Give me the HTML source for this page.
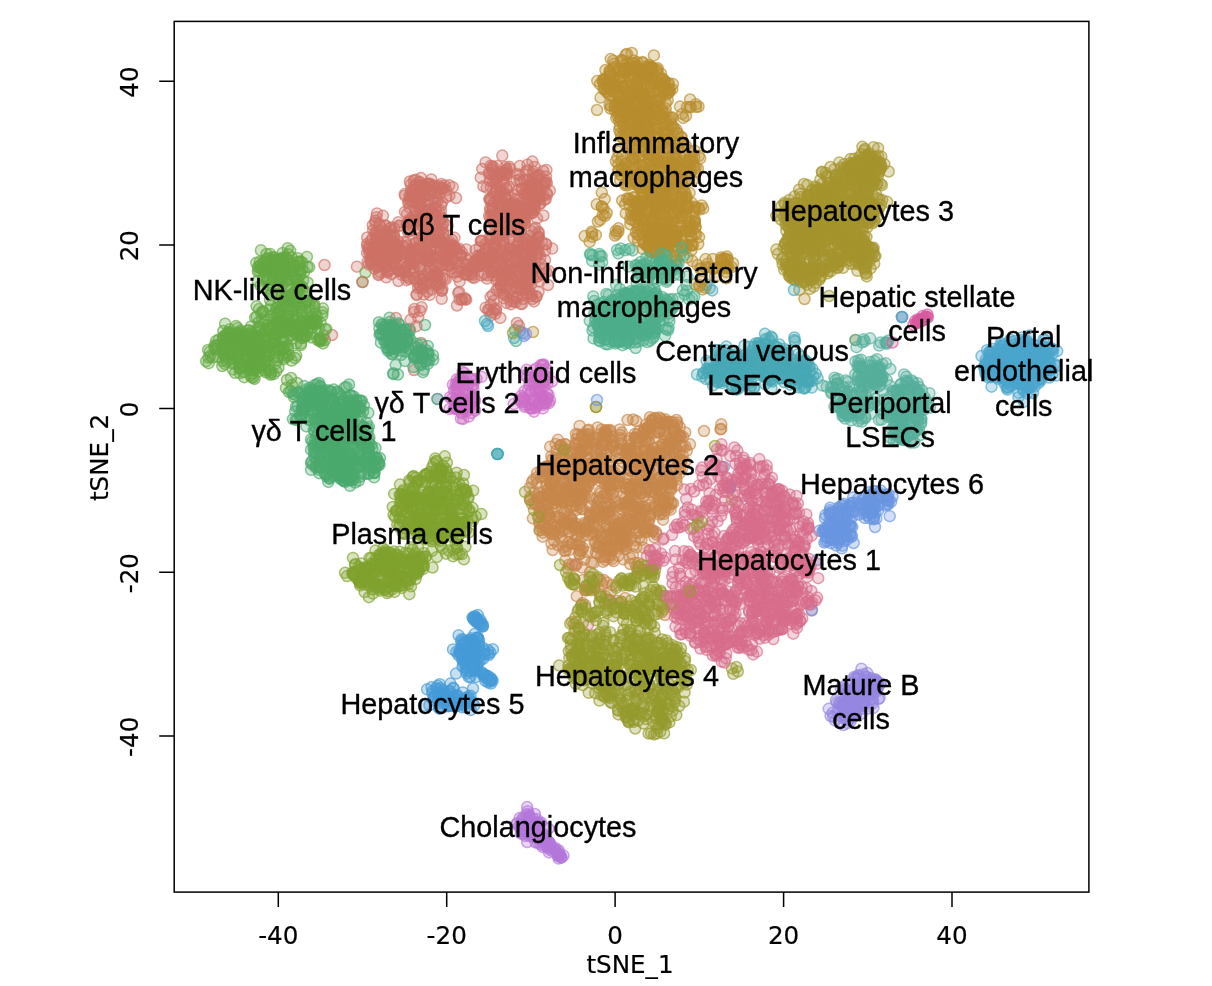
<!DOCTYPE html>
<html lang="en"><head><meta charset="utf-8"><title>tSNE</title>
<style>
html,body{margin:0;padding:0;background:#fff}
svg{display:block}
circle{r:5.5px;stroke-width:1.5px}
.c0{fill:rgba(206,114,102,0.30);stroke:rgba(206,114,102,0.66)}
.c1{fill:rgba(184,141,46,0.30);stroke:rgba(184,141,46,0.66)}
.c2{fill:rgba(166,148,46,0.30);stroke:rgba(166,148,46,0.66)}
.c3{fill:rgba(100,168,65,0.30);stroke:rgba(100,168,65,0.66)}
.c4{fill:rgba(75,170,110,0.30);stroke:rgba(75,170,110,0.66)}
.c5{fill:rgba(75,170,115,0.30);stroke:rgba(75,170,115,0.66)}
.c6{fill:rgba(78,175,140,0.30);stroke:rgba(78,175,140,0.66)}
.c7{fill:rgba(72,168,182,0.30);stroke:rgba(72,168,182,0.66)}
.c8{fill:rgba(85,175,155,0.30);stroke:rgba(85,175,155,0.66)}
.c9{fill:rgba(75,165,205,0.30);stroke:rgba(75,165,205,0.66)}
.c10{fill:rgba(70,155,215,0.30);stroke:rgba(70,155,215,0.66)}
.c11{fill:rgba(105,150,225,0.30);stroke:rgba(105,150,225,0.66)}
.c12{fill:rgba(150,135,225,0.30);stroke:rgba(150,135,225,0.66)}
.c13{fill:rgba(180,120,220,0.30);stroke:rgba(180,120,220,0.66)}
.c14{fill:rgba(205,110,200,0.30);stroke:rgba(205,110,200,0.66)}
.c15{fill:rgba(217,90,160,0.30);stroke:rgba(217,90,160,0.66)}
.c16{fill:rgba(215,110,140,0.30);stroke:rgba(215,110,140,0.66)}
.c17{fill:rgba(200,135,75,0.30);stroke:rgba(200,135,75,0.66)}
.c18{fill:rgba(150,155,45,0.30);stroke:rgba(150,155,45,0.66)}
.c19{fill:rgba(128,163,45,0.30);stroke:rgba(128,163,45,0.66)}
.ax text{font-family:"DejaVu Sans","Liberation Sans",sans-serif;font-size:24.6px;fill:#000;stroke:#000;stroke-width:0.2px}
.lb text{font-family:"Liberation Sans","DejaVu Sans",sans-serif;font-size:28.8px;fill:#000;text-anchor:middle;stroke:#000;stroke-width:0.35px}
</style></head><body>
<svg width="1212" height="986" viewBox="0 0 1212 986">
<rect width="1212" height="986" fill="#fff"/>
<g class="c0">
<circle cx="377.9" cy="265.5" r="5.5"/><circle cx="542.5" cy="274.4" r="5.5"/><circle cx="497.3" cy="174.9" r="5.5"/><circle cx="534.5" cy="202.7" r="5.5"/><circle cx="367.2" cy="237.5" r="5.5"/><circle cx="435.1" cy="214.7" r="5.5"/><circle cx="490.2" cy="238.6" r="5.5"/><circle cx="494.1" cy="308.9" r="5.5"/><circle cx="541.9" cy="241.7" r="5.5"/><circle cx="419.9" cy="240.6" r="5.5"/><circle cx="387.2" cy="242.1" r="5.5"/><circle cx="422.5" cy="186.2" r="5.5"/><circle cx="496.4" cy="246.3" r="5.5"/><circle cx="523.0" cy="299.0" r="5.5"/><circle cx="409.3" cy="222.0" r="5.5"/><circle cx="399.5" cy="225.9" r="5.5"/><circle cx="445.8" cy="259.3" r="5.5"/><circle cx="531.3" cy="283.6" r="5.5"/><circle cx="503.4" cy="246.1" r="5.5"/><circle cx="422.5" cy="288.6" r="5.5"/><circle cx="509.8" cy="168.7" r="5.5"/><circle cx="418.2" cy="317.4" r="5.5"/><circle cx="377.2" cy="250.1" r="5.5"/><circle cx="452.5" cy="259.4" r="5.5"/><circle cx="429.4" cy="227.6" r="5.5"/><circle cx="461.5" cy="299.2" r="5.5"/><circle cx="408.9" cy="271.2" r="5.5"/><circle cx="442.0" cy="187.4" r="5.5"/><circle cx="433.2" cy="198.6" r="5.5"/><circle cx="420.0" cy="209.5" r="5.5"/><circle cx="492.9" cy="275.3" r="5.5"/><circle cx="398.1" cy="270.4" r="5.5"/><circle cx="465.1" cy="299.3" r="5.5"/><circle cx="500.8" cy="285.5" r="5.5"/><circle cx="498.0" cy="228.5" r="5.5"/><circle cx="491.6" cy="272.0" r="5.5"/><circle cx="394.9" cy="244.7" r="5.5"/><circle cx="377.0" cy="261.2" r="5.5"/><circle cx="523.2" cy="258.9" r="5.5"/><circle cx="486.6" cy="266.1" r="5.5"/><circle cx="414.3" cy="186.0" r="5.5"/><circle cx="378.1" cy="256.1" r="5.5"/><circle cx="394.2" cy="228.1" r="5.5"/><circle cx="496.0" cy="310.4" r="5.5"/><circle cx="522.8" cy="240.9" r="5.5"/><circle cx="544.2" cy="199.7" r="5.5"/><circle cx="427.8" cy="261.6" r="5.5"/><circle cx="513.1" cy="217.1" r="5.5"/><circle cx="368.7" cy="248.3" r="5.5"/><circle cx="523.3" cy="264.6" r="5.5"/><circle cx="427.6" cy="280.3" r="5.5"/><circle cx="532.5" cy="247.3" r="5.5"/><circle cx="519.1" cy="284.3" r="5.5"/><circle cx="442.4" cy="288.6" r="5.5"/><circle cx="389.1" cy="259.2" r="5.5"/><circle cx="502.6" cy="240.6" r="5.5"/><circle cx="480.2" cy="257.2" r="5.5"/><circle cx="538.6" cy="232.0" r="5.5"/><circle cx="435.5" cy="267.2" r="5.5"/><circle cx="441.2" cy="241.0" r="5.5"/><circle cx="540.2" cy="257.8" r="5.5"/><circle cx="525.5" cy="288.9" r="5.5"/><circle cx="490.3" cy="217.4" r="5.5"/><circle cx="486.8" cy="263.0" r="5.5"/><circle cx="514.2" cy="204.9" r="5.5"/><circle cx="520.8" cy="182.3" r="5.5"/><circle cx="391.1" cy="235.2" r="5.5"/><circle cx="529.6" cy="213.7" r="5.5"/><circle cx="383.6" cy="252.0" r="5.5"/><circle cx="536.6" cy="176.5" r="5.5"/><circle cx="509.3" cy="265.4" r="5.5"/><circle cx="539.5" cy="281.2" r="5.5"/><circle cx="543.2" cy="195.6" r="5.5"/><circle cx="427.8" cy="184.2" r="5.5"/><circle cx="545.8" cy="244.2" r="5.5"/><circle cx="378.4" cy="240.2" r="5.5"/><circle cx="508.3" cy="208.0" r="5.5"/><circle cx="535.1" cy="268.9" r="5.5"/><circle cx="507.2" cy="254.4" r="5.5"/><circle cx="509.9" cy="249.1" r="5.5"/><circle cx="411.2" cy="249.7" r="5.5"/><circle cx="533.9" cy="244.9" r="5.5"/><circle cx="489.9" cy="236.9" r="5.5"/><circle cx="408.9" cy="221.5" r="5.5"/><circle cx="532.1" cy="213.1" r="5.5"/><circle cx="530.5" cy="184.8" r="5.5"/><circle cx="528.3" cy="192.0" r="5.5"/><circle cx="376.3" cy="255.0" r="5.5"/><circle cx="537.4" cy="193.4" r="5.5"/><circle cx="444.7" cy="185.4" r="5.5"/><circle cx="501.1" cy="285.4" r="5.5"/><circle cx="492.3" cy="219.8" r="5.5"/><circle cx="356.9" cy="266.7" r="5.5"/><circle cx="385.9" cy="241.8" r="5.5"/><circle cx="451.7" cy="251.3" r="5.5"/><circle cx="405.7" cy="275.5" r="5.5"/><circle cx="525.8" cy="203.0" r="5.5"/><circle cx="442.2" cy="228.9" r="5.5"/><circle cx="375.4" cy="241.5" r="5.5"/><circle cx="428.8" cy="239.0" r="5.5"/><circle cx="373.5" cy="248.7" r="5.5"/><circle cx="459.1" cy="291.9" r="5.5"/><circle cx="397.6" cy="241.0" r="5.5"/><circle cx="532.4" cy="299.0" r="5.5"/><circle cx="391.1" cy="244.2" r="5.5"/><circle cx="426.5" cy="223.5" r="5.5"/><circle cx="531.8" cy="188.6" r="5.5"/><circle cx="389.4" cy="241.1" r="5.5"/><circle cx="391.1" cy="227.5" r="5.5"/><circle cx="411.2" cy="190.2" r="5.5"/><circle cx="487.6" cy="257.8" r="5.5"/><circle cx="419.0" cy="249.4" r="5.5"/><circle cx="475.7" cy="249.9" r="5.5"/><circle cx="386.7" cy="253.0" r="5.5"/><circle cx="442.0" cy="290.8" r="5.5"/><circle cx="544.1" cy="182.3" r="5.5"/><circle cx="428.0" cy="195.0" r="5.5"/><circle cx="460.6" cy="255.2" r="5.5"/><circle cx="434.7" cy="276.0" r="5.5"/><circle cx="421.8" cy="224.8" r="5.5"/><circle cx="517.7" cy="230.1" r="5.5"/><circle cx="437.4" cy="255.0" r="5.5"/><circle cx="487.8" cy="275.6" r="5.5"/><circle cx="375.8" cy="266.9" r="5.5"/><circle cx="536.6" cy="188.0" r="5.5"/><circle cx="434.7" cy="273.3" r="5.5"/><circle cx="505.7" cy="295.6" r="5.5"/><circle cx="467.9" cy="260.7" r="5.5"/><circle cx="516.6" cy="180.6" r="5.5"/><circle cx="460.7" cy="254.8" r="5.5"/><circle cx="450.3" cy="242.3" r="5.5"/><circle cx="388.4" cy="269.6" r="5.5"/><circle cx="419.7" cy="182.1" r="5.5"/><circle cx="524.5" cy="221.7" r="5.5"/><circle cx="375.7" cy="259.0" r="5.5"/><circle cx="538.6" cy="276.2" r="5.5"/><circle cx="388.1" cy="257.3" r="5.5"/><circle cx="540.9" cy="264.2" r="5.5"/><circle cx="528.1" cy="179.5" r="5.5"/><circle cx="523.1" cy="215.5" r="5.5"/><circle cx="431.3" cy="179.5" r="5.5"/><circle cx="415.3" cy="243.0" r="5.5"/><circle cx="489.3" cy="199.1" r="5.5"/><circle cx="496.5" cy="280.5" r="5.5"/><circle cx="479.6" cy="247.4" r="5.5"/><circle cx="489.1" cy="172.8" r="5.5"/><circle cx="491.7" cy="257.4" r="5.5"/><circle cx="536.7" cy="195.3" r="5.5"/><circle cx="531.4" cy="181.7" r="5.5"/><circle cx="503.9" cy="272.1" r="5.5"/><circle cx="409.5" cy="207.4" r="5.5"/><circle cx="388.2" cy="250.5" r="5.5"/><circle cx="433.9" cy="185.5" r="5.5"/><circle cx="499.1" cy="271.4" r="5.5"/><circle cx="445.3" cy="256.9" r="5.5"/><circle cx="382.0" cy="257.8" r="5.5"/><circle cx="442.8" cy="232.2" r="5.5"/><circle cx="531.0" cy="251.1" r="5.5"/><circle cx="419.8" cy="208.6" r="5.5"/><circle cx="452.9" cy="259.1" r="5.5"/><circle cx="374.0" cy="247.1" r="5.5"/><circle cx="517.6" cy="287.7" r="5.5"/><circle cx="421.6" cy="219.8" r="5.5"/><circle cx="536.5" cy="257.0" r="5.5"/><circle cx="422.0" cy="185.3" r="5.5"/><circle cx="449.4" cy="195.6" r="5.5"/><circle cx="497.3" cy="165.9" r="5.5"/><circle cx="488.1" cy="261.7" r="5.5"/><circle cx="547.1" cy="194.7" r="5.5"/><circle cx="445.7" cy="279.4" r="5.5"/><circle cx="507.9" cy="279.9" r="5.5"/><circle cx="441.9" cy="243.6" r="5.5"/><circle cx="445.9" cy="244.9" r="5.5"/><circle cx="504.1" cy="276.1" r="5.5"/><circle cx="425.2" cy="233.9" r="5.5"/><circle cx="462.5" cy="262.5" r="5.5"/><circle cx="520.9" cy="250.9" r="5.5"/><circle cx="511.4" cy="219.4" r="5.5"/><circle cx="518.6" cy="243.4" r="5.5"/><circle cx="503.5" cy="251.0" r="5.5"/><circle cx="487.9" cy="310.1" r="5.5"/><circle cx="427.4" cy="291.6" r="5.5"/><circle cx="441.7" cy="242.4" r="5.5"/><circle cx="392.7" cy="251.4" r="5.5"/><circle cx="385.8" cy="240.7" r="5.5"/><circle cx="423.5" cy="186.4" r="5.5"/><circle cx="379.3" cy="224.0" r="5.5"/><circle cx="426.6" cy="251.8" r="5.5"/><circle cx="509.6" cy="276.5" r="5.5"/><circle cx="508.6" cy="226.0" r="5.5"/><circle cx="417.7" cy="219.5" r="5.5"/><circle cx="492.3" cy="205.8" r="5.5"/><circle cx="490.5" cy="227.8" r="5.5"/><circle cx="520.6" cy="222.0" r="5.5"/><circle cx="519.4" cy="271.5" r="5.5"/><circle cx="516.5" cy="268.7" r="5.5"/><circle cx="526.0" cy="289.2" r="5.5"/><circle cx="479.3" cy="266.5" r="5.5"/><circle cx="429.0" cy="255.4" r="5.5"/><circle cx="439.6" cy="240.8" r="5.5"/><circle cx="483.6" cy="263.6" r="5.5"/><circle cx="464.7" cy="298.0" r="5.5"/><circle cx="378.2" cy="240.3" r="5.5"/><circle cx="504.0" cy="243.2" r="5.5"/><circle cx="406.6" cy="224.5" r="5.5"/><circle cx="386.3" cy="261.8" r="5.5"/><circle cx="429.9" cy="234.3" r="5.5"/><circle cx="501.3" cy="201.1" r="5.5"/><circle cx="376.5" cy="254.5" r="5.5"/><circle cx="439.0" cy="234.0" r="5.5"/><circle cx="406.3" cy="254.3" r="5.5"/><circle cx="387.6" cy="253.7" r="5.5"/><circle cx="506.1" cy="276.1" r="5.5"/><circle cx="436.1" cy="274.0" r="5.5"/><circle cx="529.6" cy="235.9" r="5.5"/><circle cx="430.5" cy="238.9" r="5.5"/><circle cx="506.4" cy="175.0" r="5.5"/><circle cx="513.3" cy="280.7" r="5.5"/><circle cx="381.8" cy="257.7" r="5.5"/><circle cx="423.5" cy="234.7" r="5.5"/><circle cx="398.1" cy="246.4" r="5.5"/><circle cx="441.0" cy="205.3" r="5.5"/><circle cx="413.7" cy="278.3" r="5.5"/><circle cx="524.7" cy="214.3" r="5.5"/><circle cx="452.4" cy="272.3" r="5.5"/><circle cx="525.7" cy="210.8" r="5.5"/><circle cx="531.9" cy="294.7" r="5.5"/><circle cx="406.8" cy="266.7" r="5.5"/><circle cx="393.8" cy="235.7" r="5.5"/><circle cx="483.7" cy="257.8" r="5.5"/><circle cx="434.3" cy="270.5" r="5.5"/><circle cx="498.7" cy="288.3" r="5.5"/><circle cx="459.7" cy="281.3" r="5.5"/><circle cx="416.6" cy="185.2" r="5.5"/><circle cx="383.0" cy="257.0" r="5.5"/><circle cx="474.6" cy="260.9" r="5.5"/><circle cx="429.4" cy="243.5" r="5.5"/><circle cx="510.5" cy="300.8" r="5.5"/><circle cx="402.9" cy="246.1" r="5.5"/><circle cx="423.3" cy="216.6" r="5.5"/><circle cx="410.3" cy="196.5" r="5.5"/><circle cx="414.9" cy="259.1" r="5.5"/><circle cx="521.9" cy="215.7" r="5.5"/><circle cx="414.0" cy="370.0" r="5.5"/><circle cx="525.5" cy="239.3" r="5.5"/><circle cx="465.8" cy="258.0" r="5.5"/><circle cx="497.6" cy="203.9" r="5.5"/><circle cx="456.0" cy="198.0" r="5.5"/><circle cx="392.2" cy="242.0" r="5.5"/><circle cx="519.5" cy="175.0" r="5.5"/><circle cx="369.5" cy="253.2" r="5.5"/><circle cx="509.3" cy="204.8" r="5.5"/><circle cx="442.2" cy="202.2" r="5.5"/><circle cx="437.3" cy="217.0" r="5.5"/><circle cx="485.6" cy="307.7" r="5.5"/><circle cx="437.7" cy="233.7" r="5.5"/><circle cx="527.8" cy="192.7" r="5.5"/><circle cx="506.7" cy="215.8" r="5.5"/><circle cx="502.9" cy="179.9" r="5.5"/><circle cx="386.8" cy="259.4" r="5.5"/><circle cx="506.5" cy="187.7" r="5.5"/><circle cx="502.7" cy="260.2" r="5.5"/><circle cx="546.8" cy="183.1" r="5.5"/><circle cx="435.6" cy="283.4" r="5.5"/><circle cx="503.5" cy="223.2" r="5.5"/><circle cx="523.7" cy="243.3" r="5.5"/><circle cx="393.2" cy="242.9" r="5.5"/><circle cx="503.5" cy="202.3" r="5.5"/><circle cx="526.2" cy="261.8" r="5.5"/><circle cx="516.2" cy="288.0" r="5.5"/><circle cx="490.1" cy="208.4" r="5.5"/><circle cx="543.4" cy="186.8" r="5.5"/><circle cx="388.6" cy="240.4" r="5.5"/><circle cx="389.6" cy="253.8" r="5.5"/><circle cx="415.3" cy="248.3" r="5.5"/><circle cx="427.9" cy="228.3" r="5.5"/><circle cx="492.7" cy="209.9" r="5.5"/><circle cx="397.2" cy="256.9" r="5.5"/><circle cx="507.4" cy="272.2" r="5.5"/><circle cx="437.6" cy="233.8" r="5.5"/><circle cx="503.9" cy="294.1" r="5.5"/><circle cx="424.7" cy="211.6" r="5.5"/><circle cx="512.2" cy="280.5" r="5.5"/><circle cx="419.6" cy="284.9" r="5.5"/><circle cx="504.5" cy="256.4" r="5.5"/><circle cx="419.2" cy="251.0" r="5.5"/><circle cx="491.6" cy="235.4" r="5.5"/><circle cx="412.5" cy="195.1" r="5.5"/><circle cx="459.5" cy="299.5" r="5.5"/><circle cx="396.0" cy="259.0" r="5.5"/><circle cx="426.6" cy="240.5" r="5.5"/><circle cx="416.8" cy="295.1" r="5.5"/><circle cx="507.3" cy="209.7" r="5.5"/><circle cx="407.4" cy="265.4" r="5.5"/><circle cx="437.1" cy="285.2" r="5.5"/><circle cx="430.7" cy="251.9" r="5.5"/><circle cx="489.2" cy="309.8" r="5.5"/><circle cx="435.1" cy="203.3" r="5.5"/><circle cx="536.5" cy="296.3" r="5.5"/><circle cx="516.3" cy="297.0" r="5.5"/><circle cx="375.3" cy="252.7" r="5.5"/><circle cx="419.9" cy="268.6" r="5.5"/><circle cx="324.5" cy="265.0" r="5.5"/><circle cx="496.7" cy="290.0" r="5.5"/><circle cx="495.2" cy="243.0" r="5.5"/><circle cx="418.8" cy="238.8" r="5.5"/><circle cx="468.5" cy="270.5" r="5.5"/><circle cx="421.0" cy="279.5" r="5.5"/><circle cx="414.1" cy="267.3" r="5.5"/><circle cx="404.0" cy="269.8" r="5.5"/><circle cx="494.0" cy="300.7" r="5.5"/><circle cx="500.1" cy="187.2" r="5.5"/><circle cx="546.6" cy="193.0" r="5.5"/><circle cx="527.0" cy="207.8" r="5.5"/><circle cx="510.3" cy="247.3" r="5.5"/><circle cx="522.5" cy="253.5" r="5.5"/><circle cx="490.8" cy="210.1" r="5.5"/><circle cx="535.4" cy="227.7" r="5.5"/><circle cx="420.9" cy="197.8" r="5.5"/><circle cx="536.3" cy="296.8" r="5.5"/><circle cx="375.5" cy="220.7" r="5.5"/><circle cx="512.7" cy="269.5" r="5.5"/><circle cx="489.3" cy="248.9" r="5.5"/><circle cx="391.0" cy="262.6" r="5.5"/><circle cx="368.9" cy="246.9" r="5.5"/><circle cx="433.0" cy="254.8" r="5.5"/><circle cx="496.0" cy="187.3" r="5.5"/><circle cx="409.7" cy="199.8" r="5.5"/><circle cx="486.8" cy="263.6" r="5.5"/><circle cx="443.0" cy="265.3" r="5.5"/><circle cx="512.5" cy="214.7" r="5.5"/><circle cx="382.1" cy="241.7" r="5.5"/><circle cx="525.9" cy="245.3" r="5.5"/><circle cx="459.8" cy="268.4" r="5.5"/><circle cx="474.4" cy="266.3" r="5.5"/><circle cx="527.2" cy="186.1" r="5.5"/><circle cx="517.2" cy="219.8" r="5.5"/><circle cx="415.9" cy="211.2" r="5.5"/><circle cx="428.4" cy="183.4" r="5.5"/><circle cx="490.6" cy="165.8" r="5.5"/><circle cx="426.8" cy="237.6" r="5.5"/><circle cx="372.8" cy="225.2" r="5.5"/><circle cx="504.0" cy="182.8" r="5.5"/><circle cx="431.9" cy="212.0" r="5.5"/><circle cx="522.1" cy="188.7" r="5.5"/><circle cx="428.0" cy="257.1" r="5.5"/><circle cx="510.2" cy="270.9" r="5.5"/><circle cx="534.0" cy="194.7" r="5.5"/><circle cx="529.1" cy="247.2" r="5.5"/><circle cx="421.1" cy="221.6" r="5.5"/><circle cx="378.5" cy="275.2" r="5.5"/><circle cx="421.6" cy="307.2" r="5.5"/><circle cx="472.8" cy="270.9" r="5.5"/><circle cx="504.0" cy="212.3" r="5.5"/><circle cx="521.6" cy="203.1" r="5.5"/>
</g>
<g class="c1">
<circle cx="653.9" cy="235.9" r="5.5"/><circle cx="623.7" cy="100.6" r="5.5"/><circle cx="648.4" cy="73.2" r="5.5"/><circle cx="615.9" cy="103.6" r="5.5"/><circle cx="619.4" cy="109.6" r="5.5"/><circle cx="693.4" cy="214.6" r="5.5"/><circle cx="656.8" cy="129.1" r="5.5"/><circle cx="688.4" cy="207.5" r="5.5"/><circle cx="657.0" cy="148.2" r="5.5"/><circle cx="620.6" cy="133.0" r="5.5"/><circle cx="658.7" cy="193.0" r="5.5"/><circle cx="618.3" cy="164.3" r="5.5"/><circle cx="617.4" cy="110.7" r="5.5"/><circle cx="617.4" cy="157.8" r="5.5"/><circle cx="626.3" cy="103.6" r="5.5"/><circle cx="663.3" cy="113.6" r="5.5"/><circle cx="665.8" cy="108.6" r="5.5"/><circle cx="671.2" cy="117.6" r="5.5"/><circle cx="661.9" cy="110.6" r="5.5"/><circle cx="597.3" cy="80.9" r="5.5"/><circle cx="649.3" cy="239.9" r="5.5"/><circle cx="627.4" cy="175.6" r="5.5"/><circle cx="681.6" cy="218.1" r="5.5"/><circle cx="685.3" cy="192.8" r="5.5"/><circle cx="643.5" cy="73.5" r="5.5"/><circle cx="661.5" cy="145.5" r="5.5"/><circle cx="672.5" cy="117.4" r="5.5"/><circle cx="639.0" cy="114.0" r="5.5"/><circle cx="640.9" cy="126.3" r="5.5"/><circle cx="657.4" cy="142.9" r="5.5"/><circle cx="601.7" cy="206.6" r="5.5"/><circle cx="632.4" cy="89.3" r="5.5"/><circle cx="624.1" cy="117.5" r="5.5"/><circle cx="670.3" cy="204.9" r="5.5"/><circle cx="644.0" cy="109.8" r="5.5"/><circle cx="721.2" cy="257.5" r="5.5"/><circle cx="623.7" cy="131.7" r="5.5"/><circle cx="647.2" cy="203.9" r="5.5"/><circle cx="647.8" cy="153.8" r="5.5"/><circle cx="699.1" cy="237.1" r="5.5"/><circle cx="677.2" cy="235.7" r="5.5"/><circle cx="623.3" cy="75.4" r="5.5"/><circle cx="648.3" cy="70.6" r="5.5"/><circle cx="673.4" cy="142.3" r="5.5"/><circle cx="668.0" cy="166.0" r="5.5"/><circle cx="651.8" cy="114.4" r="5.5"/><circle cx="622.4" cy="102.8" r="5.5"/><circle cx="690.8" cy="235.9" r="5.5"/><circle cx="666.4" cy="227.8" r="5.5"/><circle cx="643.7" cy="134.9" r="5.5"/><circle cx="650.9" cy="86.1" r="5.5"/><circle cx="698.5" cy="106.5" r="5.5"/><circle cx="642.6" cy="63.1" r="5.5"/><circle cx="644.0" cy="170.5" r="5.5"/><circle cx="715.6" cy="267.8" r="5.5"/><circle cx="636.1" cy="203.4" r="5.5"/><circle cx="664.8" cy="88.8" r="5.5"/><circle cx="669.8" cy="89.1" r="5.5"/><circle cx="656.2" cy="210.7" r="5.5"/><circle cx="661.9" cy="141.9" r="5.5"/><circle cx="676.4" cy="129.6" r="5.5"/><circle cx="687.3" cy="257.5" r="5.5"/><circle cx="721.3" cy="259.4" r="5.5"/><circle cx="648.6" cy="198.7" r="5.5"/><circle cx="644.6" cy="182.9" r="5.5"/><circle cx="722.0" cy="267.6" r="5.5"/><circle cx="654.1" cy="91.6" r="5.5"/><circle cx="662.1" cy="198.2" r="5.5"/><circle cx="681.0" cy="206.1" r="5.5"/><circle cx="694.8" cy="223.2" r="5.5"/><circle cx="639.7" cy="164.9" r="5.5"/><circle cx="676.5" cy="236.3" r="5.5"/><circle cx="668.8" cy="245.5" r="5.5"/><circle cx="684.0" cy="191.7" r="5.5"/><circle cx="639.0" cy="235.1" r="5.5"/><circle cx="681.3" cy="216.0" r="5.5"/><circle cx="681.5" cy="137.0" r="5.5"/><circle cx="662.8" cy="209.0" r="5.5"/><circle cx="642.3" cy="145.4" r="5.5"/><circle cx="643.5" cy="227.4" r="5.5"/><circle cx="654.3" cy="218.8" r="5.5"/><circle cx="633.7" cy="196.9" r="5.5"/><circle cx="727.6" cy="259.4" r="5.5"/><circle cx="725.6" cy="265.9" r="5.5"/><circle cx="620.9" cy="82.4" r="5.5"/><circle cx="646.3" cy="164.3" r="5.5"/><circle cx="649.0" cy="104.1" r="5.5"/><circle cx="647.0" cy="141.3" r="5.5"/><circle cx="670.9" cy="138.8" r="5.5"/><circle cx="613.0" cy="97.7" r="5.5"/><circle cx="621.4" cy="60.2" r="5.5"/><circle cx="628.0" cy="114.2" r="5.5"/><circle cx="634.1" cy="114.2" r="5.5"/><circle cx="674.9" cy="152.2" r="5.5"/><circle cx="664.6" cy="197.5" r="5.5"/><circle cx="645.7" cy="230.7" r="5.5"/><circle cx="669.8" cy="202.3" r="5.5"/><circle cx="623.5" cy="167.5" r="5.5"/><circle cx="680.4" cy="141.5" r="5.5"/><circle cx="628.5" cy="113.7" r="5.5"/><circle cx="679.1" cy="217.8" r="5.5"/><circle cx="669.8" cy="240.0" r="5.5"/><circle cx="600.0" cy="84.2" r="5.5"/><circle cx="672.2" cy="242.1" r="5.5"/><circle cx="637.3" cy="62.3" r="5.5"/><circle cx="628.8" cy="106.7" r="5.5"/><circle cx="692.8" cy="161.9" r="5.5"/><circle cx="607.5" cy="85.9" r="5.5"/><circle cx="630.4" cy="154.3" r="5.5"/><circle cx="650.6" cy="170.8" r="5.5"/><circle cx="533.0" cy="332.0" r="5.5"/><circle cx="675.7" cy="240.7" r="5.5"/><circle cx="668.0" cy="84.1" r="5.5"/><circle cx="721.5" cy="266.7" r="5.5"/><circle cx="855.5" cy="340.0" r="5.5"/><circle cx="672.2" cy="202.1" r="5.5"/><circle cx="663.5" cy="132.6" r="5.5"/><circle cx="695.9" cy="104.3" r="5.5"/><circle cx="679.4" cy="148.8" r="5.5"/><circle cx="701.6" cy="205.4" r="5.5"/><circle cx="657.8" cy="68.3" r="5.5"/><circle cx="655.1" cy="80.2" r="5.5"/><circle cx="664.1" cy="181.0" r="5.5"/><circle cx="681.5" cy="193.6" r="5.5"/><circle cx="651.2" cy="66.8" r="5.5"/><circle cx="677.8" cy="133.5" r="5.5"/><circle cx="637.5" cy="114.7" r="5.5"/><circle cx="635.9" cy="104.5" r="5.5"/><circle cx="671.9" cy="162.4" r="5.5"/><circle cx="642.6" cy="217.5" r="5.5"/><circle cx="636.3" cy="203.6" r="5.5"/><circle cx="635.2" cy="127.6" r="5.5"/><circle cx="644.1" cy="168.7" r="5.5"/><circle cx="637.8" cy="212.2" r="5.5"/><circle cx="654.8" cy="138.9" r="5.5"/><circle cx="632.3" cy="128.4" r="5.5"/><circle cx="624.3" cy="69.9" r="5.5"/><circle cx="656.5" cy="207.6" r="5.5"/><circle cx="665.4" cy="189.0" r="5.5"/><circle cx="665.2" cy="81.6" r="5.5"/><circle cx="673.2" cy="236.1" r="5.5"/><circle cx="642.3" cy="150.8" r="5.5"/><circle cx="722.4" cy="259.3" r="5.5"/><circle cx="651.4" cy="78.8" r="5.5"/><circle cx="632.5" cy="157.2" r="5.5"/><circle cx="651.2" cy="87.0" r="5.5"/><circle cx="680.9" cy="202.9" r="5.5"/><circle cx="625.1" cy="204.2" r="5.5"/><circle cx="641.0" cy="131.6" r="5.5"/><circle cx="659.1" cy="231.5" r="5.5"/><circle cx="630.3" cy="224.3" r="5.5"/><circle cx="620.5" cy="174.6" r="5.5"/><circle cx="694.3" cy="206.7" r="5.5"/><circle cx="700.3" cy="269.0" r="5.5"/><circle cx="658.5" cy="160.6" r="5.5"/><circle cx="627.3" cy="135.7" r="5.5"/><circle cx="659.3" cy="224.8" r="5.5"/><circle cx="614.3" cy="86.7" r="5.5"/><circle cx="650.2" cy="71.5" r="5.5"/><circle cx="640.5" cy="201.4" r="5.5"/><circle cx="654.2" cy="156.2" r="5.5"/><circle cx="635.3" cy="107.0" r="5.5"/><circle cx="603.8" cy="78.8" r="5.5"/><circle cx="637.6" cy="89.6" r="5.5"/><circle cx="662.4" cy="87.0" r="5.5"/><circle cx="650.0" cy="237.3" r="5.5"/><circle cx="625.6" cy="54.8" r="5.5"/><circle cx="596.0" cy="407.0" r="5.5"/><circle cx="653.6" cy="248.0" r="5.5"/><circle cx="629.5" cy="105.2" r="5.5"/><circle cx="707.7" cy="263.7" r="5.5"/><circle cx="673.5" cy="156.3" r="5.5"/><circle cx="613.9" cy="84.9" r="5.5"/><circle cx="643.1" cy="241.7" r="5.5"/><circle cx="694.3" cy="157.5" r="5.5"/><circle cx="646.5" cy="201.8" r="5.5"/><circle cx="652.0" cy="106.4" r="5.5"/><circle cx="657.5" cy="181.1" r="5.5"/><circle cx="647.8" cy="112.5" r="5.5"/><circle cx="651.0" cy="167.9" r="5.5"/><circle cx="650.9" cy="222.8" r="5.5"/><circle cx="667.1" cy="242.3" r="5.5"/><circle cx="613.2" cy="60.7" r="5.5"/><circle cx="649.6" cy="218.5" r="5.5"/><circle cx="630.1" cy="124.6" r="5.5"/><circle cx="642.1" cy="220.8" r="5.5"/><circle cx="681.6" cy="183.4" r="5.5"/><circle cx="695.0" cy="233.4" r="5.5"/><circle cx="653.8" cy="83.4" r="5.5"/><circle cx="625.3" cy="122.9" r="5.5"/><circle cx="635.4" cy="140.7" r="5.5"/><circle cx="654.2" cy="203.1" r="5.5"/><circle cx="656.9" cy="205.6" r="5.5"/><circle cx="620.2" cy="180.2" r="5.5"/><circle cx="623.3" cy="125.1" r="5.5"/><circle cx="657.7" cy="133.1" r="5.5"/><circle cx="655.0" cy="213.3" r="5.5"/><circle cx="669.4" cy="120.8" r="5.5"/><circle cx="657.5" cy="203.5" r="5.5"/><circle cx="645.9" cy="107.3" r="5.5"/><circle cx="656.0" cy="206.7" r="5.5"/><circle cx="672.0" cy="229.6" r="5.5"/><circle cx="637.8" cy="126.9" r="5.5"/><circle cx="639.2" cy="187.6" r="5.5"/><circle cx="646.5" cy="148.1" r="5.5"/><circle cx="666.3" cy="164.2" r="5.5"/><circle cx="642.0" cy="75.4" r="5.5"/><circle cx="637.3" cy="140.4" r="5.5"/><circle cx="685.9" cy="216.2" r="5.5"/><circle cx="651.7" cy="79.3" r="5.5"/><circle cx="605.0" cy="215.8" r="5.5"/><circle cx="725.9" cy="268.0" r="5.5"/><circle cx="618.2" cy="171.0" r="5.5"/><circle cx="650.2" cy="160.7" r="5.5"/><circle cx="649.8" cy="186.9" r="5.5"/><circle cx="660.8" cy="79.3" r="5.5"/><circle cx="636.7" cy="154.4" r="5.5"/><circle cx="673.8" cy="163.6" r="5.5"/><circle cx="625.6" cy="85.9" r="5.5"/><circle cx="678.6" cy="213.4" r="5.5"/><circle cx="641.9" cy="196.3" r="5.5"/><circle cx="696.1" cy="107.1" r="5.5"/><circle cx="644.4" cy="150.2" r="5.5"/><circle cx="668.1" cy="125.5" r="5.5"/><circle cx="655.9" cy="223.6" r="5.5"/><circle cx="645.1" cy="243.5" r="5.5"/><circle cx="629.1" cy="76.0" r="5.5"/><circle cx="664.0" cy="132.3" r="5.5"/><circle cx="661.6" cy="204.8" r="5.5"/><circle cx="639.4" cy="201.3" r="5.5"/><circle cx="634.5" cy="177.6" r="5.5"/><circle cx="634.3" cy="157.9" r="5.5"/><circle cx="670.5" cy="180.6" r="5.5"/><circle cx="666.0" cy="244.6" r="5.5"/><circle cx="605.5" cy="70.0" r="5.5"/><circle cx="617.3" cy="107.6" r="5.5"/><circle cx="667.8" cy="237.3" r="5.5"/><circle cx="644.1" cy="243.5" r="5.5"/><circle cx="666.3" cy="121.3" r="5.5"/><circle cx="642.0" cy="71.4" r="5.5"/><circle cx="649.5" cy="211.3" r="5.5"/><circle cx="690.9" cy="224.6" r="5.5"/><circle cx="638.9" cy="87.8" r="5.5"/><circle cx="640.5" cy="72.5" r="5.5"/><circle cx="665.4" cy="112.7" r="5.5"/><circle cx="647.4" cy="226.5" r="5.5"/><circle cx="610.8" cy="58.9" r="5.5"/><circle cx="647.5" cy="132.2" r="5.5"/><circle cx="648.5" cy="153.5" r="5.5"/><circle cx="654.4" cy="183.6" r="5.5"/><circle cx="633.1" cy="101.7" r="5.5"/><circle cx="685.9" cy="248.3" r="5.5"/><circle cx="668.4" cy="92.5" r="5.5"/><circle cx="676.3" cy="158.3" r="5.5"/><circle cx="648.4" cy="114.2" r="5.5"/><circle cx="629.2" cy="121.5" r="5.5"/><circle cx="685.8" cy="212.3" r="5.5"/><circle cx="634.2" cy="129.8" r="5.5"/><circle cx="657.5" cy="94.5" r="5.5"/><circle cx="686.2" cy="231.8" r="5.5"/><circle cx="648.6" cy="239.6" r="5.5"/><circle cx="639.5" cy="142.7" r="5.5"/><circle cx="674.1" cy="213.1" r="5.5"/><circle cx="633.3" cy="96.9" r="5.5"/><circle cx="665.5" cy="241.8" r="5.5"/><circle cx="676.8" cy="179.8" r="5.5"/><circle cx="642.7" cy="93.7" r="5.5"/><circle cx="639.8" cy="93.7" r="5.5"/><circle cx="643.9" cy="134.1" r="5.5"/><circle cx="642.1" cy="201.6" r="5.5"/><circle cx="681.9" cy="211.3" r="5.5"/><circle cx="626.0" cy="172.2" r="5.5"/><circle cx="584.7" cy="236.1" r="5.5"/><circle cx="643.5" cy="107.2" r="5.5"/><circle cx="655.8" cy="109.7" r="5.5"/><circle cx="654.6" cy="145.2" r="5.5"/><circle cx="636.3" cy="95.3" r="5.5"/><circle cx="662.6" cy="193.8" r="5.5"/><circle cx="694.8" cy="172.0" r="5.5"/><circle cx="688.1" cy="160.6" r="5.5"/><circle cx="632.9" cy="159.3" r="5.5"/><circle cx="619.8" cy="126.7" r="5.5"/><circle cx="692.4" cy="180.6" r="5.5"/><circle cx="658.2" cy="237.6" r="5.5"/><circle cx="592.2" cy="233.3" r="5.5"/><circle cx="649.8" cy="132.6" r="5.5"/><circle cx="672.2" cy="246.3" r="5.5"/><circle cx="661.3" cy="244.6" r="5.5"/><circle cx="672.2" cy="89.2" r="5.5"/><circle cx="677.5" cy="182.5" r="5.5"/><circle cx="645.4" cy="177.2" r="5.5"/><circle cx="613.3" cy="78.7" r="5.5"/><circle cx="625.5" cy="134.1" r="5.5"/><circle cx="653.6" cy="69.1" r="5.5"/><circle cx="647.4" cy="229.0" r="5.5"/><circle cx="674.2" cy="231.2" r="5.5"/><circle cx="648.7" cy="67.1" r="5.5"/><circle cx="671.5" cy="203.9" r="5.5"/><circle cx="675.3" cy="163.3" r="5.5"/><circle cx="646.6" cy="98.1" r="5.5"/><circle cx="660.5" cy="214.5" r="5.5"/><circle cx="642.9" cy="119.0" r="5.5"/><circle cx="614.1" cy="63.7" r="5.5"/><circle cx="663.7" cy="176.3" r="5.5"/><circle cx="630.7" cy="101.0" r="5.5"/><circle cx="659.2" cy="83.1" r="5.5"/><circle cx="703.2" cy="208.4" r="5.5"/><circle cx="683.7" cy="170.4" r="5.5"/><circle cx="677.4" cy="166.8" r="5.5"/><circle cx="726.8" cy="267.0" r="5.5"/><circle cx="667.1" cy="129.8" r="5.5"/><circle cx="611.0" cy="105.8" r="5.5"/><circle cx="639.0" cy="156.6" r="5.5"/><circle cx="644.9" cy="115.6" r="5.5"/><circle cx="622.4" cy="110.8" r="5.5"/><circle cx="647.8" cy="246.7" r="5.5"/><circle cx="620.6" cy="87.0" r="5.5"/><circle cx="656.6" cy="224.0" r="5.5"/><circle cx="659.8" cy="186.0" r="5.5"/><circle cx="694.1" cy="166.1" r="5.5"/><circle cx="694.9" cy="219.7" r="5.5"/><circle cx="635.5" cy="208.7" r="5.5"/><circle cx="646.3" cy="66.7" r="5.5"/><circle cx="638.0" cy="202.0" r="5.5"/><circle cx="632.0" cy="215.4" r="5.5"/><circle cx="647.2" cy="97.1" r="5.5"/><circle cx="606.5" cy="91.8" r="5.5"/><circle cx="615.9" cy="161.3" r="5.5"/><circle cx="626.2" cy="163.4" r="5.5"/><circle cx="623.6" cy="138.3" r="5.5"/><circle cx="628.1" cy="172.4" r="5.5"/><circle cx="667.8" cy="149.0" r="5.5"/><circle cx="698.8" cy="156.0" r="5.5"/><circle cx="618.9" cy="103.1" r="5.5"/><circle cx="668.2" cy="187.0" r="5.5"/><circle cx="621.1" cy="106.7" r="5.5"/><circle cx="698.4" cy="207.9" r="5.5"/><circle cx="652.4" cy="231.7" r="5.5"/><circle cx="634.8" cy="159.6" r="5.5"/><circle cx="647.5" cy="79.5" r="5.5"/><circle cx="643.3" cy="198.2" r="5.5"/><circle cx="603.2" cy="80.9" r="5.5"/><circle cx="647.9" cy="144.8" r="5.5"/><circle cx="664.0" cy="199.2" r="5.5"/><circle cx="658.2" cy="201.9" r="5.5"/><circle cx="672.9" cy="230.5" r="5.5"/><circle cx="641.9" cy="138.8" r="5.5"/><circle cx="618.5" cy="68.7" r="5.5"/><circle cx="646.5" cy="117.5" r="5.5"/><circle cx="627.8" cy="101.6" r="5.5"/><circle cx="673.0" cy="147.8" r="5.5"/><circle cx="659.4" cy="91.7" r="5.5"/><circle cx="636.2" cy="183.9" r="5.5"/><circle cx="674.5" cy="236.2" r="5.5"/><circle cx="658.4" cy="115.6" r="5.5"/><circle cx="603.8" cy="83.2" r="5.5"/><circle cx="643.9" cy="192.8" r="5.5"/><circle cx="705.5" cy="287.6" r="5.5"/><circle cx="681.3" cy="181.7" r="5.5"/><circle cx="627.1" cy="108.1" r="5.5"/><circle cx="639.0" cy="176.1" r="5.5"/><circle cx="654.6" cy="179.9" r="5.5"/><circle cx="677.2" cy="179.8" r="5.5"/><circle cx="659.3" cy="113.9" r="5.5"/><circle cx="628.8" cy="198.6" r="5.5"/><circle cx="664.5" cy="85.2" r="5.5"/><circle cx="625.1" cy="113.5" r="5.5"/><circle cx="663.3" cy="185.6" r="5.5"/>
</g>
<g class="c2">
<circle cx="827.2" cy="199.6" r="5.5"/><circle cx="834.3" cy="222.8" r="5.5"/><circle cx="861.5" cy="222.8" r="5.5"/><circle cx="788.7" cy="275.1" r="5.5"/><circle cx="825.6" cy="206.0" r="5.5"/><circle cx="837.1" cy="262.3" r="5.5"/><circle cx="825.3" cy="235.1" r="5.5"/><circle cx="840.0" cy="260.5" r="5.5"/><circle cx="816.3" cy="191.0" r="5.5"/><circle cx="792.2" cy="258.3" r="5.5"/><circle cx="785.7" cy="220.4" r="5.5"/><circle cx="879.0" cy="172.2" r="5.5"/><circle cx="836.9" cy="205.5" r="5.5"/><circle cx="813.3" cy="234.8" r="5.5"/><circle cx="866.0" cy="155.8" r="5.5"/><circle cx="810.0" cy="226.0" r="5.5"/><circle cx="852.6" cy="163.4" r="5.5"/><circle cx="842.7" cy="254.5" r="5.5"/><circle cx="816.5" cy="187.4" r="5.5"/><circle cx="816.2" cy="240.7" r="5.5"/><circle cx="823.6" cy="241.4" r="5.5"/><circle cx="816.3" cy="200.4" r="5.5"/><circle cx="863.8" cy="256.1" r="5.5"/><circle cx="857.4" cy="270.8" r="5.5"/><circle cx="868.5" cy="158.9" r="5.5"/><circle cx="850.4" cy="193.5" r="5.5"/><circle cx="812.6" cy="198.2" r="5.5"/><circle cx="841.9" cy="258.0" r="5.5"/><circle cx="861.3" cy="154.2" r="5.5"/><circle cx="867.4" cy="193.0" r="5.5"/><circle cx="871.5" cy="248.6" r="5.5"/><circle cx="804.3" cy="227.9" r="5.5"/><circle cx="817.5" cy="237.8" r="5.5"/><circle cx="807.6" cy="195.1" r="5.5"/><circle cx="858.3" cy="223.5" r="5.5"/><circle cx="828.2" cy="271.1" r="5.5"/><circle cx="835.6" cy="178.5" r="5.5"/><circle cx="858.4" cy="201.4" r="5.5"/><circle cx="848.9" cy="244.2" r="5.5"/><circle cx="812.1" cy="222.2" r="5.5"/><circle cx="820.6" cy="214.9" r="5.5"/><circle cx="806.6" cy="220.6" r="5.5"/><circle cx="825.0" cy="226.5" r="5.5"/><circle cx="833.1" cy="212.7" r="5.5"/><circle cx="833.4" cy="195.2" r="5.5"/><circle cx="864.9" cy="203.6" r="5.5"/><circle cx="851.7" cy="175.7" r="5.5"/><circle cx="797.0" cy="230.3" r="5.5"/><circle cx="820.2" cy="231.6" r="5.5"/><circle cx="816.3" cy="193.3" r="5.5"/><circle cx="826.2" cy="204.6" r="5.5"/><circle cx="850.9" cy="169.8" r="5.5"/><circle cx="846.8" cy="231.4" r="5.5"/><circle cx="812.4" cy="234.7" r="5.5"/><circle cx="872.1" cy="210.8" r="5.5"/><circle cx="815.0" cy="232.8" r="5.5"/><circle cx="862.9" cy="229.3" r="5.5"/><circle cx="789.5" cy="226.7" r="5.5"/><circle cx="776.3" cy="215.8" r="5.5"/><circle cx="850.5" cy="162.9" r="5.5"/><circle cx="847.7" cy="254.6" r="5.5"/><circle cx="821.3" cy="193.9" r="5.5"/><circle cx="869.5" cy="177.0" r="5.5"/><circle cx="841.4" cy="232.9" r="5.5"/><circle cx="801.1" cy="209.8" r="5.5"/><circle cx="807.5" cy="206.8" r="5.5"/><circle cx="860.6" cy="244.2" r="5.5"/><circle cx="840.6" cy="231.6" r="5.5"/><circle cx="849.7" cy="202.3" r="5.5"/><circle cx="805.9" cy="239.9" r="5.5"/><circle cx="864.5" cy="243.1" r="5.5"/><circle cx="873.6" cy="247.8" r="5.5"/><circle cx="862.8" cy="188.0" r="5.5"/><circle cx="875.7" cy="166.8" r="5.5"/><circle cx="819.4" cy="243.3" r="5.5"/><circle cx="848.0" cy="234.1" r="5.5"/><circle cx="834.9" cy="220.7" r="5.5"/><circle cx="845.1" cy="225.3" r="5.5"/><circle cx="832.8" cy="200.7" r="5.5"/><circle cx="828.7" cy="214.3" r="5.5"/><circle cx="853.4" cy="240.9" r="5.5"/><circle cx="810.9" cy="240.9" r="5.5"/><circle cx="821.9" cy="171.8" r="5.5"/><circle cx="848.2" cy="195.1" r="5.5"/><circle cx="867.5" cy="157.2" r="5.5"/><circle cx="832.6" cy="233.3" r="5.5"/><circle cx="876.4" cy="184.4" r="5.5"/><circle cx="852.5" cy="255.8" r="5.5"/><circle cx="856.8" cy="248.1" r="5.5"/><circle cx="870.3" cy="202.0" r="5.5"/><circle cx="866.7" cy="161.7" r="5.5"/><circle cx="864.2" cy="150.6" r="5.5"/><circle cx="836.7" cy="227.1" r="5.5"/><circle cx="876.9" cy="217.1" r="5.5"/><circle cx="868.3" cy="252.5" r="5.5"/><circle cx="840.0" cy="234.4" r="5.5"/><circle cx="811.1" cy="214.0" r="5.5"/><circle cx="863.9" cy="264.7" r="5.5"/><circle cx="850.5" cy="263.8" r="5.5"/><circle cx="801.3" cy="266.5" r="5.5"/><circle cx="829.7" cy="227.3" r="5.5"/><circle cx="803.0" cy="241.7" r="5.5"/><circle cx="808.6" cy="211.2" r="5.5"/><circle cx="799.8" cy="204.4" r="5.5"/><circle cx="870.9" cy="177.6" r="5.5"/><circle cx="788.0" cy="213.4" r="5.5"/><circle cx="813.7" cy="255.5" r="5.5"/><circle cx="839.1" cy="250.6" r="5.5"/><circle cx="815.7" cy="218.5" r="5.5"/><circle cx="825.7" cy="259.5" r="5.5"/><circle cx="831.5" cy="223.0" r="5.5"/><circle cx="867.8" cy="260.1" r="5.5"/><circle cx="832.6" cy="223.2" r="5.5"/><circle cx="864.8" cy="167.4" r="5.5"/><circle cx="830.4" cy="207.4" r="5.5"/><circle cx="877.9" cy="167.0" r="5.5"/><circle cx="866.9" cy="223.1" r="5.5"/><circle cx="839.7" cy="232.8" r="5.5"/><circle cx="850.1" cy="216.6" r="5.5"/><circle cx="853.3" cy="246.5" r="5.5"/><circle cx="797.9" cy="271.3" r="5.5"/><circle cx="834.6" cy="244.9" r="5.5"/><circle cx="865.9" cy="174.1" r="5.5"/><circle cx="820.2" cy="233.3" r="5.5"/><circle cx="857.3" cy="186.5" r="5.5"/><circle cx="820.4" cy="194.3" r="5.5"/><circle cx="835.4" cy="244.8" r="5.5"/><circle cx="831.9" cy="205.0" r="5.5"/><circle cx="859.3" cy="157.5" r="5.5"/><circle cx="808.2" cy="236.2" r="5.5"/><circle cx="805.0" cy="209.6" r="5.5"/><circle cx="808.8" cy="269.8" r="5.5"/><circle cx="836.8" cy="214.6" r="5.5"/><circle cx="866.0" cy="179.3" r="5.5"/><circle cx="835.6" cy="224.1" r="5.5"/><circle cx="859.9" cy="175.1" r="5.5"/><circle cx="857.3" cy="205.4" r="5.5"/><circle cx="870.7" cy="203.6" r="5.5"/><circle cx="834.8" cy="213.2" r="5.5"/><circle cx="810.7" cy="214.1" r="5.5"/><circle cx="825.4" cy="209.9" r="5.5"/><circle cx="858.1" cy="262.7" r="5.5"/><circle cx="822.6" cy="232.8" r="5.5"/><circle cx="812.8" cy="267.5" r="5.5"/><circle cx="864.1" cy="235.9" r="5.5"/><circle cx="846.3" cy="174.4" r="5.5"/><circle cx="828.4" cy="201.5" r="5.5"/><circle cx="830.3" cy="223.4" r="5.5"/><circle cx="804.5" cy="267.4" r="5.5"/><circle cx="869.1" cy="183.2" r="5.5"/><circle cx="829.6" cy="226.6" r="5.5"/><circle cx="831.2" cy="219.8" r="5.5"/><circle cx="801.0" cy="244.7" r="5.5"/><circle cx="833.8" cy="207.0" r="5.5"/><circle cx="804.4" cy="240.0" r="5.5"/><circle cx="847.6" cy="240.4" r="5.5"/><circle cx="804.0" cy="184.0" r="5.5"/><circle cx="788.6" cy="227.3" r="5.5"/><circle cx="829.9" cy="219.4" r="5.5"/><circle cx="787.5" cy="218.8" r="5.5"/><circle cx="850.8" cy="185.1" r="5.5"/><circle cx="849.3" cy="229.0" r="5.5"/><circle cx="878.1" cy="148.2" r="5.5"/><circle cx="791.8" cy="224.1" r="5.5"/><circle cx="826.8" cy="220.7" r="5.5"/><circle cx="817.8" cy="240.9" r="5.5"/><circle cx="804.2" cy="219.9" r="5.5"/><circle cx="833.4" cy="206.2" r="5.5"/><circle cx="808.6" cy="222.2" r="5.5"/><circle cx="800.5" cy="226.9" r="5.5"/><circle cx="832.7" cy="204.3" r="5.5"/><circle cx="824.5" cy="205.7" r="5.5"/><circle cx="794.7" cy="225.0" r="5.5"/><circle cx="839.0" cy="185.3" r="5.5"/><circle cx="831.9" cy="219.3" r="5.5"/><circle cx="846.6" cy="167.2" r="5.5"/><circle cx="874.1" cy="210.9" r="5.5"/><circle cx="871.9" cy="184.6" r="5.5"/><circle cx="865.0" cy="255.3" r="5.5"/><circle cx="785.4" cy="243.2" r="5.5"/><circle cx="875.5" cy="170.6" r="5.5"/><circle cx="867.7" cy="248.8" r="5.5"/><circle cx="813.8" cy="229.8" r="5.5"/><circle cx="862.1" cy="166.3" r="5.5"/><circle cx="818.9" cy="235.8" r="5.5"/><circle cx="845.0" cy="191.9" r="5.5"/><circle cx="815.5" cy="221.6" r="5.5"/><circle cx="857.0" cy="249.1" r="5.5"/><circle cx="857.5" cy="172.8" r="5.5"/><circle cx="823.5" cy="208.8" r="5.5"/><circle cx="790.3" cy="231.7" r="5.5"/><circle cx="848.7" cy="241.1" r="5.5"/><circle cx="791.1" cy="266.8" r="5.5"/><circle cx="828.6" cy="221.1" r="5.5"/><circle cx="809.2" cy="195.7" r="5.5"/><circle cx="799.4" cy="258.0" r="5.5"/><circle cx="843.3" cy="222.9" r="5.5"/><circle cx="819.9" cy="192.8" r="5.5"/><circle cx="822.4" cy="235.1" r="5.5"/><circle cx="864.4" cy="253.2" r="5.5"/><circle cx="868.7" cy="199.9" r="5.5"/><circle cx="856.1" cy="244.7" r="5.5"/><circle cx="802.5" cy="242.1" r="5.5"/><circle cx="860.0" cy="171.2" r="5.5"/><circle cx="852.3" cy="214.5" r="5.5"/><circle cx="870.3" cy="218.2" r="5.5"/><circle cx="874.6" cy="181.0" r="5.5"/><circle cx="877.4" cy="198.3" r="5.5"/><circle cx="816.7" cy="205.5" r="5.5"/><circle cx="807.5" cy="230.9" r="5.5"/><circle cx="785.0" cy="204.2" r="5.5"/><circle cx="800.1" cy="243.0" r="5.5"/><circle cx="803.5" cy="204.4" r="5.5"/><circle cx="816.3" cy="210.1" r="5.5"/><circle cx="843.0" cy="267.8" r="5.5"/><circle cx="858.7" cy="245.9" r="5.5"/><circle cx="833.4" cy="215.0" r="5.5"/><circle cx="851.5" cy="221.7" r="5.5"/><circle cx="806.4" cy="239.6" r="5.5"/><circle cx="814.7" cy="214.6" r="5.5"/><circle cx="856.7" cy="172.6" r="5.5"/><circle cx="776.4" cy="249.6" r="5.5"/><circle cx="867.9" cy="253.7" r="5.5"/><circle cx="828.0" cy="214.1" r="5.5"/><circle cx="810.1" cy="276.4" r="5.5"/><circle cx="854.1" cy="234.9" r="5.5"/><circle cx="857.1" cy="238.3" r="5.5"/><circle cx="863.1" cy="261.4" r="5.5"/><circle cx="829.9" cy="236.1" r="5.5"/><circle cx="866.7" cy="276.4" r="5.5"/><circle cx="807.9" cy="248.0" r="5.5"/><circle cx="864.9" cy="220.6" r="5.5"/><circle cx="829.3" cy="224.0" r="5.5"/><circle cx="863.3" cy="189.4" r="5.5"/><circle cx="852.3" cy="240.7" r="5.5"/><circle cx="803.9" cy="222.4" r="5.5"/><circle cx="872.3" cy="159.4" r="5.5"/><circle cx="865.3" cy="247.8" r="5.5"/><circle cx="835.1" cy="217.8" r="5.5"/><circle cx="862.0" cy="244.0" r="5.5"/><circle cx="812.3" cy="196.6" r="5.5"/><circle cx="820.8" cy="217.4" r="5.5"/><circle cx="839.1" cy="231.9" r="5.5"/><circle cx="859.5" cy="200.8" r="5.5"/><circle cx="815.1" cy="192.4" r="5.5"/><circle cx="846.1" cy="225.8" r="5.5"/><circle cx="852.0" cy="165.2" r="5.5"/><circle cx="807.8" cy="196.0" r="5.5"/><circle cx="828.2" cy="264.2" r="5.5"/><circle cx="874.4" cy="181.2" r="5.5"/><circle cx="802.8" cy="219.2" r="5.5"/><circle cx="869.4" cy="153.5" r="5.5"/><circle cx="862.0" cy="252.6" r="5.5"/><circle cx="848.6" cy="251.3" r="5.5"/><circle cx="811.6" cy="222.3" r="5.5"/><circle cx="791.3" cy="245.1" r="5.5"/><circle cx="787.7" cy="263.7" r="5.5"/><circle cx="850.6" cy="158.9" r="5.5"/><circle cx="785.6" cy="224.4" r="5.5"/><circle cx="808.7" cy="227.0" r="5.5"/><circle cx="825.0" cy="198.7" r="5.5"/><circle cx="874.2" cy="204.5" r="5.5"/><circle cx="854.6" cy="214.7" r="5.5"/><circle cx="795.5" cy="264.2" r="5.5"/><circle cx="794.5" cy="249.9" r="5.5"/><circle cx="782.7" cy="264.3" r="5.5"/><circle cx="800.6" cy="247.4" r="5.5"/><circle cx="862.8" cy="218.9" r="5.5"/><circle cx="888.7" cy="171.5" r="5.5"/><circle cx="810.8" cy="280.4" r="5.5"/><circle cx="858.5" cy="195.6" r="5.5"/><circle cx="848.2" cy="210.4" r="5.5"/><circle cx="828.6" cy="220.5" r="5.5"/><circle cx="790.1" cy="254.3" r="5.5"/><circle cx="864.8" cy="188.6" r="5.5"/><circle cx="828.6" cy="201.7" r="5.5"/><circle cx="832.5" cy="196.6" r="5.5"/><circle cx="872.9" cy="180.7" r="5.5"/><circle cx="878.2" cy="156.1" r="5.5"/><circle cx="841.1" cy="190.8" r="5.5"/><circle cx="807.4" cy="240.3" r="5.5"/><circle cx="860.5" cy="245.1" r="5.5"/><circle cx="858.2" cy="248.7" r="5.5"/><circle cx="842.2" cy="186.7" r="5.5"/><circle cx="792.2" cy="210.8" r="5.5"/><circle cx="799.1" cy="268.1" r="5.5"/><circle cx="796.5" cy="256.6" r="5.5"/><circle cx="789.7" cy="269.5" r="5.5"/><circle cx="872.8" cy="195.1" r="5.5"/><circle cx="813.5" cy="266.0" r="5.5"/><circle cx="866.2" cy="174.1" r="5.5"/><circle cx="864.3" cy="252.6" r="5.5"/><circle cx="790.7" cy="219.3" r="5.5"/><circle cx="862.9" cy="177.0" r="5.5"/><circle cx="814.4" cy="235.4" r="5.5"/><circle cx="867.8" cy="202.5" r="5.5"/><circle cx="858.9" cy="235.6" r="5.5"/><circle cx="841.2" cy="214.0" r="5.5"/><circle cx="873.2" cy="250.3" r="5.5"/><circle cx="803.4" cy="230.2" r="5.5"/><circle cx="838.2" cy="238.8" r="5.5"/><circle cx="807.3" cy="279.4" r="5.5"/><circle cx="858.5" cy="190.0" r="5.5"/><circle cx="789.8" cy="215.5" r="5.5"/><circle cx="789.3" cy="200.1" r="5.5"/><circle cx="818.4" cy="247.4" r="5.5"/><circle cx="798.1" cy="240.5" r="5.5"/><circle cx="853.4" cy="182.7" r="5.5"/><circle cx="785.9" cy="261.0" r="5.5"/><circle cx="858.5" cy="224.0" r="5.5"/><circle cx="840.5" cy="236.0" r="5.5"/><circle cx="797.0" cy="244.2" r="5.5"/><circle cx="817.8" cy="219.9" r="5.5"/><circle cx="817.0" cy="200.1" r="5.5"/><circle cx="850.6" cy="226.3" r="5.5"/><circle cx="828.9" cy="222.3" r="5.5"/><circle cx="845.3" cy="242.0" r="5.5"/><circle cx="858.7" cy="173.2" r="5.5"/><circle cx="815.8" cy="241.0" r="5.5"/><circle cx="837.8" cy="201.7" r="5.5"/><circle cx="858.3" cy="248.4" r="5.5"/><circle cx="812.9" cy="244.1" r="5.5"/><circle cx="819.3" cy="279.8" r="5.5"/><circle cx="816.0" cy="268.9" r="5.5"/><circle cx="821.0" cy="276.0" r="5.5"/><circle cx="859.8" cy="228.7" r="5.5"/><circle cx="824.4" cy="225.6" r="5.5"/><circle cx="821.7" cy="200.2" r="5.5"/><circle cx="828.6" cy="223.3" r="5.5"/><circle cx="786.6" cy="268.3" r="5.5"/><circle cx="824.3" cy="240.8" r="5.5"/><circle cx="793.9" cy="242.4" r="5.5"/><circle cx="788.5" cy="236.8" r="5.5"/><circle cx="810.8" cy="234.0" r="5.5"/><circle cx="825.7" cy="235.8" r="5.5"/><circle cx="809.2" cy="221.4" r="5.5"/><circle cx="821.0" cy="269.7" r="5.5"/>
</g>
<g class="c3">
<circle cx="246.5" cy="334.5" r="5.5"/><circle cx="222.3" cy="366.0" r="5.5"/><circle cx="274.0" cy="271.3" r="5.5"/><circle cx="231.7" cy="358.4" r="5.5"/><circle cx="287.7" cy="248.2" r="5.5"/><circle cx="291.0" cy="378.0" r="5.5"/><circle cx="292.8" cy="325.3" r="5.5"/><circle cx="320.6" cy="323.1" r="5.5"/><circle cx="298.2" cy="304.0" r="5.5"/><circle cx="267.6" cy="258.3" r="5.5"/><circle cx="362.5" cy="282.0" r="5.5"/><circle cx="294.7" cy="331.3" r="5.5"/><circle cx="227.1" cy="342.4" r="5.5"/><circle cx="240.6" cy="330.5" r="5.5"/><circle cx="268.1" cy="265.7" r="5.5"/><circle cx="255.2" cy="355.5" r="5.5"/><circle cx="206.2" cy="361.2" r="5.5"/><circle cx="301.4" cy="314.8" r="5.5"/><circle cx="270.6" cy="373.4" r="5.5"/><circle cx="249.1" cy="340.8" r="5.5"/><circle cx="230.8" cy="349.6" r="5.5"/><circle cx="288.6" cy="285.0" r="5.5"/><circle cx="250.4" cy="366.4" r="5.5"/><circle cx="244.2" cy="377.2" r="5.5"/><circle cx="296.1" cy="343.3" r="5.5"/><circle cx="288.5" cy="315.5" r="5.5"/><circle cx="265.4" cy="356.0" r="5.5"/><circle cx="307.3" cy="330.9" r="5.5"/><circle cx="252.8" cy="351.3" r="5.5"/><circle cx="258.6" cy="371.2" r="5.5"/><circle cx="224.6" cy="356.6" r="5.5"/><circle cx="277.5" cy="287.6" r="5.5"/><circle cx="236.1" cy="326.1" r="5.5"/><circle cx="289.1" cy="264.0" r="5.5"/><circle cx="222.9" cy="339.8" r="5.5"/><circle cx="229.6" cy="329.4" r="5.5"/><circle cx="287.3" cy="356.3" r="5.5"/><circle cx="289.2" cy="354.9" r="5.5"/><circle cx="365.5" cy="272.5" r="5.5"/><circle cx="293.0" cy="328.2" r="5.5"/><circle cx="240.5" cy="369.4" r="5.5"/><circle cx="273.3" cy="338.2" r="5.5"/><circle cx="283.5" cy="347.8" r="5.5"/><circle cx="267.7" cy="361.1" r="5.5"/><circle cx="285.0" cy="352.9" r="5.5"/><circle cx="294.0" cy="397.0" r="5.5"/><circle cx="323.0" cy="308.6" r="5.5"/><circle cx="259.3" cy="353.3" r="5.5"/><circle cx="262.4" cy="269.2" r="5.5"/><circle cx="281.8" cy="320.9" r="5.5"/><circle cx="235.1" cy="372.8" r="5.5"/><circle cx="277.5" cy="324.0" r="5.5"/><circle cx="260.3" cy="264.9" r="5.5"/><circle cx="236.4" cy="357.2" r="5.5"/><circle cx="277.1" cy="283.4" r="5.5"/><circle cx="266.5" cy="254.0" r="5.5"/><circle cx="260.9" cy="250.3" r="5.5"/><circle cx="251.2" cy="353.0" r="5.5"/><circle cx="210.4" cy="356.1" r="5.5"/><circle cx="297.0" cy="383.0" r="5.5"/><circle cx="297.3" cy="296.3" r="5.5"/><circle cx="271.2" cy="372.0" r="5.5"/><circle cx="257.0" cy="353.6" r="5.5"/><circle cx="255.3" cy="345.2" r="5.5"/><circle cx="267.9" cy="345.5" r="5.5"/><circle cx="307.4" cy="332.3" r="5.5"/><circle cx="244.4" cy="348.7" r="5.5"/><circle cx="209.8" cy="351.6" r="5.5"/><circle cx="289.7" cy="330.0" r="5.5"/><circle cx="290.5" cy="335.4" r="5.5"/><circle cx="287.9" cy="348.5" r="5.5"/><circle cx="296.0" cy="329.6" r="5.5"/><circle cx="233.7" cy="344.5" r="5.5"/><circle cx="233.8" cy="351.1" r="5.5"/><circle cx="286.0" cy="388.0" r="5.5"/><circle cx="267.5" cy="278.9" r="5.5"/><circle cx="269.3" cy="328.0" r="5.5"/><circle cx="250.7" cy="375.5" r="5.5"/><circle cx="299.2" cy="261.7" r="5.5"/><circle cx="242.7" cy="338.4" r="5.5"/><circle cx="227.4" cy="333.2" r="5.5"/><circle cx="274.9" cy="271.1" r="5.5"/><circle cx="270.9" cy="266.6" r="5.5"/><circle cx="269.5" cy="279.2" r="5.5"/><circle cx="282.4" cy="284.4" r="5.5"/><circle cx="292.2" cy="309.2" r="5.5"/><circle cx="253.4" cy="364.6" r="5.5"/><circle cx="208.5" cy="357.5" r="5.5"/><circle cx="216.3" cy="349.4" r="5.5"/><circle cx="231.4" cy="336.0" r="5.5"/><circle cx="239.4" cy="367.1" r="5.5"/><circle cx="267.3" cy="325.2" r="5.5"/><circle cx="297.9" cy="317.6" r="5.5"/><circle cx="257.7" cy="329.0" r="5.5"/><circle cx="230.3" cy="334.1" r="5.5"/><circle cx="291.7" cy="294.5" r="5.5"/><circle cx="273.6" cy="342.0" r="5.5"/><circle cx="271.7" cy="294.9" r="5.5"/><circle cx="288.3" cy="310.0" r="5.5"/><circle cx="296.5" cy="304.7" r="5.5"/><circle cx="299.1" cy="307.1" r="5.5"/><circle cx="256.4" cy="347.1" r="5.5"/><circle cx="308.3" cy="322.8" r="5.5"/><circle cx="292.9" cy="270.9" r="5.5"/><circle cx="302.7" cy="288.5" r="5.5"/><circle cx="289.0" cy="392.0" r="5.5"/><circle cx="311.9" cy="320.6" r="5.5"/><circle cx="286.4" cy="280.9" r="5.5"/><circle cx="256.3" cy="262.8" r="5.5"/><circle cx="276.2" cy="308.1" r="5.5"/><circle cx="293.4" cy="302.6" r="5.5"/><circle cx="279.2" cy="258.6" r="5.5"/><circle cx="248.9" cy="337.3" r="5.5"/><circle cx="258.3" cy="349.6" r="5.5"/><circle cx="280.2" cy="275.2" r="5.5"/><circle cx="265.0" cy="269.4" r="5.5"/><circle cx="299.0" cy="392.0" r="5.5"/><circle cx="299.0" cy="271.1" r="5.5"/><circle cx="301.5" cy="337.9" r="5.5"/><circle cx="280.2" cy="271.3" r="5.5"/><circle cx="264.7" cy="370.4" r="5.5"/><circle cx="268.1" cy="288.2" r="5.5"/><circle cx="289.3" cy="301.0" r="5.5"/><circle cx="270.0" cy="309.6" r="5.5"/><circle cx="250.0" cy="338.7" r="5.5"/><circle cx="279.3" cy="279.6" r="5.5"/><circle cx="283.8" cy="359.2" r="5.5"/><circle cx="231.5" cy="337.3" r="5.5"/><circle cx="297.9" cy="290.6" r="5.5"/><circle cx="238.0" cy="335.3" r="5.5"/><circle cx="240.8" cy="334.4" r="5.5"/><circle cx="241.9" cy="338.9" r="5.5"/><circle cx="246.1" cy="341.0" r="5.5"/><circle cx="302.3" cy="311.4" r="5.5"/><circle cx="240.7" cy="342.8" r="5.5"/><circle cx="224.6" cy="343.5" r="5.5"/><circle cx="238.3" cy="355.2" r="5.5"/><circle cx="226.5" cy="361.8" r="5.5"/><circle cx="252.2" cy="373.6" r="5.5"/><circle cx="282.3" cy="298.4" r="5.5"/><circle cx="234.8" cy="336.6" r="5.5"/><circle cx="314.0" cy="319.1" r="5.5"/><circle cx="256.7" cy="316.7" r="5.5"/><circle cx="284.7" cy="272.5" r="5.5"/><circle cx="251.8" cy="377.4" r="5.5"/><circle cx="284.2" cy="269.8" r="5.5"/><circle cx="281.6" cy="329.3" r="5.5"/><circle cx="267.0" cy="259.8" r="5.5"/><circle cx="287.5" cy="324.7" r="5.5"/><circle cx="269.2" cy="330.0" r="5.5"/><circle cx="314.5" cy="306.7" r="5.5"/><circle cx="267.2" cy="280.7" r="5.5"/><circle cx="285.1" cy="275.3" r="5.5"/><circle cx="293.5" cy="298.5" r="5.5"/><circle cx="236.3" cy="333.7" r="5.5"/><circle cx="311.1" cy="333.3" r="5.5"/><circle cx="297.0" cy="287.2" r="5.5"/><circle cx="300.4" cy="273.1" r="5.5"/><circle cx="239.5" cy="368.2" r="5.5"/><circle cx="254.0" cy="351.9" r="5.5"/><circle cx="231.1" cy="354.4" r="5.5"/><circle cx="291.6" cy="257.4" r="5.5"/><circle cx="287.2" cy="326.7" r="5.5"/><circle cx="291.6" cy="360.6" r="5.5"/><circle cx="274.0" cy="317.8" r="5.5"/><circle cx="269.6" cy="285.7" r="5.5"/><circle cx="233.6" cy="345.1" r="5.5"/><circle cx="270.2" cy="254.1" r="5.5"/><circle cx="281.2" cy="315.5" r="5.5"/><circle cx="246.0" cy="348.7" r="5.5"/><circle cx="272.7" cy="265.4" r="5.5"/><circle cx="232.9" cy="369.4" r="5.5"/><circle cx="238.5" cy="350.5" r="5.5"/><circle cx="253.8" cy="336.2" r="5.5"/><circle cx="248.2" cy="354.9" r="5.5"/><circle cx="272.3" cy="328.3" r="5.5"/><circle cx="259.8" cy="261.8" r="5.5"/><circle cx="306.9" cy="315.8" r="5.5"/><circle cx="257.2" cy="367.2" r="5.5"/><circle cx="283.6" cy="261.2" r="5.5"/><circle cx="315.4" cy="313.8" r="5.5"/><circle cx="266.5" cy="278.9" r="5.5"/><circle cx="302.0" cy="286.4" r="5.5"/><circle cx="216.9" cy="345.3" r="5.5"/><circle cx="232.7" cy="363.6" r="5.5"/><circle cx="309.8" cy="321.0" r="5.5"/><circle cx="269.5" cy="354.9" r="5.5"/><circle cx="262.9" cy="336.8" r="5.5"/><circle cx="271.0" cy="262.7" r="5.5"/>
</g>
<g class="c4">
<circle cx="369.4" cy="456.8" r="5.5"/><circle cx="335.3" cy="441.4" r="5.5"/><circle cx="364.6" cy="462.0" r="5.5"/><circle cx="316.0" cy="466.2" r="5.5"/><circle cx="345.8" cy="462.4" r="5.5"/><circle cx="336.2" cy="436.4" r="5.5"/><circle cx="315.9" cy="446.2" r="5.5"/><circle cx="317.8" cy="433.0" r="5.5"/><circle cx="295.4" cy="394.8" r="5.5"/><circle cx="351.2" cy="428.6" r="5.5"/><circle cx="350.4" cy="438.5" r="5.5"/><circle cx="318.9" cy="391.5" r="5.5"/><circle cx="321.8" cy="396.2" r="5.5"/><circle cx="309.8" cy="387.8" r="5.5"/><circle cx="343.1" cy="401.7" r="5.5"/><circle cx="354.3" cy="478.9" r="5.5"/><circle cx="349.6" cy="401.9" r="5.5"/><circle cx="374.1" cy="473.0" r="5.5"/><circle cx="330.4" cy="404.9" r="5.5"/><circle cx="350.9" cy="475.5" r="5.5"/><circle cx="328.1" cy="425.7" r="5.5"/><circle cx="300.4" cy="417.1" r="5.5"/><circle cx="348.5" cy="421.7" r="5.5"/><circle cx="374.5" cy="457.8" r="5.5"/><circle cx="308.5" cy="391.5" r="5.5"/><circle cx="378.7" cy="463.1" r="5.5"/><circle cx="357.8" cy="458.5" r="5.5"/><circle cx="335.7" cy="436.8" r="5.5"/><circle cx="290.8" cy="390.9" r="5.5"/><circle cx="358.5" cy="467.6" r="5.5"/><circle cx="330.1" cy="391.4" r="5.5"/><circle cx="327.0" cy="439.5" r="5.5"/><circle cx="339.0" cy="419.4" r="5.5"/><circle cx="297.7" cy="406.2" r="5.5"/><circle cx="346.4" cy="464.5" r="5.5"/><circle cx="303.1" cy="397.3" r="5.5"/><circle cx="368.9" cy="473.4" r="5.5"/><circle cx="321.5" cy="455.9" r="5.5"/><circle cx="344.2" cy="468.4" r="5.5"/><circle cx="353.6" cy="396.4" r="5.5"/><circle cx="361.0" cy="460.8" r="5.5"/><circle cx="359.7" cy="441.7" r="5.5"/><circle cx="338.2" cy="448.7" r="5.5"/><circle cx="355.8" cy="468.1" r="5.5"/><circle cx="350.0" cy="485.8" r="5.5"/><circle cx="356.5" cy="400.6" r="5.5"/><circle cx="347.0" cy="470.9" r="5.5"/><circle cx="373.2" cy="462.5" r="5.5"/><circle cx="363.4" cy="445.7" r="5.5"/><circle cx="315.1" cy="401.9" r="5.5"/><circle cx="331.6" cy="445.2" r="5.5"/><circle cx="332.6" cy="469.3" r="5.5"/><circle cx="357.5" cy="406.2" r="5.5"/><circle cx="343.8" cy="474.8" r="5.5"/><circle cx="337.9" cy="443.2" r="5.5"/><circle cx="336.2" cy="450.8" r="5.5"/><circle cx="369.3" cy="453.8" r="5.5"/><circle cx="360.7" cy="464.3" r="5.5"/><circle cx="337.3" cy="465.7" r="5.5"/><circle cx="349.3" cy="427.1" r="5.5"/><circle cx="353.6" cy="457.7" r="5.5"/><circle cx="327.9" cy="446.9" r="5.5"/><circle cx="333.9" cy="461.3" r="5.5"/><circle cx="306.6" cy="410.6" r="5.5"/><circle cx="351.2" cy="476.5" r="5.5"/><circle cx="306.4" cy="426.4" r="5.5"/><circle cx="353.1" cy="412.8" r="5.5"/><circle cx="333.4" cy="431.2" r="5.5"/><circle cx="372.7" cy="461.2" r="5.5"/><circle cx="326.1" cy="429.3" r="5.5"/><circle cx="349.4" cy="469.5" r="5.5"/><circle cx="306.8" cy="389.5" r="5.5"/><circle cx="357.4" cy="445.9" r="5.5"/><circle cx="375.6" cy="467.4" r="5.5"/><circle cx="302.8" cy="409.8" r="5.5"/><circle cx="352.6" cy="462.0" r="5.5"/><circle cx="367.4" cy="465.6" r="5.5"/><circle cx="365.3" cy="443.6" r="5.5"/><circle cx="360.6" cy="452.5" r="5.5"/><circle cx="352.2" cy="412.3" r="5.5"/><circle cx="314.5" cy="456.9" r="5.5"/><circle cx="321.4" cy="444.6" r="5.5"/><circle cx="333.8" cy="449.6" r="5.5"/><circle cx="363.4" cy="439.0" r="5.5"/><circle cx="366.5" cy="422.8" r="5.5"/><circle cx="318.9" cy="412.4" r="5.5"/><circle cx="346.5" cy="477.1" r="5.5"/><circle cx="328.3" cy="481.9" r="5.5"/><circle cx="363.9" cy="405.7" r="5.5"/><circle cx="353.8" cy="413.5" r="5.5"/><circle cx="348.2" cy="470.2" r="5.5"/><circle cx="366.4" cy="462.2" r="5.5"/><circle cx="343.8" cy="423.8" r="5.5"/><circle cx="328.0" cy="390.2" r="5.5"/><circle cx="352.5" cy="443.6" r="5.5"/><circle cx="326.6" cy="419.9" r="5.5"/><circle cx="356.2" cy="429.6" r="5.5"/><circle cx="311.1" cy="469.8" r="5.5"/><circle cx="322.0" cy="434.2" r="5.5"/><circle cx="347.3" cy="407.3" r="5.5"/><circle cx="349.4" cy="462.9" r="5.5"/><circle cx="353.0" cy="401.0" r="5.5"/><circle cx="315.3" cy="452.9" r="5.5"/><circle cx="334.6" cy="431.1" r="5.5"/><circle cx="330.3" cy="463.8" r="5.5"/><circle cx="347.2" cy="466.6" r="5.5"/><circle cx="328.1" cy="465.3" r="5.5"/><circle cx="362.5" cy="439.4" r="5.5"/><circle cx="341.9" cy="447.5" r="5.5"/><circle cx="357.1" cy="441.3" r="5.5"/><circle cx="358.8" cy="454.4" r="5.5"/><circle cx="355.8" cy="410.8" r="5.5"/><circle cx="309.5" cy="419.7" r="5.5"/><circle cx="321.2" cy="407.4" r="5.5"/><circle cx="324.9" cy="451.5" r="5.5"/><circle cx="302.5" cy="402.5" r="5.5"/><circle cx="325.5" cy="413.9" r="5.5"/><circle cx="363.6" cy="427.0" r="5.5"/><circle cx="347.8" cy="429.4" r="5.5"/><circle cx="340.2" cy="435.5" r="5.5"/><circle cx="311.6" cy="389.5" r="5.5"/><circle cx="333.3" cy="401.1" r="5.5"/><circle cx="346.9" cy="460.2" r="5.5"/><circle cx="328.5" cy="441.7" r="5.5"/><circle cx="303.7" cy="396.7" r="5.5"/><circle cx="328.4" cy="419.6" r="5.5"/><circle cx="319.9" cy="440.4" r="5.5"/><circle cx="317.7" cy="405.6" r="5.5"/><circle cx="318.1" cy="448.4" r="5.5"/><circle cx="350.6" cy="471.0" r="5.5"/><circle cx="330.2" cy="476.6" r="5.5"/><circle cx="320.4" cy="446.5" r="5.5"/><circle cx="349.5" cy="473.9" r="5.5"/><circle cx="313.0" cy="398.0" r="5.5"/><circle cx="351.1" cy="476.4" r="5.5"/><circle cx="362.8" cy="442.6" r="5.5"/><circle cx="332.8" cy="415.5" r="5.5"/><circle cx="343.9" cy="446.0" r="5.5"/><circle cx="347.6" cy="441.9" r="5.5"/><circle cx="328.1" cy="459.0" r="5.5"/><circle cx="335.0" cy="440.9" r="5.5"/><circle cx="338.7" cy="433.0" r="5.5"/><circle cx="339.6" cy="463.7" r="5.5"/><circle cx="360.6" cy="400.9" r="5.5"/><circle cx="319.5" cy="466.0" r="5.5"/><circle cx="349.1" cy="473.2" r="5.5"/><circle cx="322.5" cy="392.5" r="5.5"/><circle cx="355.1" cy="482.5" r="5.5"/><circle cx="339.6" cy="413.3" r="5.5"/><circle cx="302.5" cy="409.1" r="5.5"/><circle cx="335.1" cy="425.8" r="5.5"/><circle cx="366.9" cy="450.9" r="5.5"/><circle cx="336.8" cy="392.7" r="5.5"/><circle cx="309.6" cy="390.8" r="5.5"/><circle cx="332.8" cy="468.0" r="5.5"/><circle cx="335.6" cy="452.8" r="5.5"/><circle cx="329.4" cy="478.4" r="5.5"/><circle cx="302.9" cy="407.0" r="5.5"/><circle cx="344.0" cy="415.9" r="5.5"/><circle cx="367.5" cy="428.4" r="5.5"/><circle cx="349.4" cy="438.5" r="5.5"/><circle cx="334.9" cy="442.6" r="5.5"/><circle cx="320.8" cy="387.1" r="5.5"/><circle cx="303.8" cy="407.8" r="5.5"/><circle cx="368.4" cy="462.1" r="5.5"/><circle cx="328.8" cy="457.9" r="5.5"/><circle cx="345.9" cy="419.5" r="5.5"/><circle cx="305.9" cy="417.8" r="5.5"/><circle cx="336.6" cy="437.7" r="5.5"/><circle cx="325.7" cy="442.2" r="5.5"/><circle cx="344.3" cy="439.3" r="5.5"/><circle cx="322.2" cy="420.8" r="5.5"/><circle cx="349.9" cy="395.4" r="5.5"/><circle cx="314.8" cy="384.9" r="5.5"/><circle cx="331.4" cy="434.8" r="5.5"/><circle cx="330.9" cy="391.4" r="5.5"/><circle cx="320.1" cy="456.1" r="5.5"/>
</g>
<g class="c5">
<circle cx="383.0" cy="330.1" r="5.5"/><circle cx="405.0" cy="361.1" r="5.5"/><circle cx="417.5" cy="351.8" r="5.5"/><circle cx="429.3" cy="360.4" r="5.5"/><circle cx="389.5" cy="327.0" r="5.5"/><circle cx="414.8" cy="356.0" r="5.5"/><circle cx="428.2" cy="353.9" r="5.5"/><circle cx="397.9" cy="374.5" r="5.5"/><circle cx="379.4" cy="328.6" r="5.5"/><circle cx="392.5" cy="353.8" r="5.5"/><circle cx="428.1" cy="353.0" r="5.5"/><circle cx="404.6" cy="329.6" r="5.5"/><circle cx="404.8" cy="346.9" r="5.5"/><circle cx="422.9" cy="372.2" r="5.5"/><circle cx="386.0" cy="331.9" r="5.5"/><circle cx="399.8" cy="334.7" r="5.5"/><circle cx="422.5" cy="354.9" r="5.5"/><circle cx="414.3" cy="357.3" r="5.5"/><circle cx="409.7" cy="349.3" r="5.5"/><circle cx="393.0" cy="328.4" r="5.5"/><circle cx="406.3" cy="333.3" r="5.5"/><circle cx="393.4" cy="374.2" r="5.5"/><circle cx="408.6" cy="335.6" r="5.5"/><circle cx="391.1" cy="331.2" r="5.5"/><circle cx="393.7" cy="342.1" r="5.5"/><circle cx="422.5" cy="355.5" r="5.5"/><circle cx="388.9" cy="350.0" r="5.5"/><circle cx="380.9" cy="342.7" r="5.5"/><circle cx="394.9" cy="329.0" r="5.5"/><circle cx="385.3" cy="329.9" r="5.5"/><circle cx="389.8" cy="348.4" r="5.5"/><circle cx="399.2" cy="347.2" r="5.5"/><circle cx="395.1" cy="342.5" r="5.5"/><circle cx="384.3" cy="340.8" r="5.5"/><circle cx="402.7" cy="339.7" r="5.5"/><circle cx="423.3" cy="359.1" r="5.5"/><circle cx="382.6" cy="325.0" r="5.5"/><circle cx="400.4" cy="350.5" r="5.5"/><circle cx="398.9" cy="338.8" r="5.5"/><circle cx="380.4" cy="333.5" r="5.5"/><circle cx="403.3" cy="347.6" r="5.5"/><circle cx="384.0" cy="326.8" r="5.5"/><circle cx="405.7" cy="329.4" r="5.5"/><circle cx="389.5" cy="343.0" r="5.5"/><circle cx="398.9" cy="342.3" r="5.5"/><circle cx="428.3" cy="354.3" r="5.5"/><circle cx="427.7" cy="345.9" r="5.5"/><circle cx="425.0" cy="325.0" r="5.5"/><circle cx="391.4" cy="347.5" r="5.5"/><circle cx="399.1" cy="324.6" r="5.5"/>
</g>
<g class="c6">
<circle cx="616.3" cy="325.7" r="5.5"/><circle cx="604.0" cy="308.5" r="5.5"/><circle cx="628.6" cy="293.4" r="5.5"/><circle cx="598.4" cy="315.2" r="5.5"/><circle cx="650.3" cy="252.1" r="5.5"/><circle cx="666.6" cy="300.1" r="5.5"/><circle cx="632.4" cy="297.2" r="5.5"/><circle cx="621.5" cy="317.5" r="5.5"/><circle cx="597.9" cy="311.1" r="5.5"/><circle cx="617.4" cy="330.0" r="5.5"/><circle cx="602.2" cy="330.2" r="5.5"/><circle cx="618.4" cy="253.4" r="5.5"/><circle cx="663.4" cy="253.3" r="5.5"/><circle cx="620.7" cy="300.7" r="5.5"/><circle cx="516.0" cy="341.0" r="5.5"/><circle cx="663.8" cy="268.7" r="5.5"/><circle cx="605.7" cy="325.3" r="5.5"/><circle cx="626.0" cy="307.6" r="5.5"/><circle cx="628.6" cy="316.8" r="5.5"/><circle cx="666.0" cy="329.0" r="5.5"/><circle cx="652.0" cy="318.9" r="5.5"/><circle cx="684.6" cy="294.4" r="5.5"/><circle cx="649.6" cy="272.7" r="5.5"/><circle cx="640.6" cy="262.1" r="5.5"/><circle cx="645.0" cy="330.3" r="5.5"/><circle cx="654.8" cy="319.9" r="5.5"/><circle cx="645.6" cy="271.2" r="5.5"/><circle cx="615.5" cy="341.4" r="5.5"/><circle cx="652.5" cy="333.2" r="5.5"/><circle cx="629.5" cy="335.4" r="5.5"/><circle cx="648.7" cy="295.5" r="5.5"/><circle cx="650.7" cy="274.4" r="5.5"/><circle cx="670.6" cy="310.5" r="5.5"/><circle cx="643.7" cy="294.9" r="5.5"/><circle cx="682.9" cy="290.3" r="5.5"/><circle cx="658.0" cy="300.8" r="5.5"/><circle cx="673.2" cy="306.2" r="5.5"/><circle cx="676.9" cy="261.2" r="5.5"/><circle cx="640.6" cy="291.7" r="5.5"/><circle cx="672.5" cy="267.6" r="5.5"/><circle cx="664.7" cy="263.6" r="5.5"/><circle cx="669.7" cy="299.6" r="5.5"/><circle cx="640.6" cy="300.3" r="5.5"/><circle cx="603.0" cy="315.9" r="5.5"/><circle cx="636.4" cy="338.8" r="5.5"/><circle cx="620.9" cy="329.9" r="5.5"/><circle cx="598.0" cy="314.8" r="5.5"/><circle cx="633.8" cy="320.6" r="5.5"/><circle cx="659.2" cy="253.6" r="5.5"/><circle cx="653.3" cy="303.5" r="5.5"/><circle cx="603.4" cy="325.5" r="5.5"/><circle cx="594.4" cy="313.1" r="5.5"/><circle cx="604.2" cy="311.3" r="5.5"/><circle cx="599.5" cy="254.0" r="5.5"/><circle cx="662.2" cy="297.0" r="5.5"/><circle cx="593.5" cy="338.4" r="5.5"/><circle cx="595.5" cy="318.2" r="5.5"/><circle cx="640.2" cy="330.6" r="5.5"/><circle cx="663.1" cy="319.8" r="5.5"/><circle cx="606.4" cy="294.0" r="5.5"/><circle cx="630.9" cy="300.1" r="5.5"/><circle cx="595.3" cy="321.2" r="5.5"/><circle cx="592.7" cy="255.2" r="5.5"/><circle cx="630.4" cy="326.0" r="5.5"/><circle cx="651.0" cy="326.8" r="5.5"/><circle cx="642.3" cy="297.1" r="5.5"/><circle cx="655.8" cy="319.4" r="5.5"/><circle cx="635.3" cy="338.5" r="5.5"/><circle cx="606.0" cy="329.2" r="5.5"/><circle cx="680.2" cy="255.3" r="5.5"/><circle cx="634.6" cy="319.4" r="5.5"/><circle cx="640.9" cy="300.1" r="5.5"/><circle cx="626.8" cy="336.7" r="5.5"/><circle cx="669.7" cy="305.8" r="5.5"/><circle cx="630.8" cy="323.1" r="5.5"/><circle cx="628.2" cy="298.0" r="5.5"/><circle cx="624.2" cy="328.9" r="5.5"/><circle cx="645.4" cy="307.2" r="5.5"/><circle cx="605.9" cy="326.7" r="5.5"/><circle cx="619.8" cy="327.9" r="5.5"/><circle cx="678.5" cy="263.6" r="5.5"/><circle cx="599.8" cy="329.9" r="5.5"/><circle cx="626.9" cy="304.3" r="5.5"/><circle cx="602.7" cy="321.9" r="5.5"/><circle cx="634.1" cy="301.0" r="5.5"/><circle cx="642.7" cy="335.3" r="5.5"/><circle cx="624.7" cy="331.0" r="5.5"/><circle cx="648.5" cy="272.1" r="5.5"/><circle cx="614.0" cy="325.1" r="5.5"/><circle cx="621.6" cy="321.3" r="5.5"/><circle cx="656.5" cy="278.9" r="5.5"/><circle cx="665.0" cy="299.2" r="5.5"/><circle cx="668.7" cy="313.7" r="5.5"/><circle cx="600.2" cy="317.5" r="5.5"/><circle cx="641.9" cy="330.9" r="5.5"/><circle cx="619.3" cy="319.1" r="5.5"/><circle cx="659.9" cy="270.3" r="5.5"/><circle cx="625.6" cy="336.0" r="5.5"/><circle cx="599.9" cy="326.4" r="5.5"/><circle cx="631.2" cy="322.2" r="5.5"/><circle cx="620.2" cy="301.4" r="5.5"/><circle cx="601.6" cy="317.0" r="5.5"/><circle cx="613.4" cy="340.5" r="5.5"/><circle cx="619.4" cy="328.8" r="5.5"/><circle cx="646.2" cy="270.5" r="5.5"/><circle cx="607.5" cy="317.9" r="5.5"/><circle cx="653.8" cy="336.4" r="5.5"/><circle cx="635.1" cy="309.4" r="5.5"/><circle cx="632.6" cy="250.4" r="5.5"/><circle cx="626.4" cy="326.4" r="5.5"/><circle cx="654.5" cy="289.1" r="5.5"/><circle cx="672.5" cy="305.2" r="5.5"/><circle cx="605.1" cy="317.5" r="5.5"/><circle cx="624.4" cy="311.5" r="5.5"/><circle cx="613.2" cy="332.4" r="5.5"/><circle cx="600.0" cy="303.6" r="5.5"/><circle cx="639.2" cy="290.2" r="5.5"/><circle cx="609.9" cy="329.4" r="5.5"/><circle cx="647.8" cy="332.8" r="5.5"/><circle cx="626.3" cy="305.5" r="5.5"/><circle cx="655.5" cy="305.8" r="5.5"/><circle cx="658.9" cy="315.4" r="5.5"/><circle cx="621.6" cy="340.5" r="5.5"/><circle cx="676.7" cy="265.9" r="5.5"/><circle cx="602.7" cy="336.1" r="5.5"/><circle cx="629.8" cy="305.2" r="5.5"/><circle cx="651.1" cy="323.7" r="5.5"/><circle cx="625.2" cy="250.3" r="5.5"/><circle cx="619.0" cy="342.1" r="5.5"/><circle cx="624.5" cy="325.3" r="5.5"/><circle cx="665.1" cy="303.6" r="5.5"/><circle cx="614.5" cy="330.8" r="5.5"/><circle cx="599.6" cy="316.4" r="5.5"/>
</g>
<g class="c7">
<circle cx="776.9" cy="360.3" r="5.5"/><circle cx="725.8" cy="350.3" r="5.5"/><circle cx="784.2" cy="349.1" r="5.5"/><circle cx="765.2" cy="384.1" r="5.5"/><circle cx="756.5" cy="361.0" r="5.5"/><circle cx="798.8" cy="366.5" r="5.5"/><circle cx="744.3" cy="345.7" r="5.5"/><circle cx="775.4" cy="350.8" r="5.5"/><circle cx="806.5" cy="380.7" r="5.5"/><circle cx="708.8" cy="372.6" r="5.5"/><circle cx="811.8" cy="381.0" r="5.5"/><circle cx="762.6" cy="361.9" r="5.5"/><circle cx="792.3" cy="372.0" r="5.5"/><circle cx="796.6" cy="368.1" r="5.5"/><circle cx="735.2" cy="355.7" r="5.5"/><circle cx="767.6" cy="355.7" r="5.5"/><circle cx="765.0" cy="333.8" r="5.5"/><circle cx="771.5" cy="388.4" r="5.5"/><circle cx="739.0" cy="356.3" r="5.5"/><circle cx="730.7" cy="362.9" r="5.5"/><circle cx="782.7" cy="360.8" r="5.5"/><circle cx="722.4" cy="381.0" r="5.5"/><circle cx="751.3" cy="350.8" r="5.5"/><circle cx="785.1" cy="366.3" r="5.5"/><circle cx="774.3" cy="345.3" r="5.5"/><circle cx="807.7" cy="362.6" r="5.5"/><circle cx="751.9" cy="361.7" r="5.5"/><circle cx="808.0" cy="381.1" r="5.5"/><circle cx="790.9" cy="371.7" r="5.5"/><circle cx="810.0" cy="371.8" r="5.5"/><circle cx="739.9" cy="381.1" r="5.5"/><circle cx="712.6" cy="368.5" r="5.5"/><circle cx="740.0" cy="380.1" r="5.5"/><circle cx="715.8" cy="369.1" r="5.5"/><circle cx="720.1" cy="361.7" r="5.5"/><circle cx="793.2" cy="377.3" r="5.5"/><circle cx="790.2" cy="384.7" r="5.5"/><circle cx="748.9" cy="373.9" r="5.5"/><circle cx="776.7" cy="357.6" r="5.5"/><circle cx="763.2" cy="364.9" r="5.5"/><circle cx="811.7" cy="387.6" r="5.5"/><circle cx="781.4" cy="377.8" r="5.5"/><circle cx="726.4" cy="346.6" r="5.5"/><circle cx="775.7" cy="362.2" r="5.5"/><circle cx="722.5" cy="359.6" r="5.5"/><circle cx="768.8" cy="357.4" r="5.5"/><circle cx="779.2" cy="362.7" r="5.5"/><circle cx="697.0" cy="374.5" r="5.5"/><circle cx="730.2" cy="372.4" r="5.5"/><circle cx="796.6" cy="362.8" r="5.5"/><circle cx="774.1" cy="367.7" r="5.5"/><circle cx="730.2" cy="375.6" r="5.5"/><circle cx="759.6" cy="367.8" r="5.5"/><circle cx="734.8" cy="365.8" r="5.5"/><circle cx="743.8" cy="362.0" r="5.5"/><circle cx="710.4" cy="379.7" r="5.5"/><circle cx="717.1" cy="377.6" r="5.5"/><circle cx="792.1" cy="381.8" r="5.5"/><circle cx="752.8" cy="363.5" r="5.5"/><circle cx="740.8" cy="366.3" r="5.5"/><circle cx="791.8" cy="359.1" r="5.5"/><circle cx="790.1" cy="367.6" r="5.5"/><circle cx="750.6" cy="359.9" r="5.5"/><circle cx="902.0" cy="317.0" r="5.5"/><circle cx="804.7" cy="361.2" r="5.5"/><circle cx="769.0" cy="355.6" r="5.5"/><circle cx="786.1" cy="361.9" r="5.5"/><circle cx="758.7" cy="373.0" r="5.5"/><circle cx="787.6" cy="353.1" r="5.5"/><circle cx="734.6" cy="366.3" r="5.5"/><circle cx="778.8" cy="356.5" r="5.5"/><circle cx="784.0" cy="382.1" r="5.5"/><circle cx="763.8" cy="355.1" r="5.5"/><circle cx="779.5" cy="378.1" r="5.5"/><circle cx="717.0" cy="353.0" r="5.5"/><circle cx="737.9" cy="368.4" r="5.5"/><circle cx="770.3" cy="380.6" r="5.5"/><circle cx="745.8" cy="354.2" r="5.5"/><circle cx="758.5" cy="353.4" r="5.5"/><circle cx="723.9" cy="353.1" r="5.5"/><circle cx="703.6" cy="373.0" r="5.5"/><circle cx="750.7" cy="355.7" r="5.5"/><circle cx="789.5" cy="365.9" r="5.5"/><circle cx="706.4" cy="284.5" r="5.5"/><circle cx="774.0" cy="371.3" r="5.5"/><circle cx="523.0" cy="333.0" r="5.5"/><circle cx="737.9" cy="364.2" r="5.5"/><circle cx="773.8" cy="373.9" r="5.5"/><circle cx="769.6" cy="340.8" r="5.5"/><circle cx="718.1" cy="375.5" r="5.5"/><circle cx="783.9" cy="375.7" r="5.5"/><circle cx="794.1" cy="364.7" r="5.5"/><circle cx="774.2" cy="370.1" r="5.5"/><circle cx="796.1" cy="372.7" r="5.5"/><circle cx="771.7" cy="368.6" r="5.5"/><circle cx="757.3" cy="351.2" r="5.5"/><circle cx="804.3" cy="361.9" r="5.5"/><circle cx="715.6" cy="350.0" r="5.5"/><circle cx="711.8" cy="370.6" r="5.5"/><circle cx="745.2" cy="362.5" r="5.5"/><circle cx="743.7" cy="364.3" r="5.5"/><circle cx="712.2" cy="290.4" r="5.5"/><circle cx="497.5" cy="454.0" r="5.5"/><circle cx="707.0" cy="368.4" r="5.5"/><circle cx="804.7" cy="373.7" r="5.5"/><circle cx="718.0" cy="364.9" r="5.5"/><circle cx="740.3" cy="361.6" r="5.5"/><circle cx="736.0" cy="374.9" r="5.5"/><circle cx="716.6" cy="361.4" r="5.5"/><circle cx="765.3" cy="374.2" r="5.5"/><circle cx="782.8" cy="367.1" r="5.5"/><circle cx="799.0" cy="373.0" r="5.5"/><circle cx="787.3" cy="350.7" r="5.5"/><circle cx="775.4" cy="371.2" r="5.5"/><circle cx="778.1" cy="372.9" r="5.5"/><circle cx="765.5" cy="339.2" r="5.5"/><circle cx="805.8" cy="365.4" r="5.5"/><circle cx="804.3" cy="381.7" r="5.5"/><circle cx="765.6" cy="344.0" r="5.5"/><circle cx="794.4" cy="337.4" r="5.5"/><circle cx="794.4" cy="340.1" r="5.5"/><circle cx="710.2" cy="362.7" r="5.5"/><circle cx="497.5" cy="454.0" r="5.5"/><circle cx="766.7" cy="376.1" r="5.5"/><circle cx="735.7" cy="373.4" r="5.5"/><circle cx="785.4" cy="373.4" r="5.5"/>
</g>
<g class="c8">
<circle cx="863.7" cy="370.6" r="5.5"/><circle cx="886.7" cy="380.1" r="5.5"/><circle cx="881.6" cy="419.7" r="5.5"/><circle cx="868.9" cy="391.7" r="5.5"/><circle cx="898.7" cy="394.1" r="5.5"/><circle cx="871.2" cy="382.9" r="5.5"/><circle cx="921.2" cy="422.0" r="5.5"/><circle cx="909.6" cy="413.5" r="5.5"/><circle cx="882.3" cy="364.2" r="5.5"/><circle cx="919.0" cy="387.1" r="5.5"/><circle cx="868.2" cy="406.7" r="5.5"/><circle cx="864.7" cy="341.2" r="5.5"/><circle cx="845.8" cy="380.6" r="5.5"/><circle cx="835.6" cy="380.1" r="5.5"/><circle cx="874.0" cy="402.6" r="5.5"/><circle cx="897.1" cy="436.1" r="5.5"/><circle cx="893.6" cy="427.4" r="5.5"/><circle cx="899.1" cy="437.1" r="5.5"/><circle cx="878.9" cy="376.1" r="5.5"/><circle cx="896.2" cy="403.0" r="5.5"/><circle cx="875.3" cy="379.1" r="5.5"/><circle cx="910.9" cy="391.0" r="5.5"/><circle cx="844.5" cy="392.3" r="5.5"/><circle cx="897.9" cy="394.8" r="5.5"/><circle cx="862.3" cy="342.3" r="5.5"/><circle cx="838.8" cy="407.1" r="5.5"/><circle cx="923.0" cy="406.2" r="5.5"/><circle cx="858.5" cy="414.9" r="5.5"/><circle cx="861.2" cy="382.3" r="5.5"/><circle cx="864.2" cy="386.2" r="5.5"/><circle cx="826.7" cy="386.8" r="5.5"/><circle cx="855.8" cy="404.7" r="5.5"/><circle cx="520.0" cy="331.0" r="5.5"/><circle cx="893.5" cy="412.8" r="5.5"/><circle cx="853.4" cy="409.9" r="5.5"/><circle cx="870.7" cy="402.8" r="5.5"/><circle cx="838.0" cy="379.0" r="5.5"/><circle cx="878.9" cy="419.8" r="5.5"/><circle cx="843.6" cy="399.2" r="5.5"/><circle cx="882.7" cy="376.2" r="5.5"/><circle cx="904.1" cy="400.8" r="5.5"/><circle cx="908.2" cy="390.0" r="5.5"/><circle cx="850.2" cy="409.4" r="5.5"/><circle cx="914.3" cy="387.5" r="5.5"/><circle cx="880.7" cy="342.5" r="5.5"/><circle cx="914.0" cy="433.4" r="5.5"/><circle cx="862.7" cy="378.6" r="5.5"/><circle cx="896.1" cy="390.9" r="5.5"/><circle cx="870.3" cy="370.7" r="5.5"/><circle cx="913.9" cy="402.6" r="5.5"/><circle cx="882.0" cy="379.5" r="5.5"/><circle cx="918.1" cy="419.3" r="5.5"/><circle cx="888.5" cy="340.4" r="5.5"/><circle cx="925.5" cy="400.3" r="5.5"/><circle cx="915.5" cy="390.4" r="5.5"/><circle cx="874.0" cy="367.5" r="5.5"/><circle cx="869.9" cy="404.9" r="5.5"/><circle cx="918.0" cy="410.3" r="5.5"/><circle cx="886.9" cy="342.5" r="5.5"/><circle cx="862.2" cy="393.0" r="5.5"/><circle cx="901.0" cy="384.0" r="5.5"/><circle cx="900.1" cy="438.2" r="5.5"/><circle cx="890.7" cy="406.9" r="5.5"/><circle cx="838.0" cy="383.3" r="5.5"/><circle cx="896.4" cy="439.6" r="5.5"/><circle cx="892.8" cy="390.7" r="5.5"/><circle cx="896.3" cy="417.1" r="5.5"/><circle cx="891.4" cy="414.0" r="5.5"/><circle cx="882.9" cy="413.5" r="5.5"/><circle cx="907.1" cy="435.3" r="5.5"/><circle cx="857.5" cy="366.2" r="5.5"/><circle cx="903.0" cy="409.0" r="5.5"/><circle cx="863.5" cy="405.3" r="5.5"/><circle cx="896.6" cy="400.6" r="5.5"/><circle cx="855.3" cy="374.3" r="5.5"/><circle cx="913.8" cy="431.9" r="5.5"/><circle cx="836.9" cy="383.9" r="5.5"/><circle cx="915.1" cy="419.2" r="5.5"/><circle cx="894.2" cy="422.2" r="5.5"/><circle cx="865.1" cy="381.5" r="5.5"/><circle cx="843.5" cy="415.8" r="5.5"/><circle cx="858.6" cy="374.4" r="5.5"/><circle cx="847.6" cy="382.0" r="5.5"/><circle cx="887.7" cy="416.8" r="5.5"/><circle cx="906.2" cy="422.2" r="5.5"/><circle cx="885.9" cy="363.3" r="5.5"/><circle cx="912.2" cy="386.2" r="5.5"/><circle cx="854.2" cy="401.5" r="5.5"/><circle cx="870.9" cy="413.6" r="5.5"/><circle cx="847.4" cy="401.3" r="5.5"/><circle cx="862.6" cy="380.1" r="5.5"/><circle cx="901.2" cy="418.2" r="5.5"/><circle cx="835.0" cy="390.8" r="5.5"/><circle cx="875.3" cy="381.0" r="5.5"/><circle cx="891.1" cy="413.1" r="5.5"/><circle cx="910.8" cy="441.9" r="5.5"/><circle cx="847.1" cy="405.0" r="5.5"/><circle cx="858.4" cy="360.5" r="5.5"/><circle cx="854.1" cy="409.2" r="5.5"/><circle cx="843.4" cy="407.0" r="5.5"/><circle cx="881.9" cy="378.5" r="5.5"/><circle cx="880.5" cy="367.5" r="5.5"/><circle cx="855.3" cy="413.9" r="5.5"/><circle cx="912.7" cy="433.9" r="5.5"/><circle cx="867.8" cy="400.5" r="5.5"/><circle cx="911.3" cy="410.6" r="5.5"/><circle cx="876.5" cy="373.0" r="5.5"/><circle cx="853.3" cy="403.3" r="5.5"/><circle cx="858.1" cy="380.7" r="5.5"/><circle cx="890.2" cy="405.1" r="5.5"/><circle cx="834.5" cy="377.7" r="5.5"/><circle cx="876.5" cy="384.7" r="5.5"/><circle cx="897.3" cy="414.9" r="5.5"/><circle cx="890.0" cy="396.4" r="5.5"/><circle cx="893.9" cy="410.0" r="5.5"/><circle cx="868.9" cy="377.6" r="5.5"/><circle cx="862.8" cy="405.5" r="5.5"/><circle cx="861.2" cy="392.6" r="5.5"/><circle cx="904.3" cy="440.1" r="5.5"/>
</g>
<g class="c9">
<circle cx="997.6" cy="354.0" r="5.5"/><circle cx="1031.9" cy="383.4" r="5.5"/><circle cx="1034.1" cy="344.6" r="5.5"/><circle cx="1038.4" cy="380.3" r="5.5"/><circle cx="989.1" cy="359.4" r="5.5"/><circle cx="1036.7" cy="356.3" r="5.5"/><circle cx="1000.8" cy="378.1" r="5.5"/><circle cx="989.3" cy="355.0" r="5.5"/><circle cx="1010.5" cy="385.4" r="5.5"/><circle cx="1009.7" cy="350.5" r="5.5"/><circle cx="1008.1" cy="355.9" r="5.5"/><circle cx="985.2" cy="372.3" r="5.5"/><circle cx="1019.9" cy="356.2" r="5.5"/><circle cx="1019.4" cy="345.1" r="5.5"/><circle cx="1027.2" cy="356.8" r="5.5"/><circle cx="1004.8" cy="381.3" r="5.5"/><circle cx="1027.5" cy="354.1" r="5.5"/><circle cx="1026.9" cy="356.6" r="5.5"/><circle cx="1007.2" cy="357.2" r="5.5"/><circle cx="1043.2" cy="346.9" r="5.5"/><circle cx="1020.3" cy="358.2" r="5.5"/><circle cx="1024.1" cy="361.6" r="5.5"/><circle cx="999.6" cy="370.2" r="5.5"/><circle cx="1019.4" cy="383.8" r="5.5"/><circle cx="1057.2" cy="351.1" r="5.5"/><circle cx="1055.8" cy="365.6" r="5.5"/><circle cx="1016.4" cy="361.3" r="5.5"/><circle cx="1024.0" cy="360.3" r="5.5"/><circle cx="992.4" cy="354.7" r="5.5"/><circle cx="996.4" cy="359.4" r="5.5"/><circle cx="1013.2" cy="370.7" r="5.5"/><circle cx="1038.5" cy="372.6" r="5.5"/><circle cx="999.3" cy="369.1" r="5.5"/><circle cx="1041.6" cy="372.2" r="5.5"/><circle cx="1012.3" cy="378.2" r="5.5"/><circle cx="1044.6" cy="355.7" r="5.5"/><circle cx="1029.6" cy="350.6" r="5.5"/><circle cx="1042.8" cy="367.0" r="5.5"/><circle cx="1031.3" cy="359.4" r="5.5"/><circle cx="1033.4" cy="370.1" r="5.5"/><circle cx="1024.4" cy="368.0" r="5.5"/><circle cx="991.1" cy="366.0" r="5.5"/><circle cx="1036.5" cy="368.5" r="5.5"/><circle cx="1008.1" cy="355.1" r="5.5"/><circle cx="1007.5" cy="389.7" r="5.5"/><circle cx="1023.6" cy="390.8" r="5.5"/><circle cx="1002.1" cy="346.3" r="5.5"/><circle cx="1009.0" cy="382.3" r="5.5"/><circle cx="1003.1" cy="366.8" r="5.5"/><circle cx="981.5" cy="356.1" r="5.5"/><circle cx="1028.3" cy="387.2" r="5.5"/><circle cx="1038.8" cy="382.8" r="5.5"/><circle cx="1020.7" cy="345.5" r="5.5"/><circle cx="1010.6" cy="341.8" r="5.5"/><circle cx="1030.5" cy="353.2" r="5.5"/><circle cx="1037.9" cy="349.1" r="5.5"/><circle cx="1038.9" cy="367.2" r="5.5"/><circle cx="1027.4" cy="364.6" r="5.5"/><circle cx="1021.4" cy="371.6" r="5.5"/><circle cx="1033.5" cy="354.0" r="5.5"/><circle cx="1000.4" cy="371.4" r="5.5"/><circle cx="1011.9" cy="385.6" r="5.5"/><circle cx="1035.1" cy="362.5" r="5.5"/><circle cx="1039.9" cy="351.1" r="5.5"/><circle cx="1031.8" cy="386.4" r="5.5"/><circle cx="1024.3" cy="385.0" r="5.5"/><circle cx="1014.5" cy="378.3" r="5.5"/><circle cx="1036.6" cy="349.1" r="5.5"/><circle cx="1034.7" cy="346.0" r="5.5"/><circle cx="1028.5" cy="388.3" r="5.5"/><circle cx="1053.2" cy="349.7" r="5.5"/><circle cx="1046.4" cy="373.1" r="5.5"/><circle cx="1019.9" cy="375.0" r="5.5"/><circle cx="1025.0" cy="371.5" r="5.5"/><circle cx="1027.8" cy="380.7" r="5.5"/><circle cx="1017.7" cy="356.2" r="5.5"/><circle cx="1015.1" cy="347.5" r="5.5"/><circle cx="1022.7" cy="364.8" r="5.5"/><circle cx="1004.9" cy="351.6" r="5.5"/><circle cx="996.5" cy="366.9" r="5.5"/><circle cx="1014.9" cy="341.1" r="5.5"/><circle cx="1013.5" cy="360.4" r="5.5"/><circle cx="1011.3" cy="375.6" r="5.5"/><circle cx="1016.7" cy="365.7" r="5.5"/><circle cx="1029.0" cy="357.4" r="5.5"/><circle cx="1023.1" cy="350.1" r="5.5"/><circle cx="1019.1" cy="381.7" r="5.5"/><circle cx="1042.0" cy="350.8" r="5.5"/><circle cx="1052.3" cy="374.3" r="5.5"/><circle cx="1027.5" cy="365.6" r="5.5"/><circle cx="1044.8" cy="371.1" r="5.5"/><circle cx="1000.1" cy="345.8" r="5.5"/><circle cx="1001.1" cy="342.9" r="5.5"/><circle cx="1032.7" cy="357.2" r="5.5"/><circle cx="1039.5" cy="353.2" r="5.5"/><circle cx="994.4" cy="357.7" r="5.5"/><circle cx="1030.5" cy="347.9" r="5.5"/><circle cx="1042.0" cy="351.7" r="5.5"/><circle cx="1046.3" cy="347.9" r="5.5"/><circle cx="997.4" cy="377.3" r="5.5"/><circle cx="1003.8" cy="353.0" r="5.5"/><circle cx="1023.6" cy="379.2" r="5.5"/><circle cx="1020.2" cy="384.5" r="5.5"/><circle cx="988.7" cy="359.7" r="5.5"/><circle cx="1024.1" cy="401.7" r="5.5"/><circle cx="989.2" cy="368.2" r="5.5"/><circle cx="1025.2" cy="374.2" r="5.5"/><circle cx="992.2" cy="355.2" r="5.5"/><circle cx="1049.6" cy="349.4" r="5.5"/><circle cx="1029.1" cy="355.1" r="5.5"/><circle cx="1008.0" cy="359.4" r="5.5"/><circle cx="1023.2" cy="341.6" r="5.5"/><circle cx="1013.6" cy="344.7" r="5.5"/><circle cx="1050.6" cy="370.2" r="5.5"/><circle cx="1048.6" cy="353.8" r="5.5"/><circle cx="990.6" cy="351.0" r="5.5"/>
</g>
<g class="c10">
<circle cx="453.7" cy="688.4" r="5.5"/><circle cx="480.5" cy="660.2" r="5.5"/><circle cx="474.3" cy="705.6" r="5.5"/><circle cx="468.5" cy="660.5" r="5.5"/><circle cx="473.7" cy="618.4" r="5.5"/><circle cx="491.0" cy="680.0" r="5.5"/><circle cx="476.6" cy="653.8" r="5.5"/><circle cx="434.0" cy="696.5" r="5.5"/><circle cx="482.6" cy="626.3" r="5.5"/><circle cx="480.3" cy="625.1" r="5.5"/><circle cx="438.1" cy="700.3" r="5.5"/><circle cx="444.1" cy="703.2" r="5.5"/><circle cx="472.5" cy="653.0" r="5.5"/><circle cx="475.2" cy="661.2" r="5.5"/><circle cx="458.1" cy="695.9" r="5.5"/><circle cx="478.1" cy="646.2" r="5.5"/><circle cx="456.0" cy="673.6" r="5.5"/><circle cx="473.9" cy="670.1" r="5.5"/><circle cx="433.2" cy="699.6" r="5.5"/><circle cx="482.6" cy="626.5" r="5.5"/><circle cx="468.2" cy="643.0" r="5.5"/><circle cx="444.2" cy="694.4" r="5.5"/><circle cx="488.3" cy="682.5" r="5.5"/><circle cx="464.9" cy="659.5" r="5.5"/><circle cx="467.0" cy="660.7" r="5.5"/><circle cx="470.8" cy="709.9" r="5.5"/><circle cx="453.0" cy="687.8" r="5.5"/><circle cx="466.6" cy="673.5" r="5.5"/><circle cx="468.9" cy="698.6" r="5.5"/><circle cx="473.0" cy="643.7" r="5.5"/><circle cx="456.2" cy="698.2" r="5.5"/><circle cx="464.8" cy="649.2" r="5.5"/><circle cx="460.3" cy="651.6" r="5.5"/><circle cx="473.0" cy="644.1" r="5.5"/><circle cx="471.7" cy="643.1" r="5.5"/><circle cx="463.4" cy="700.1" r="5.5"/><circle cx="461.3" cy="652.8" r="5.5"/><circle cx="473.3" cy="643.4" r="5.5"/><circle cx="458.3" cy="655.0" r="5.5"/><circle cx="473.1" cy="640.7" r="5.5"/><circle cx="470.8" cy="671.7" r="5.5"/><circle cx="480.0" cy="621.8" r="5.5"/><circle cx="467.8" cy="655.0" r="5.5"/><circle cx="438.2" cy="694.4" r="5.5"/><circle cx="450.5" cy="683.6" r="5.5"/><circle cx="450.7" cy="699.8" r="5.5"/><circle cx="484.1" cy="675.1" r="5.5"/><circle cx="442.6" cy="694.4" r="5.5"/><circle cx="472.8" cy="618.0" r="5.5"/><circle cx="462.1" cy="659.7" r="5.5"/><circle cx="462.3" cy="707.3" r="5.5"/><circle cx="462.5" cy="649.0" r="5.5"/><circle cx="476.9" cy="620.1" r="5.5"/><circle cx="443.1" cy="698.1" r="5.5"/><circle cx="456.4" cy="651.8" r="5.5"/><circle cx="444.1" cy="698.2" r="5.5"/><circle cx="492.7" cy="680.6" r="5.5"/><circle cx="429.5" cy="705.2" r="5.5"/><circle cx="462.6" cy="666.9" r="5.5"/><circle cx="461.3" cy="639.3" r="5.5"/><circle cx="476.6" cy="658.7" r="5.5"/><circle cx="458.6" cy="703.6" r="5.5"/><circle cx="483.1" cy="658.9" r="5.5"/><circle cx="473.1" cy="647.6" r="5.5"/><circle cx="468.7" cy="696.3" r="5.5"/><circle cx="460.1" cy="654.4" r="5.5"/><circle cx="437.6" cy="685.8" r="5.5"/><circle cx="437.6" cy="689.3" r="5.5"/><circle cx="474.1" cy="655.3" r="5.5"/><circle cx="432.5" cy="693.5" r="5.5"/><circle cx="463.4" cy="663.5" r="5.5"/><circle cx="473.0" cy="666.5" r="5.5"/><circle cx="447.7" cy="701.4" r="5.5"/><circle cx="478.6" cy="622.1" r="5.5"/><circle cx="470.1" cy="659.9" r="5.5"/><circle cx="464.8" cy="649.1" r="5.5"/><circle cx="440.8" cy="688.3" r="5.5"/><circle cx="466.0" cy="669.6" r="5.5"/><circle cx="427.1" cy="689.3" r="5.5"/><circle cx="476.9" cy="638.3" r="5.5"/><circle cx="465.0" cy="652.7" r="5.5"/><circle cx="467.9" cy="656.2" r="5.5"/><circle cx="480.7" cy="623.7" r="5.5"/><circle cx="460.1" cy="702.2" r="5.5"/><circle cx="490.7" cy="680.9" r="5.5"/><circle cx="440.1" cy="695.3" r="5.5"/><circle cx="474.7" cy="664.4" r="5.5"/><circle cx="459.3" cy="701.5" r="5.5"/><circle cx="477.3" cy="665.2" r="5.5"/><circle cx="473.9" cy="648.8" r="5.5"/>
</g>
<g class="c11">
<circle cx="887.9" cy="497.2" r="5.5"/><circle cx="872.0" cy="505.1" r="5.5"/><circle cx="825.4" cy="530.2" r="5.5"/><circle cx="842.8" cy="515.6" r="5.5"/><circle cx="839.7" cy="511.6" r="5.5"/><circle cx="846.9" cy="509.0" r="5.5"/><circle cx="871.6" cy="513.2" r="5.5"/><circle cx="886.4" cy="500.7" r="5.5"/><circle cx="876.3" cy="518.5" r="5.5"/><circle cx="839.3" cy="521.4" r="5.5"/><circle cx="873.5" cy="519.3" r="5.5"/><circle cx="824.8" cy="531.7" r="5.5"/><circle cx="830.2" cy="537.2" r="5.5"/><circle cx="846.7" cy="519.1" r="5.5"/><circle cx="872.0" cy="510.3" r="5.5"/><circle cx="847.2" cy="539.6" r="5.5"/><circle cx="838.3" cy="514.2" r="5.5"/><circle cx="832.0" cy="533.1" r="5.5"/><circle cx="825.6" cy="514.9" r="5.5"/><circle cx="845.3" cy="514.9" r="5.5"/><circle cx="873.7" cy="516.2" r="5.5"/><circle cx="874.8" cy="491.4" r="5.5"/><circle cx="857.3" cy="506.7" r="5.5"/><circle cx="860.3" cy="503.6" r="5.5"/><circle cx="843.8" cy="503.8" r="5.5"/><circle cx="868.4" cy="509.4" r="5.5"/><circle cx="843.5" cy="509.2" r="5.5"/><circle cx="869.7" cy="500.5" r="5.5"/><circle cx="724.0" cy="467.0" r="5.5"/><circle cx="852.0" cy="535.6" r="5.5"/><circle cx="853.1" cy="497.4" r="5.5"/><circle cx="831.1" cy="539.5" r="5.5"/><circle cx="836.2" cy="545.5" r="5.5"/><circle cx="839.1" cy="539.2" r="5.5"/><circle cx="870.6" cy="510.3" r="5.5"/><circle cx="886.1" cy="494.8" r="5.5"/><circle cx="838.3" cy="507.6" r="5.5"/><circle cx="851.3" cy="506.6" r="5.5"/><circle cx="839.9" cy="533.5" r="5.5"/><circle cx="848.9" cy="525.2" r="5.5"/><circle cx="850.2" cy="534.0" r="5.5"/><circle cx="849.7" cy="525.4" r="5.5"/><circle cx="838.3" cy="540.1" r="5.5"/><circle cx="879.2" cy="492.9" r="5.5"/><circle cx="869.1" cy="492.2" r="5.5"/><circle cx="853.6" cy="543.0" r="5.5"/><circle cx="846.2" cy="523.2" r="5.5"/><circle cx="850.9" cy="526.5" r="5.5"/><circle cx="887.5" cy="499.8" r="5.5"/><circle cx="833.0" cy="511.7" r="5.5"/><circle cx="833.7" cy="528.8" r="5.5"/><circle cx="844.0" cy="541.0" r="5.5"/><circle cx="865.0" cy="504.0" r="5.5"/><circle cx="836.5" cy="532.3" r="5.5"/><circle cx="841.9" cy="548.3" r="5.5"/><circle cx="864.7" cy="517.9" r="5.5"/><circle cx="866.8" cy="500.9" r="5.5"/><circle cx="846.0" cy="521.5" r="5.5"/><circle cx="874.7" cy="502.9" r="5.5"/><circle cx="829.5" cy="521.1" r="5.5"/><circle cx="867.4" cy="515.5" r="5.5"/><circle cx="873.0" cy="511.2" r="5.5"/><circle cx="819.3" cy="530.8" r="5.5"/><circle cx="844.6" cy="529.5" r="5.5"/><circle cx="844.3" cy="527.2" r="5.5"/><circle cx="874.5" cy="503.8" r="5.5"/><circle cx="888.5" cy="494.2" r="5.5"/><circle cx="838.3" cy="541.4" r="5.5"/><circle cx="872.0" cy="512.5" r="5.5"/><circle cx="850.8" cy="506.1" r="5.5"/><circle cx="883.2" cy="497.1" r="5.5"/><circle cx="817.0" cy="560.0" r="5.5"/><circle cx="838.7" cy="535.2" r="5.5"/><circle cx="847.2" cy="536.7" r="5.5"/><circle cx="852.3" cy="526.8" r="5.5"/><circle cx="842.4" cy="545.7" r="5.5"/><circle cx="829.9" cy="510.3" r="5.5"/>
</g>
<g class="c12">
<circle cx="864.6" cy="685.4" r="5.5"/><circle cx="858.0" cy="675.3" r="5.5"/><circle cx="844.5" cy="715.9" r="5.5"/><circle cx="864.0" cy="684.6" r="5.5"/><circle cx="873.4" cy="707.9" r="5.5"/><circle cx="858.6" cy="675.9" r="5.5"/><circle cx="844.6" cy="710.9" r="5.5"/><circle cx="863.9" cy="689.1" r="5.5"/><circle cx="875.4" cy="686.9" r="5.5"/><circle cx="869.7" cy="682.5" r="5.5"/><circle cx="871.0" cy="678.1" r="5.5"/><circle cx="854.9" cy="711.1" r="5.5"/><circle cx="872.4" cy="683.9" r="5.5"/><circle cx="876.3" cy="681.3" r="5.5"/><circle cx="858.0" cy="687.3" r="5.5"/><circle cx="855.8" cy="699.8" r="5.5"/><circle cx="865.0" cy="676.5" r="5.5"/><circle cx="730.0" cy="487.0" r="5.5"/><circle cx="861.4" cy="668.7" r="5.5"/><circle cx="855.9" cy="678.9" r="5.5"/><circle cx="856.7" cy="712.0" r="5.5"/><circle cx="863.0" cy="693.4" r="5.5"/><circle cx="859.8" cy="699.2" r="5.5"/><circle cx="840.4" cy="712.1" r="5.5"/><circle cx="846.2" cy="694.3" r="5.5"/><circle cx="851.3" cy="708.9" r="5.5"/><circle cx="850.0" cy="701.1" r="5.5"/><circle cx="853.8" cy="699.0" r="5.5"/><circle cx="863.7" cy="697.1" r="5.5"/><circle cx="875.8" cy="682.1" r="5.5"/><circle cx="845.3" cy="703.5" r="5.5"/><circle cx="862.5" cy="704.0" r="5.5"/><circle cx="847.9" cy="714.6" r="5.5"/><circle cx="858.1" cy="688.9" r="5.5"/><circle cx="842.5" cy="707.1" r="5.5"/><circle cx="847.9" cy="693.8" r="5.5"/><circle cx="855.7" cy="696.3" r="5.5"/><circle cx="856.2" cy="708.7" r="5.5"/><circle cx="870.2" cy="688.5" r="5.5"/><circle cx="864.4" cy="703.9" r="5.5"/><circle cx="841.8" cy="702.6" r="5.5"/><circle cx="853.0" cy="682.5" r="5.5"/><circle cx="847.4" cy="694.1" r="5.5"/><circle cx="853.7" cy="711.0" r="5.5"/><circle cx="870.3" cy="689.8" r="5.5"/><circle cx="858.9" cy="695.6" r="5.5"/><circle cx="851.1" cy="710.4" r="5.5"/><circle cx="844.1" cy="689.8" r="5.5"/><circle cx="871.0" cy="699.5" r="5.5"/><circle cx="861.1" cy="708.9" r="5.5"/><circle cx="852.3" cy="712.5" r="5.5"/><circle cx="868.2" cy="708.4" r="5.5"/><circle cx="874.9" cy="691.5" r="5.5"/><circle cx="844.1" cy="718.7" r="5.5"/><circle cx="875.0" cy="681.8" r="5.5"/><circle cx="854.8" cy="714.9" r="5.5"/><circle cx="843.4" cy="686.7" r="5.5"/><circle cx="836.8" cy="702.3" r="5.5"/><circle cx="859.4" cy="705.0" r="5.5"/><circle cx="861.5" cy="706.0" r="5.5"/><circle cx="867.8" cy="683.3" r="5.5"/><circle cx="869.0" cy="696.1" r="5.5"/><circle cx="869.2" cy="686.2" r="5.5"/><circle cx="870.8" cy="692.2" r="5.5"/><circle cx="849.8" cy="706.7" r="5.5"/><circle cx="842.9" cy="706.6" r="5.5"/>
</g>
<g class="c13">
<circle cx="537.7" cy="838.3" r="5.5"/><circle cx="532.4" cy="836.7" r="5.5"/><circle cx="526.1" cy="825.4" r="5.5"/><circle cx="549.3" cy="849.4" r="5.5"/><circle cx="522.6" cy="819.5" r="5.5"/><circle cx="543.5" cy="835.7" r="5.5"/><circle cx="555.2" cy="847.9" r="5.5"/><circle cx="533.9" cy="833.2" r="5.5"/><circle cx="558.1" cy="856.1" r="5.5"/><circle cx="539.4" cy="824.0" r="5.5"/><circle cx="558.1" cy="855.5" r="5.5"/><circle cx="542.7" cy="847.1" r="5.5"/><circle cx="540.6" cy="835.0" r="5.5"/><circle cx="521.5" cy="829.2" r="5.5"/><circle cx="527.7" cy="828.4" r="5.5"/><circle cx="549.0" cy="852.4" r="5.5"/><circle cx="529.1" cy="814.3" r="5.5"/><circle cx="560.1" cy="855.7" r="5.5"/><circle cx="557.2" cy="853.4" r="5.5"/><circle cx="516.7" cy="823.6" r="5.5"/><circle cx="544.3" cy="827.0" r="5.5"/><circle cx="553.7" cy="849.1" r="5.5"/><circle cx="534.6" cy="821.8" r="5.5"/><circle cx="527.9" cy="831.8" r="5.5"/><circle cx="547.1" cy="844.3" r="5.5"/><circle cx="541.6" cy="832.9" r="5.5"/><circle cx="561.3" cy="857.6" r="5.5"/><circle cx="555.5" cy="849.9" r="5.5"/><circle cx="549.5" cy="842.4" r="5.5"/><circle cx="544.3" cy="845.9" r="5.5"/><circle cx="534.8" cy="814.0" r="5.5"/><circle cx="525.5" cy="836.0" r="5.5"/><circle cx="561.4" cy="857.4" r="5.5"/><circle cx="523.1" cy="828.9" r="5.5"/><circle cx="558.3" cy="854.3" r="5.5"/><circle cx="547.1" cy="840.5" r="5.5"/>
</g>
<g class="c14">
<circle cx="536.4" cy="368.3" r="5.5"/><circle cx="519.3" cy="399.9" r="5.5"/><circle cx="530.4" cy="392.4" r="5.5"/><circle cx="463.2" cy="418.9" r="5.5"/><circle cx="461.6" cy="413.4" r="5.5"/><circle cx="464.1" cy="401.7" r="5.5"/><circle cx="542.5" cy="364.9" r="5.5"/><circle cx="543.5" cy="403.3" r="5.5"/><circle cx="456.2" cy="408.9" r="5.5"/><circle cx="452.9" cy="384.7" r="5.5"/><circle cx="461.7" cy="400.1" r="5.5"/><circle cx="456.7" cy="399.2" r="5.5"/><circle cx="539.8" cy="391.4" r="5.5"/><circle cx="464.1" cy="400.2" r="5.5"/><circle cx="459.8" cy="378.9" r="5.5"/><circle cx="468.9" cy="391.9" r="5.5"/><circle cx="547.2" cy="373.3" r="5.5"/><circle cx="469.6" cy="394.1" r="5.5"/><circle cx="464.6" cy="393.6" r="5.5"/><circle cx="534.8" cy="398.1" r="5.5"/><circle cx="468.4" cy="409.5" r="5.5"/><circle cx="449.9" cy="397.3" r="5.5"/><circle cx="475.1" cy="400.3" r="5.5"/><circle cx="541.0" cy="374.8" r="5.5"/><circle cx="533.3" cy="382.2" r="5.5"/><circle cx="535.8" cy="391.1" r="5.5"/><circle cx="470.7" cy="404.3" r="5.5"/><circle cx="457.9" cy="388.1" r="5.5"/><circle cx="530.8" cy="408.0" r="5.5"/><circle cx="456.2" cy="406.3" r="5.5"/><circle cx="472.0" cy="401.0" r="5.5"/><circle cx="454.1" cy="390.2" r="5.5"/><circle cx="551.9" cy="381.5" r="5.5"/><circle cx="463.1" cy="379.9" r="5.5"/><circle cx="540.3" cy="369.7" r="5.5"/><circle cx="463.6" cy="404.3" r="5.5"/><circle cx="459.3" cy="389.3" r="5.5"/><circle cx="537.5" cy="394.0" r="5.5"/><circle cx="465.2" cy="389.9" r="5.5"/><circle cx="541.6" cy="380.5" r="5.5"/><circle cx="459.7" cy="407.6" r="5.5"/><circle cx="550.0" cy="400.3" r="5.5"/><circle cx="543.6" cy="364.5" r="5.5"/><circle cx="471.7" cy="412.9" r="5.5"/><circle cx="460.4" cy="398.5" r="5.5"/><circle cx="548.4" cy="394.9" r="5.5"/><circle cx="542.9" cy="408.4" r="5.5"/><circle cx="457.3" cy="385.8" r="5.5"/><circle cx="536.0" cy="407.9" r="5.5"/><circle cx="472.7" cy="397.7" r="5.5"/>
</g>
<g class="c15">
<circle cx="925.2" cy="318.0" r="5.5"/><circle cx="913.5" cy="325.0" r="5.5"/><circle cx="921.7" cy="320.4" r="5.5"/><circle cx="927.4" cy="314.5" r="5.5"/><circle cx="921.4" cy="319.6" r="5.5"/><circle cx="917.5" cy="321.5" r="5.5"/><circle cx="923.9" cy="318.8" r="5.5"/><circle cx="919.2" cy="321.5" r="5.5"/>
</g>
<g class="c16">
<circle cx="807.5" cy="570.5" r="5.5"/><circle cx="723.0" cy="592.4" r="5.5"/><circle cx="751.8" cy="596.6" r="5.5"/><circle cx="787.6" cy="543.1" r="5.5"/><circle cx="699.6" cy="526.3" r="5.5"/><circle cx="751.2" cy="552.2" r="5.5"/><circle cx="744.9" cy="578.9" r="5.5"/><circle cx="754.6" cy="554.3" r="5.5"/><circle cx="797.3" cy="622.5" r="5.5"/><circle cx="778.0" cy="503.1" r="5.5"/><circle cx="661.0" cy="595.8" r="5.5"/><circle cx="753.0" cy="621.3" r="5.5"/><circle cx="700.7" cy="511.0" r="5.5"/><circle cx="693.4" cy="621.7" r="5.5"/><circle cx="689.0" cy="586.0" r="5.5"/><circle cx="690.9" cy="554.8" r="5.5"/><circle cx="713.9" cy="603.5" r="5.5"/><circle cx="705.2" cy="547.5" r="5.5"/><circle cx="709.4" cy="599.5" r="5.5"/><circle cx="782.9" cy="602.8" r="5.5"/><circle cx="732.6" cy="602.1" r="5.5"/><circle cx="707.6" cy="567.2" r="5.5"/><circle cx="721.5" cy="641.0" r="5.5"/><circle cx="784.3" cy="615.3" r="5.5"/><circle cx="784.0" cy="577.8" r="5.5"/><circle cx="803.2" cy="533.5" r="5.5"/><circle cx="764.2" cy="635.0" r="5.5"/><circle cx="718.1" cy="571.8" r="5.5"/><circle cx="656.3" cy="555.8" r="5.5"/><circle cx="811.6" cy="610.5" r="5.5"/><circle cx="762.5" cy="566.5" r="5.5"/><circle cx="735.6" cy="482.8" r="5.5"/><circle cx="761.7" cy="578.6" r="5.5"/><circle cx="798.2" cy="545.8" r="5.5"/><circle cx="739.0" cy="578.4" r="5.5"/><circle cx="754.4" cy="522.3" r="5.5"/><circle cx="652.7" cy="568.3" r="5.5"/><circle cx="784.6" cy="518.0" r="5.5"/><circle cx="723.7" cy="561.1" r="5.5"/><circle cx="702.0" cy="467.6" r="5.5"/><circle cx="772.6" cy="492.2" r="5.5"/><circle cx="684.9" cy="511.5" r="5.5"/><circle cx="715.1" cy="653.7" r="5.5"/><circle cx="706.3" cy="483.2" r="5.5"/><circle cx="804.0" cy="571.7" r="5.5"/><circle cx="759.8" cy="599.2" r="5.5"/><circle cx="718.0" cy="615.5" r="5.5"/><circle cx="772.0" cy="493.4" r="5.5"/><circle cx="698.7" cy="606.9" r="5.5"/><circle cx="651.2" cy="557.2" r="5.5"/><circle cx="778.5" cy="598.3" r="5.5"/><circle cx="778.0" cy="548.5" r="5.5"/><circle cx="758.8" cy="467.7" r="5.5"/><circle cx="758.7" cy="539.0" r="5.5"/><circle cx="765.2" cy="629.3" r="5.5"/><circle cx="785.7" cy="616.9" r="5.5"/><circle cx="725.2" cy="600.6" r="5.5"/><circle cx="712.1" cy="508.5" r="5.5"/><circle cx="732.9" cy="538.1" r="5.5"/><circle cx="755.7" cy="496.9" r="5.5"/><circle cx="726.1" cy="541.2" r="5.5"/><circle cx="649.9" cy="550.1" r="5.5"/><circle cx="692.5" cy="584.5" r="5.5"/><circle cx="752.5" cy="479.8" r="5.5"/><circle cx="757.0" cy="533.8" r="5.5"/><circle cx="771.7" cy="495.5" r="5.5"/><circle cx="795.8" cy="512.5" r="5.5"/><circle cx="759.6" cy="638.7" r="5.5"/><circle cx="732.0" cy="595.8" r="5.5"/><circle cx="680.7" cy="585.7" r="5.5"/><circle cx="765.3" cy="527.2" r="5.5"/><circle cx="681.7" cy="634.0" r="5.5"/><circle cx="711.1" cy="578.4" r="5.5"/><circle cx="760.0" cy="590.7" r="5.5"/><circle cx="732.5" cy="640.2" r="5.5"/><circle cx="786.1" cy="554.0" r="5.5"/><circle cx="727.1" cy="596.2" r="5.5"/><circle cx="697.6" cy="589.0" r="5.5"/><circle cx="712.8" cy="514.8" r="5.5"/><circle cx="800.2" cy="533.3" r="5.5"/><circle cx="796.0" cy="593.6" r="5.5"/><circle cx="746.0" cy="522.0" r="5.5"/><circle cx="646.9" cy="555.9" r="5.5"/><circle cx="716.9" cy="649.6" r="5.5"/><circle cx="749.1" cy="610.9" r="5.5"/><circle cx="748.1" cy="508.5" r="5.5"/><circle cx="790.7" cy="587.1" r="5.5"/><circle cx="704.1" cy="632.9" r="5.5"/><circle cx="680.4" cy="595.8" r="5.5"/><circle cx="798.3" cy="586.5" r="5.5"/><circle cx="806.3" cy="529.5" r="5.5"/><circle cx="759.0" cy="573.7" r="5.5"/><circle cx="790.6" cy="557.2" r="5.5"/><circle cx="787.4" cy="602.2" r="5.5"/><circle cx="714.3" cy="615.7" r="5.5"/><circle cx="710.1" cy="461.7" r="5.5"/><circle cx="738.7" cy="574.0" r="5.5"/><circle cx="785.7" cy="619.6" r="5.5"/><circle cx="785.3" cy="508.6" r="5.5"/><circle cx="775.2" cy="631.3" r="5.5"/><circle cx="751.5" cy="573.1" r="5.5"/><circle cx="734.9" cy="512.1" r="5.5"/><circle cx="735.9" cy="456.1" r="5.5"/><circle cx="802.7" cy="525.1" r="5.5"/><circle cx="709.4" cy="526.0" r="5.5"/><circle cx="709.5" cy="607.5" r="5.5"/><circle cx="758.0" cy="543.6" r="5.5"/><circle cx="705.5" cy="619.8" r="5.5"/><circle cx="757.9" cy="599.3" r="5.5"/><circle cx="725.7" cy="483.5" r="5.5"/><circle cx="692.5" cy="556.8" r="5.5"/><circle cx="739.3" cy="578.8" r="5.5"/><circle cx="769.4" cy="630.2" r="5.5"/><circle cx="723.2" cy="593.4" r="5.5"/><circle cx="772.4" cy="581.9" r="5.5"/><circle cx="762.9" cy="519.1" r="5.5"/><circle cx="694.1" cy="491.5" r="5.5"/><circle cx="719.5" cy="642.1" r="5.5"/><circle cx="709.1" cy="503.4" r="5.5"/><circle cx="655.2" cy="549.0" r="5.5"/><circle cx="778.5" cy="608.8" r="5.5"/><circle cx="782.1" cy="490.7" r="5.5"/><circle cx="721.7" cy="661.6" r="5.5"/><circle cx="792.9" cy="502.7" r="5.5"/><circle cx="779.4" cy="527.2" r="5.5"/><circle cx="736.5" cy="601.2" r="5.5"/><circle cx="736.8" cy="518.2" r="5.5"/><circle cx="695.5" cy="570.6" r="5.5"/><circle cx="786.8" cy="561.0" r="5.5"/><circle cx="735.9" cy="560.5" r="5.5"/><circle cx="773.0" cy="516.9" r="5.5"/><circle cx="749.9" cy="492.6" r="5.5"/><circle cx="692.6" cy="562.8" r="5.5"/><circle cx="735.5" cy="613.7" r="5.5"/><circle cx="679.9" cy="573.7" r="5.5"/><circle cx="588.0" cy="625.0" r="5.5"/><circle cx="736.9" cy="522.1" r="5.5"/><circle cx="712.7" cy="541.6" r="5.5"/><circle cx="690.8" cy="529.2" r="5.5"/><circle cx="769.0" cy="634.4" r="5.5"/><circle cx="744.7" cy="490.2" r="5.5"/><circle cx="695.0" cy="628.1" r="5.5"/><circle cx="754.0" cy="520.8" r="5.5"/><circle cx="807.2" cy="570.1" r="5.5"/><circle cx="800.1" cy="621.1" r="5.5"/><circle cx="789.5" cy="494.4" r="5.5"/><circle cx="676.8" cy="595.2" r="5.5"/><circle cx="790.4" cy="601.7" r="5.5"/><circle cx="810.9" cy="604.5" r="5.5"/><circle cx="697.3" cy="516.3" r="5.5"/><circle cx="708.6" cy="500.8" r="5.5"/><circle cx="724.8" cy="547.6" r="5.5"/><circle cx="781.6" cy="591.1" r="5.5"/><circle cx="722.1" cy="508.0" r="5.5"/><circle cx="757.1" cy="570.3" r="5.5"/><circle cx="776.2" cy="602.4" r="5.5"/><circle cx="714.7" cy="568.2" r="5.5"/><circle cx="744.7" cy="540.3" r="5.5"/><circle cx="774.4" cy="599.8" r="5.5"/><circle cx="760.2" cy="631.0" r="5.5"/><circle cx="760.6" cy="466.4" r="5.5"/><circle cx="706.7" cy="574.2" r="5.5"/><circle cx="764.3" cy="531.3" r="5.5"/><circle cx="783.3" cy="500.8" r="5.5"/><circle cx="758.1" cy="509.9" r="5.5"/><circle cx="798.5" cy="560.8" r="5.5"/><circle cx="746.8" cy="646.0" r="5.5"/><circle cx="779.3" cy="529.9" r="5.5"/><circle cx="716.1" cy="655.9" r="5.5"/><circle cx="698.0" cy="518.2" r="5.5"/><circle cx="727.9" cy="633.4" r="5.5"/><circle cx="683.8" cy="608.9" r="5.5"/><circle cx="742.5" cy="533.2" r="5.5"/><circle cx="729.3" cy="539.0" r="5.5"/><circle cx="818.2" cy="578.2" r="5.5"/><circle cx="710.1" cy="462.6" r="5.5"/><circle cx="717.6" cy="521.3" r="5.5"/><circle cx="681.4" cy="596.7" r="5.5"/><circle cx="751.4" cy="650.2" r="5.5"/><circle cx="771.6" cy="612.7" r="5.5"/><circle cx="800.1" cy="526.5" r="5.5"/><circle cx="766.3" cy="493.1" r="5.5"/><circle cx="735.5" cy="463.9" r="5.5"/><circle cx="683.8" cy="615.2" r="5.5"/><circle cx="711.6" cy="582.7" r="5.5"/><circle cx="714.6" cy="565.3" r="5.5"/><circle cx="738.5" cy="541.2" r="5.5"/><circle cx="714.8" cy="635.9" r="5.5"/><circle cx="781.8" cy="619.0" r="5.5"/><circle cx="757.4" cy="573.9" r="5.5"/><circle cx="712.1" cy="571.9" r="5.5"/><circle cx="742.3" cy="632.2" r="5.5"/><circle cx="694.3" cy="591.7" r="5.5"/><circle cx="736.5" cy="514.5" r="5.5"/><circle cx="718.8" cy="638.0" r="5.5"/><circle cx="673.1" cy="572.1" r="5.5"/><circle cx="721.9" cy="470.4" r="5.5"/><circle cx="746.7" cy="556.5" r="5.5"/><circle cx="777.7" cy="492.5" r="5.5"/><circle cx="688.0" cy="596.9" r="5.5"/><circle cx="758.6" cy="627.3" r="5.5"/><circle cx="730.5" cy="637.2" r="5.5"/><circle cx="735.8" cy="501.9" r="5.5"/><circle cx="744.9" cy="489.5" r="5.5"/><circle cx="752.8" cy="611.6" r="5.5"/><circle cx="741.5" cy="559.0" r="5.5"/><circle cx="712.8" cy="655.4" r="5.5"/><circle cx="764.2" cy="582.6" r="5.5"/><circle cx="802.6" cy="552.3" r="5.5"/><circle cx="763.1" cy="593.7" r="5.5"/><circle cx="780.9" cy="509.3" r="5.5"/><circle cx="750.1" cy="465.0" r="5.5"/><circle cx="706.9" cy="505.6" r="5.5"/><circle cx="733.9" cy="601.1" r="5.5"/><circle cx="640.0" cy="690.0" r="5.5"/><circle cx="754.7" cy="485.9" r="5.5"/><circle cx="765.5" cy="524.9" r="5.5"/><circle cx="738.0" cy="479.2" r="5.5"/><circle cx="720.6" cy="578.6" r="5.5"/><circle cx="746.8" cy="579.9" r="5.5"/><circle cx="719.0" cy="590.6" r="5.5"/><circle cx="723.1" cy="485.4" r="5.5"/><circle cx="799.1" cy="513.1" r="5.5"/><circle cx="703.2" cy="485.2" r="5.5"/><circle cx="769.0" cy="628.9" r="5.5"/><circle cx="781.4" cy="525.2" r="5.5"/><circle cx="704.5" cy="631.9" r="5.5"/><circle cx="791.2" cy="543.6" r="5.5"/><circle cx="721.5" cy="444.3" r="5.5"/><circle cx="800.9" cy="568.0" r="5.5"/><circle cx="704.3" cy="633.5" r="5.5"/><circle cx="670.4" cy="597.8" r="5.5"/><circle cx="685.2" cy="515.1" r="5.5"/><circle cx="753.6" cy="535.7" r="5.5"/><circle cx="796.5" cy="578.1" r="5.5"/><circle cx="712.3" cy="567.7" r="5.5"/><circle cx="676.9" cy="597.0" r="5.5"/><circle cx="796.1" cy="559.6" r="5.5"/><circle cx="737.9" cy="581.8" r="5.5"/><circle cx="781.9" cy="615.9" r="5.5"/><circle cx="799.0" cy="613.7" r="5.5"/><circle cx="752.3" cy="622.7" r="5.5"/><circle cx="789.5" cy="519.8" r="5.5"/><circle cx="726.3" cy="622.3" r="5.5"/><circle cx="795.4" cy="618.0" r="5.5"/><circle cx="749.6" cy="497.8" r="5.5"/><circle cx="791.1" cy="620.7" r="5.5"/><circle cx="672.3" cy="576.9" r="5.5"/><circle cx="746.4" cy="582.5" r="5.5"/><circle cx="768.0" cy="631.8" r="5.5"/><circle cx="728.4" cy="626.5" r="5.5"/><circle cx="716.6" cy="459.2" r="5.5"/><circle cx="698.4" cy="628.5" r="5.5"/><circle cx="747.3" cy="538.1" r="5.5"/><circle cx="721.7" cy="638.1" r="5.5"/><circle cx="701.1" cy="470.5" r="5.5"/><circle cx="727.6" cy="591.5" r="5.5"/><circle cx="705.2" cy="570.6" r="5.5"/><circle cx="796.1" cy="540.3" r="5.5"/><circle cx="747.8" cy="600.1" r="5.5"/><circle cx="765.5" cy="591.4" r="5.5"/><circle cx="778.3" cy="630.0" r="5.5"/><circle cx="764.5" cy="574.4" r="5.5"/><circle cx="682.3" cy="522.8" r="5.5"/><circle cx="742.4" cy="565.8" r="5.5"/><circle cx="654.0" cy="555.7" r="5.5"/><circle cx="757.1" cy="484.4" r="5.5"/><circle cx="600.0" cy="640.0" r="5.5"/><circle cx="721.8" cy="622.7" r="5.5"/><circle cx="764.0" cy="477.5" r="5.5"/><circle cx="741.8" cy="633.2" r="5.5"/><circle cx="708.1" cy="544.4" r="5.5"/><circle cx="727.3" cy="554.2" r="5.5"/><circle cx="767.3" cy="520.0" r="5.5"/><circle cx="708.4" cy="588.7" r="5.5"/><circle cx="724.0" cy="536.1" r="5.5"/><circle cx="795.1" cy="552.4" r="5.5"/><circle cx="740.2" cy="543.4" r="5.5"/><circle cx="802.2" cy="618.4" r="5.5"/><circle cx="793.6" cy="565.1" r="5.5"/><circle cx="750.3" cy="535.2" r="5.5"/><circle cx="727.5" cy="626.5" r="5.5"/><circle cx="731.3" cy="535.3" r="5.5"/><circle cx="778.1" cy="600.2" r="5.5"/><circle cx="735.5" cy="640.8" r="5.5"/><circle cx="752.5" cy="528.1" r="5.5"/><circle cx="741.3" cy="478.5" r="5.5"/><circle cx="743.0" cy="543.1" r="5.5"/><circle cx="681.3" cy="618.7" r="5.5"/><circle cx="796.9" cy="627.9" r="5.5"/><circle cx="779.3" cy="567.8" r="5.5"/><circle cx="782.1" cy="536.0" r="5.5"/><circle cx="727.9" cy="552.4" r="5.5"/><circle cx="794.8" cy="588.8" r="5.5"/><circle cx="783.7" cy="609.2" r="5.5"/><circle cx="689.5" cy="606.2" r="5.5"/><circle cx="731.1" cy="546.7" r="5.5"/><circle cx="796.6" cy="514.1" r="5.5"/><circle cx="748.8" cy="649.9" r="5.5"/><circle cx="713.4" cy="584.2" r="5.5"/><circle cx="719.5" cy="631.8" r="5.5"/><circle cx="752.4" cy="563.4" r="5.5"/><circle cx="721.1" cy="515.9" r="5.5"/><circle cx="757.2" cy="611.4" r="5.5"/><circle cx="743.2" cy="635.7" r="5.5"/><circle cx="739.0" cy="634.5" r="5.5"/><circle cx="740.3" cy="522.4" r="5.5"/><circle cx="774.9" cy="545.2" r="5.5"/><circle cx="755.8" cy="517.3" r="5.5"/><circle cx="796.2" cy="614.7" r="5.5"/><circle cx="754.8" cy="515.0" r="5.5"/><circle cx="782.5" cy="614.9" r="5.5"/><circle cx="758.8" cy="583.4" r="5.5"/><circle cx="764.7" cy="510.5" r="5.5"/><circle cx="772.1" cy="619.5" r="5.5"/><circle cx="706.6" cy="642.4" r="5.5"/><circle cx="762.9" cy="598.5" r="5.5"/><circle cx="726.4" cy="477.5" r="5.5"/><circle cx="796.9" cy="614.5" r="5.5"/><circle cx="761.1" cy="579.6" r="5.5"/><circle cx="699.5" cy="590.5" r="5.5"/><circle cx="773.7" cy="503.4" r="5.5"/><circle cx="728.5" cy="538.0" r="5.5"/><circle cx="765.7" cy="504.5" r="5.5"/><circle cx="783.3" cy="521.8" r="5.5"/><circle cx="727.0" cy="478.6" r="5.5"/><circle cx="748.6" cy="563.4" r="5.5"/><circle cx="767.1" cy="590.6" r="5.5"/><circle cx="763.0" cy="466.4" r="5.5"/><circle cx="722.5" cy="549.0" r="5.5"/><circle cx="749.8" cy="510.8" r="5.5"/><circle cx="709.8" cy="633.1" r="5.5"/><circle cx="742.0" cy="467.8" r="5.5"/><circle cx="759.5" cy="580.1" r="5.5"/><circle cx="777.4" cy="616.3" r="5.5"/><circle cx="705.8" cy="647.0" r="5.5"/><circle cx="693.2" cy="614.6" r="5.5"/><circle cx="782.8" cy="561.9" r="5.5"/><circle cx="776.1" cy="506.1" r="5.5"/><circle cx="808.6" cy="528.0" r="5.5"/><circle cx="769.0" cy="604.5" r="5.5"/><circle cx="675.9" cy="559.5" r="5.5"/><circle cx="764.6" cy="625.8" r="5.5"/><circle cx="740.0" cy="467.8" r="5.5"/><circle cx="749.7" cy="521.5" r="5.5"/><circle cx="777.2" cy="490.3" r="5.5"/><circle cx="761.9" cy="604.0" r="5.5"/><circle cx="790.3" cy="529.7" r="5.5"/><circle cx="729.6" cy="595.7" r="5.5"/><circle cx="793.0" cy="503.4" r="5.5"/><circle cx="807.0" cy="539.0" r="5.5"/><circle cx="805.6" cy="569.6" r="5.5"/><circle cx="771.7" cy="535.8" r="5.5"/><circle cx="743.7" cy="484.8" r="5.5"/><circle cx="741.3" cy="584.9" r="5.5"/><circle cx="721.3" cy="593.1" r="5.5"/><circle cx="765.7" cy="605.0" r="5.5"/>
</g>
<g class="c17">
<circle cx="563.7" cy="466.5" r="5.5"/><circle cx="619.9" cy="438.0" r="5.5"/><circle cx="636.1" cy="421.0" r="5.5"/><circle cx="626.8" cy="458.7" r="5.5"/><circle cx="571.5" cy="526.1" r="5.5"/><circle cx="657.2" cy="458.7" r="5.5"/><circle cx="596.6" cy="460.1" r="5.5"/><circle cx="553.8" cy="526.7" r="5.5"/><circle cx="556.2" cy="464.0" r="5.5"/><circle cx="628.4" cy="441.2" r="5.5"/><circle cx="552.7" cy="468.2" r="5.5"/><circle cx="633.1" cy="419.5" r="5.5"/><circle cx="598.5" cy="539.1" r="5.5"/><circle cx="608.4" cy="485.2" r="5.5"/><circle cx="551.3" cy="456.3" r="5.5"/><circle cx="663.0" cy="481.4" r="5.5"/><circle cx="654.1" cy="482.2" r="5.5"/><circle cx="552.5" cy="459.0" r="5.5"/><circle cx="585.0" cy="605.0" r="5.5"/><circle cx="594.6" cy="542.2" r="5.5"/><circle cx="623.8" cy="532.8" r="5.5"/><circle cx="579.6" cy="545.5" r="5.5"/><circle cx="595.1" cy="527.0" r="5.5"/><circle cx="653.0" cy="483.7" r="5.5"/><circle cx="603.9" cy="557.2" r="5.5"/><circle cx="578.3" cy="473.7" r="5.5"/><circle cx="601.6" cy="429.6" r="5.5"/><circle cx="667.3" cy="421.7" r="5.5"/><circle cx="560.5" cy="471.8" r="5.5"/><circle cx="633.2" cy="545.9" r="5.5"/><circle cx="530.0" cy="499.3" r="5.5"/><circle cx="644.5" cy="495.8" r="5.5"/><circle cx="676.4" cy="420.0" r="5.5"/><circle cx="602.9" cy="496.6" r="5.5"/><circle cx="582.0" cy="567.6" r="5.5"/><circle cx="668.4" cy="499.6" r="5.5"/><circle cx="557.9" cy="439.8" r="5.5"/><circle cx="659.8" cy="458.4" r="5.5"/><circle cx="560.2" cy="457.9" r="5.5"/><circle cx="619.2" cy="458.3" r="5.5"/><circle cx="536.5" cy="477.6" r="5.5"/><circle cx="548.6" cy="495.0" r="5.5"/><circle cx="668.6" cy="443.2" r="5.5"/><circle cx="682.9" cy="446.5" r="5.5"/><circle cx="603.9" cy="459.2" r="5.5"/><circle cx="630.0" cy="449.7" r="5.5"/><circle cx="633.2" cy="524.3" r="5.5"/><circle cx="629.6" cy="491.0" r="5.5"/><circle cx="657.5" cy="511.0" r="5.5"/><circle cx="634.9" cy="540.2" r="5.5"/><circle cx="600.0" cy="595.0" r="5.5"/><circle cx="598.2" cy="547.7" r="5.5"/><circle cx="604.2" cy="479.7" r="5.5"/><circle cx="628.2" cy="457.8" r="5.5"/><circle cx="645.2" cy="465.1" r="5.5"/><circle cx="607.1" cy="471.5" r="5.5"/><circle cx="578.0" cy="460.0" r="5.5"/><circle cx="587.0" cy="530.9" r="5.5"/><circle cx="604.0" cy="476.2" r="5.5"/><circle cx="637.2" cy="490.7" r="5.5"/><circle cx="561.0" cy="525.3" r="5.5"/><circle cx="545.8" cy="517.9" r="5.5"/><circle cx="575.9" cy="434.0" r="5.5"/><circle cx="669.5" cy="475.4" r="5.5"/><circle cx="622.9" cy="521.6" r="5.5"/><circle cx="629.6" cy="519.3" r="5.5"/><circle cx="549.2" cy="512.9" r="5.5"/><circle cx="597.3" cy="463.5" r="5.5"/><circle cx="627.8" cy="454.4" r="5.5"/><circle cx="639.1" cy="532.7" r="5.5"/><circle cx="660.8" cy="508.8" r="5.5"/><circle cx="535.8" cy="504.0" r="5.5"/><circle cx="582.5" cy="603.1" r="5.5"/><circle cx="594.9" cy="517.9" r="5.5"/><circle cx="673.0" cy="460.5" r="5.5"/><circle cx="600.5" cy="500.2" r="5.5"/><circle cx="618.4" cy="532.3" r="5.5"/><circle cx="625.2" cy="502.8" r="5.5"/><circle cx="543.3" cy="495.5" r="5.5"/><circle cx="606.8" cy="454.1" r="5.5"/><circle cx="668.9" cy="449.8" r="5.5"/><circle cx="646.8" cy="458.0" r="5.5"/><circle cx="588.7" cy="521.9" r="5.5"/><circle cx="660.9" cy="513.4" r="5.5"/><circle cx="610.7" cy="481.0" r="5.5"/><circle cx="587.7" cy="464.1" r="5.5"/><circle cx="599.4" cy="591.2" r="5.5"/><circle cx="626.3" cy="449.6" r="5.5"/><circle cx="567.0" cy="510.6" r="5.5"/><circle cx="603.1" cy="514.6" r="5.5"/><circle cx="674.4" cy="432.0" r="5.5"/><circle cx="670.6" cy="509.7" r="5.5"/><circle cx="560.4" cy="446.1" r="5.5"/><circle cx="654.7" cy="432.6" r="5.5"/><circle cx="649.7" cy="518.8" r="5.5"/><circle cx="607.7" cy="512.1" r="5.5"/><circle cx="656.2" cy="494.1" r="5.5"/><circle cx="580.1" cy="551.4" r="5.5"/><circle cx="657.5" cy="421.2" r="5.5"/><circle cx="602.7" cy="442.8" r="5.5"/><circle cx="671.8" cy="482.3" r="5.5"/><circle cx="598.6" cy="530.8" r="5.5"/><circle cx="531.9" cy="482.4" r="5.5"/><circle cx="583.6" cy="434.5" r="5.5"/><circle cx="664.6" cy="504.3" r="5.5"/><circle cx="581.1" cy="496.3" r="5.5"/><circle cx="551.0" cy="484.2" r="5.5"/><circle cx="636.3" cy="533.0" r="5.5"/><circle cx="580.6" cy="455.1" r="5.5"/><circle cx="593.4" cy="523.9" r="5.5"/><circle cx="669.9" cy="482.3" r="5.5"/><circle cx="577.6" cy="527.4" r="5.5"/><circle cx="667.8" cy="462.9" r="5.5"/><circle cx="658.4" cy="486.0" r="5.5"/><circle cx="612.0" cy="538.6" r="5.5"/><circle cx="655.3" cy="418.4" r="5.5"/><circle cx="721.3" cy="424.3" r="5.5"/><circle cx="603.5" cy="514.7" r="5.5"/><circle cx="580.6" cy="491.4" r="5.5"/><circle cx="668.0" cy="484.2" r="5.5"/><circle cx="635.9" cy="480.9" r="5.5"/><circle cx="655.2" cy="503.5" r="5.5"/><circle cx="609.9" cy="471.9" r="5.5"/><circle cx="614.6" cy="530.1" r="5.5"/><circle cx="550.1" cy="484.4" r="5.5"/><circle cx="574.3" cy="526.2" r="5.5"/><circle cx="569.6" cy="489.7" r="5.5"/><circle cx="570.7" cy="492.0" r="5.5"/><circle cx="654.5" cy="506.6" r="5.5"/><circle cx="583.0" cy="479.2" r="5.5"/><circle cx="600.0" cy="510.9" r="5.5"/><circle cx="644.2" cy="482.7" r="5.5"/><circle cx="572.9" cy="505.6" r="5.5"/><circle cx="627.6" cy="501.8" r="5.5"/><circle cx="663.0" cy="519.7" r="5.5"/><circle cx="659.8" cy="432.2" r="5.5"/><circle cx="569.0" cy="564.7" r="5.5"/><circle cx="643.1" cy="507.2" r="5.5"/><circle cx="541.0" cy="527.2" r="5.5"/><circle cx="593.1" cy="534.9" r="5.5"/><circle cx="626.0" cy="451.6" r="5.5"/><circle cx="580.3" cy="529.6" r="5.5"/><circle cx="604.1" cy="433.1" r="5.5"/><circle cx="582.1" cy="537.1" r="5.5"/><circle cx="547.4" cy="528.6" r="5.5"/><circle cx="597.9" cy="517.6" r="5.5"/><circle cx="642.3" cy="466.2" r="5.5"/><circle cx="553.4" cy="498.6" r="5.5"/><circle cx="664.0" cy="501.0" r="5.5"/><circle cx="539.3" cy="523.3" r="5.5"/><circle cx="577.3" cy="471.9" r="5.5"/><circle cx="644.1" cy="484.0" r="5.5"/><circle cx="549.1" cy="514.8" r="5.5"/><circle cx="569.2" cy="499.9" r="5.5"/><circle cx="590.0" cy="515.8" r="5.5"/><circle cx="575.0" cy="498.6" r="5.5"/><circle cx="564.4" cy="481.8" r="5.5"/><circle cx="611.9" cy="445.0" r="5.5"/><circle cx="613.0" cy="445.0" r="5.5"/><circle cx="594.6" cy="440.9" r="5.5"/><circle cx="599.8" cy="491.8" r="5.5"/><circle cx="685.2" cy="432.4" r="5.5"/><circle cx="657.8" cy="456.7" r="5.5"/><circle cx="566.4" cy="546.3" r="5.5"/><circle cx="618.3" cy="481.1" r="5.5"/><circle cx="681.4" cy="459.7" r="5.5"/><circle cx="603.4" cy="549.6" r="5.5"/><circle cx="629.7" cy="501.5" r="5.5"/><circle cx="552.6" cy="486.6" r="5.5"/><circle cx="559.5" cy="518.0" r="5.5"/><circle cx="597.4" cy="448.5" r="5.5"/><circle cx="590.7" cy="442.6" r="5.5"/><circle cx="617.2" cy="524.9" r="5.5"/><circle cx="605.6" cy="431.8" r="5.5"/><circle cx="607.3" cy="542.4" r="5.5"/><circle cx="665.3" cy="471.7" r="5.5"/><circle cx="607.4" cy="430.4" r="5.5"/><circle cx="616.8" cy="547.1" r="5.5"/><circle cx="561.1" cy="486.1" r="5.5"/><circle cx="610.1" cy="430.9" r="5.5"/><circle cx="584.7" cy="528.3" r="5.5"/><circle cx="673.6" cy="432.2" r="5.5"/><circle cx="632.9" cy="458.1" r="5.5"/><circle cx="585.3" cy="531.6" r="5.5"/><circle cx="668.8" cy="507.9" r="5.5"/><circle cx="586.3" cy="476.6" r="5.5"/><circle cx="603.1" cy="507.5" r="5.5"/><circle cx="665.1" cy="455.4" r="5.5"/><circle cx="657.8" cy="464.4" r="5.5"/><circle cx="577.2" cy="544.5" r="5.5"/><circle cx="646.7" cy="429.4" r="5.5"/><circle cx="679.9" cy="472.9" r="5.5"/><circle cx="556.6" cy="490.1" r="5.5"/><circle cx="643.6" cy="431.3" r="5.5"/><circle cx="547.0" cy="509.5" r="5.5"/><circle cx="615.1" cy="501.7" r="5.5"/><circle cx="587.7" cy="535.0" r="5.5"/><circle cx="562.7" cy="501.3" r="5.5"/><circle cx="548.0" cy="497.3" r="5.5"/><circle cx="666.4" cy="478.3" r="5.5"/><circle cx="644.2" cy="530.6" r="5.5"/><circle cx="601.8" cy="444.4" r="5.5"/><circle cx="605.3" cy="559.8" r="5.5"/><circle cx="598.5" cy="546.6" r="5.5"/><circle cx="566.0" cy="488.3" r="5.5"/><circle cx="597.1" cy="526.1" r="5.5"/><circle cx="679.9" cy="468.6" r="5.5"/><circle cx="550.2" cy="446.7" r="5.5"/><circle cx="581.0" cy="450.1" r="5.5"/><circle cx="677.4" cy="439.2" r="5.5"/><circle cx="609.0" cy="461.8" r="5.5"/><circle cx="539.0" cy="516.4" r="5.5"/><circle cx="644.5" cy="429.0" r="5.5"/><circle cx="622.6" cy="524.0" r="5.5"/><circle cx="651.5" cy="453.0" r="5.5"/><circle cx="644.6" cy="450.3" r="5.5"/><circle cx="655.9" cy="506.7" r="5.5"/><circle cx="586.9" cy="449.3" r="5.5"/><circle cx="552.6" cy="479.3" r="5.5"/><circle cx="625.7" cy="549.0" r="5.5"/><circle cx="582.3" cy="549.9" r="5.5"/><circle cx="644.7" cy="429.9" r="5.5"/><circle cx="674.3" cy="430.8" r="5.5"/><circle cx="664.0" cy="505.2" r="5.5"/><circle cx="634.8" cy="510.2" r="5.5"/><circle cx="598.2" cy="501.4" r="5.5"/><circle cx="637.6" cy="442.9" r="5.5"/><circle cx="656.8" cy="451.0" r="5.5"/><circle cx="635.3" cy="437.4" r="5.5"/><circle cx="651.3" cy="474.0" r="5.5"/><circle cx="597.4" cy="553.7" r="5.5"/><circle cx="571.5" cy="517.7" r="5.5"/><circle cx="607.6" cy="507.1" r="5.5"/><circle cx="586.7" cy="459.5" r="5.5"/><circle cx="677.3" cy="422.4" r="5.5"/><circle cx="610.6" cy="489.6" r="5.5"/><circle cx="564.4" cy="463.4" r="5.5"/><circle cx="584.1" cy="465.8" r="5.5"/><circle cx="649.0" cy="466.6" r="5.5"/><circle cx="629.8" cy="557.7" r="5.5"/><circle cx="560.4" cy="527.9" r="5.5"/><circle cx="603.8" cy="467.4" r="5.5"/><circle cx="646.2" cy="474.0" r="5.5"/><circle cx="580.4" cy="454.4" r="5.5"/><circle cx="571.2" cy="519.9" r="5.5"/><circle cx="628.2" cy="500.7" r="5.5"/><circle cx="639.6" cy="510.6" r="5.5"/><circle cx="569.2" cy="452.7" r="5.5"/><circle cx="532.9" cy="518.3" r="5.5"/><circle cx="686.8" cy="450.8" r="5.5"/><circle cx="648.5" cy="522.6" r="5.5"/><circle cx="626.1" cy="488.5" r="5.5"/><circle cx="607.0" cy="512.6" r="5.5"/><circle cx="645.0" cy="458.9" r="5.5"/><circle cx="552.4" cy="507.7" r="5.5"/><circle cx="653.0" cy="453.2" r="5.5"/><circle cx="661.2" cy="455.6" r="5.5"/><circle cx="548.7" cy="472.9" r="5.5"/><circle cx="627.6" cy="420.0" r="5.5"/><circle cx="540.0" cy="512.4" r="5.5"/><circle cx="629.6" cy="528.9" r="5.5"/><circle cx="622.2" cy="519.5" r="5.5"/><circle cx="571.9" cy="520.4" r="5.5"/><circle cx="624.1" cy="536.1" r="5.5"/><circle cx="577.2" cy="461.4" r="5.5"/><circle cx="568.2" cy="450.4" r="5.5"/><circle cx="612.1" cy="470.5" r="5.5"/><circle cx="573.2" cy="492.2" r="5.5"/><circle cx="585.2" cy="589.4" r="5.5"/><circle cx="625.7" cy="497.6" r="5.5"/><circle cx="670.2" cy="442.0" r="5.5"/><circle cx="620.4" cy="435.1" r="5.5"/><circle cx="621.0" cy="439.9" r="5.5"/><circle cx="558.0" cy="466.2" r="5.5"/><circle cx="682.7" cy="455.3" r="5.5"/><circle cx="633.4" cy="465.9" r="5.5"/><circle cx="592.7" cy="531.9" r="5.5"/><circle cx="660.5" cy="478.0" r="5.5"/><circle cx="572.1" cy="564.3" r="5.5"/><circle cx="636.9" cy="459.7" r="5.5"/><circle cx="631.3" cy="523.1" r="5.5"/><circle cx="594.4" cy="444.3" r="5.5"/><circle cx="662.1" cy="494.0" r="5.5"/><circle cx="653.4" cy="448.7" r="5.5"/><circle cx="623.8" cy="537.3" r="5.5"/><circle cx="643.9" cy="547.8" r="5.5"/><circle cx="670.6" cy="421.9" r="5.5"/><circle cx="655.3" cy="453.1" r="5.5"/><circle cx="604.7" cy="494.1" r="5.5"/><circle cx="634.6" cy="456.7" r="5.5"/><circle cx="663.9" cy="500.3" r="5.5"/><circle cx="633.9" cy="506.7" r="5.5"/><circle cx="643.0" cy="436.1" r="5.5"/><circle cx="659.6" cy="490.7" r="5.5"/><circle cx="644.6" cy="507.3" r="5.5"/><circle cx="547.2" cy="474.9" r="5.5"/><circle cx="665.0" cy="615.0" r="5.5"/><circle cx="539.4" cy="511.1" r="5.5"/><circle cx="602.5" cy="469.2" r="5.5"/><circle cx="605.2" cy="454.9" r="5.5"/><circle cx="651.9" cy="424.2" r="5.5"/><circle cx="555.7" cy="457.7" r="5.5"/><circle cx="612.0" cy="445.4" r="5.5"/><circle cx="610.6" cy="471.4" r="5.5"/><circle cx="537.4" cy="498.3" r="5.5"/><circle cx="587.6" cy="476.0" r="5.5"/><circle cx="668.0" cy="475.5" r="5.5"/><circle cx="564.8" cy="448.7" r="5.5"/><circle cx="663.1" cy="472.8" r="5.5"/><circle cx="680.6" cy="435.6" r="5.5"/><circle cx="626.0" cy="459.2" r="5.5"/><circle cx="576.5" cy="524.0" r="5.5"/><circle cx="628.2" cy="484.4" r="5.5"/><circle cx="636.5" cy="483.9" r="5.5"/><circle cx="674.2" cy="444.5" r="5.5"/><circle cx="575.9" cy="467.2" r="5.5"/><circle cx="659.8" cy="489.8" r="5.5"/><circle cx="650.1" cy="432.1" r="5.5"/><circle cx="619.0" cy="476.8" r="5.5"/><circle cx="675.3" cy="429.3" r="5.5"/><circle cx="631.4" cy="448.9" r="5.5"/><circle cx="627.3" cy="536.0" r="5.5"/><circle cx="554.5" cy="471.3" r="5.5"/><circle cx="588.2" cy="482.7" r="5.5"/><circle cx="550.2" cy="466.0" r="5.5"/><circle cx="571.6" cy="480.8" r="5.5"/><circle cx="683.1" cy="436.8" r="5.5"/><circle cx="605.4" cy="430.3" r="5.5"/><circle cx="672.8" cy="451.8" r="5.5"/><circle cx="562.5" cy="474.0" r="5.5"/><circle cx="599.7" cy="477.5" r="5.5"/><circle cx="646.4" cy="424.2" r="5.5"/><circle cx="664.7" cy="497.2" r="5.5"/><circle cx="644.3" cy="446.8" r="5.5"/><circle cx="583.8" cy="476.0" r="5.5"/><circle cx="580.6" cy="532.4" r="5.5"/><circle cx="557.2" cy="525.6" r="5.5"/><circle cx="581.6" cy="501.2" r="5.5"/><circle cx="554.2" cy="502.8" r="5.5"/><circle cx="588.1" cy="434.9" r="5.5"/><circle cx="613.7" cy="446.3" r="5.5"/><circle cx="587.2" cy="552.0" r="5.5"/><circle cx="630.3" cy="491.3" r="5.5"/><circle cx="574.3" cy="527.5" r="5.5"/><circle cx="680.6" cy="436.8" r="5.5"/><circle cx="648.0" cy="442.3" r="5.5"/><circle cx="646.0" cy="443.0" r="5.5"/><circle cx="581.9" cy="437.3" r="5.5"/><circle cx="589.7" cy="520.7" r="5.5"/><circle cx="636.5" cy="519.6" r="5.5"/><circle cx="681.1" cy="445.7" r="5.5"/><circle cx="544.7" cy="525.1" r="5.5"/><circle cx="642.6" cy="493.1" r="5.5"/><circle cx="552.6" cy="489.4" r="5.5"/><circle cx="639.8" cy="480.3" r="5.5"/><circle cx="634.5" cy="438.5" r="5.5"/>
</g>
<g class="c18">
<circle cx="589.6" cy="577.0" r="5.5"/><circle cx="648.5" cy="603.9" r="5.5"/><circle cx="571.8" cy="656.9" r="5.5"/><circle cx="677.4" cy="669.3" r="5.5"/><circle cx="647.3" cy="714.1" r="5.5"/><circle cx="623.9" cy="612.9" r="5.5"/><circle cx="661.3" cy="721.9" r="5.5"/><circle cx="577.1" cy="644.4" r="5.5"/><circle cx="669.6" cy="704.5" r="5.5"/><circle cx="593.0" cy="644.2" r="5.5"/><circle cx="669.9" cy="666.8" r="5.5"/><circle cx="651.0" cy="577.3" r="5.5"/><circle cx="584.1" cy="680.4" r="5.5"/><circle cx="659.2" cy="670.7" r="5.5"/><circle cx="625.7" cy="712.5" r="5.5"/><circle cx="664.0" cy="718.7" r="5.5"/><circle cx="579.8" cy="660.2" r="5.5"/><circle cx="597.9" cy="669.2" r="5.5"/><circle cx="676.3" cy="715.1" r="5.5"/><circle cx="715.0" cy="446.0" r="5.5"/><circle cx="644.9" cy="658.7" r="5.5"/><circle cx="672.4" cy="696.2" r="5.5"/><circle cx="630.4" cy="642.2" r="5.5"/><circle cx="643.9" cy="665.7" r="5.5"/><circle cx="618.5" cy="714.4" r="5.5"/><circle cx="611.6" cy="677.6" r="5.5"/><circle cx="588.7" cy="692.8" r="5.5"/><circle cx="620.8" cy="637.5" r="5.5"/><circle cx="731.9" cy="668.4" r="5.5"/><circle cx="599.7" cy="602.8" r="5.5"/><circle cx="652.6" cy="669.3" r="5.5"/><circle cx="616.7" cy="656.8" r="5.5"/><circle cx="663.6" cy="678.2" r="5.5"/><circle cx="650.7" cy="590.2" r="5.5"/><circle cx="534.0" cy="510.0" r="5.5"/><circle cx="651.4" cy="664.0" r="5.5"/><circle cx="638.8" cy="666.8" r="5.5"/><circle cx="603.4" cy="622.9" r="5.5"/><circle cx="656.0" cy="718.1" r="5.5"/><circle cx="611.2" cy="694.7" r="5.5"/><circle cx="644.6" cy="677.7" r="5.5"/><circle cx="634.2" cy="638.9" r="5.5"/><circle cx="582.9" cy="622.8" r="5.5"/><circle cx="587.5" cy="679.4" r="5.5"/><circle cx="654.1" cy="734.4" r="5.5"/><circle cx="588.7" cy="616.2" r="5.5"/><circle cx="598.6" cy="657.5" r="5.5"/><circle cx="644.5" cy="593.3" r="5.5"/><circle cx="685.2" cy="681.4" r="5.5"/><circle cx="659.4" cy="605.6" r="5.5"/><circle cx="642.5" cy="646.8" r="5.5"/><circle cx="680.4" cy="663.3" r="5.5"/><circle cx="676.0" cy="660.4" r="5.5"/><circle cx="736.5" cy="667.1" r="5.5"/><circle cx="627.0" cy="646.5" r="5.5"/><circle cx="656.6" cy="733.5" r="5.5"/><circle cx="670.9" cy="694.1" r="5.5"/><circle cx="603.1" cy="625.8" r="5.5"/><circle cx="605.4" cy="672.4" r="5.5"/><circle cx="660.2" cy="699.2" r="5.5"/><circle cx="609.4" cy="687.5" r="5.5"/><circle cx="582.3" cy="636.6" r="5.5"/><circle cx="665.2" cy="674.6" r="5.5"/><circle cx="631.9" cy="711.3" r="5.5"/><circle cx="621.6" cy="601.8" r="5.5"/><circle cx="608.7" cy="696.6" r="5.5"/><circle cx="653.1" cy="654.9" r="5.5"/><circle cx="732.0" cy="500.0" r="5.5"/><circle cx="643.5" cy="682.1" r="5.5"/><circle cx="573.3" cy="673.0" r="5.5"/><circle cx="584.2" cy="634.9" r="5.5"/><circle cx="572.2" cy="670.0" r="5.5"/><circle cx="647.1" cy="651.0" r="5.5"/><circle cx="666.0" cy="656.5" r="5.5"/><circle cx="645.9" cy="642.7" r="5.5"/><circle cx="629.4" cy="582.8" r="5.5"/><circle cx="619.5" cy="602.8" r="5.5"/><circle cx="641.7" cy="598.1" r="5.5"/><circle cx="598.1" cy="665.6" r="5.5"/><circle cx="603.6" cy="644.6" r="5.5"/><circle cx="630.3" cy="650.2" r="5.5"/><circle cx="631.0" cy="610.0" r="5.5"/><circle cx="662.6" cy="709.8" r="5.5"/><circle cx="585.0" cy="646.8" r="5.5"/><circle cx="604.4" cy="602.4" r="5.5"/><circle cx="630.7" cy="691.2" r="5.5"/><circle cx="670.4" cy="669.6" r="5.5"/><circle cx="651.2" cy="733.2" r="5.5"/><circle cx="634.1" cy="672.7" r="5.5"/><circle cx="585.6" cy="608.1" r="5.5"/><circle cx="662.7" cy="664.0" r="5.5"/><circle cx="635.7" cy="690.0" r="5.5"/><circle cx="610.0" cy="680.0" r="5.5"/><circle cx="576.6" cy="653.6" r="5.5"/><circle cx="678.8" cy="655.7" r="5.5"/><circle cx="581.3" cy="655.5" r="5.5"/><circle cx="623.1" cy="585.6" r="5.5"/><circle cx="634.4" cy="708.2" r="5.5"/><circle cx="673.9" cy="665.5" r="5.5"/><circle cx="582.1" cy="658.5" r="5.5"/><circle cx="640.3" cy="631.8" r="5.5"/><circle cx="624.1" cy="613.8" r="5.5"/><circle cx="629.2" cy="578.8" r="5.5"/><circle cx="623.0" cy="635.1" r="5.5"/><circle cx="573.6" cy="578.4" r="5.5"/><circle cx="672.8" cy="710.7" r="5.5"/><circle cx="601.7" cy="596.4" r="5.5"/><circle cx="637.7" cy="648.0" r="5.5"/><circle cx="672.0" cy="645.1" r="5.5"/><circle cx="672.0" cy="658.1" r="5.5"/><circle cx="634.6" cy="714.3" r="5.5"/><circle cx="591.0" cy="587.8" r="5.5"/><circle cx="583.2" cy="657.7" r="5.5"/><circle cx="641.5" cy="674.4" r="5.5"/><circle cx="613.3" cy="674.1" r="5.5"/><circle cx="578.7" cy="669.0" r="5.5"/><circle cx="583.7" cy="648.8" r="5.5"/><circle cx="618.2" cy="665.3" r="5.5"/><circle cx="618.2" cy="710.7" r="5.5"/><circle cx="571.4" cy="639.3" r="5.5"/><circle cx="645.1" cy="623.3" r="5.5"/><circle cx="630.1" cy="636.6" r="5.5"/><circle cx="651.1" cy="572.4" r="5.5"/><circle cx="573.2" cy="674.8" r="5.5"/><circle cx="611.9" cy="680.2" r="5.5"/><circle cx="662.4" cy="697.8" r="5.5"/><circle cx="633.7" cy="650.8" r="5.5"/><circle cx="577.9" cy="665.4" r="5.5"/><circle cx="663.6" cy="673.4" r="5.5"/><circle cx="616.0" cy="651.3" r="5.5"/><circle cx="638.2" cy="566.5" r="5.5"/><circle cx="668.0" cy="709.2" r="5.5"/><circle cx="650.4" cy="569.2" r="5.5"/><circle cx="637.6" cy="695.6" r="5.5"/><circle cx="681.0" cy="648.3" r="5.5"/><circle cx="607.9" cy="685.3" r="5.5"/><circle cx="618.1" cy="709.8" r="5.5"/><circle cx="616.8" cy="647.9" r="5.5"/><circle cx="686.8" cy="684.5" r="5.5"/><circle cx="648.6" cy="638.8" r="5.5"/><circle cx="637.8" cy="613.4" r="5.5"/><circle cx="662.9" cy="669.2" r="5.5"/><circle cx="607.5" cy="599.4" r="5.5"/><circle cx="641.3" cy="575.2" r="5.5"/><circle cx="644.5" cy="676.4" r="5.5"/><circle cx="660.7" cy="643.0" r="5.5"/><circle cx="601.7" cy="663.7" r="5.5"/><circle cx="648.9" cy="644.6" r="5.5"/><circle cx="639.8" cy="617.3" r="5.5"/><circle cx="617.1" cy="600.8" r="5.5"/><circle cx="597.9" cy="577.3" r="5.5"/><circle cx="610.0" cy="632.2" r="5.5"/><circle cx="571.2" cy="639.5" r="5.5"/><circle cx="661.1" cy="592.5" r="5.5"/><circle cx="649.0" cy="601.3" r="5.5"/><circle cx="684.9" cy="682.7" r="5.5"/><circle cx="575.9" cy="683.9" r="5.5"/><circle cx="597.1" cy="668.9" r="5.5"/><circle cx="654.9" cy="701.1" r="5.5"/><circle cx="662.4" cy="684.2" r="5.5"/><circle cx="673.5" cy="654.5" r="5.5"/><circle cx="632.3" cy="715.4" r="5.5"/><circle cx="657.6" cy="643.3" r="5.5"/><circle cx="615.1" cy="666.3" r="5.5"/><circle cx="629.9" cy="665.6" r="5.5"/><circle cx="680.5" cy="653.4" r="5.5"/><circle cx="611.5" cy="683.8" r="5.5"/><circle cx="645.9" cy="664.6" r="5.5"/><circle cx="614.1" cy="651.1" r="5.5"/><circle cx="666.6" cy="702.6" r="5.5"/><circle cx="737.8" cy="671.5" r="5.5"/><circle cx="638.7" cy="615.2" r="5.5"/><circle cx="579.5" cy="643.3" r="5.5"/><circle cx="625.3" cy="653.4" r="5.5"/><circle cx="639.9" cy="713.7" r="5.5"/><circle cx="640.0" cy="680.9" r="5.5"/><circle cx="650.1" cy="685.8" r="5.5"/><circle cx="681.7" cy="677.2" r="5.5"/><circle cx="657.8" cy="685.1" r="5.5"/><circle cx="590.7" cy="656.6" r="5.5"/><circle cx="679.0" cy="684.6" r="5.5"/><circle cx="643.4" cy="723.5" r="5.5"/><circle cx="672.9" cy="657.7" r="5.5"/><circle cx="574.2" cy="584.4" r="5.5"/><circle cx="576.9" cy="654.4" r="5.5"/><circle cx="594.9" cy="671.2" r="5.5"/><circle cx="606.7" cy="686.7" r="5.5"/><circle cx="628.6" cy="720.0" r="5.5"/><circle cx="662.8" cy="722.1" r="5.5"/><circle cx="661.7" cy="678.6" r="5.5"/><circle cx="616.7" cy="672.3" r="5.5"/><circle cx="684.0" cy="673.8" r="5.5"/><circle cx="583.8" cy="632.7" r="5.5"/><circle cx="625.8" cy="612.0" r="5.5"/><circle cx="621.3" cy="578.9" r="5.5"/><circle cx="663.9" cy="609.6" r="5.5"/><circle cx="619.3" cy="676.8" r="5.5"/><circle cx="623.4" cy="703.4" r="5.5"/><circle cx="581.4" cy="605.8" r="5.5"/><circle cx="656.5" cy="646.0" r="5.5"/><circle cx="600.1" cy="684.4" r="5.5"/><circle cx="667.1" cy="704.5" r="5.5"/><circle cx="626.6" cy="684.9" r="5.5"/><circle cx="656.0" cy="589.8" r="5.5"/><circle cx="635.1" cy="691.6" r="5.5"/><circle cx="646.1" cy="714.9" r="5.5"/><circle cx="611.8" cy="703.0" r="5.5"/><circle cx="571.8" cy="667.0" r="5.5"/><circle cx="661.1" cy="716.4" r="5.5"/><circle cx="607.5" cy="695.6" r="5.5"/><circle cx="600.9" cy="648.5" r="5.5"/><circle cx="613.8" cy="609.0" r="5.5"/><circle cx="581.5" cy="644.3" r="5.5"/><circle cx="663.7" cy="596.0" r="5.5"/><circle cx="620.1" cy="642.2" r="5.5"/><circle cx="618.0" cy="684.6" r="5.5"/><circle cx="658.5" cy="709.9" r="5.5"/><circle cx="636.3" cy="667.4" r="5.5"/><circle cx="618.8" cy="693.4" r="5.5"/><circle cx="613.4" cy="667.2" r="5.5"/><circle cx="629.5" cy="709.6" r="5.5"/><circle cx="637.0" cy="672.0" r="5.5"/><circle cx="662.7" cy="653.9" r="5.5"/><circle cx="617.7" cy="676.6" r="5.5"/><circle cx="586.1" cy="663.1" r="5.5"/><circle cx="660.3" cy="731.7" r="5.5"/><circle cx="629.7" cy="661.1" r="5.5"/><circle cx="581.1" cy="667.9" r="5.5"/><circle cx="647.9" cy="653.5" r="5.5"/><circle cx="671.8" cy="689.6" r="5.5"/><circle cx="623.6" cy="629.8" r="5.5"/><circle cx="625.7" cy="717.4" r="5.5"/><circle cx="584.1" cy="656.9" r="5.5"/><circle cx="623.6" cy="582.6" r="5.5"/><circle cx="603.4" cy="695.5" r="5.5"/><circle cx="576.5" cy="622.1" r="5.5"/><circle cx="582.4" cy="608.7" r="5.5"/><circle cx="597.2" cy="643.4" r="5.5"/><circle cx="625.8" cy="609.8" r="5.5"/><circle cx="647.0" cy="651.9" r="5.5"/><circle cx="680.5" cy="663.5" r="5.5"/><circle cx="604.8" cy="657.3" r="5.5"/><circle cx="606.8" cy="679.2" r="5.5"/><circle cx="571.0" cy="645.2" r="5.5"/><circle cx="634.0" cy="710.0" r="5.5"/><circle cx="597.2" cy="667.8" r="5.5"/><circle cx="605.6" cy="644.8" r="5.5"/><circle cx="658.3" cy="643.4" r="5.5"/><circle cx="663.9" cy="657.5" r="5.5"/><circle cx="643.8" cy="695.8" r="5.5"/><circle cx="621.3" cy="601.8" r="5.5"/><circle cx="670.1" cy="649.4" r="5.5"/><circle cx="574.2" cy="578.6" r="5.5"/><circle cx="683.9" cy="701.7" r="5.5"/><circle cx="650.5" cy="597.0" r="5.5"/><circle cx="618.3" cy="673.8" r="5.5"/><circle cx="668.1" cy="673.7" r="5.5"/><circle cx="589.0" cy="666.5" r="5.5"/><circle cx="570.3" cy="582.0" r="5.5"/><circle cx="684.3" cy="666.8" r="5.5"/><circle cx="607.4" cy="606.1" r="5.5"/><circle cx="604.0" cy="664.1" r="5.5"/><circle cx="662.0" cy="604.8" r="5.5"/><circle cx="540.0" cy="530.0" r="5.5"/>
</g>
<g class="c19">
<circle cx="449.8" cy="511.8" r="5.5"/><circle cx="450.5" cy="477.7" r="5.5"/><circle cx="432.1" cy="484.0" r="5.5"/><circle cx="358.6" cy="580.0" r="5.5"/><circle cx="400.9" cy="498.6" r="5.5"/><circle cx="409.3" cy="594.2" r="5.5"/><circle cx="411.5" cy="497.5" r="5.5"/><circle cx="405.6" cy="528.5" r="5.5"/><circle cx="447.3" cy="528.5" r="5.5"/><circle cx="407.0" cy="560.6" r="5.5"/><circle cx="468.4" cy="497.1" r="5.5"/><circle cx="418.0" cy="564.2" r="5.5"/><circle cx="457.2" cy="547.7" r="5.5"/><circle cx="416.5" cy="574.5" r="5.5"/><circle cx="462.7" cy="522.5" r="5.5"/><circle cx="434.5" cy="530.9" r="5.5"/><circle cx="453.0" cy="556.3" r="5.5"/><circle cx="389.0" cy="581.8" r="5.5"/><circle cx="446.2" cy="519.6" r="5.5"/><circle cx="396.6" cy="560.7" r="5.5"/><circle cx="440.4" cy="502.8" r="5.5"/><circle cx="386.5" cy="559.8" r="5.5"/><circle cx="407.4" cy="522.6" r="5.5"/><circle cx="437.1" cy="502.6" r="5.5"/><circle cx="448.5" cy="475.2" r="5.5"/><circle cx="404.7" cy="496.3" r="5.5"/><circle cx="354.1" cy="574.8" r="5.5"/><circle cx="355.1" cy="565.0" r="5.5"/><circle cx="364.6" cy="571.1" r="5.5"/><circle cx="377.1" cy="587.7" r="5.5"/><circle cx="352.5" cy="572.3" r="5.5"/><circle cx="383.5" cy="562.5" r="5.5"/><circle cx="417.3" cy="530.4" r="5.5"/><circle cx="357.0" cy="571.2" r="5.5"/><circle cx="430.7" cy="520.8" r="5.5"/><circle cx="386.0" cy="564.5" r="5.5"/><circle cx="385.9" cy="564.5" r="5.5"/><circle cx="443.0" cy="465.7" r="5.5"/><circle cx="395.8" cy="562.8" r="5.5"/><circle cx="361.5" cy="582.2" r="5.5"/><circle cx="381.0" cy="554.5" r="5.5"/><circle cx="446.2" cy="485.2" r="5.5"/><circle cx="441.4" cy="468.6" r="5.5"/><circle cx="368.9" cy="597.2" r="5.5"/><circle cx="434.4" cy="533.3" r="5.5"/><circle cx="426.1" cy="494.6" r="5.5"/><circle cx="402.8" cy="491.7" r="5.5"/><circle cx="448.5" cy="517.3" r="5.5"/><circle cx="453.7" cy="549.9" r="5.5"/><circle cx="352.5" cy="574.2" r="5.5"/><circle cx="409.0" cy="480.7" r="5.5"/><circle cx="446.2" cy="486.6" r="5.5"/><circle cx="424.1" cy="520.3" r="5.5"/><circle cx="360.4" cy="583.3" r="5.5"/><circle cx="410.2" cy="481.9" r="5.5"/><circle cx="401.6" cy="587.9" r="5.5"/><circle cx="380.2" cy="564.5" r="5.5"/><circle cx="457.9" cy="500.6" r="5.5"/><circle cx="450.5" cy="508.4" r="5.5"/><circle cx="459.1" cy="554.1" r="5.5"/><circle cx="424.7" cy="524.8" r="5.5"/><circle cx="413.2" cy="487.9" r="5.5"/><circle cx="432.0" cy="541.3" r="5.5"/><circle cx="472.9" cy="520.9" r="5.5"/><circle cx="463.9" cy="559.3" r="5.5"/><circle cx="410.2" cy="580.2" r="5.5"/><circle cx="440.3" cy="470.1" r="5.5"/><circle cx="393.9" cy="557.6" r="5.5"/><circle cx="377.3" cy="584.1" r="5.5"/><circle cx="411.8" cy="496.1" r="5.5"/><circle cx="458.8" cy="534.8" r="5.5"/><circle cx="363.0" cy="580.5" r="5.5"/><circle cx="408.5" cy="553.3" r="5.5"/><circle cx="446.9" cy="481.8" r="5.5"/><circle cx="412.3" cy="500.4" r="5.5"/><circle cx="361.4" cy="576.4" r="5.5"/><circle cx="441.7" cy="470.5" r="5.5"/><circle cx="402.6" cy="504.1" r="5.5"/><circle cx="459.7" cy="534.4" r="5.5"/><circle cx="404.4" cy="496.7" r="5.5"/><circle cx="399.4" cy="527.1" r="5.5"/><circle cx="411.0" cy="586.3" r="5.5"/><circle cx="388.5" cy="591.3" r="5.5"/><circle cx="432.1" cy="539.1" r="5.5"/><circle cx="386.6" cy="568.3" r="5.5"/><circle cx="442.5" cy="548.3" r="5.5"/><circle cx="395.4" cy="572.6" r="5.5"/><circle cx="435.6" cy="511.6" r="5.5"/><circle cx="391.5" cy="580.3" r="5.5"/><circle cx="384.7" cy="569.3" r="5.5"/><circle cx="439.8" cy="540.9" r="5.5"/><circle cx="465.2" cy="492.3" r="5.5"/><circle cx="392.0" cy="589.3" r="5.5"/><circle cx="387.4" cy="587.2" r="5.5"/><circle cx="354.3" cy="574.0" r="5.5"/><circle cx="390.6" cy="568.9" r="5.5"/><circle cx="372.7" cy="581.2" r="5.5"/><circle cx="411.0" cy="527.6" r="5.5"/><circle cx="372.9" cy="571.5" r="5.5"/><circle cx="450.9" cy="494.1" r="5.5"/><circle cx="455.7" cy="500.0" r="5.5"/><circle cx="456.4" cy="539.8" r="5.5"/><circle cx="415.0" cy="499.1" r="5.5"/><circle cx="454.9" cy="499.8" r="5.5"/><circle cx="436.4" cy="460.8" r="5.5"/><circle cx="400.1" cy="517.9" r="5.5"/><circle cx="427.8" cy="509.0" r="5.5"/><circle cx="375.6" cy="565.9" r="5.5"/><circle cx="440.7" cy="534.3" r="5.5"/><circle cx="412.1" cy="557.9" r="5.5"/><circle cx="403.9" cy="533.8" r="5.5"/><circle cx="422.3" cy="559.6" r="5.5"/><circle cx="416.3" cy="530.4" r="5.5"/><circle cx="368.9" cy="582.3" r="5.5"/><circle cx="461.0" cy="503.4" r="5.5"/><circle cx="446.5" cy="493.7" r="5.5"/><circle cx="442.7" cy="470.1" r="5.5"/><circle cx="442.5" cy="496.0" r="5.5"/><circle cx="417.5" cy="515.1" r="5.5"/><circle cx="373.0" cy="564.3" r="5.5"/><circle cx="410.7" cy="547.2" r="5.5"/><circle cx="422.8" cy="505.0" r="5.5"/><circle cx="408.6" cy="584.0" r="5.5"/><circle cx="393.8" cy="561.6" r="5.5"/><circle cx="439.4" cy="492.3" r="5.5"/><circle cx="446.0" cy="553.7" r="5.5"/><circle cx="388.5" cy="587.2" r="5.5"/><circle cx="413.1" cy="509.0" r="5.5"/><circle cx="444.3" cy="535.1" r="5.5"/><circle cx="438.3" cy="533.6" r="5.5"/><circle cx="438.9" cy="509.0" r="5.5"/><circle cx="428.5" cy="503.6" r="5.5"/><circle cx="456.0" cy="477.4" r="5.5"/><circle cx="402.7" cy="521.3" r="5.5"/><circle cx="405.3" cy="579.1" r="5.5"/><circle cx="463.2" cy="509.1" r="5.5"/><circle cx="434.3" cy="490.9" r="5.5"/><circle cx="402.1" cy="493.9" r="5.5"/><circle cx="386.5" cy="571.1" r="5.5"/><circle cx="420.1" cy="532.2" r="5.5"/><circle cx="359.4" cy="569.6" r="5.5"/><circle cx="416.2" cy="518.9" r="5.5"/><circle cx="400.6" cy="494.6" r="5.5"/><circle cx="373.4" cy="572.2" r="5.5"/><circle cx="415.3" cy="571.5" r="5.5"/><circle cx="399.8" cy="551.7" r="5.5"/><circle cx="437.4" cy="478.0" r="5.5"/><circle cx="425.9" cy="474.0" r="5.5"/><circle cx="432.1" cy="467.5" r="5.5"/><circle cx="379.8" cy="558.9" r="5.5"/><circle cx="397.3" cy="524.4" r="5.5"/><circle cx="403.9" cy="563.1" r="5.5"/><circle cx="355.5" cy="563.9" r="5.5"/><circle cx="406.6" cy="511.8" r="5.5"/><circle cx="445.6" cy="468.7" r="5.5"/><circle cx="390.6" cy="568.6" r="5.5"/><circle cx="466.0" cy="493.7" r="5.5"/><circle cx="437.6" cy="538.9" r="5.5"/><circle cx="369.4" cy="585.9" r="5.5"/><circle cx="417.1" cy="519.0" r="5.5"/><circle cx="359.6" cy="582.6" r="5.5"/><circle cx="423.2" cy="568.9" r="5.5"/><circle cx="443.4" cy="524.5" r="5.5"/><circle cx="460.5" cy="529.5" r="5.5"/><circle cx="400.1" cy="506.3" r="5.5"/><circle cx="465.4" cy="546.8" r="5.5"/><circle cx="422.4" cy="562.7" r="5.5"/><circle cx="421.5" cy="504.5" r="5.5"/><circle cx="413.1" cy="502.4" r="5.5"/><circle cx="459.1" cy="483.7" r="5.5"/><circle cx="383.1" cy="548.6" r="5.5"/><circle cx="456.6" cy="472.7" r="5.5"/><circle cx="400.4" cy="558.7" r="5.5"/><circle cx="411.6" cy="507.0" r="5.5"/><circle cx="413.1" cy="492.2" r="5.5"/><circle cx="363.8" cy="571.2" r="5.5"/><circle cx="415.5" cy="493.0" r="5.5"/><circle cx="423.5" cy="525.4" r="5.5"/><circle cx="422.3" cy="521.0" r="5.5"/><circle cx="420.9" cy="523.6" r="5.5"/><circle cx="414.1" cy="574.2" r="5.5"/><circle cx="463.9" cy="522.7" r="5.5"/><circle cx="417.6" cy="498.2" r="5.5"/><circle cx="407.3" cy="563.6" r="5.5"/><circle cx="419.6" cy="480.5" r="5.5"/><circle cx="466.4" cy="492.3" r="5.5"/><circle cx="415.5" cy="560.1" r="5.5"/><circle cx="404.5" cy="567.7" r="5.5"/><circle cx="449.0" cy="510.0" r="5.5"/><circle cx="444.2" cy="477.1" r="5.5"/><circle cx="452.2" cy="536.8" r="5.5"/><circle cx="440.4" cy="475.4" r="5.5"/><circle cx="429.3" cy="530.5" r="5.5"/><circle cx="457.8" cy="524.1" r="5.5"/><circle cx="435.3" cy="484.7" r="5.5"/>
</g>
<g class="c0">
<circle cx="531.0" cy="257.7" r="5.5"/><circle cx="529.5" cy="195.1" r="5.5"/><circle cx="374.8" cy="260.0" r="5.5"/><circle cx="527.5" cy="279.1" r="5.5"/><circle cx="425.9" cy="255.9" r="5.5"/><circle cx="430.3" cy="261.2" r="5.5"/><circle cx="498.2" cy="232.7" r="5.5"/><circle cx="524.7" cy="272.4" r="5.5"/><circle cx="382.9" cy="243.3" r="5.5"/><circle cx="430.5" cy="250.3" r="5.5"/><circle cx="429.4" cy="199.8" r="5.5"/><circle cx="414.4" cy="221.5" r="5.5"/><circle cx="452.7" cy="187.2" r="5.5"/><circle cx="442.5" cy="277.6" r="5.5"/><circle cx="373.2" cy="230.2" r="5.5"/><circle cx="489.0" cy="173.9" r="5.5"/><circle cx="525.6" cy="217.9" r="5.5"/><circle cx="412.9" cy="226.7" r="5.5"/><circle cx="509.2" cy="204.8" r="5.5"/><circle cx="527.8" cy="204.4" r="5.5"/><circle cx="485.6" cy="162.4" r="5.5"/><circle cx="510.5" cy="270.8" r="5.5"/><circle cx="371.1" cy="264.0" r="5.5"/><circle cx="466.2" cy="299.7" r="5.5"/><circle cx="440.5" cy="249.2" r="5.5"/><circle cx="465.9" cy="274.6" r="5.5"/><circle cx="430.9" cy="242.1" r="5.5"/><circle cx="520.7" cy="217.7" r="5.5"/><circle cx="494.3" cy="266.7" r="5.5"/><circle cx="423.8" cy="294.5" r="5.5"/><circle cx="423.8" cy="278.5" r="5.5"/><circle cx="443.7" cy="222.7" r="5.5"/><circle cx="505.0" cy="173.5" r="5.5"/><circle cx="493.9" cy="175.8" r="5.5"/><circle cx="493.9" cy="216.7" r="5.5"/><circle cx="501.3" cy="260.7" r="5.5"/><circle cx="420.9" cy="178.0" r="5.5"/><circle cx="486.1" cy="248.8" r="5.5"/><circle cx="500.4" cy="220.4" r="5.5"/><circle cx="519.3" cy="283.9" r="5.5"/><circle cx="424.2" cy="258.8" r="5.5"/><circle cx="524.1" cy="214.5" r="5.5"/><circle cx="499.9" cy="174.7" r="5.5"/><circle cx="393.9" cy="256.3" r="5.5"/><circle cx="429.6" cy="261.6" r="5.5"/><circle cx="513.9" cy="250.0" r="5.5"/><circle cx="520.7" cy="303.9" r="5.5"/><circle cx="533.1" cy="204.6" r="5.5"/><circle cx="518.4" cy="220.1" r="5.5"/><circle cx="509.3" cy="209.1" r="5.5"/><circle cx="506.8" cy="173.0" r="5.5"/><circle cx="425.1" cy="284.8" r="5.5"/><circle cx="521.6" cy="260.4" r="5.5"/><circle cx="379.2" cy="254.5" r="5.5"/><circle cx="525.8" cy="275.5" r="5.5"/><circle cx="501.2" cy="280.8" r="5.5"/><circle cx="439.8" cy="278.7" r="5.5"/><circle cx="503.3" cy="192.4" r="5.5"/><circle cx="422.1" cy="209.5" r="5.5"/><circle cx="382.1" cy="255.4" r="5.5"/><circle cx="487.9" cy="261.0" r="5.5"/><circle cx="507.9" cy="259.5" r="5.5"/><circle cx="526.9" cy="199.6" r="5.5"/><circle cx="479.0" cy="265.8" r="5.5"/><circle cx="508.6" cy="210.0" r="5.5"/><circle cx="482.3" cy="260.4" r="5.5"/><circle cx="381.9" cy="265.1" r="5.5"/><circle cx="441.8" cy="217.6" r="5.5"/><circle cx="377.7" cy="267.1" r="5.5"/><circle cx="493.0" cy="181.5" r="5.5"/><circle cx="521.1" cy="290.3" r="5.5"/><circle cx="490.8" cy="199.6" r="5.5"/><circle cx="494.9" cy="271.5" r="5.5"/><circle cx="415.5" cy="193.8" r="5.5"/><circle cx="419.3" cy="266.2" r="5.5"/><circle cx="408.3" cy="203.0" r="5.5"/><circle cx="417.0" cy="282.2" r="5.5"/><circle cx="492.3" cy="312.1" r="5.5"/><circle cx="488.6" cy="262.7" r="5.5"/><circle cx="430.9" cy="191.2" r="5.5"/><circle cx="401.4" cy="266.4" r="5.5"/><circle cx="517.1" cy="205.7" r="5.5"/><circle cx="544.8" cy="182.7" r="5.5"/><circle cx="538.9" cy="193.8" r="5.5"/><circle cx="519.0" cy="245.2" r="5.5"/><circle cx="546.1" cy="272.1" r="5.5"/><circle cx="511.9" cy="216.0" r="5.5"/><circle cx="417.2" cy="197.8" r="5.5"/><circle cx="424.1" cy="214.7" r="5.5"/><circle cx="497.6" cy="235.9" r="5.5"/><circle cx="506.6" cy="302.9" r="5.5"/><circle cx="441.3" cy="184.1" r="5.5"/><circle cx="383.2" cy="239.4" r="5.5"/><circle cx="520.6" cy="231.9" r="5.5"/><circle cx="531.4" cy="255.0" r="5.5"/><circle cx="377.0" cy="213.4" r="5.5"/><circle cx="420.1" cy="249.4" r="5.5"/><circle cx="492.7" cy="253.6" r="5.5"/><circle cx="419.4" cy="266.3" r="5.5"/><circle cx="438.9" cy="287.3" r="5.5"/><circle cx="433.1" cy="227.4" r="5.5"/><circle cx="386.1" cy="267.2" r="5.5"/><circle cx="521.2" cy="217.3" r="5.5"/><circle cx="519.4" cy="179.6" r="5.5"/><circle cx="529.6" cy="258.4" r="5.5"/><circle cx="393.9" cy="259.9" r="5.5"/><circle cx="442.3" cy="265.2" r="5.5"/><circle cx="385.4" cy="235.3" r="5.5"/><circle cx="445.6" cy="249.1" r="5.5"/><circle cx="525.6" cy="239.7" r="5.5"/><circle cx="539.6" cy="203.5" r="5.5"/><circle cx="376.2" cy="250.3" r="5.5"/><circle cx="372.5" cy="238.4" r="5.5"/><circle cx="465.1" cy="270.7" r="5.5"/><circle cx="386.9" cy="233.3" r="5.5"/><circle cx="410.8" cy="184.4" r="5.5"/><circle cx="385.9" cy="233.4" r="5.5"/><circle cx="493.0" cy="167.0" r="5.5"/><circle cx="401.2" cy="258.2" r="5.5"/><circle cx="415.3" cy="189.9" r="5.5"/><circle cx="497.0" cy="216.1" r="5.5"/><circle cx="398.2" cy="222.3" r="5.5"/><circle cx="531.5" cy="261.2" r="5.5"/><circle cx="527.0" cy="284.6" r="5.5"/><circle cx="530.5" cy="280.8" r="5.5"/><circle cx="385.1" cy="266.4" r="5.5"/><circle cx="437.6" cy="271.3" r="5.5"/><circle cx="492.1" cy="174.6" r="5.5"/><circle cx="461.8" cy="252.6" r="5.5"/><circle cx="468.5" cy="274.7" r="5.5"/><circle cx="493.7" cy="247.5" r="5.5"/><circle cx="448.0" cy="253.8" r="5.5"/><circle cx="534.2" cy="206.5" r="5.5"/><circle cx="382.7" cy="247.1" r="5.5"/><circle cx="515.8" cy="207.1" r="5.5"/><circle cx="513.3" cy="301.5" r="5.5"/><circle cx="388.1" cy="254.8" r="5.5"/><circle cx="424.8" cy="196.2" r="5.5"/><circle cx="506.1" cy="288.9" r="5.5"/><circle cx="380.2" cy="243.7" r="5.5"/><circle cx="501.2" cy="276.1" r="5.5"/><circle cx="490.7" cy="304.7" r="5.5"/><circle cx="389.9" cy="228.4" r="5.5"/><circle cx="448.1" cy="253.7" r="5.5"/><circle cx="534.7" cy="166.9" r="5.5"/><circle cx="483.4" cy="186.2" r="5.5"/><circle cx="390.5" cy="263.5" r="5.5"/><circle cx="418.8" cy="215.6" r="5.5"/><circle cx="494.3" cy="220.6" r="5.5"/><circle cx="425.7" cy="283.1" r="5.5"/><circle cx="501.1" cy="277.3" r="5.5"/><circle cx="373.8" cy="255.5" r="5.5"/><circle cx="477.4" cy="255.8" r="5.5"/><circle cx="535.6" cy="178.1" r="5.5"/><circle cx="537.1" cy="253.6" r="5.5"/><circle cx="490.1" cy="199.0" r="5.5"/><circle cx="500.9" cy="192.7" r="5.5"/><circle cx="451.1" cy="249.7" r="5.5"/><circle cx="531.0" cy="194.1" r="5.5"/><circle cx="371.7" cy="262.5" r="5.5"/><circle cx="386.2" cy="247.2" r="5.5"/><circle cx="498.3" cy="253.8" r="5.5"/><circle cx="371.5" cy="256.4" r="5.5"/><circle cx="435.8" cy="241.9" r="5.5"/><circle cx="498.1" cy="177.9" r="5.5"/><circle cx="412.7" cy="190.6" r="5.5"/><circle cx="497.4" cy="196.0" r="5.5"/><circle cx="532.0" cy="192.9" r="5.5"/><circle cx="500.0" cy="235.1" r="5.5"/><circle cx="428.7" cy="209.5" r="5.5"/><circle cx="413.8" cy="180.5" r="5.5"/><circle cx="517.2" cy="250.0" r="5.5"/><circle cx="472.0" cy="267.7" r="5.5"/><circle cx="399.1" cy="271.0" r="5.5"/><circle cx="480.4" cy="260.6" r="5.5"/><circle cx="505.3" cy="280.7" r="5.5"/><circle cx="527.7" cy="170.2" r="5.5"/><circle cx="393.8" cy="234.2" r="5.5"/><circle cx="534.8" cy="206.5" r="5.5"/><circle cx="506.3" cy="203.9" r="5.5"/><circle cx="493.2" cy="271.0" r="5.5"/><circle cx="534.0" cy="301.4" r="5.5"/><circle cx="539.4" cy="175.1" r="5.5"/><circle cx="418.6" cy="248.2" r="5.5"/><circle cx="411.3" cy="250.8" r="5.5"/><circle cx="457.9" cy="271.4" r="5.5"/><circle cx="399.9" cy="270.6" r="5.5"/><circle cx="503.4" cy="212.0" r="5.5"/><circle cx="514.3" cy="202.8" r="5.5"/><circle cx="441.3" cy="290.4" r="5.5"/><circle cx="533.6" cy="192.6" r="5.5"/><circle cx="502.8" cy="252.6" r="5.5"/><circle cx="459.2" cy="248.8" r="5.5"/><circle cx="413.2" cy="263.7" r="5.5"/><circle cx="437.8" cy="275.5" r="5.5"/><circle cx="522.5" cy="295.5" r="5.5"/><circle cx="404.1" cy="242.0" r="5.5"/><circle cx="524.0" cy="194.0" r="5.5"/><circle cx="410.5" cy="319.8" r="5.5"/><circle cx="445.5" cy="260.7" r="5.5"/><circle cx="404.0" cy="246.8" r="5.5"/><circle cx="398.4" cy="281.0" r="5.5"/><circle cx="452.0" cy="248.3" r="5.5"/><circle cx="545.1" cy="260.1" r="5.5"/><circle cx="431.7" cy="289.6" r="5.5"/><circle cx="526.8" cy="193.7" r="5.5"/><circle cx="407.2" cy="245.4" r="5.5"/><circle cx="532.7" cy="179.2" r="5.5"/><circle cx="515.4" cy="252.9" r="5.5"/><circle cx="462.0" cy="299.6" r="5.5"/><circle cx="438.7" cy="243.6" r="5.5"/><circle cx="487.3" cy="260.8" r="5.5"/><circle cx="436.0" cy="207.5" r="5.5"/><circle cx="493.9" cy="248.0" r="5.5"/><circle cx="410.4" cy="254.2" r="5.5"/><circle cx="519.4" cy="237.8" r="5.5"/><circle cx="484.5" cy="274.2" r="5.5"/><circle cx="537.8" cy="237.8" r="5.5"/><circle cx="401.8" cy="254.7" r="5.5"/><circle cx="537.6" cy="187.0" r="5.5"/><circle cx="374.7" cy="255.2" r="5.5"/><circle cx="546.4" cy="170.1" r="5.5"/><circle cx="390.4" cy="265.5" r="5.5"/><circle cx="506.7" cy="174.2" r="5.5"/><circle cx="528.5" cy="264.9" r="5.5"/><circle cx="552.2" cy="248.6" r="5.5"/><circle cx="432.3" cy="211.3" r="5.5"/><circle cx="422.2" cy="236.9" r="5.5"/><circle cx="426.0" cy="249.6" r="5.5"/><circle cx="440.1" cy="283.9" r="5.5"/><circle cx="545.0" cy="250.8" r="5.5"/><circle cx="388.5" cy="261.1" r="5.5"/><circle cx="480.7" cy="177.7" r="5.5"/><circle cx="483.3" cy="264.0" r="5.5"/><circle cx="424.0" cy="276.6" r="5.5"/><circle cx="486.2" cy="252.7" r="5.5"/><circle cx="397.0" cy="245.3" r="5.5"/><circle cx="499.6" cy="241.3" r="5.5"/><circle cx="437.7" cy="187.3" r="5.5"/><circle cx="480.3" cy="265.8" r="5.5"/><circle cx="383.0" cy="215.8" r="5.5"/><circle cx="537.6" cy="175.4" r="5.5"/><circle cx="419.7" cy="191.1" r="5.5"/><circle cx="376.2" cy="235.0" r="5.5"/><circle cx="490.7" cy="296.9" r="5.5"/><circle cx="528.9" cy="248.9" r="5.5"/><circle cx="400.2" cy="254.6" r="5.5"/><circle cx="428.8" cy="211.3" r="5.5"/><circle cx="425.0" cy="196.5" r="5.5"/><circle cx="515.8" cy="286.5" r="5.5"/><circle cx="439.7" cy="193.1" r="5.5"/><circle cx="521.7" cy="223.6" r="5.5"/><circle cx="513.0" cy="280.9" r="5.5"/><circle cx="493.8" cy="193.5" r="5.5"/><circle cx="408.4" cy="277.6" r="5.5"/><circle cx="546.2" cy="244.3" r="5.5"/><circle cx="381.9" cy="243.4" r="5.5"/><circle cx="442.7" cy="259.9" r="5.5"/><circle cx="419.7" cy="277.6" r="5.5"/><circle cx="420.9" cy="231.4" r="5.5"/><circle cx="440.9" cy="210.8" r="5.5"/><circle cx="387.3" cy="243.4" r="5.5"/><circle cx="430.7" cy="268.2" r="5.5"/><circle cx="442.8" cy="255.2" r="5.5"/><circle cx="543.4" cy="215.5" r="5.5"/><circle cx="375.2" cy="233.4" r="5.5"/><circle cx="388.9" cy="270.5" r="5.5"/><circle cx="438.0" cy="200.3" r="5.5"/><circle cx="389.8" cy="245.9" r="5.5"/><circle cx="438.1" cy="229.5" r="5.5"/><circle cx="545.7" cy="199.4" r="5.5"/><circle cx="481.2" cy="258.4" r="5.5"/><circle cx="414.0" cy="221.0" r="5.5"/><circle cx="380.6" cy="236.6" r="5.5"/><circle cx="486.7" cy="187.7" r="5.5"/><circle cx="522.2" cy="255.9" r="5.5"/><circle cx="385.9" cy="250.6" r="5.5"/><circle cx="411.7" cy="218.9" r="5.5"/><circle cx="499.4" cy="255.3" r="5.5"/><circle cx="491.2" cy="214.3" r="5.5"/><circle cx="412.2" cy="220.5" r="5.5"/><circle cx="475.4" cy="261.6" r="5.5"/><circle cx="368.5" cy="264.4" r="5.5"/><circle cx="511.6" cy="209.6" r="5.5"/><circle cx="409.2" cy="278.9" r="5.5"/><circle cx="516.7" cy="245.5" r="5.5"/><circle cx="516.9" cy="282.1" r="5.5"/><circle cx="477.9" cy="263.7" r="5.5"/><circle cx="525.6" cy="238.6" r="5.5"/><circle cx="394.7" cy="243.5" r="5.5"/><circle cx="500.0" cy="225.1" r="5.5"/><circle cx="442.2" cy="218.7" r="5.5"/><circle cx="538.4" cy="236.8" r="5.5"/><circle cx="530.8" cy="296.3" r="5.5"/><circle cx="509.0" cy="186.7" r="5.5"/><circle cx="508.8" cy="249.5" r="5.5"/><circle cx="453.6" cy="250.1" r="5.5"/><circle cx="490.8" cy="315.4" r="5.5"/><circle cx="457.0" cy="305.5" r="5.5"/><circle cx="396.3" cy="244.2" r="5.5"/><circle cx="516.8" cy="297.6" r="5.5"/><circle cx="435.0" cy="192.6" r="5.5"/><circle cx="489.1" cy="215.6" r="5.5"/><circle cx="409.9" cy="230.2" r="5.5"/><circle cx="535.1" cy="185.4" r="5.5"/><circle cx="525.8" cy="244.0" r="5.5"/><circle cx="409.4" cy="195.8" r="5.5"/><circle cx="424.9" cy="259.5" r="5.5"/><circle cx="466.0" cy="273.7" r="5.5"/><circle cx="449.3" cy="259.1" r="5.5"/><circle cx="529.7" cy="190.3" r="5.5"/><circle cx="382.7" cy="262.0" r="5.5"/><circle cx="408.9" cy="201.2" r="5.5"/><circle cx="519.8" cy="166.1" r="5.5"/><circle cx="528.3" cy="281.2" r="5.5"/><circle cx="406.4" cy="242.5" r="5.5"/><circle cx="538.5" cy="292.0" r="5.5"/><circle cx="492.8" cy="294.8" r="5.5"/><circle cx="525.8" cy="189.4" r="5.5"/><circle cx="494.3" cy="202.0" r="5.5"/><circle cx="510.6" cy="263.3" r="5.5"/><circle cx="456.8" cy="249.1" r="5.5"/><circle cx="420.5" cy="269.3" r="5.5"/><circle cx="386.9" cy="254.0" r="5.5"/><circle cx="499.9" cy="172.2" r="5.5"/><circle cx="410.6" cy="260.0" r="5.5"/><circle cx="386.2" cy="277.3" r="5.5"/><circle cx="498.6" cy="271.9" r="5.5"/><circle cx="539.4" cy="197.2" r="5.5"/><circle cx="530.5" cy="264.8" r="5.5"/><circle cx="421.0" cy="343.0" r="5.5"/><circle cx="448.5" cy="250.3" r="5.5"/><circle cx="377.5" cy="260.7" r="5.5"/><circle cx="544.2" cy="183.2" r="5.5"/><circle cx="506.3" cy="271.0" r="5.5"/><circle cx="504.9" cy="175.0" r="5.5"/><circle cx="422.6" cy="185.5" r="5.5"/><circle cx="428.2" cy="274.1" r="5.5"/><circle cx="446.2" cy="197.3" r="5.5"/><circle cx="425.9" cy="189.0" r="5.5"/><circle cx="507.6" cy="266.1" r="5.5"/><circle cx="414.3" cy="250.3" r="5.5"/><circle cx="508.0" cy="210.0" r="5.5"/><circle cx="527.4" cy="274.7" r="5.5"/><circle cx="440.0" cy="221.1" r="5.5"/><circle cx="536.3" cy="185.3" r="5.5"/><circle cx="475.9" cy="262.1" r="5.5"/><circle cx="533.1" cy="183.1" r="5.5"/><circle cx="454.4" cy="248.3" r="5.5"/><circle cx="409.4" cy="254.8" r="5.5"/><circle cx="410.3" cy="263.4" r="5.5"/><circle cx="437.2" cy="280.9" r="5.5"/><circle cx="516.2" cy="198.7" r="5.5"/><circle cx="445.9" cy="256.1" r="5.5"/><circle cx="384.1" cy="252.4" r="5.5"/><circle cx="494.7" cy="179.4" r="5.5"/><circle cx="433.2" cy="187.1" r="5.5"/><circle cx="501.2" cy="263.4" r="5.5"/><circle cx="439.2" cy="240.9" r="5.5"/><circle cx="499.0" cy="208.4" r="5.5"/><circle cx="464.1" cy="274.4" r="5.5"/><circle cx="426.1" cy="187.1" r="5.5"/><circle cx="452.2" cy="268.5" r="5.5"/><circle cx="407.9" cy="231.6" r="5.5"/><circle cx="529.0" cy="210.2" r="5.5"/><circle cx="496.0" cy="308.3" r="5.5"/><circle cx="413.4" cy="271.4" r="5.5"/><circle cx="489.6" cy="259.9" r="5.5"/><circle cx="424.3" cy="228.3" r="5.5"/><circle cx="533.8" cy="201.2" r="5.5"/><circle cx="513.4" cy="211.4" r="5.5"/><circle cx="510.8" cy="223.3" r="5.5"/><circle cx="371.1" cy="262.4" r="5.5"/><circle cx="496.0" cy="190.7" r="5.5"/>
</g>
<g class="c1">
<circle cx="632.5" cy="82.5" r="5.5"/><circle cx="657.2" cy="202.3" r="5.5"/><circle cx="638.9" cy="69.1" r="5.5"/><circle cx="655.7" cy="143.8" r="5.5"/><circle cx="643.3" cy="95.4" r="5.5"/><circle cx="694.7" cy="221.2" r="5.5"/><circle cx="614.9" cy="110.7" r="5.5"/><circle cx="616.3" cy="118.1" r="5.5"/><circle cx="690.1" cy="99.5" r="5.5"/><circle cx="615.2" cy="105.0" r="5.5"/><circle cx="644.3" cy="97.4" r="5.5"/><circle cx="642.5" cy="135.6" r="5.5"/><circle cx="636.6" cy="212.1" r="5.5"/><circle cx="662.3" cy="182.7" r="5.5"/><circle cx="623.6" cy="91.7" r="5.5"/><circle cx="644.9" cy="121.6" r="5.5"/><circle cx="649.9" cy="118.5" r="5.5"/><circle cx="638.6" cy="225.3" r="5.5"/><circle cx="693.1" cy="245.1" r="5.5"/><circle cx="662.6" cy="223.1" r="5.5"/><circle cx="615.1" cy="83.7" r="5.5"/><circle cx="657.8" cy="101.9" r="5.5"/><circle cx="653.3" cy="202.7" r="5.5"/><circle cx="652.5" cy="235.2" r="5.5"/><circle cx="662.7" cy="182.4" r="5.5"/><circle cx="654.8" cy="184.1" r="5.5"/><circle cx="606.8" cy="80.9" r="5.5"/><circle cx="656.7" cy="186.8" r="5.5"/><circle cx="651.2" cy="86.6" r="5.5"/><circle cx="619.2" cy="130.1" r="5.5"/><circle cx="628.0" cy="185.4" r="5.5"/><circle cx="649.5" cy="195.0" r="5.5"/><circle cx="643.9" cy="113.1" r="5.5"/><circle cx="659.4" cy="100.6" r="5.5"/><circle cx="661.8" cy="209.8" r="5.5"/><circle cx="733.0" cy="263.3" r="5.5"/><circle cx="636.7" cy="181.8" r="5.5"/><circle cx="657.5" cy="185.9" r="5.5"/><circle cx="656.3" cy="205.9" r="5.5"/><circle cx="644.6" cy="123.3" r="5.5"/><circle cx="668.9" cy="156.4" r="5.5"/><circle cx="666.2" cy="151.8" r="5.5"/><circle cx="635.1" cy="115.6" r="5.5"/><circle cx="677.8" cy="174.9" r="5.5"/><circle cx="676.9" cy="177.1" r="5.5"/><circle cx="621.7" cy="108.8" r="5.5"/><circle cx="627.2" cy="97.3" r="5.5"/><circle cx="631.5" cy="78.0" r="5.5"/><circle cx="661.4" cy="228.7" r="5.5"/><circle cx="724.7" cy="259.5" r="5.5"/><circle cx="636.9" cy="175.0" r="5.5"/><circle cx="649.8" cy="216.4" r="5.5"/><circle cx="646.2" cy="231.0" r="5.5"/><circle cx="631.2" cy="112.3" r="5.5"/><circle cx="641.6" cy="103.0" r="5.5"/><circle cx="663.9" cy="139.7" r="5.5"/><circle cx="641.9" cy="98.8" r="5.5"/><circle cx="634.5" cy="78.5" r="5.5"/><circle cx="654.9" cy="184.7" r="5.5"/><circle cx="627.8" cy="67.2" r="5.5"/><circle cx="677.1" cy="133.0" r="5.5"/><circle cx="605.1" cy="79.5" r="5.5"/><circle cx="684.8" cy="162.9" r="5.5"/><circle cx="691.0" cy="172.5" r="5.5"/><circle cx="664.2" cy="128.0" r="5.5"/><circle cx="619.3" cy="95.2" r="5.5"/><circle cx="643.3" cy="79.6" r="5.5"/><circle cx="656.3" cy="246.4" r="5.5"/><circle cx="687.4" cy="244.3" r="5.5"/><circle cx="600.3" cy="219.8" r="5.5"/><circle cx="678.3" cy="209.4" r="5.5"/><circle cx="648.9" cy="157.9" r="5.5"/><circle cx="662.8" cy="241.0" r="5.5"/><circle cx="622.8" cy="105.2" r="5.5"/><circle cx="651.2" cy="147.8" r="5.5"/><circle cx="690.7" cy="107.1" r="5.5"/><circle cx="630.5" cy="98.8" r="5.5"/><circle cx="656.5" cy="185.7" r="5.5"/><circle cx="661.7" cy="156.3" r="5.5"/><circle cx="677.2" cy="183.8" r="5.5"/><circle cx="664.8" cy="81.3" r="5.5"/><circle cx="644.2" cy="140.8" r="5.5"/><circle cx="668.3" cy="161.9" r="5.5"/><circle cx="688.0" cy="150.2" r="5.5"/><circle cx="634.1" cy="176.5" r="5.5"/><circle cx="628.1" cy="147.6" r="5.5"/><circle cx="645.7" cy="72.7" r="5.5"/><circle cx="662.3" cy="222.8" r="5.5"/><circle cx="670.5" cy="224.5" r="5.5"/><circle cx="654.1" cy="130.2" r="5.5"/><circle cx="661.4" cy="85.5" r="5.5"/><circle cx="645.0" cy="96.5" r="5.5"/><circle cx="603.4" cy="89.1" r="5.5"/><circle cx="726.3" cy="278.3" r="5.5"/><circle cx="664.3" cy="193.3" r="5.5"/><circle cx="669.0" cy="202.0" r="5.5"/><circle cx="633.5" cy="60.5" r="5.5"/><circle cx="667.2" cy="90.1" r="5.5"/><circle cx="632.6" cy="219.9" r="5.5"/><circle cx="623.1" cy="102.7" r="5.5"/><circle cx="690.7" cy="172.5" r="5.5"/><circle cx="692.4" cy="261.1" r="5.5"/><circle cx="667.4" cy="165.1" r="5.5"/><circle cx="667.8" cy="100.4" r="5.5"/><circle cx="639.9" cy="116.8" r="5.5"/><circle cx="597.0" cy="110.0" r="5.5"/><circle cx="676.4" cy="236.5" r="5.5"/><circle cx="635.6" cy="119.2" r="5.5"/><circle cx="646.6" cy="107.7" r="5.5"/><circle cx="655.0" cy="226.8" r="5.5"/><circle cx="686.9" cy="107.2" r="5.5"/><circle cx="637.3" cy="95.1" r="5.5"/><circle cx="617.8" cy="102.9" r="5.5"/><circle cx="660.7" cy="242.0" r="5.5"/><circle cx="682.1" cy="241.8" r="5.5"/><circle cx="675.3" cy="142.8" r="5.5"/><circle cx="656.4" cy="106.3" r="5.5"/><circle cx="683.8" cy="162.3" r="5.5"/><circle cx="635.5" cy="67.1" r="5.5"/><circle cx="681.5" cy="197.0" r="5.5"/><circle cx="633.3" cy="68.9" r="5.5"/><circle cx="625.8" cy="213.4" r="5.5"/><circle cx="652.1" cy="157.1" r="5.5"/><circle cx="651.3" cy="197.6" r="5.5"/><circle cx="632.3" cy="148.0" r="5.5"/><circle cx="634.0" cy="127.7" r="5.5"/><circle cx="660.8" cy="116.4" r="5.5"/><circle cx="656.0" cy="253.7" r="5.5"/><circle cx="631.8" cy="53.0" r="5.5"/><circle cx="656.1" cy="236.6" r="5.5"/><circle cx="644.5" cy="150.1" r="5.5"/><circle cx="721.6" cy="260.2" r="5.5"/><circle cx="679.5" cy="222.3" r="5.5"/><circle cx="619.4" cy="104.3" r="5.5"/><circle cx="643.9" cy="172.0" r="5.5"/><circle cx="689.4" cy="221.8" r="5.5"/><circle cx="635.3" cy="201.2" r="5.5"/><circle cx="663.0" cy="162.6" r="5.5"/><circle cx="674.1" cy="183.9" r="5.5"/><circle cx="649.1" cy="181.3" r="5.5"/><circle cx="644.6" cy="104.5" r="5.5"/><circle cx="632.3" cy="85.2" r="5.5"/><circle cx="636.5" cy="85.1" r="5.5"/><circle cx="655.0" cy="185.3" r="5.5"/><circle cx="686.1" cy="204.3" r="5.5"/><circle cx="627.0" cy="54.0" r="5.5"/><circle cx="635.7" cy="104.0" r="5.5"/><circle cx="686.9" cy="231.0" r="5.5"/><circle cx="653.0" cy="239.6" r="5.5"/><circle cx="672.5" cy="200.2" r="5.5"/><circle cx="656.6" cy="242.5" r="5.5"/><circle cx="623.2" cy="60.8" r="5.5"/><circle cx="662.7" cy="234.2" r="5.5"/><circle cx="671.0" cy="179.5" r="5.5"/><circle cx="662.0" cy="181.5" r="5.5"/><circle cx="655.5" cy="234.6" r="5.5"/><circle cx="615.8" cy="230.9" r="5.5"/><circle cx="632.6" cy="160.1" r="5.5"/><circle cx="623.9" cy="126.8" r="5.5"/><circle cx="679.1" cy="201.1" r="5.5"/><circle cx="658.5" cy="113.1" r="5.5"/><circle cx="624.0" cy="88.2" r="5.5"/><circle cx="627.7" cy="99.9" r="5.5"/><circle cx="656.5" cy="185.2" r="5.5"/><circle cx="635.0" cy="134.4" r="5.5"/><circle cx="648.7" cy="66.6" r="5.5"/><circle cx="668.2" cy="249.6" r="5.5"/><circle cx="683.0" cy="150.3" r="5.5"/><circle cx="671.1" cy="199.1" r="5.5"/><circle cx="658.2" cy="107.4" r="5.5"/><circle cx="645.3" cy="83.0" r="5.5"/><circle cx="654.9" cy="225.7" r="5.5"/><circle cx="663.3" cy="189.7" r="5.5"/><circle cx="669.7" cy="218.1" r="5.5"/><circle cx="647.7" cy="135.1" r="5.5"/><circle cx="640.5" cy="94.0" r="5.5"/><circle cx="638.0" cy="173.8" r="5.5"/><circle cx="676.3" cy="259.4" r="5.5"/><circle cx="633.7" cy="76.2" r="5.5"/><circle cx="643.3" cy="104.0" r="5.5"/><circle cx="669.4" cy="209.1" r="5.5"/><circle cx="660.6" cy="206.3" r="5.5"/><circle cx="649.3" cy="230.7" r="5.5"/><circle cx="682.3" cy="113.9" r="5.5"/><circle cx="633.9" cy="67.8" r="5.5"/><circle cx="680.6" cy="177.0" r="5.5"/><circle cx="646.0" cy="75.7" r="5.5"/><circle cx="695.2" cy="284.3" r="5.5"/><circle cx="667.7" cy="220.4" r="5.5"/><circle cx="636.3" cy="101.3" r="5.5"/><circle cx="623.9" cy="103.8" r="5.5"/><circle cx="666.6" cy="243.9" r="5.5"/><circle cx="644.2" cy="136.6" r="5.5"/><circle cx="617.1" cy="86.6" r="5.5"/><circle cx="625.4" cy="185.3" r="5.5"/><circle cx="669.6" cy="92.1" r="5.5"/><circle cx="631.1" cy="123.2" r="5.5"/><circle cx="637.7" cy="184.4" r="5.5"/><circle cx="618.4" cy="231.5" r="5.5"/><circle cx="690.2" cy="167.8" r="5.5"/><circle cx="623.1" cy="71.6" r="5.5"/><circle cx="639.9" cy="215.5" r="5.5"/><circle cx="666.5" cy="206.9" r="5.5"/><circle cx="688.8" cy="160.9" r="5.5"/><circle cx="693.6" cy="166.9" r="5.5"/><circle cx="630.7" cy="172.0" r="5.5"/><circle cx="655.9" cy="238.0" r="5.5"/><circle cx="668.8" cy="83.2" r="5.5"/><circle cx="661.0" cy="73.7" r="5.5"/><circle cx="675.1" cy="251.7" r="5.5"/><circle cx="663.2" cy="216.3" r="5.5"/><circle cx="609.6" cy="70.4" r="5.5"/><circle cx="669.0" cy="205.8" r="5.5"/><circle cx="664.5" cy="189.4" r="5.5"/><circle cx="633.5" cy="113.2" r="5.5"/><circle cx="635.6" cy="221.9" r="5.5"/><circle cx="610.4" cy="108.5" r="5.5"/><circle cx="647.7" cy="116.9" r="5.5"/><circle cx="666.2" cy="132.3" r="5.5"/><circle cx="731.5" cy="267.1" r="5.5"/><circle cx="676.9" cy="178.2" r="5.5"/><circle cx="642.6" cy="94.1" r="5.5"/><circle cx="671.6" cy="237.6" r="5.5"/><circle cx="636.7" cy="91.4" r="5.5"/><circle cx="662.4" cy="233.3" r="5.5"/><circle cx="609.5" cy="105.2" r="5.5"/><circle cx="618.8" cy="95.1" r="5.5"/><circle cx="641.7" cy="133.7" r="5.5"/><circle cx="642.5" cy="233.4" r="5.5"/><circle cx="689.4" cy="164.8" r="5.5"/><circle cx="628.3" cy="165.6" r="5.5"/><circle cx="625.5" cy="183.6" r="5.5"/><circle cx="643.2" cy="182.9" r="5.5"/><circle cx="694.6" cy="150.7" r="5.5"/><circle cx="640.6" cy="118.9" r="5.5"/><circle cx="638.1" cy="87.9" r="5.5"/><circle cx="651.2" cy="68.0" r="5.5"/><circle cx="649.4" cy="139.2" r="5.5"/><circle cx="663.3" cy="176.8" r="5.5"/><circle cx="641.3" cy="212.8" r="5.5"/><circle cx="627.2" cy="143.1" r="5.5"/><circle cx="632.7" cy="180.4" r="5.5"/><circle cx="647.4" cy="70.8" r="5.5"/><circle cx="652.6" cy="196.3" r="5.5"/><circle cx="621.2" cy="83.5" r="5.5"/><circle cx="685.5" cy="196.9" r="5.5"/><circle cx="623.8" cy="117.1" r="5.5"/><circle cx="650.0" cy="146.3" r="5.5"/><circle cx="633.7" cy="210.8" r="5.5"/><circle cx="651.8" cy="142.2" r="5.5"/><circle cx="630.5" cy="175.2" r="5.5"/><circle cx="652.1" cy="71.6" r="5.5"/><circle cx="691.7" cy="237.3" r="5.5"/><circle cx="656.1" cy="185.8" r="5.5"/><circle cx="621.1" cy="137.0" r="5.5"/><circle cx="637.8" cy="218.7" r="5.5"/><circle cx="621.3" cy="175.1" r="5.5"/><circle cx="637.3" cy="132.5" r="5.5"/><circle cx="635.9" cy="232.3" r="5.5"/><circle cx="627.1" cy="111.9" r="5.5"/><circle cx="662.7" cy="229.8" r="5.5"/><circle cx="674.6" cy="240.5" r="5.5"/><circle cx="636.9" cy="204.3" r="5.5"/><circle cx="609.8" cy="75.4" r="5.5"/><circle cx="589.6" cy="241.9" r="5.5"/><circle cx="680.0" cy="106.6" r="5.5"/><circle cx="619.2" cy="96.8" r="5.5"/><circle cx="608.4" cy="87.8" r="5.5"/><circle cx="654.6" cy="219.2" r="5.5"/><circle cx="647.1" cy="176.2" r="5.5"/><circle cx="687.5" cy="206.8" r="5.5"/><circle cx="658.2" cy="181.6" r="5.5"/><circle cx="603.6" cy="208.6" r="5.5"/><circle cx="690.0" cy="156.6" r="5.5"/><circle cx="629.1" cy="181.5" r="5.5"/><circle cx="637.0" cy="67.8" r="5.5"/><circle cx="662.1" cy="110.3" r="5.5"/><circle cx="652.7" cy="239.6" r="5.5"/><circle cx="624.0" cy="104.5" r="5.5"/><circle cx="678.6" cy="231.8" r="5.5"/><circle cx="631.4" cy="68.9" r="5.5"/><circle cx="668.1" cy="226.3" r="5.5"/><circle cx="609.2" cy="94.8" r="5.5"/><circle cx="675.4" cy="153.6" r="5.5"/><circle cx="653.9" cy="148.3" r="5.5"/><circle cx="631.2" cy="212.3" r="5.5"/><circle cx="627.0" cy="129.1" r="5.5"/><circle cx="664.4" cy="135.1" r="5.5"/><circle cx="672.5" cy="241.4" r="5.5"/><circle cx="712.8" cy="259.0" r="5.5"/><circle cx="652.1" cy="151.1" r="5.5"/><circle cx="647.3" cy="246.5" r="5.5"/><circle cx="663.5" cy="90.5" r="5.5"/><circle cx="627.0" cy="63.4" r="5.5"/><circle cx="613.8" cy="67.2" r="5.5"/><circle cx="685.8" cy="145.3" r="5.5"/><circle cx="624.1" cy="108.4" r="5.5"/><circle cx="681.3" cy="226.0" r="5.5"/><circle cx="657.2" cy="133.2" r="5.5"/><circle cx="618.4" cy="228.3" r="5.5"/><circle cx="635.2" cy="89.8" r="5.5"/><circle cx="644.6" cy="124.4" r="5.5"/><circle cx="686.9" cy="209.0" r="5.5"/><circle cx="637.9" cy="90.9" r="5.5"/><circle cx="606.6" cy="86.3" r="5.5"/><circle cx="680.4" cy="167.6" r="5.5"/><circle cx="661.7" cy="207.1" r="5.5"/><circle cx="649.7" cy="159.6" r="5.5"/><circle cx="630.5" cy="108.0" r="5.5"/><circle cx="673.0" cy="222.1" r="5.5"/><circle cx="622.0" cy="111.9" r="5.5"/><circle cx="687.6" cy="172.4" r="5.5"/><circle cx="691.7" cy="245.5" r="5.5"/><circle cx="656.0" cy="214.8" r="5.5"/><circle cx="655.3" cy="211.3" r="5.5"/><circle cx="669.2" cy="191.5" r="5.5"/><circle cx="619.7" cy="118.2" r="5.5"/><circle cx="643.8" cy="98.7" r="5.5"/><circle cx="658.3" cy="163.6" r="5.5"/><circle cx="669.3" cy="139.5" r="5.5"/><circle cx="651.3" cy="218.3" r="5.5"/><circle cx="689.7" cy="107.2" r="5.5"/><circle cx="671.6" cy="124.3" r="5.5"/><circle cx="699.3" cy="286.7" r="5.5"/><circle cx="657.6" cy="168.8" r="5.5"/><circle cx="634.5" cy="117.8" r="5.5"/><circle cx="668.5" cy="231.0" r="5.5"/><circle cx="601.8" cy="192.6" r="5.5"/><circle cx="638.6" cy="137.1" r="5.5"/><circle cx="727.9" cy="268.3" r="5.5"/><circle cx="638.0" cy="157.9" r="5.5"/><circle cx="691.7" cy="202.8" r="5.5"/><circle cx="626.2" cy="164.6" r="5.5"/><circle cx="621.4" cy="161.3" r="5.5"/><circle cx="694.5" cy="210.9" r="5.5"/><circle cx="609.8" cy="72.6" r="5.5"/><circle cx="657.3" cy="161.6" r="5.5"/><circle cx="645.3" cy="189.1" r="5.5"/><circle cx="647.3" cy="226.6" r="5.5"/><circle cx="686.5" cy="245.9" r="5.5"/><circle cx="641.3" cy="69.7" r="5.5"/><circle cx="657.1" cy="161.1" r="5.5"/><circle cx="651.0" cy="249.8" r="5.5"/><circle cx="637.0" cy="184.9" r="5.5"/><circle cx="673.5" cy="127.1" r="5.5"/><circle cx="626.0" cy="113.2" r="5.5"/><circle cx="682.2" cy="196.6" r="5.5"/><circle cx="655.7" cy="125.4" r="5.5"/><circle cx="670.0" cy="224.1" r="5.5"/><circle cx="686.0" cy="115.9" r="5.5"/><circle cx="649.3" cy="107.7" r="5.5"/><circle cx="622.1" cy="106.3" r="5.5"/><circle cx="658.7" cy="187.9" r="5.5"/><circle cx="640.3" cy="206.3" r="5.5"/><circle cx="673.3" cy="188.3" r="5.5"/><circle cx="636.5" cy="65.6" r="5.5"/><circle cx="659.5" cy="119.3" r="5.5"/><circle cx="673.0" cy="166.7" r="5.5"/><circle cx="652.6" cy="191.1" r="5.5"/><circle cx="646.4" cy="136.4" r="5.5"/><circle cx="642.3" cy="165.3" r="5.5"/><circle cx="613.0" cy="69.0" r="5.5"/><circle cx="618.6" cy="105.8" r="5.5"/><circle cx="662.9" cy="151.8" r="5.5"/><circle cx="650.7" cy="243.2" r="5.5"/>
</g>
<g class="c2">
<circle cx="875.4" cy="256.1" r="5.5"/><circle cx="807.2" cy="230.3" r="5.5"/><circle cx="863.2" cy="198.8" r="5.5"/><circle cx="836.2" cy="209.9" r="5.5"/><circle cx="787.2" cy="225.7" r="5.5"/><circle cx="870.0" cy="201.8" r="5.5"/><circle cx="859.6" cy="202.2" r="5.5"/><circle cx="793.7" cy="229.1" r="5.5"/><circle cx="823.6" cy="261.0" r="5.5"/><circle cx="834.8" cy="208.6" r="5.5"/><circle cx="825.0" cy="249.1" r="5.5"/><circle cx="854.5" cy="263.9" r="5.5"/><circle cx="791.2" cy="214.3" r="5.5"/><circle cx="825.1" cy="249.8" r="5.5"/><circle cx="872.2" cy="247.9" r="5.5"/><circle cx="834.5" cy="202.3" r="5.5"/><circle cx="874.8" cy="221.6" r="5.5"/><circle cx="803.4" cy="242.8" r="5.5"/><circle cx="871.0" cy="213.5" r="5.5"/><circle cx="810.9" cy="226.2" r="5.5"/><circle cx="790.6" cy="270.0" r="5.5"/><circle cx="867.7" cy="156.0" r="5.5"/><circle cx="843.3" cy="234.0" r="5.5"/><circle cx="799.4" cy="289.8" r="5.5"/><circle cx="790.4" cy="266.3" r="5.5"/><circle cx="818.6" cy="234.8" r="5.5"/><circle cx="874.1" cy="219.9" r="5.5"/><circle cx="863.1" cy="198.5" r="5.5"/><circle cx="863.6" cy="206.2" r="5.5"/><circle cx="790.8" cy="212.0" r="5.5"/><circle cx="835.6" cy="174.6" r="5.5"/><circle cx="813.4" cy="264.3" r="5.5"/><circle cx="847.4" cy="202.6" r="5.5"/><circle cx="852.5" cy="202.9" r="5.5"/><circle cx="825.3" cy="268.8" r="5.5"/><circle cx="828.9" cy="225.5" r="5.5"/><circle cx="822.9" cy="195.4" r="5.5"/><circle cx="800.5" cy="261.7" r="5.5"/><circle cx="804.6" cy="282.4" r="5.5"/><circle cx="841.8" cy="238.4" r="5.5"/><circle cx="803.3" cy="216.7" r="5.5"/><circle cx="821.8" cy="247.8" r="5.5"/><circle cx="872.3" cy="223.3" r="5.5"/><circle cx="863.0" cy="175.9" r="5.5"/><circle cx="821.3" cy="205.8" r="5.5"/><circle cx="795.3" cy="276.7" r="5.5"/><circle cx="851.1" cy="179.4" r="5.5"/><circle cx="818.6" cy="204.1" r="5.5"/><circle cx="842.4" cy="235.6" r="5.5"/><circle cx="857.6" cy="196.5" r="5.5"/><circle cx="842.5" cy="191.2" r="5.5"/><circle cx="849.2" cy="229.6" r="5.5"/><circle cx="871.2" cy="173.9" r="5.5"/><circle cx="869.4" cy="261.6" r="5.5"/><circle cx="852.5" cy="177.9" r="5.5"/><circle cx="879.0" cy="161.8" r="5.5"/><circle cx="796.1" cy="235.4" r="5.5"/><circle cx="838.1" cy="226.2" r="5.5"/><circle cx="801.2" cy="196.9" r="5.5"/><circle cx="871.0" cy="174.1" r="5.5"/><circle cx="848.8" cy="237.6" r="5.5"/><circle cx="784.1" cy="269.6" r="5.5"/><circle cx="856.7" cy="191.8" r="5.5"/><circle cx="847.0" cy="202.8" r="5.5"/><circle cx="826.9" cy="192.3" r="5.5"/><circle cx="827.5" cy="202.5" r="5.5"/><circle cx="864.1" cy="209.5" r="5.5"/><circle cx="861.1" cy="159.6" r="5.5"/><circle cx="836.4" cy="182.8" r="5.5"/><circle cx="832.7" cy="199.3" r="5.5"/><circle cx="802.1" cy="253.8" r="5.5"/><circle cx="811.7" cy="230.5" r="5.5"/><circle cx="857.8" cy="249.4" r="5.5"/><circle cx="850.4" cy="257.3" r="5.5"/><circle cx="839.5" cy="179.0" r="5.5"/><circle cx="790.0" cy="248.1" r="5.5"/><circle cx="792.5" cy="268.7" r="5.5"/><circle cx="866.3" cy="167.2" r="5.5"/><circle cx="785.6" cy="244.2" r="5.5"/><circle cx="783.3" cy="257.6" r="5.5"/><circle cx="788.4" cy="221.5" r="5.5"/><circle cx="859.9" cy="167.9" r="5.5"/><circle cx="845.9" cy="241.5" r="5.5"/><circle cx="855.8" cy="204.6" r="5.5"/><circle cx="857.0" cy="210.3" r="5.5"/><circle cx="846.4" cy="197.6" r="5.5"/><circle cx="792.4" cy="274.9" r="5.5"/><circle cx="854.4" cy="212.2" r="5.5"/><circle cx="853.1" cy="239.4" r="5.5"/><circle cx="878.1" cy="175.6" r="5.5"/><circle cx="865.4" cy="180.6" r="5.5"/><circle cx="842.0" cy="239.3" r="5.5"/><circle cx="825.3" cy="230.6" r="5.5"/><circle cx="867.7" cy="219.4" r="5.5"/><circle cx="836.2" cy="176.7" r="5.5"/><circle cx="815.6" cy="276.4" r="5.5"/><circle cx="882.2" cy="200.1" r="5.5"/><circle cx="795.1" cy="203.6" r="5.5"/><circle cx="813.7" cy="259.4" r="5.5"/><circle cx="864.6" cy="166.0" r="5.5"/><circle cx="817.8" cy="219.2" r="5.5"/><circle cx="812.2" cy="230.1" r="5.5"/><circle cx="866.4" cy="237.0" r="5.5"/><circle cx="836.3" cy="215.4" r="5.5"/><circle cx="819.9" cy="198.5" r="5.5"/><circle cx="833.8" cy="233.9" r="5.5"/><circle cx="799.1" cy="189.7" r="5.5"/><circle cx="812.6" cy="257.6" r="5.5"/><circle cx="826.9" cy="177.3" r="5.5"/><circle cx="831.2" cy="222.0" r="5.5"/><circle cx="810.6" cy="237.8" r="5.5"/><circle cx="849.5" cy="214.6" r="5.5"/><circle cx="802.8" cy="205.5" r="5.5"/><circle cx="863.8" cy="251.0" r="5.5"/><circle cx="800.5" cy="243.8" r="5.5"/><circle cx="791.2" cy="222.0" r="5.5"/><circle cx="810.8" cy="195.3" r="5.5"/><circle cx="841.5" cy="240.3" r="5.5"/><circle cx="848.0" cy="185.4" r="5.5"/><circle cx="865.9" cy="244.7" r="5.5"/><circle cx="812.7" cy="268.2" r="5.5"/><circle cx="824.3" cy="256.3" r="5.5"/><circle cx="816.0" cy="239.7" r="5.5"/><circle cx="837.7" cy="251.5" r="5.5"/><circle cx="815.0" cy="186.5" r="5.5"/><circle cx="851.6" cy="169.5" r="5.5"/><circle cx="816.2" cy="208.4" r="5.5"/><circle cx="859.4" cy="179.7" r="5.5"/><circle cx="801.0" cy="268.7" r="5.5"/><circle cx="853.9" cy="171.0" r="5.5"/><circle cx="843.7" cy="213.2" r="5.5"/><circle cx="828.7" cy="214.6" r="5.5"/><circle cx="826.1" cy="222.7" r="5.5"/><circle cx="865.0" cy="149.0" r="5.5"/><circle cx="787.6" cy="238.8" r="5.5"/><circle cx="860.4" cy="262.5" r="5.5"/><circle cx="795.1" cy="274.2" r="5.5"/><circle cx="812.9" cy="272.1" r="5.5"/><circle cx="869.2" cy="178.6" r="5.5"/><circle cx="846.5" cy="237.3" r="5.5"/><circle cx="796.1" cy="233.4" r="5.5"/><circle cx="797.2" cy="236.5" r="5.5"/><circle cx="835.9" cy="175.4" r="5.5"/><circle cx="839.6" cy="209.4" r="5.5"/><circle cx="854.6" cy="179.8" r="5.5"/><circle cx="858.8" cy="179.4" r="5.5"/><circle cx="836.9" cy="241.9" r="5.5"/><circle cx="837.5" cy="261.2" r="5.5"/><circle cx="792.2" cy="261.3" r="5.5"/><circle cx="870.5" cy="268.4" r="5.5"/><circle cx="842.1" cy="261.6" r="5.5"/><circle cx="870.9" cy="178.1" r="5.5"/><circle cx="783.6" cy="247.3" r="5.5"/><circle cx="847.7" cy="166.7" r="5.5"/><circle cx="864.4" cy="176.8" r="5.5"/><circle cx="862.1" cy="261.3" r="5.5"/><circle cx="862.4" cy="146.8" r="5.5"/><circle cx="807.8" cy="232.2" r="5.5"/><circle cx="867.5" cy="223.1" r="5.5"/><circle cx="815.9" cy="222.7" r="5.5"/><circle cx="828.0" cy="264.3" r="5.5"/><circle cx="817.4" cy="245.9" r="5.5"/><circle cx="795.8" cy="213.9" r="5.5"/><circle cx="809.2" cy="223.1" r="5.5"/><circle cx="821.9" cy="192.0" r="5.5"/><circle cx="850.1" cy="245.5" r="5.5"/><circle cx="809.5" cy="225.6" r="5.5"/><circle cx="791.8" cy="225.6" r="5.5"/><circle cx="788.5" cy="204.2" r="5.5"/><circle cx="814.4" cy="215.2" r="5.5"/><circle cx="805.5" cy="243.9" r="5.5"/><circle cx="842.1" cy="181.7" r="5.5"/><circle cx="865.6" cy="182.2" r="5.5"/><circle cx="820.6" cy="237.2" r="5.5"/><circle cx="877.3" cy="183.9" r="5.5"/><circle cx="839.0" cy="234.4" r="5.5"/><circle cx="781.9" cy="213.7" r="5.5"/><circle cx="830.0" cy="248.4" r="5.5"/><circle cx="837.4" cy="257.7" r="5.5"/><circle cx="813.0" cy="279.2" r="5.5"/><circle cx="857.0" cy="212.6" r="5.5"/><circle cx="847.8" cy="218.9" r="5.5"/><circle cx="864.4" cy="186.1" r="5.5"/><circle cx="834.6" cy="191.1" r="5.5"/><circle cx="857.0" cy="241.4" r="5.5"/><circle cx="825.4" cy="237.1" r="5.5"/><circle cx="866.7" cy="215.2" r="5.5"/><circle cx="871.9" cy="177.0" r="5.5"/><circle cx="861.7" cy="238.4" r="5.5"/><circle cx="791.6" cy="236.8" r="5.5"/><circle cx="854.7" cy="163.3" r="5.5"/><circle cx="829.1" cy="214.9" r="5.5"/><circle cx="844.7" cy="218.6" r="5.5"/><circle cx="821.9" cy="266.7" r="5.5"/><circle cx="879.1" cy="208.0" r="5.5"/><circle cx="831.7" cy="188.0" r="5.5"/><circle cx="874.1" cy="169.4" r="5.5"/><circle cx="873.6" cy="158.6" r="5.5"/><circle cx="847.8" cy="237.1" r="5.5"/><circle cx="837.1" cy="200.0" r="5.5"/><circle cx="838.0" cy="220.7" r="5.5"/><circle cx="873.9" cy="211.2" r="5.5"/><circle cx="825.5" cy="205.3" r="5.5"/><circle cx="827.7" cy="215.7" r="5.5"/><circle cx="794.0" cy="236.6" r="5.5"/><circle cx="781.0" cy="219.5" r="5.5"/><circle cx="833.9" cy="229.9" r="5.5"/><circle cx="827.7" cy="254.9" r="5.5"/><circle cx="828.0" cy="183.3" r="5.5"/><circle cx="869.7" cy="167.0" r="5.5"/><circle cx="787.9" cy="216.0" r="5.5"/><circle cx="876.0" cy="162.6" r="5.5"/><circle cx="840.2" cy="212.9" r="5.5"/><circle cx="846.7" cy="170.5" r="5.5"/><circle cx="796.5" cy="245.8" r="5.5"/><circle cx="856.2" cy="248.8" r="5.5"/><circle cx="806.7" cy="208.7" r="5.5"/><circle cx="874.2" cy="263.7" r="5.5"/><circle cx="826.6" cy="228.7" r="5.5"/><circle cx="819.8" cy="189.0" r="5.5"/><circle cx="852.0" cy="195.1" r="5.5"/><circle cx="834.9" cy="264.4" r="5.5"/><circle cx="785.0" cy="212.0" r="5.5"/><circle cx="863.0" cy="245.6" r="5.5"/><circle cx="846.0" cy="236.0" r="5.5"/><circle cx="822.3" cy="197.3" r="5.5"/><circle cx="874.3" cy="256.0" r="5.5"/><circle cx="781.8" cy="259.5" r="5.5"/><circle cx="777.8" cy="254.1" r="5.5"/><circle cx="805.2" cy="244.1" r="5.5"/><circle cx="848.4" cy="206.7" r="5.5"/><circle cx="817.5" cy="207.0" r="5.5"/><circle cx="845.0" cy="199.2" r="5.5"/><circle cx="831.4" cy="198.9" r="5.5"/><circle cx="784.8" cy="243.7" r="5.5"/><circle cx="809.5" cy="260.3" r="5.5"/><circle cx="862.1" cy="245.4" r="5.5"/><circle cx="814.1" cy="250.7" r="5.5"/><circle cx="794.6" cy="271.9" r="5.5"/><circle cx="787.3" cy="248.7" r="5.5"/><circle cx="875.7" cy="163.5" r="5.5"/><circle cx="833.4" cy="199.2" r="5.5"/><circle cx="868.7" cy="221.8" r="5.5"/><circle cx="833.0" cy="230.2" r="5.5"/><circle cx="837.6" cy="244.0" r="5.5"/><circle cx="887.1" cy="201.8" r="5.5"/><circle cx="797.3" cy="202.7" r="5.5"/><circle cx="860.2" cy="218.4" r="5.5"/><circle cx="841.4" cy="245.2" r="5.5"/><circle cx="850.2" cy="244.4" r="5.5"/><circle cx="825.0" cy="216.2" r="5.5"/><circle cx="846.8" cy="171.7" r="5.5"/><circle cx="815.7" cy="190.8" r="5.5"/><circle cx="813.9" cy="227.4" r="5.5"/><circle cx="808.3" cy="250.5" r="5.5"/><circle cx="838.2" cy="222.1" r="5.5"/><circle cx="799.3" cy="207.6" r="5.5"/><circle cx="795.1" cy="210.9" r="5.5"/><circle cx="792.6" cy="254.9" r="5.5"/><circle cx="795.5" cy="236.4" r="5.5"/><circle cx="868.9" cy="191.3" r="5.5"/><circle cx="864.9" cy="269.6" r="5.5"/><circle cx="859.0" cy="163.6" r="5.5"/><circle cx="866.4" cy="258.0" r="5.5"/><circle cx="816.2" cy="222.9" r="5.5"/><circle cx="832.3" cy="214.5" r="5.5"/><circle cx="853.7" cy="256.4" r="5.5"/><circle cx="871.5" cy="258.2" r="5.5"/><circle cx="869.4" cy="183.9" r="5.5"/><circle cx="825.9" cy="190.3" r="5.5"/><circle cx="790.2" cy="270.8" r="5.5"/><circle cx="854.6" cy="256.4" r="5.5"/><circle cx="869.9" cy="156.1" r="5.5"/><circle cx="870.4" cy="182.1" r="5.5"/><circle cx="855.2" cy="261.1" r="5.5"/><circle cx="846.7" cy="174.4" r="5.5"/><circle cx="818.1" cy="199.3" r="5.5"/><circle cx="853.8" cy="200.3" r="5.5"/><circle cx="831.1" cy="223.1" r="5.5"/><circle cx="817.5" cy="230.7" r="5.5"/><circle cx="869.0" cy="183.2" r="5.5"/><circle cx="868.3" cy="154.8" r="5.5"/><circle cx="820.2" cy="237.9" r="5.5"/><circle cx="854.3" cy="158.7" r="5.5"/><circle cx="845.6" cy="234.0" r="5.5"/><circle cx="843.2" cy="243.4" r="5.5"/><circle cx="867.1" cy="158.3" r="5.5"/><circle cx="857.5" cy="173.6" r="5.5"/><circle cx="837.5" cy="202.8" r="5.5"/><circle cx="848.8" cy="209.7" r="5.5"/><circle cx="845.9" cy="249.2" r="5.5"/><circle cx="829.5" cy="238.2" r="5.5"/><circle cx="880.9" cy="164.5" r="5.5"/><circle cx="868.6" cy="246.4" r="5.5"/><circle cx="822.4" cy="229.8" r="5.5"/><circle cx="791.7" cy="254.1" r="5.5"/><circle cx="794.4" cy="196.6" r="5.5"/><circle cx="844.7" cy="227.4" r="5.5"/><circle cx="861.5" cy="178.7" r="5.5"/><circle cx="822.4" cy="183.7" r="5.5"/><circle cx="854.5" cy="166.1" r="5.5"/><circle cx="857.1" cy="244.1" r="5.5"/><circle cx="859.4" cy="257.6" r="5.5"/><circle cx="851.0" cy="255.6" r="5.5"/><circle cx="806.6" cy="243.6" r="5.5"/><circle cx="796.4" cy="258.0" r="5.5"/><circle cx="814.8" cy="225.1" r="5.5"/><circle cx="830.8" cy="266.5" r="5.5"/><circle cx="869.2" cy="162.2" r="5.5"/><circle cx="847.2" cy="214.7" r="5.5"/><circle cx="810.1" cy="240.8" r="5.5"/><circle cx="868.3" cy="253.9" r="5.5"/><circle cx="855.1" cy="220.7" r="5.5"/><circle cx="849.4" cy="253.6" r="5.5"/><circle cx="798.9" cy="219.4" r="5.5"/><circle cx="807.8" cy="217.2" r="5.5"/><circle cx="812.4" cy="279.2" r="5.5"/><circle cx="861.1" cy="163.4" r="5.5"/><circle cx="873.6" cy="147.2" r="5.5"/><circle cx="822.4" cy="196.0" r="5.5"/><circle cx="863.9" cy="246.0" r="5.5"/><circle cx="834.0" cy="229.7" r="5.5"/><circle cx="853.8" cy="254.3" r="5.5"/><circle cx="828.9" cy="187.0" r="5.5"/><circle cx="813.7" cy="237.1" r="5.5"/><circle cx="850.8" cy="232.2" r="5.5"/><circle cx="820.3" cy="202.4" r="5.5"/><circle cx="820.3" cy="277.9" r="5.5"/><circle cx="827.5" cy="219.9" r="5.5"/><circle cx="817.5" cy="205.6" r="5.5"/><circle cx="814.1" cy="231.8" r="5.5"/><circle cx="842.3" cy="222.9" r="5.5"/><circle cx="836.0" cy="262.6" r="5.5"/><circle cx="837.1" cy="209.0" r="5.5"/><circle cx="790.2" cy="268.6" r="5.5"/><circle cx="835.6" cy="225.7" r="5.5"/><circle cx="829.4" cy="196.7" r="5.5"/><circle cx="856.5" cy="237.6" r="5.5"/><circle cx="822.3" cy="172.4" r="5.5"/><circle cx="809.9" cy="288.9" r="5.5"/><circle cx="830.2" cy="200.3" r="5.5"/><circle cx="840.6" cy="196.1" r="5.5"/><circle cx="835.8" cy="230.8" r="5.5"/><circle cx="817.3" cy="272.5" r="5.5"/><circle cx="797.5" cy="233.7" r="5.5"/><circle cx="854.9" cy="171.5" r="5.5"/><circle cx="838.9" cy="239.9" r="5.5"/><circle cx="857.8" cy="168.3" r="5.5"/><circle cx="855.6" cy="254.9" r="5.5"/><circle cx="878.5" cy="172.2" r="5.5"/><circle cx="857.7" cy="197.5" r="5.5"/><circle cx="805.2" cy="211.1" r="5.5"/><circle cx="859.4" cy="182.1" r="5.5"/><circle cx="833.7" cy="226.8" r="5.5"/><circle cx="864.6" cy="177.9" r="5.5"/><circle cx="811.2" cy="227.0" r="5.5"/><circle cx="856.6" cy="207.2" r="5.5"/><circle cx="799.7" cy="243.6" r="5.5"/><circle cx="834.1" cy="186.5" r="5.5"/><circle cx="841.0" cy="185.6" r="5.5"/><circle cx="840.9" cy="187.7" r="5.5"/><circle cx="846.1" cy="248.3" r="5.5"/><circle cx="865.5" cy="174.9" r="5.5"/><circle cx="839.2" cy="205.6" r="5.5"/><circle cx="789.9" cy="248.7" r="5.5"/><circle cx="860.5" cy="259.6" r="5.5"/><circle cx="848.3" cy="169.6" r="5.5"/><circle cx="823.7" cy="210.6" r="5.5"/><circle cx="823.4" cy="241.4" r="5.5"/>
</g>
<g class="c3">
<circle cx="285.3" cy="341.6" r="5.5"/><circle cx="258.9" cy="356.2" r="5.5"/><circle cx="247.8" cy="342.9" r="5.5"/><circle cx="300.9" cy="332.0" r="5.5"/><circle cx="245.6" cy="360.9" r="5.5"/><circle cx="237.5" cy="328.1" r="5.5"/><circle cx="259.3" cy="330.9" r="5.5"/><circle cx="218.9" cy="339.5" r="5.5"/><circle cx="264.2" cy="340.3" r="5.5"/><circle cx="280.2" cy="313.0" r="5.5"/><circle cx="262.9" cy="287.4" r="5.5"/><circle cx="303.9" cy="335.7" r="5.5"/><circle cx="321.6" cy="340.9" r="5.5"/><circle cx="237.1" cy="357.5" r="5.5"/><circle cx="214.5" cy="348.0" r="5.5"/><circle cx="307.3" cy="267.0" r="5.5"/><circle cx="299.1" cy="283.7" r="5.5"/><circle cx="260.6" cy="285.6" r="5.5"/><circle cx="225.1" cy="323.7" r="5.5"/><circle cx="227.8" cy="344.1" r="5.5"/><circle cx="267.7" cy="345.0" r="5.5"/><circle cx="230.1" cy="338.4" r="5.5"/><circle cx="305.2" cy="336.0" r="5.5"/><circle cx="304.3" cy="271.8" r="5.5"/><circle cx="258.1" cy="337.3" r="5.5"/><circle cx="264.4" cy="339.0" r="5.5"/><circle cx="279.1" cy="278.8" r="5.5"/><circle cx="301.2" cy="335.6" r="5.5"/><circle cx="301.0" cy="343.4" r="5.5"/><circle cx="277.2" cy="360.1" r="5.5"/><circle cx="265.2" cy="361.2" r="5.5"/><circle cx="311.8" cy="322.9" r="5.5"/><circle cx="298.3" cy="291.7" r="5.5"/><circle cx="296.2" cy="335.0" r="5.5"/><circle cx="298.2" cy="319.3" r="5.5"/><circle cx="294.5" cy="278.0" r="5.5"/><circle cx="295.1" cy="358.0" r="5.5"/><circle cx="268.7" cy="269.8" r="5.5"/><circle cx="261.3" cy="313.1" r="5.5"/><circle cx="289.6" cy="268.0" r="5.5"/><circle cx="258.0" cy="267.2" r="5.5"/><circle cx="280.9" cy="327.0" r="5.5"/><circle cx="294.2" cy="265.5" r="5.5"/><circle cx="281.3" cy="332.3" r="5.5"/><circle cx="265.5" cy="354.9" r="5.5"/><circle cx="311.2" cy="337.4" r="5.5"/><circle cx="222.4" cy="350.0" r="5.5"/><circle cx="306.9" cy="256.9" r="5.5"/><circle cx="270.5" cy="315.9" r="5.5"/><circle cx="288.4" cy="254.2" r="5.5"/><circle cx="282.6" cy="252.9" r="5.5"/><circle cx="281.1" cy="332.3" r="5.5"/><circle cx="306.1" cy="324.9" r="5.5"/><circle cx="299.7" cy="287.1" r="5.5"/><circle cx="274.5" cy="340.8" r="5.5"/><circle cx="294.5" cy="319.3" r="5.5"/><circle cx="324.9" cy="340.2" r="5.5"/><circle cx="252.1" cy="341.7" r="5.5"/><circle cx="309.7" cy="305.2" r="5.5"/><circle cx="248.7" cy="360.4" r="5.5"/><circle cx="291.2" cy="274.9" r="5.5"/><circle cx="270.9" cy="305.8" r="5.5"/><circle cx="265.4" cy="331.5" r="5.5"/><circle cx="268.6" cy="347.3" r="5.5"/><circle cx="276.9" cy="267.8" r="5.5"/><circle cx="298.8" cy="265.9" r="5.5"/><circle cx="242.7" cy="341.5" r="5.5"/><circle cx="274.4" cy="281.1" r="5.5"/><circle cx="260.0" cy="354.2" r="5.5"/><circle cx="290.2" cy="250.8" r="5.5"/><circle cx="276.8" cy="329.2" r="5.5"/><circle cx="222.6" cy="361.0" r="5.5"/><circle cx="236.6" cy="358.0" r="5.5"/><circle cx="298.3" cy="332.6" r="5.5"/><circle cx="283.7" cy="300.1" r="5.5"/><circle cx="242.8" cy="365.9" r="5.5"/><circle cx="249.6" cy="338.6" r="5.5"/><circle cx="245.9" cy="342.5" r="5.5"/><circle cx="241.1" cy="353.3" r="5.5"/><circle cx="316.8" cy="316.3" r="5.5"/><circle cx="287.2" cy="316.8" r="5.5"/><circle cx="292.0" cy="385.0" r="5.5"/><circle cx="223.4" cy="331.0" r="5.5"/><circle cx="226.2" cy="359.0" r="5.5"/><circle cx="283.6" cy="299.3" r="5.5"/><circle cx="276.9" cy="335.8" r="5.5"/><circle cx="270.3" cy="261.1" r="5.5"/><circle cx="280.9" cy="278.9" r="5.5"/><circle cx="270.6" cy="374.8" r="5.5"/><circle cx="259.5" cy="340.8" r="5.5"/><circle cx="300.8" cy="305.6" r="5.5"/><circle cx="278.3" cy="345.8" r="5.5"/><circle cx="251.0" cy="350.7" r="5.5"/><circle cx="269.0" cy="370.2" r="5.5"/><circle cx="284.6" cy="257.0" r="5.5"/><circle cx="270.2" cy="266.9" r="5.5"/><circle cx="287.8" cy="312.9" r="5.5"/><circle cx="246.6" cy="345.2" r="5.5"/><circle cx="266.0" cy="338.0" r="5.5"/><circle cx="299.4" cy="329.5" r="5.5"/><circle cx="236.0" cy="340.6" r="5.5"/><circle cx="252.5" cy="355.6" r="5.5"/><circle cx="304.4" cy="296.3" r="5.5"/><circle cx="242.0" cy="338.7" r="5.5"/><circle cx="281.0" cy="260.8" r="5.5"/><circle cx="302.3" cy="326.2" r="5.5"/><circle cx="288.4" cy="260.1" r="5.5"/><circle cx="279.9" cy="276.7" r="5.5"/><circle cx="268.9" cy="327.8" r="5.5"/><circle cx="252.3" cy="363.8" r="5.5"/><circle cx="243.6" cy="372.0" r="5.5"/><circle cx="230.1" cy="351.0" r="5.5"/><circle cx="261.1" cy="268.6" r="5.5"/><circle cx="250.6" cy="336.4" r="5.5"/><circle cx="269.5" cy="328.6" r="5.5"/><circle cx="263.4" cy="361.1" r="5.5"/><circle cx="275.7" cy="363.7" r="5.5"/><circle cx="276.7" cy="333.7" r="5.5"/><circle cx="309.2" cy="321.2" r="5.5"/><circle cx="225.0" cy="354.8" r="5.5"/><circle cx="256.6" cy="306.3" r="5.5"/><circle cx="289.2" cy="269.1" r="5.5"/><circle cx="269.8" cy="369.2" r="5.5"/><circle cx="287.4" cy="296.9" r="5.5"/><circle cx="249.4" cy="341.3" r="5.5"/><circle cx="283.9" cy="357.6" r="5.5"/><circle cx="246.0" cy="339.3" r="5.5"/><circle cx="284.7" cy="347.3" r="5.5"/><circle cx="238.8" cy="364.0" r="5.5"/><circle cx="281.2" cy="325.4" r="5.5"/><circle cx="323.0" cy="343.4" r="5.5"/><circle cx="281.6" cy="278.2" r="5.5"/><circle cx="234.1" cy="338.4" r="5.5"/><circle cx="287.9" cy="279.9" r="5.5"/><circle cx="287.2" cy="332.6" r="5.5"/><circle cx="266.5" cy="347.4" r="5.5"/><circle cx="307.4" cy="300.7" r="5.5"/><circle cx="283.0" cy="340.3" r="5.5"/><circle cx="265.9" cy="372.3" r="5.5"/><circle cx="302.7" cy="326.8" r="5.5"/><circle cx="289.7" cy="296.2" r="5.5"/><circle cx="305.3" cy="326.3" r="5.5"/><circle cx="317.6" cy="340.0" r="5.5"/><circle cx="306.3" cy="336.0" r="5.5"/><circle cx="275.6" cy="332.9" r="5.5"/><circle cx="305.7" cy="303.2" r="5.5"/><circle cx="298.1" cy="327.6" r="5.5"/><circle cx="323.5" cy="335.2" r="5.5"/><circle cx="208.1" cy="350.0" r="5.5"/><circle cx="280.3" cy="311.3" r="5.5"/><circle cx="312.3" cy="303.6" r="5.5"/><circle cx="273.7" cy="374.1" r="5.5"/><circle cx="261.6" cy="345.1" r="5.5"/><circle cx="275.4" cy="261.2" r="5.5"/><circle cx="248.9" cy="330.2" r="5.5"/><circle cx="251.1" cy="333.9" r="5.5"/><circle cx="223.1" cy="337.0" r="5.5"/><circle cx="309.7" cy="317.5" r="5.5"/><circle cx="296.0" cy="331.9" r="5.5"/><circle cx="292.8" cy="325.6" r="5.5"/><circle cx="288.3" cy="287.2" r="5.5"/><circle cx="297.3" cy="261.9" r="5.5"/><circle cx="232.0" cy="354.3" r="5.5"/><circle cx="285.5" cy="328.2" r="5.5"/><circle cx="319.3" cy="338.2" r="5.5"/><circle cx="214.5" cy="345.6" r="5.5"/><circle cx="279.5" cy="310.3" r="5.5"/><circle cx="273.2" cy="277.2" r="5.5"/><circle cx="283.0" cy="259.4" r="5.5"/><circle cx="262.8" cy="262.6" r="5.5"/><circle cx="252.5" cy="358.9" r="5.5"/><circle cx="268.5" cy="268.7" r="5.5"/><circle cx="264.4" cy="363.3" r="5.5"/><circle cx="302.3" cy="330.2" r="5.5"/><circle cx="278.4" cy="367.5" r="5.5"/><circle cx="273.4" cy="257.2" r="5.5"/><circle cx="275.1" cy="272.0" r="5.5"/><circle cx="273.2" cy="260.4" r="5.5"/><circle cx="296.2" cy="355.4" r="5.5"/><circle cx="229.9" cy="332.6" r="5.5"/><circle cx="263.2" cy="324.5" r="5.5"/><circle cx="277.4" cy="321.6" r="5.5"/><circle cx="297.3" cy="279.2" r="5.5"/><circle cx="275.3" cy="349.4" r="5.5"/><circle cx="277.9" cy="325.3" r="5.5"/><circle cx="246.5" cy="350.3" r="5.5"/><circle cx="296.8" cy="279.8" r="5.5"/><circle cx="293.3" cy="293.1" r="5.5"/><circle cx="263.9" cy="339.8" r="5.5"/><circle cx="286.6" cy="272.0" r="5.5"/><circle cx="278.6" cy="304.1" r="5.5"/><circle cx="282.4" cy="304.3" r="5.5"/><circle cx="292.4" cy="306.0" r="5.5"/><circle cx="263.2" cy="312.1" r="5.5"/><circle cx="255.5" cy="343.3" r="5.5"/><circle cx="257.8" cy="281.0" r="5.5"/><circle cx="293.2" cy="316.2" r="5.5"/><circle cx="309.5" cy="310.4" r="5.5"/><circle cx="256.3" cy="368.9" r="5.5"/><circle cx="319.6" cy="339.7" r="5.5"/><circle cx="268.8" cy="350.3" r="5.5"/><circle cx="265.1" cy="321.0" r="5.5"/><circle cx="237.5" cy="333.0" r="5.5"/><circle cx="286.6" cy="324.0" r="5.5"/>
</g>
<g class="c4">
<circle cx="341.4" cy="412.2" r="5.5"/><circle cx="322.3" cy="430.1" r="5.5"/><circle cx="324.3" cy="462.8" r="5.5"/><circle cx="321.5" cy="446.1" r="5.5"/><circle cx="332.3" cy="426.0" r="5.5"/><circle cx="336.4" cy="422.6" r="5.5"/><circle cx="365.7" cy="437.8" r="5.5"/><circle cx="346.4" cy="449.7" r="5.5"/><circle cx="316.4" cy="422.6" r="5.5"/><circle cx="292.9" cy="419.1" r="5.5"/><circle cx="322.3" cy="408.1" r="5.5"/><circle cx="310.1" cy="397.8" r="5.5"/><circle cx="331.5" cy="449.9" r="5.5"/><circle cx="304.3" cy="386.1" r="5.5"/><circle cx="355.3" cy="409.2" r="5.5"/><circle cx="322.6" cy="445.2" r="5.5"/><circle cx="328.0" cy="410.4" r="5.5"/><circle cx="326.3" cy="476.1" r="5.5"/><circle cx="308.8" cy="406.6" r="5.5"/><circle cx="314.7" cy="419.6" r="5.5"/><circle cx="343.4" cy="400.4" r="5.5"/><circle cx="331.1" cy="413.2" r="5.5"/><circle cx="345.8" cy="453.8" r="5.5"/><circle cx="348.4" cy="422.0" r="5.5"/><circle cx="360.3" cy="439.7" r="5.5"/><circle cx="338.2" cy="424.5" r="5.5"/><circle cx="312.8" cy="464.7" r="5.5"/><circle cx="308.9" cy="399.6" r="5.5"/><circle cx="320.3" cy="402.1" r="5.5"/><circle cx="312.7" cy="394.6" r="5.5"/><circle cx="312.4" cy="441.2" r="5.5"/><circle cx="321.5" cy="411.3" r="5.5"/><circle cx="326.3" cy="416.7" r="5.5"/><circle cx="376.8" cy="457.8" r="5.5"/><circle cx="374.5" cy="467.9" r="5.5"/><circle cx="319.2" cy="425.1" r="5.5"/><circle cx="352.5" cy="480.2" r="5.5"/><circle cx="297.2" cy="419.3" r="5.5"/><circle cx="317.0" cy="384.2" r="5.5"/><circle cx="349.0" cy="384.5" r="5.5"/><circle cx="320.1" cy="443.3" r="5.5"/><circle cx="334.8" cy="406.0" r="5.5"/><circle cx="336.8" cy="455.4" r="5.5"/><circle cx="368.4" cy="474.0" r="5.5"/><circle cx="360.3" cy="437.6" r="5.5"/><circle cx="339.0" cy="476.5" r="5.5"/><circle cx="311.0" cy="439.4" r="5.5"/><circle cx="345.2" cy="444.5" r="5.5"/><circle cx="345.3" cy="481.9" r="5.5"/><circle cx="316.3" cy="399.8" r="5.5"/><circle cx="367.2" cy="458.8" r="5.5"/><circle cx="353.2" cy="406.7" r="5.5"/><circle cx="351.8" cy="428.6" r="5.5"/><circle cx="340.0" cy="408.5" r="5.5"/><circle cx="351.5" cy="456.7" r="5.5"/><circle cx="349.4" cy="430.0" r="5.5"/><circle cx="355.1" cy="464.2" r="5.5"/><circle cx="332.5" cy="418.2" r="5.5"/><circle cx="328.3" cy="428.6" r="5.5"/><circle cx="295.3" cy="411.4" r="5.5"/><circle cx="311.0" cy="449.7" r="5.5"/><circle cx="318.7" cy="410.0" r="5.5"/><circle cx="340.3" cy="427.4" r="5.5"/><circle cx="322.6" cy="448.5" r="5.5"/><circle cx="302.5" cy="401.6" r="5.5"/><circle cx="339.4" cy="420.3" r="5.5"/><circle cx="358.2" cy="445.7" r="5.5"/><circle cx="360.7" cy="440.1" r="5.5"/><circle cx="352.2" cy="477.4" r="5.5"/><circle cx="342.6" cy="477.2" r="5.5"/><circle cx="379.5" cy="464.8" r="5.5"/><circle cx="348.3" cy="400.2" r="5.5"/><circle cx="323.2" cy="421.3" r="5.5"/><circle cx="375.7" cy="466.3" r="5.5"/><circle cx="347.9" cy="466.0" r="5.5"/><circle cx="348.6" cy="454.2" r="5.5"/><circle cx="347.2" cy="473.6" r="5.5"/><circle cx="347.4" cy="436.7" r="5.5"/><circle cx="344.6" cy="387.7" r="5.5"/><circle cx="349.8" cy="458.9" r="5.5"/><circle cx="354.1" cy="436.2" r="5.5"/><circle cx="330.3" cy="444.6" r="5.5"/><circle cx="359.3" cy="400.4" r="5.5"/><circle cx="327.1" cy="438.5" r="5.5"/><circle cx="319.6" cy="418.6" r="5.5"/><circle cx="303.8" cy="410.8" r="5.5"/><circle cx="352.1" cy="417.6" r="5.5"/><circle cx="345.7" cy="412.9" r="5.5"/><circle cx="352.0" cy="407.6" r="5.5"/><circle cx="325.7" cy="447.1" r="5.5"/><circle cx="368.3" cy="412.8" r="5.5"/><circle cx="340.1" cy="477.4" r="5.5"/><circle cx="335.7" cy="407.6" r="5.5"/><circle cx="337.0" cy="420.2" r="5.5"/><circle cx="355.7" cy="437.9" r="5.5"/><circle cx="317.3" cy="445.0" r="5.5"/><circle cx="356.0" cy="460.7" r="5.5"/><circle cx="321.7" cy="463.1" r="5.5"/><circle cx="348.0" cy="409.6" r="5.5"/><circle cx="330.8" cy="400.1" r="5.5"/><circle cx="333.7" cy="467.9" r="5.5"/><circle cx="326.5" cy="447.5" r="5.5"/><circle cx="331.3" cy="469.4" r="5.5"/><circle cx="317.7" cy="414.0" r="5.5"/><circle cx="349.4" cy="415.3" r="5.5"/><circle cx="329.2" cy="435.0" r="5.5"/><circle cx="335.0" cy="413.7" r="5.5"/><circle cx="345.6" cy="437.5" r="5.5"/><circle cx="321.9" cy="405.6" r="5.5"/><circle cx="348.8" cy="479.8" r="5.5"/><circle cx="350.6" cy="480.3" r="5.5"/><circle cx="347.1" cy="418.8" r="5.5"/><circle cx="325.2" cy="391.3" r="5.5"/><circle cx="312.9" cy="392.8" r="5.5"/><circle cx="331.9" cy="441.1" r="5.5"/><circle cx="374.1" cy="477.3" r="5.5"/><circle cx="343.2" cy="480.5" r="5.5"/><circle cx="327.0" cy="474.6" r="5.5"/><circle cx="341.4" cy="432.4" r="5.5"/><circle cx="331.5" cy="465.4" r="5.5"/><circle cx="335.7" cy="462.5" r="5.5"/><circle cx="301.6" cy="393.9" r="5.5"/><circle cx="329.3" cy="478.5" r="5.5"/><circle cx="337.3" cy="436.1" r="5.5"/><circle cx="297.6" cy="392.7" r="5.5"/><circle cx="330.1" cy="460.5" r="5.5"/><circle cx="346.4" cy="387.0" r="5.5"/><circle cx="304.6" cy="408.4" r="5.5"/><circle cx="326.8" cy="454.6" r="5.5"/><circle cx="377.9" cy="465.5" r="5.5"/><circle cx="360.2" cy="411.1" r="5.5"/><circle cx="301.6" cy="408.6" r="5.5"/><circle cx="347.1" cy="464.3" r="5.5"/><circle cx="321.9" cy="410.6" r="5.5"/><circle cx="306.6" cy="401.6" r="5.5"/><circle cx="347.7" cy="411.6" r="5.5"/><circle cx="372.2" cy="460.4" r="5.5"/><circle cx="351.0" cy="423.2" r="5.5"/><circle cx="354.7" cy="434.7" r="5.5"/><circle cx="367.9" cy="431.7" r="5.5"/><circle cx="332.3" cy="399.5" r="5.5"/><circle cx="348.9" cy="422.5" r="5.5"/><circle cx="301.4" cy="415.5" r="5.5"/><circle cx="371.2" cy="445.2" r="5.5"/><circle cx="300.2" cy="414.2" r="5.5"/><circle cx="295.8" cy="419.9" r="5.5"/><circle cx="332.5" cy="412.9" r="5.5"/><circle cx="374.0" cy="472.6" r="5.5"/><circle cx="346.4" cy="451.7" r="5.5"/><circle cx="348.1" cy="452.1" r="5.5"/><circle cx="326.8" cy="397.2" r="5.5"/><circle cx="321.9" cy="390.5" r="5.5"/><circle cx="333.8" cy="389.6" r="5.5"/><circle cx="345.4" cy="432.0" r="5.5"/><circle cx="327.2" cy="473.7" r="5.5"/><circle cx="376.6" cy="458.6" r="5.5"/><circle cx="341.7" cy="468.3" r="5.5"/><circle cx="361.4" cy="433.6" r="5.5"/><circle cx="308.8" cy="393.1" r="5.5"/><circle cx="360.1" cy="476.6" r="5.5"/><circle cx="372.4" cy="448.6" r="5.5"/><circle cx="349.2" cy="417.2" r="5.5"/><circle cx="333.9" cy="426.3" r="5.5"/><circle cx="368.4" cy="446.9" r="5.5"/><circle cx="361.6" cy="442.4" r="5.5"/><circle cx="320.7" cy="446.4" r="5.5"/><circle cx="316.5" cy="460.6" r="5.5"/><circle cx="340.2" cy="478.9" r="5.5"/><circle cx="317.3" cy="403.4" r="5.5"/><circle cx="318.3" cy="447.8" r="5.5"/><circle cx="313.9" cy="452.6" r="5.5"/><circle cx="322.1" cy="413.5" r="5.5"/><circle cx="368.8" cy="426.8" r="5.5"/><circle cx="364.1" cy="474.0" r="5.5"/><circle cx="354.0" cy="408.4" r="5.5"/><circle cx="309.0" cy="420.1" r="5.5"/><circle cx="368.6" cy="449.5" r="5.5"/><circle cx="347.2" cy="416.6" r="5.5"/><circle cx="336.8" cy="473.5" r="5.5"/><circle cx="325.0" cy="474.0" r="5.5"/><circle cx="368.6" cy="449.3" r="5.5"/><circle cx="363.1" cy="427.2" r="5.5"/><circle cx="367.9" cy="466.8" r="5.5"/>
</g>
<g class="c5">
<circle cx="393.8" cy="352.1" r="5.5"/><circle cx="433.2" cy="359.8" r="5.5"/><circle cx="403.5" cy="343.8" r="5.5"/><circle cx="410.3" cy="339.5" r="5.5"/><circle cx="427.5" cy="364.2" r="5.5"/><circle cx="386.6" cy="347.9" r="5.5"/><circle cx="387.1" cy="339.6" r="5.5"/><circle cx="421.0" cy="365.0" r="5.5"/><circle cx="384.6" cy="326.3" r="5.5"/><circle cx="386.8" cy="334.7" r="5.5"/><circle cx="414.2" cy="358.1" r="5.5"/><circle cx="379.7" cy="334.8" r="5.5"/><circle cx="409.9" cy="331.0" r="5.5"/><circle cx="409.4" cy="328.9" r="5.5"/><circle cx="389.4" cy="327.6" r="5.5"/><circle cx="417.2" cy="357.7" r="5.5"/><circle cx="387.5" cy="334.0" r="5.5"/><circle cx="381.6" cy="324.1" r="5.5"/><circle cx="389.9" cy="331.2" r="5.5"/><circle cx="379.0" cy="322.2" r="5.5"/><circle cx="433.0" cy="355.3" r="5.5"/><circle cx="393.3" cy="373.2" r="5.5"/><circle cx="389.3" cy="344.4" r="5.5"/><circle cx="390.8" cy="337.3" r="5.5"/><circle cx="389.2" cy="336.1" r="5.5"/><circle cx="422.0" cy="352.7" r="5.5"/><circle cx="393.9" cy="348.3" r="5.5"/><circle cx="427.8" cy="359.7" r="5.5"/><circle cx="387.9" cy="350.9" r="5.5"/><circle cx="426.8" cy="350.6" r="5.5"/><circle cx="392.7" cy="324.3" r="5.5"/><circle cx="390.8" cy="344.4" r="5.5"/><circle cx="402.3" cy="329.9" r="5.5"/><circle cx="422.4" cy="350.8" r="5.5"/><circle cx="395.0" cy="332.5" r="5.5"/><circle cx="384.9" cy="340.6" r="5.5"/><circle cx="401.3" cy="354.9" r="5.5"/><circle cx="406.0" cy="341.2" r="5.5"/><circle cx="423.8" cy="369.8" r="5.5"/><circle cx="408.4" cy="348.2" r="5.5"/><circle cx="416.0" cy="348.0" r="5.5"/><circle cx="393.8" cy="337.7" r="5.5"/><circle cx="405.1" cy="334.5" r="5.5"/><circle cx="389.5" cy="317.7" r="5.5"/>
</g>
<g class="c6">
<circle cx="656.7" cy="281.3" r="5.5"/><circle cx="662.1" cy="313.3" r="5.5"/><circle cx="600.0" cy="256.3" r="5.5"/><circle cx="646.8" cy="294.7" r="5.5"/><circle cx="667.3" cy="265.0" r="5.5"/><circle cx="641.2" cy="295.5" r="5.5"/><circle cx="605.6" cy="339.6" r="5.5"/><circle cx="647.4" cy="291.7" r="5.5"/><circle cx="615.1" cy="310.5" r="5.5"/><circle cx="650.2" cy="340.5" r="5.5"/><circle cx="616.6" cy="312.9" r="5.5"/><circle cx="615.3" cy="343.6" r="5.5"/><circle cx="619.6" cy="341.1" r="5.5"/><circle cx="614.8" cy="324.3" r="5.5"/><circle cx="653.8" cy="298.1" r="5.5"/><circle cx="640.6" cy="274.8" r="5.5"/><circle cx="622.2" cy="305.8" r="5.5"/><circle cx="616.0" cy="327.6" r="5.5"/><circle cx="643.2" cy="310.1" r="5.5"/><circle cx="600.3" cy="331.7" r="5.5"/><circle cx="598.4" cy="326.4" r="5.5"/><circle cx="666.7" cy="281.8" r="5.5"/><circle cx="601.7" cy="311.7" r="5.5"/><circle cx="634.9" cy="290.8" r="5.5"/><circle cx="599.1" cy="318.6" r="5.5"/><circle cx="626.0" cy="315.6" r="5.5"/><circle cx="687.0" cy="290.9" r="5.5"/><circle cx="620.9" cy="298.7" r="5.5"/><circle cx="649.1" cy="322.3" r="5.5"/><circle cx="666.5" cy="259.7" r="5.5"/><circle cx="615.0" cy="311.5" r="5.5"/><circle cx="656.0" cy="251.0" r="5.5"/><circle cx="660.0" cy="261.9" r="5.5"/><circle cx="662.0" cy="265.3" r="5.5"/><circle cx="659.6" cy="263.5" r="5.5"/><circle cx="589.8" cy="320.9" r="5.5"/><circle cx="611.4" cy="301.6" r="5.5"/><circle cx="641.5" cy="265.4" r="5.5"/><circle cx="597.7" cy="314.2" r="5.5"/><circle cx="649.0" cy="259.9" r="5.5"/><circle cx="657.5" cy="296.3" r="5.5"/><circle cx="629.7" cy="322.1" r="5.5"/><circle cx="605.6" cy="344.2" r="5.5"/><circle cx="628.4" cy="339.6" r="5.5"/><circle cx="600.7" cy="316.9" r="5.5"/><circle cx="646.6" cy="269.6" r="5.5"/><circle cx="622.5" cy="329.7" r="5.5"/><circle cx="655.6" cy="293.4" r="5.5"/><circle cx="655.3" cy="328.4" r="5.5"/><circle cx="641.0" cy="321.8" r="5.5"/><circle cx="613.8" cy="305.0" r="5.5"/><circle cx="635.3" cy="292.3" r="5.5"/><circle cx="627.7" cy="340.1" r="5.5"/><circle cx="624.7" cy="331.2" r="5.5"/><circle cx="637.1" cy="265.3" r="5.5"/><circle cx="609.6" cy="341.2" r="5.5"/><circle cx="664.7" cy="302.9" r="5.5"/><circle cx="659.7" cy="320.9" r="5.5"/><circle cx="598.9" cy="321.5" r="5.5"/><circle cx="620.7" cy="248.6" r="5.5"/><circle cx="655.0" cy="325.5" r="5.5"/><circle cx="641.3" cy="304.5" r="5.5"/><circle cx="614.0" cy="300.6" r="5.5"/><circle cx="640.9" cy="333.8" r="5.5"/><circle cx="659.8" cy="309.8" r="5.5"/><circle cx="656.6" cy="258.1" r="5.5"/><circle cx="603.1" cy="312.5" r="5.5"/><circle cx="651.2" cy="324.9" r="5.5"/><circle cx="656.8" cy="266.0" r="5.5"/><circle cx="628.2" cy="340.5" r="5.5"/><circle cx="651.0" cy="261.5" r="5.5"/><circle cx="609.0" cy="334.1" r="5.5"/><circle cx="647.1" cy="326.8" r="5.5"/><circle cx="674.9" cy="269.4" r="5.5"/><circle cx="590.4" cy="254.9" r="5.5"/><circle cx="618.9" cy="304.4" r="5.5"/><circle cx="672.8" cy="308.0" r="5.5"/><circle cx="648.8" cy="277.5" r="5.5"/><circle cx="619.8" cy="288.9" r="5.5"/><circle cx="635.5" cy="342.6" r="5.5"/><circle cx="615.1" cy="331.4" r="5.5"/><circle cx="668.5" cy="327.9" r="5.5"/><circle cx="638.7" cy="341.6" r="5.5"/><circle cx="662.9" cy="310.5" r="5.5"/><circle cx="622.7" cy="316.4" r="5.5"/><circle cx="594.4" cy="300.9" r="5.5"/><circle cx="643.2" cy="291.8" r="5.5"/><circle cx="515.0" cy="330.0" r="5.5"/><circle cx="605.2" cy="339.5" r="5.5"/><circle cx="624.6" cy="326.3" r="5.5"/><circle cx="605.1" cy="324.8" r="5.5"/><circle cx="603.6" cy="330.6" r="5.5"/><circle cx="592.5" cy="330.5" r="5.5"/><circle cx="666.7" cy="254.4" r="5.5"/><circle cx="643.0" cy="303.3" r="5.5"/><circle cx="621.0" cy="296.1" r="5.5"/><circle cx="637.4" cy="299.8" r="5.5"/><circle cx="647.3" cy="322.2" r="5.5"/><circle cx="609.4" cy="324.7" r="5.5"/><circle cx="645.0" cy="263.8" r="5.5"/><circle cx="650.8" cy="322.2" r="5.5"/><circle cx="626.9" cy="342.2" r="5.5"/><circle cx="604.3" cy="305.8" r="5.5"/><circle cx="651.2" cy="329.3" r="5.5"/><circle cx="602.1" cy="262.2" r="5.5"/><circle cx="614.5" cy="328.9" r="5.5"/><circle cx="635.5" cy="265.2" r="5.5"/><circle cx="622.9" cy="320.4" r="5.5"/><circle cx="652.0" cy="272.2" r="5.5"/><circle cx="654.4" cy="333.6" r="5.5"/><circle cx="621.7" cy="309.3" r="5.5"/><circle cx="616.6" cy="295.8" r="5.5"/><circle cx="611.2" cy="305.9" r="5.5"/><circle cx="615.4" cy="321.8" r="5.5"/><circle cx="648.0" cy="268.8" r="5.5"/><circle cx="636.2" cy="308.7" r="5.5"/><circle cx="648.6" cy="287.8" r="5.5"/><circle cx="627.5" cy="294.1" r="5.5"/><circle cx="608.3" cy="315.7" r="5.5"/><circle cx="672.3" cy="298.9" r="5.5"/><circle cx="636.4" cy="319.8" r="5.5"/><circle cx="635.0" cy="322.9" r="5.5"/><circle cx="606.1" cy="309.0" r="5.5"/><circle cx="658.5" cy="317.7" r="5.5"/><circle cx="605.8" cy="323.3" r="5.5"/><circle cx="620.1" cy="325.2" r="5.5"/><circle cx="598.0" cy="326.5" r="5.5"/><circle cx="600.7" cy="337.4" r="5.5"/><circle cx="631.8" cy="331.1" r="5.5"/><circle cx="617.8" cy="299.1" r="5.5"/><circle cx="641.2" cy="330.1" r="5.5"/><circle cx="661.6" cy="303.3" r="5.5"/><circle cx="612.6" cy="309.9" r="5.5"/><circle cx="636.1" cy="291.0" r="5.5"/><circle cx="679.2" cy="274.7" r="5.5"/><circle cx="658.6" cy="255.7" r="5.5"/><circle cx="607.8" cy="322.5" r="5.5"/><circle cx="593.4" cy="327.4" r="5.5"/><circle cx="639.2" cy="325.8" r="5.5"/><circle cx="642.2" cy="327.1" r="5.5"/><circle cx="627.5" cy="294.9" r="5.5"/><circle cx="633.0" cy="307.2" r="5.5"/><circle cx="664.0" cy="278.2" r="5.5"/><circle cx="671.7" cy="269.4" r="5.5"/><circle cx="692.0" cy="297.8" r="5.5"/><circle cx="615.4" cy="341.6" r="5.5"/><circle cx="628.2" cy="325.4" r="5.5"/><circle cx="599.1" cy="340.3" r="5.5"/><circle cx="621.5" cy="321.3" r="5.5"/><circle cx="656.5" cy="296.0" r="5.5"/><circle cx="601.7" cy="256.2" r="5.5"/><circle cx="627.2" cy="333.4" r="5.5"/><circle cx="662.2" cy="260.5" r="5.5"/><circle cx="614.9" cy="341.4" r="5.5"/><circle cx="638.4" cy="268.2" r="5.5"/><circle cx="652.9" cy="306.1" r="5.5"/><circle cx="636.3" cy="327.1" r="5.5"/><circle cx="624.9" cy="314.1" r="5.5"/><circle cx="653.3" cy="273.5" r="5.5"/><circle cx="618.1" cy="331.2" r="5.5"/><circle cx="606.9" cy="329.8" r="5.5"/>
</g>
<g class="c7">
<circle cx="739.3" cy="367.2" r="5.5"/><circle cx="791.7" cy="364.0" r="5.5"/><circle cx="751.5" cy="357.0" r="5.5"/><circle cx="740.8" cy="385.2" r="5.5"/><circle cx="793.9" cy="383.4" r="5.5"/><circle cx="796.0" cy="383.5" r="5.5"/><circle cx="803.6" cy="368.8" r="5.5"/><circle cx="760.7" cy="359.1" r="5.5"/><circle cx="748.4" cy="361.1" r="5.5"/><circle cx="721.2" cy="369.8" r="5.5"/><circle cx="798.6" cy="353.9" r="5.5"/><circle cx="795.3" cy="370.2" r="5.5"/><circle cx="767.1" cy="351.3" r="5.5"/><circle cx="786.1" cy="355.4" r="5.5"/><circle cx="744.8" cy="372.2" r="5.5"/><circle cx="721.0" cy="362.5" r="5.5"/><circle cx="741.8" cy="358.9" r="5.5"/><circle cx="768.4" cy="345.8" r="5.5"/><circle cx="730.0" cy="487.0" r="5.5"/><circle cx="783.4" cy="357.2" r="5.5"/><circle cx="740.5" cy="382.6" r="5.5"/><circle cx="727.6" cy="355.8" r="5.5"/><circle cx="754.3" cy="346.8" r="5.5"/><circle cx="807.8" cy="379.5" r="5.5"/><circle cx="710.8" cy="370.0" r="5.5"/><circle cx="750.9" cy="382.2" r="5.5"/><circle cx="813.3" cy="376.6" r="5.5"/><circle cx="732.5" cy="385.6" r="5.5"/><circle cx="805.1" cy="360.0" r="5.5"/><circle cx="759.7" cy="365.2" r="5.5"/><circle cx="743.8" cy="375.5" r="5.5"/><circle cx="715.9" cy="378.1" r="5.5"/><circle cx="802.2" cy="373.4" r="5.5"/><circle cx="713.0" cy="385.3" r="5.5"/><circle cx="763.5" cy="376.0" r="5.5"/><circle cx="731.0" cy="368.3" r="5.5"/><circle cx="715.2" cy="380.5" r="5.5"/><circle cx="718.0" cy="381.7" r="5.5"/><circle cx="758.3" cy="362.6" r="5.5"/><circle cx="808.5" cy="382.6" r="5.5"/><circle cx="728.8" cy="353.4" r="5.5"/><circle cx="703.3" cy="373.2" r="5.5"/><circle cx="802.0" cy="379.5" r="5.5"/><circle cx="708.8" cy="369.2" r="5.5"/><circle cx="780.6" cy="351.9" r="5.5"/><circle cx="719.8" cy="354.4" r="5.5"/><circle cx="786.1" cy="365.6" r="5.5"/><circle cx="785.2" cy="366.2" r="5.5"/><circle cx="765.5" cy="371.6" r="5.5"/><circle cx="720.8" cy="379.1" r="5.5"/><circle cx="773.2" cy="373.3" r="5.5"/><circle cx="798.7" cy="387.3" r="5.5"/><circle cx="771.4" cy="379.6" r="5.5"/><circle cx="749.3" cy="366.1" r="5.5"/><circle cx="742.0" cy="369.7" r="5.5"/><circle cx="784.3" cy="364.9" r="5.5"/><circle cx="770.8" cy="368.7" r="5.5"/><circle cx="485.0" cy="321.0" r="5.5"/><circle cx="812.3" cy="368.9" r="5.5"/><circle cx="806.0" cy="366.2" r="5.5"/><circle cx="738.8" cy="369.9" r="5.5"/><circle cx="766.5" cy="378.2" r="5.5"/><circle cx="790.6" cy="373.5" r="5.5"/><circle cx="772.1" cy="337.9" r="5.5"/><circle cx="709.6" cy="288.1" r="5.5"/><circle cx="736.7" cy="366.9" r="5.5"/><circle cx="756.9" cy="368.2" r="5.5"/><circle cx="736.0" cy="375.3" r="5.5"/><circle cx="759.6" cy="347.1" r="5.5"/><circle cx="778.6" cy="358.3" r="5.5"/><circle cx="743.9" cy="365.0" r="5.5"/><circle cx="721.6" cy="367.6" r="5.5"/><circle cx="769.0" cy="367.2" r="5.5"/><circle cx="713.3" cy="368.7" r="5.5"/><circle cx="785.5" cy="354.8" r="5.5"/><circle cx="748.7" cy="376.3" r="5.5"/><circle cx="777.3" cy="357.5" r="5.5"/><circle cx="793.5" cy="377.7" r="5.5"/><circle cx="756.1" cy="368.8" r="5.5"/><circle cx="734.9" cy="375.7" r="5.5"/><circle cx="777.5" cy="347.2" r="5.5"/><circle cx="782.7" cy="374.6" r="5.5"/><circle cx="771.0" cy="369.9" r="5.5"/><circle cx="785.9" cy="369.6" r="5.5"/><circle cx="759.5" cy="350.8" r="5.5"/><circle cx="774.3" cy="361.9" r="5.5"/><circle cx="760.2" cy="368.0" r="5.5"/><circle cx="727.8" cy="371.4" r="5.5"/><circle cx="785.4" cy="354.9" r="5.5"/><circle cx="767.4" cy="379.1" r="5.5"/><circle cx="747.6" cy="375.6" r="5.5"/><circle cx="795.9" cy="360.5" r="5.5"/><circle cx="732.7" cy="369.5" r="5.5"/><circle cx="745.9" cy="363.9" r="5.5"/><circle cx="792.0" cy="367.5" r="5.5"/><circle cx="720.4" cy="381.1" r="5.5"/><circle cx="718.9" cy="367.0" r="5.5"/><circle cx="804.5" cy="369.7" r="5.5"/><circle cx="770.7" cy="368.6" r="5.5"/><circle cx="762.4" cy="369.3" r="5.5"/><circle cx="737.9" cy="357.5" r="5.5"/><circle cx="708.5" cy="369.0" r="5.5"/><circle cx="754.1" cy="362.4" r="5.5"/><circle cx="753.7" cy="356.3" r="5.5"/><circle cx="763.9" cy="351.0" r="5.5"/><circle cx="702.2" cy="376.6" r="5.5"/><circle cx="706.6" cy="361.0" r="5.5"/><circle cx="766.7" cy="351.8" r="5.5"/><circle cx="758.9" cy="343.6" r="5.5"/><circle cx="720.5" cy="360.8" r="5.5"/><circle cx="787.5" cy="379.7" r="5.5"/><circle cx="727.6" cy="361.7" r="5.5"/><circle cx="771.1" cy="336.6" r="5.5"/><circle cx="778.0" cy="356.1" r="5.5"/><circle cx="755.4" cy="343.6" r="5.5"/><circle cx="768.0" cy="360.8" r="5.5"/><circle cx="725.4" cy="380.6" r="5.5"/><circle cx="786.0" cy="353.0" r="5.5"/><circle cx="758.8" cy="375.1" r="5.5"/><circle cx="810.0" cy="380.3" r="5.5"/><circle cx="761.0" cy="345.3" r="5.5"/><circle cx="723.3" cy="376.4" r="5.5"/><circle cx="740.7" cy="371.0" r="5.5"/>
</g>
<g class="c8">
<circle cx="893.8" cy="440.2" r="5.5"/><circle cx="913.1" cy="402.1" r="5.5"/><circle cx="907.4" cy="436.9" r="5.5"/><circle cx="869.4" cy="365.6" r="5.5"/><circle cx="856.5" cy="347.2" r="5.5"/><circle cx="919.0" cy="429.4" r="5.5"/><circle cx="898.6" cy="408.9" r="5.5"/><circle cx="910.6" cy="442.6" r="5.5"/><circle cx="880.7" cy="374.9" r="5.5"/><circle cx="822.5" cy="385.6" r="5.5"/><circle cx="901.8" cy="426.5" r="5.5"/><circle cx="921.7" cy="401.0" r="5.5"/><circle cx="885.5" cy="342.5" r="5.5"/><circle cx="879.2" cy="381.6" r="5.5"/><circle cx="875.3" cy="380.4" r="5.5"/><circle cx="920.3" cy="435.0" r="5.5"/><circle cx="897.2" cy="417.4" r="5.5"/><circle cx="862.1" cy="372.9" r="5.5"/><circle cx="873.9" cy="375.9" r="5.5"/><circle cx="919.8" cy="409.3" r="5.5"/><circle cx="883.9" cy="399.7" r="5.5"/><circle cx="904.8" cy="393.1" r="5.5"/><circle cx="831.2" cy="387.2" r="5.5"/><circle cx="906.8" cy="404.2" r="5.5"/><circle cx="848.0" cy="391.3" r="5.5"/><circle cx="929.4" cy="393.2" r="5.5"/><circle cx="917.4" cy="389.6" r="5.5"/><circle cx="870.0" cy="370.7" r="5.5"/><circle cx="860.7" cy="390.3" r="5.5"/><circle cx="918.8" cy="409.6" r="5.5"/><circle cx="903.8" cy="424.8" r="5.5"/><circle cx="864.0" cy="404.6" r="5.5"/><circle cx="844.7" cy="413.0" r="5.5"/><circle cx="917.5" cy="383.2" r="5.5"/><circle cx="907.9" cy="410.7" r="5.5"/><circle cx="859.1" cy="367.9" r="5.5"/><circle cx="905.8" cy="380.8" r="5.5"/><circle cx="879.5" cy="368.3" r="5.5"/><circle cx="877.4" cy="366.1" r="5.5"/><circle cx="846.0" cy="399.6" r="5.5"/><circle cx="917.7" cy="420.9" r="5.5"/><circle cx="916.9" cy="417.2" r="5.5"/><circle cx="895.8" cy="433.5" r="5.5"/><circle cx="904.3" cy="414.3" r="5.5"/><circle cx="920.5" cy="410.8" r="5.5"/><circle cx="865.3" cy="416.7" r="5.5"/><circle cx="861.6" cy="368.1" r="5.5"/><circle cx="864.1" cy="372.0" r="5.5"/><circle cx="914.4" cy="442.5" r="5.5"/><circle cx="897.0" cy="409.2" r="5.5"/><circle cx="921.3" cy="418.8" r="5.5"/><circle cx="917.5" cy="406.6" r="5.5"/><circle cx="842.3" cy="412.3" r="5.5"/><circle cx="870.1" cy="384.5" r="5.5"/><circle cx="844.4" cy="412.8" r="5.5"/><circle cx="836.5" cy="383.9" r="5.5"/><circle cx="889.8" cy="409.3" r="5.5"/><circle cx="910.9" cy="396.6" r="5.5"/><circle cx="890.3" cy="369.0" r="5.5"/><circle cx="862.8" cy="408.7" r="5.5"/><circle cx="903.7" cy="417.5" r="5.5"/><circle cx="921.0" cy="418.9" r="5.5"/><circle cx="859.7" cy="366.3" r="5.5"/><circle cx="877.1" cy="359.2" r="5.5"/><circle cx="904.5" cy="402.6" r="5.5"/><circle cx="874.6" cy="380.7" r="5.5"/><circle cx="856.8" cy="415.8" r="5.5"/><circle cx="878.6" cy="375.0" r="5.5"/><circle cx="844.5" cy="398.5" r="5.5"/><circle cx="877.5" cy="369.4" r="5.5"/><circle cx="913.2" cy="382.3" r="5.5"/><circle cx="849.6" cy="407.8" r="5.5"/><circle cx="904.8" cy="439.2" r="5.5"/><circle cx="886.9" cy="407.2" r="5.5"/><circle cx="883.3" cy="390.8" r="5.5"/><circle cx="916.5" cy="403.9" r="5.5"/><circle cx="847.5" cy="415.5" r="5.5"/><circle cx="911.4" cy="407.6" r="5.5"/><circle cx="878.9" cy="386.4" r="5.5"/><circle cx="861.3" cy="380.6" r="5.5"/><circle cx="921.0" cy="423.9" r="5.5"/><circle cx="889.8" cy="414.4" r="5.5"/><circle cx="845.2" cy="418.6" r="5.5"/><circle cx="928.3" cy="403.2" r="5.5"/><circle cx="902.6" cy="440.0" r="5.5"/><circle cx="904.4" cy="389.9" r="5.5"/><circle cx="889.8" cy="385.6" r="5.5"/><circle cx="845.4" cy="414.0" r="5.5"/><circle cx="906.3" cy="376.7" r="5.5"/><circle cx="896.6" cy="390.6" r="5.5"/><circle cx="862.6" cy="366.6" r="5.5"/><circle cx="899.4" cy="389.4" r="5.5"/><circle cx="895.9" cy="419.1" r="5.5"/><circle cx="916.1" cy="416.6" r="5.5"/><circle cx="901.0" cy="414.5" r="5.5"/><circle cx="838.0" cy="389.6" r="5.5"/><circle cx="876.4" cy="376.8" r="5.5"/><circle cx="839.7" cy="408.6" r="5.5"/><circle cx="915.7" cy="429.9" r="5.5"/><circle cx="903.9" cy="413.4" r="5.5"/><circle cx="901.0" cy="390.4" r="5.5"/><circle cx="894.1" cy="433.9" r="5.5"/><circle cx="872.2" cy="365.7" r="5.5"/><circle cx="856.4" cy="393.0" r="5.5"/><circle cx="879.6" cy="369.6" r="5.5"/><circle cx="857.6" cy="377.2" r="5.5"/><circle cx="877.5" cy="377.1" r="5.5"/><circle cx="841.6" cy="407.0" r="5.5"/><circle cx="858.7" cy="406.6" r="5.5"/><circle cx="914.5" cy="406.2" r="5.5"/><circle cx="927.4" cy="405.9" r="5.5"/>
</g>
<g class="c9">
<circle cx="984.2" cy="366.4" r="5.5"/><circle cx="1023.7" cy="376.6" r="5.5"/><circle cx="1014.9" cy="364.1" r="5.5"/><circle cx="998.6" cy="358.8" r="5.5"/><circle cx="1028.8" cy="346.9" r="5.5"/><circle cx="989.1" cy="352.2" r="5.5"/><circle cx="997.3" cy="356.4" r="5.5"/><circle cx="1033.9" cy="370.8" r="5.5"/><circle cx="1021.9" cy="354.8" r="5.5"/><circle cx="984.9" cy="366.6" r="5.5"/><circle cx="1043.7" cy="346.4" r="5.5"/><circle cx="1043.9" cy="360.3" r="5.5"/><circle cx="1016.5" cy="371.5" r="5.5"/><circle cx="992.6" cy="349.1" r="5.5"/><circle cx="991.1" cy="367.7" r="5.5"/><circle cx="999.6" cy="375.7" r="5.5"/><circle cx="1045.2" cy="340.0" r="5.5"/><circle cx="1011.1" cy="369.7" r="5.5"/><circle cx="1023.5" cy="355.7" r="5.5"/><circle cx="1042.9" cy="354.5" r="5.5"/><circle cx="1003.0" cy="359.6" r="5.5"/><circle cx="1043.6" cy="372.7" r="5.5"/><circle cx="1007.9" cy="347.3" r="5.5"/><circle cx="1027.7" cy="361.2" r="5.5"/><circle cx="1003.1" cy="344.2" r="5.5"/><circle cx="1001.1" cy="361.3" r="5.5"/><circle cx="1006.0" cy="364.3" r="5.5"/><circle cx="1035.7" cy="357.0" r="5.5"/><circle cx="1006.2" cy="378.4" r="5.5"/><circle cx="1021.3" cy="365.5" r="5.5"/><circle cx="1008.0" cy="387.4" r="5.5"/><circle cx="1009.5" cy="361.3" r="5.5"/><circle cx="1033.0" cy="393.0" r="5.5"/><circle cx="1007.5" cy="354.4" r="5.5"/><circle cx="1011.8" cy="357.0" r="5.5"/><circle cx="1021.6" cy="347.4" r="5.5"/><circle cx="1014.5" cy="345.1" r="5.5"/><circle cx="1032.8" cy="356.2" r="5.5"/><circle cx="1025.5" cy="376.0" r="5.5"/><circle cx="1026.7" cy="340.4" r="5.5"/><circle cx="1021.4" cy="384.5" r="5.5"/><circle cx="1027.8" cy="353.3" r="5.5"/><circle cx="1009.6" cy="355.1" r="5.5"/><circle cx="1003.5" cy="346.3" r="5.5"/><circle cx="1039.3" cy="366.5" r="5.5"/><circle cx="1006.7" cy="366.5" r="5.5"/><circle cx="1023.8" cy="358.9" r="5.5"/><circle cx="988.4" cy="370.0" r="5.5"/><circle cx="1033.3" cy="363.3" r="5.5"/><circle cx="1036.8" cy="362.7" r="5.5"/><circle cx="1024.4" cy="341.4" r="5.5"/><circle cx="1008.1" cy="364.8" r="5.5"/><circle cx="1035.5" cy="366.5" r="5.5"/><circle cx="1015.4" cy="361.1" r="5.5"/><circle cx="1048.2" cy="367.6" r="5.5"/><circle cx="1010.4" cy="350.7" r="5.5"/><circle cx="1021.5" cy="373.8" r="5.5"/><circle cx="985.9" cy="374.4" r="5.5"/><circle cx="1027.7" cy="379.7" r="5.5"/><circle cx="1047.6" cy="360.2" r="5.5"/><circle cx="1010.3" cy="339.4" r="5.5"/><circle cx="1001.7" cy="349.5" r="5.5"/><circle cx="1040.6" cy="378.0" r="5.5"/><circle cx="1030.3" cy="355.8" r="5.5"/><circle cx="1046.4" cy="352.8" r="5.5"/><circle cx="1046.6" cy="367.4" r="5.5"/><circle cx="1041.6" cy="356.3" r="5.5"/><circle cx="1033.8" cy="351.3" r="5.5"/><circle cx="1022.6" cy="376.4" r="5.5"/><circle cx="1009.4" cy="372.5" r="5.5"/><circle cx="996.2" cy="356.6" r="5.5"/><circle cx="1006.3" cy="362.6" r="5.5"/><circle cx="1012.4" cy="376.9" r="5.5"/><circle cx="1005.6" cy="379.0" r="5.5"/><circle cx="1018.2" cy="346.2" r="5.5"/><circle cx="1030.9" cy="372.6" r="5.5"/><circle cx="1032.7" cy="350.0" r="5.5"/><circle cx="1022.0" cy="366.9" r="5.5"/><circle cx="1049.4" cy="377.6" r="5.5"/><circle cx="1029.7" cy="365.2" r="5.5"/><circle cx="994.4" cy="366.8" r="5.5"/><circle cx="1008.5" cy="351.6" r="5.5"/><circle cx="1015.4" cy="362.8" r="5.5"/><circle cx="1011.9" cy="357.8" r="5.5"/><circle cx="1052.6" cy="353.7" r="5.5"/><circle cx="1044.5" cy="371.6" r="5.5"/><circle cx="1028.1" cy="385.6" r="5.5"/><circle cx="1004.6" cy="366.0" r="5.5"/><circle cx="1023.5" cy="366.5" r="5.5"/><circle cx="1021.2" cy="363.9" r="5.5"/><circle cx="1001.9" cy="361.8" r="5.5"/><circle cx="996.7" cy="364.6" r="5.5"/><circle cx="989.0" cy="359.9" r="5.5"/><circle cx="1034.3" cy="358.3" r="5.5"/><circle cx="1006.6" cy="347.9" r="5.5"/><circle cx="1018.4" cy="397.2" r="5.5"/><circle cx="1014.5" cy="370.0" r="5.5"/><circle cx="994.7" cy="366.1" r="5.5"/><circle cx="1017.0" cy="383.3" r="5.5"/><circle cx="1030.2" cy="387.7" r="5.5"/><circle cx="1023.2" cy="389.1" r="5.5"/><circle cx="1043.5" cy="339.5" r="5.5"/><circle cx="1029.6" cy="344.1" r="5.5"/><circle cx="990.8" cy="370.2" r="5.5"/><circle cx="998.3" cy="378.9" r="5.5"/><circle cx="1006.2" cy="360.0" r="5.5"/><circle cx="1005.6" cy="351.2" r="5.5"/><circle cx="1052.2" cy="349.6" r="5.5"/><circle cx="1051.7" cy="348.3" r="5.5"/><circle cx="1039.4" cy="371.6" r="5.5"/><circle cx="999.0" cy="370.7" r="5.5"/><circle cx="1006.6" cy="368.7" r="5.5"/><circle cx="1003.6" cy="377.7" r="5.5"/><circle cx="985.8" cy="359.5" r="5.5"/><circle cx="1019.3" cy="373.0" r="5.5"/><circle cx="1023.1" cy="382.4" r="5.5"/><circle cx="1024.2" cy="353.6" r="5.5"/><circle cx="1021.3" cy="373.2" r="5.5"/><circle cx="1027.5" cy="380.0" r="5.5"/><circle cx="987.1" cy="350.2" r="5.5"/>
</g>
<g class="c10">
<circle cx="474.8" cy="668.1" r="5.5"/><circle cx="470.4" cy="676.9" r="5.5"/><circle cx="472.4" cy="702.0" r="5.5"/><circle cx="456.8" cy="694.9" r="5.5"/><circle cx="448.4" cy="706.3" r="5.5"/><circle cx="486.9" cy="678.6" r="5.5"/><circle cx="450.1" cy="691.4" r="5.5"/><circle cx="471.3" cy="638.3" r="5.5"/><circle cx="468.3" cy="655.4" r="5.5"/><circle cx="476.7" cy="666.8" r="5.5"/><circle cx="477.9" cy="615.1" r="5.5"/><circle cx="446.5" cy="701.0" r="5.5"/><circle cx="476.0" cy="618.4" r="5.5"/><circle cx="469.9" cy="651.5" r="5.5"/><circle cx="488.8" cy="655.0" r="5.5"/><circle cx="478.8" cy="622.2" r="5.5"/><circle cx="474.6" cy="616.6" r="5.5"/><circle cx="456.0" cy="695.6" r="5.5"/><circle cx="483.4" cy="652.9" r="5.5"/><circle cx="486.8" cy="676.1" r="5.5"/><circle cx="439.1" cy="707.2" r="5.5"/><circle cx="489.6" cy="680.8" r="5.5"/><circle cx="476.9" cy="621.9" r="5.5"/><circle cx="458.7" cy="705.6" r="5.5"/><circle cx="445.1" cy="694.6" r="5.5"/><circle cx="488.1" cy="650.1" r="5.5"/><circle cx="482.7" cy="625.7" r="5.5"/><circle cx="474.4" cy="620.6" r="5.5"/><circle cx="474.2" cy="668.7" r="5.5"/><circle cx="487.7" cy="653.7" r="5.5"/><circle cx="492.9" cy="649.3" r="5.5"/><circle cx="443.8" cy="691.1" r="5.5"/><circle cx="466.8" cy="651.0" r="5.5"/><circle cx="466.1" cy="655.7" r="5.5"/><circle cx="478.3" cy="663.0" r="5.5"/><circle cx="474.5" cy="634.1" r="5.5"/><circle cx="439.1" cy="695.0" r="5.5"/><circle cx="475.2" cy="652.6" r="5.5"/><circle cx="474.8" cy="645.3" r="5.5"/><circle cx="491.6" cy="679.6" r="5.5"/><circle cx="471.0" cy="646.8" r="5.5"/><circle cx="472.5" cy="646.8" r="5.5"/><circle cx="439.6" cy="708.7" r="5.5"/><circle cx="463.5" cy="639.8" r="5.5"/><circle cx="484.1" cy="677.0" r="5.5"/><circle cx="458.6" cy="635.3" r="5.5"/><circle cx="467.5" cy="698.5" r="5.5"/><circle cx="455.4" cy="706.7" r="5.5"/><circle cx="476.2" cy="671.0" r="5.5"/><circle cx="472.7" cy="644.4" r="5.5"/><circle cx="472.2" cy="652.8" r="5.5"/><circle cx="453.0" cy="649.4" r="5.5"/><circle cx="434.9" cy="696.5" r="5.5"/><circle cx="473.4" cy="646.8" r="5.5"/><circle cx="475.5" cy="646.0" r="5.5"/><circle cx="423.9" cy="705.7" r="5.5"/><circle cx="466.7" cy="671.3" r="5.5"/><circle cx="475.7" cy="677.1" r="5.5"/><circle cx="439.7" cy="684.2" r="5.5"/><circle cx="449.3" cy="705.4" r="5.5"/><circle cx="455.6" cy="698.2" r="5.5"/><circle cx="482.4" cy="673.2" r="5.5"/><circle cx="472.8" cy="617.3" r="5.5"/><circle cx="487.9" cy="676.0" r="5.5"/><circle cx="452.4" cy="696.7" r="5.5"/><circle cx="461.4" cy="646.3" r="5.5"/><circle cx="443.4" cy="698.3" r="5.5"/><circle cx="490.3" cy="652.5" r="5.5"/><circle cx="452.2" cy="706.1" r="5.5"/><circle cx="443.6" cy="695.3" r="5.5"/><circle cx="462.8" cy="692.4" r="5.5"/><circle cx="444.3" cy="694.1" r="5.5"/><circle cx="432.3" cy="691.4" r="5.5"/><circle cx="470.6" cy="695.7" r="5.5"/><circle cx="474.0" cy="641.3" r="5.5"/><circle cx="485.1" cy="674.7" r="5.5"/><circle cx="466.3" cy="667.9" r="5.5"/><circle cx="451.7" cy="701.4" r="5.5"/><circle cx="438.3" cy="692.3" r="5.5"/><circle cx="459.9" cy="653.0" r="5.5"/>
</g>
<g class="c11">
<circle cx="825.6" cy="541.6" r="5.5"/><circle cx="891.1" cy="501.8" r="5.5"/><circle cx="873.3" cy="501.7" r="5.5"/><circle cx="844.0" cy="533.5" r="5.5"/><circle cx="861.4" cy="506.9" r="5.5"/><circle cx="868.2" cy="509.0" r="5.5"/><circle cx="838.4" cy="526.2" r="5.5"/><circle cx="812.0" cy="610.0" r="5.5"/><circle cx="872.5" cy="498.3" r="5.5"/><circle cx="830.5" cy="522.9" r="5.5"/><circle cx="838.2" cy="538.3" r="5.5"/><circle cx="825.0" cy="518.2" r="5.5"/><circle cx="867.9" cy="505.1" r="5.5"/><circle cx="863.7" cy="513.4" r="5.5"/><circle cx="869.6" cy="518.4" r="5.5"/><circle cx="830.3" cy="513.5" r="5.5"/><circle cx="829.1" cy="512.7" r="5.5"/><circle cx="830.2" cy="507.7" r="5.5"/><circle cx="828.9" cy="532.0" r="5.5"/><circle cx="875.0" cy="512.9" r="5.5"/><circle cx="853.2" cy="502.7" r="5.5"/><circle cx="825.8" cy="530.4" r="5.5"/><circle cx="830.9" cy="543.2" r="5.5"/><circle cx="838.5" cy="515.3" r="5.5"/><circle cx="833.4" cy="526.1" r="5.5"/><circle cx="885.5" cy="505.6" r="5.5"/><circle cx="838.7" cy="526.0" r="5.5"/><circle cx="858.1" cy="498.8" r="5.5"/><circle cx="887.6" cy="504.0" r="5.5"/><circle cx="886.9" cy="497.2" r="5.5"/><circle cx="875.2" cy="507.6" r="5.5"/><circle cx="874.3" cy="507.5" r="5.5"/><circle cx="824.4" cy="528.5" r="5.5"/><circle cx="824.3" cy="542.6" r="5.5"/><circle cx="880.6" cy="490.5" r="5.5"/><circle cx="851.8" cy="517.6" r="5.5"/><circle cx="850.9" cy="503.3" r="5.5"/><circle cx="827.8" cy="537.9" r="5.5"/><circle cx="835.6" cy="532.1" r="5.5"/><circle cx="850.4" cy="525.7" r="5.5"/><circle cx="832.0" cy="525.1" r="5.5"/><circle cx="853.7" cy="512.1" r="5.5"/><circle cx="862.7" cy="505.1" r="5.5"/><circle cx="842.2" cy="504.9" r="5.5"/><circle cx="841.6" cy="531.4" r="5.5"/><circle cx="889.7" cy="516.2" r="5.5"/><circle cx="822.8" cy="532.0" r="5.5"/><circle cx="838.9" cy="508.6" r="5.5"/><circle cx="848.7" cy="505.3" r="5.5"/><circle cx="853.6" cy="511.2" r="5.5"/><circle cx="524.0" cy="336.0" r="5.5"/><circle cx="888.0" cy="504.7" r="5.5"/>
</g>
<g class="c12">
<circle cx="854.9" cy="714.1" r="5.5"/><circle cx="845.5" cy="690.3" r="5.5"/><circle cx="842.4" cy="704.3" r="5.5"/><circle cx="875.9" cy="680.1" r="5.5"/><circle cx="872.6" cy="688.9" r="5.5"/><circle cx="848.9" cy="719.1" r="5.5"/><circle cx="853.3" cy="716.8" r="5.5"/><circle cx="845.6" cy="710.4" r="5.5"/><circle cx="843.8" cy="706.6" r="5.5"/><circle cx="870.6" cy="687.8" r="5.5"/><circle cx="846.9" cy="702.5" r="5.5"/><circle cx="857.6" cy="678.6" r="5.5"/><circle cx="842.5" cy="707.9" r="5.5"/><circle cx="848.9" cy="719.9" r="5.5"/><circle cx="902.0" cy="317.0" r="5.5"/><circle cx="845.4" cy="717.0" r="5.5"/><circle cx="828.7" cy="708.8" r="5.5"/><circle cx="864.6" cy="690.6" r="5.5"/><circle cx="847.0" cy="710.7" r="5.5"/><circle cx="852.5" cy="710.3" r="5.5"/><circle cx="855.1" cy="686.7" r="5.5"/><circle cx="876.5" cy="691.6" r="5.5"/><circle cx="845.3" cy="705.3" r="5.5"/><circle cx="864.8" cy="690.8" r="5.5"/><circle cx="852.4" cy="701.4" r="5.5"/><circle cx="860.6" cy="688.4" r="5.5"/><circle cx="867.4" cy="680.5" r="5.5"/><circle cx="877.6" cy="689.1" r="5.5"/><circle cx="526.0" cy="334.0" r="5.5"/><circle cx="835.9" cy="700.3" r="5.5"/><circle cx="841.5" cy="705.5" r="5.5"/><circle cx="878.2" cy="685.4" r="5.5"/><circle cx="852.4" cy="696.4" r="5.5"/><circle cx="850.6" cy="721.2" r="5.5"/><circle cx="867.3" cy="673.1" r="5.5"/><circle cx="860.6" cy="685.4" r="5.5"/><circle cx="867.3" cy="682.4" r="5.5"/><circle cx="872.4" cy="698.8" r="5.5"/><circle cx="878.4" cy="699.0" r="5.5"/><circle cx="871.0" cy="687.5" r="5.5"/><circle cx="867.2" cy="680.0" r="5.5"/><circle cx="878.3" cy="687.1" r="5.5"/><circle cx="873.1" cy="700.7" r="5.5"/><circle cx="856.6" cy="685.8" r="5.5"/><circle cx="869.8" cy="684.8" r="5.5"/><circle cx="850.9" cy="703.5" r="5.5"/><circle cx="869.0" cy="694.5" r="5.5"/><circle cx="860.5" cy="698.7" r="5.5"/><circle cx="846.8" cy="701.7" r="5.5"/><circle cx="437.5" cy="399.0" r="5.5"/><circle cx="839.4" cy="702.4" r="5.5"/><circle cx="865.5" cy="696.0" r="5.5"/><circle cx="879.6" cy="698.1" r="5.5"/><circle cx="870.4" cy="694.1" r="5.5"/><circle cx="880.0" cy="683.8" r="5.5"/><circle cx="847.7" cy="696.9" r="5.5"/><circle cx="871.3" cy="683.2" r="5.5"/>
</g>
<g class="c13">
<circle cx="528.8" cy="824.8" r="5.5"/><circle cx="528.7" cy="823.4" r="5.5"/><circle cx="535.9" cy="828.9" r="5.5"/><circle cx="530.3" cy="829.4" r="5.5"/><circle cx="540.4" cy="844.3" r="5.5"/><circle cx="524.6" cy="825.7" r="5.5"/><circle cx="533.9" cy="819.6" r="5.5"/><circle cx="520.5" cy="824.7" r="5.5"/><circle cx="537.8" cy="842.5" r="5.5"/><circle cx="544.2" cy="838.7" r="5.5"/><circle cx="527.2" cy="842.0" r="5.5"/><circle cx="529.3" cy="816.5" r="5.5"/><circle cx="553.8" cy="848.6" r="5.5"/><circle cx="558.4" cy="852.2" r="5.5"/><circle cx="558.6" cy="850.2" r="5.5"/><circle cx="546.6" cy="844.0" r="5.5"/><circle cx="523.1" cy="823.1" r="5.5"/><circle cx="550.6" cy="844.7" r="5.5"/><circle cx="550.9" cy="847.6" r="5.5"/><circle cx="519.7" cy="818.1" r="5.5"/><circle cx="522.5" cy="833.4" r="5.5"/><circle cx="531.7" cy="836.2" r="5.5"/><circle cx="548.9" cy="843.6" r="5.5"/><circle cx="547.8" cy="841.1" r="5.5"/><circle cx="525.5" cy="831.4" r="5.5"/><circle cx="541.6" cy="839.0" r="5.5"/><circle cx="547.3" cy="846.5" r="5.5"/><circle cx="529.9" cy="831.9" r="5.5"/><circle cx="526.1" cy="814.6" r="5.5"/><circle cx="527.6" cy="811.2" r="5.5"/><circle cx="527.5" cy="829.2" r="5.5"/><circle cx="536.7" cy="819.1" r="5.5"/><circle cx="539.0" cy="835.6" r="5.5"/><circle cx="535.7" cy="842.5" r="5.5"/><circle cx="547.7" cy="846.8" r="5.5"/><circle cx="541.0" cy="822.4" r="5.5"/><circle cx="560.2" cy="855.2" r="5.5"/><circle cx="533.0" cy="832.8" r="5.5"/><circle cx="529.6" cy="836.2" r="5.5"/><circle cx="544.1" cy="834.9" r="5.5"/><circle cx="525.0" cy="823.4" r="5.5"/><circle cx="546.6" cy="844.2" r="5.5"/><circle cx="529.6" cy="830.5" r="5.5"/><circle cx="548.9" cy="842.2" r="5.5"/><circle cx="542.2" cy="839.0" r="5.5"/><circle cx="563.5" cy="855.6" r="5.5"/>
</g>
<g class="c14">
<circle cx="460.5" cy="379.3" r="5.5"/><circle cx="469.5" cy="404.9" r="5.5"/><circle cx="532.0" cy="408.5" r="5.5"/><circle cx="545.7" cy="403.3" r="5.5"/><circle cx="473.4" cy="398.9" r="5.5"/><circle cx="473.9" cy="380.8" r="5.5"/><circle cx="460.9" cy="406.4" r="5.5"/><circle cx="462.7" cy="371.9" r="5.5"/><circle cx="473.2" cy="385.0" r="5.5"/><circle cx="544.9" cy="375.4" r="5.5"/><circle cx="541.3" cy="396.4" r="5.5"/><circle cx="464.5" cy="373.0" r="5.5"/><circle cx="457.5" cy="401.6" r="5.5"/><circle cx="463.7" cy="408.2" r="5.5"/><circle cx="543.5" cy="395.7" r="5.5"/><circle cx="529.4" cy="385.1" r="5.5"/><circle cx="531.7" cy="390.9" r="5.5"/><circle cx="543.7" cy="385.9" r="5.5"/><circle cx="513.8" cy="404.1" r="5.5"/><circle cx="470.1" cy="378.3" r="5.5"/><circle cx="459.0" cy="382.8" r="5.5"/><circle cx="476.5" cy="378.8" r="5.5"/><circle cx="541.3" cy="381.7" r="5.5"/><circle cx="472.7" cy="379.3" r="5.5"/><circle cx="533.7" cy="370.2" r="5.5"/><circle cx="524.7" cy="375.6" r="5.5"/><circle cx="522.7" cy="397.6" r="5.5"/><circle cx="521.6" cy="401.6" r="5.5"/><circle cx="547.0" cy="392.9" r="5.5"/><circle cx="543.2" cy="382.3" r="5.5"/><circle cx="455.8" cy="388.7" r="5.5"/><circle cx="531.5" cy="404.9" r="5.5"/><circle cx="467.7" cy="384.8" r="5.5"/><circle cx="466.0" cy="411.5" r="5.5"/><circle cx="468.8" cy="416.6" r="5.5"/><circle cx="456.5" cy="409.1" r="5.5"/><circle cx="535.2" cy="376.6" r="5.5"/><circle cx="537.2" cy="381.6" r="5.5"/><circle cx="463.7" cy="381.3" r="5.5"/><circle cx="481.6" cy="376.8" r="5.5"/><circle cx="529.9" cy="408.2" r="5.5"/><circle cx="524.5" cy="406.8" r="5.5"/><circle cx="461.6" cy="411.8" r="5.5"/><circle cx="521.8" cy="402.4" r="5.5"/><circle cx="455.7" cy="384.4" r="5.5"/><circle cx="531.1" cy="404.4" r="5.5"/><circle cx="542.7" cy="395.8" r="5.5"/><circle cx="524.8" cy="390.9" r="5.5"/><circle cx="457.5" cy="382.9" r="5.5"/><circle cx="547.1" cy="397.7" r="5.5"/><circle cx="536.7" cy="376.9" r="5.5"/><circle cx="529.3" cy="380.7" r="5.5"/><circle cx="539.8" cy="376.9" r="5.5"/><circle cx="545.2" cy="380.2" r="5.5"/>
</g>
<g class="c15">
<circle cx="927.8" cy="317.5" r="5.5"/><circle cx="927.2" cy="316.9" r="5.5"/><circle cx="916.5" cy="322.2" r="5.5"/><circle cx="918.5" cy="322.3" r="5.5"/><circle cx="918.7" cy="322.6" r="5.5"/><circle cx="922.5" cy="318.9" r="5.5"/><circle cx="919.2" cy="321.0" r="5.5"/><circle cx="920.1" cy="321.2" r="5.5"/>
</g>
<g class="c16">
<circle cx="715.2" cy="464.1" r="5.5"/><circle cx="729.8" cy="488.5" r="5.5"/><circle cx="774.4" cy="596.4" r="5.5"/><circle cx="774.0" cy="542.2" r="5.5"/><circle cx="690.0" cy="554.7" r="5.5"/><circle cx="730.2" cy="619.0" r="5.5"/><circle cx="793.0" cy="601.0" r="5.5"/><circle cx="676.3" cy="613.5" r="5.5"/><circle cx="769.5" cy="619.3" r="5.5"/><circle cx="782.3" cy="562.0" r="5.5"/><circle cx="708.3" cy="591.0" r="5.5"/><circle cx="748.9" cy="572.1" r="5.5"/><circle cx="765.6" cy="612.0" r="5.5"/><circle cx="753.7" cy="565.4" r="5.5"/><circle cx="662.8" cy="539.6" r="5.5"/><circle cx="757.1" cy="632.8" r="5.5"/><circle cx="761.3" cy="538.6" r="5.5"/><circle cx="763.0" cy="565.2" r="5.5"/><circle cx="691.4" cy="594.5" r="5.5"/><circle cx="712.2" cy="631.0" r="5.5"/><circle cx="803.6" cy="561.9" r="5.5"/><circle cx="778.5" cy="525.7" r="5.5"/><circle cx="756.0" cy="563.8" r="5.5"/><circle cx="730.8" cy="548.5" r="5.5"/><circle cx="729.2" cy="577.7" r="5.5"/><circle cx="722.7" cy="609.6" r="5.5"/><circle cx="758.1" cy="530.3" r="5.5"/><circle cx="806.3" cy="514.4" r="5.5"/><circle cx="739.8" cy="578.0" r="5.5"/><circle cx="731.5" cy="565.5" r="5.5"/><circle cx="716.0" cy="621.4" r="5.5"/><circle cx="743.5" cy="574.1" r="5.5"/><circle cx="753.2" cy="523.9" r="5.5"/><circle cx="744.6" cy="623.3" r="5.5"/><circle cx="778.6" cy="592.4" r="5.5"/><circle cx="746.7" cy="583.6" r="5.5"/><circle cx="686.2" cy="499.0" r="5.5"/><circle cx="654.3" cy="565.9" r="5.5"/><circle cx="686.5" cy="619.7" r="5.5"/><circle cx="801.8" cy="599.2" r="5.5"/><circle cx="805.0" cy="546.0" r="5.5"/><circle cx="725.7" cy="560.7" r="5.5"/><circle cx="782.3" cy="628.4" r="5.5"/><circle cx="734.3" cy="447.5" r="5.5"/><circle cx="702.7" cy="477.0" r="5.5"/><circle cx="763.8" cy="532.2" r="5.5"/><circle cx="707.3" cy="595.1" r="5.5"/><circle cx="817.3" cy="563.7" r="5.5"/><circle cx="676.9" cy="613.1" r="5.5"/><circle cx="788.1" cy="558.7" r="5.5"/><circle cx="751.4" cy="473.4" r="5.5"/><circle cx="663.6" cy="538.4" r="5.5"/><circle cx="785.1" cy="536.0" r="5.5"/><circle cx="691.5" cy="596.2" r="5.5"/><circle cx="759.6" cy="555.8" r="5.5"/><circle cx="723.4" cy="645.5" r="5.5"/><circle cx="700.1" cy="613.5" r="5.5"/><circle cx="683.0" cy="606.5" r="5.5"/><circle cx="653.0" cy="530.2" r="5.5"/><circle cx="733.7" cy="574.4" r="5.5"/><circle cx="694.0" cy="582.2" r="5.5"/><circle cx="739.2" cy="647.7" r="5.5"/><circle cx="680.9" cy="604.9" r="5.5"/><circle cx="775.1" cy="557.0" r="5.5"/><circle cx="787.6" cy="593.7" r="5.5"/><circle cx="771.9" cy="518.2" r="5.5"/><circle cx="761.3" cy="567.9" r="5.5"/><circle cx="738.0" cy="550.7" r="5.5"/><circle cx="782.1" cy="629.5" r="5.5"/><circle cx="752.7" cy="536.7" r="5.5"/><circle cx="720.9" cy="449.8" r="5.5"/><circle cx="677.8" cy="527.7" r="5.5"/><circle cx="688.2" cy="589.0" r="5.5"/><circle cx="750.4" cy="471.2" r="5.5"/><circle cx="733.4" cy="529.4" r="5.5"/><circle cx="724.1" cy="555.0" r="5.5"/><circle cx="758.2" cy="485.1" r="5.5"/><circle cx="705.5" cy="639.0" r="5.5"/><circle cx="768.5" cy="579.0" r="5.5"/><circle cx="673.6" cy="608.2" r="5.5"/><circle cx="707.7" cy="529.5" r="5.5"/><circle cx="776.2" cy="503.8" r="5.5"/><circle cx="783.3" cy="512.5" r="5.5"/><circle cx="745.4" cy="478.1" r="5.5"/><circle cx="736.1" cy="602.0" r="5.5"/><circle cx="720.7" cy="603.7" r="5.5"/><circle cx="760.8" cy="577.5" r="5.5"/><circle cx="684.4" cy="489.4" r="5.5"/><circle cx="690.8" cy="488.9" r="5.5"/><circle cx="785.0" cy="538.8" r="5.5"/><circle cx="798.7" cy="542.9" r="5.5"/><circle cx="805.8" cy="603.0" r="5.5"/><circle cx="714.5" cy="532.8" r="5.5"/><circle cx="765.2" cy="637.7" r="5.5"/><circle cx="760.4" cy="555.6" r="5.5"/><circle cx="723.3" cy="491.7" r="5.5"/><circle cx="755.3" cy="529.4" r="5.5"/><circle cx="732.1" cy="600.3" r="5.5"/><circle cx="727.9" cy="642.6" r="5.5"/><circle cx="781.8" cy="578.9" r="5.5"/><circle cx="770.6" cy="502.7" r="5.5"/><circle cx="752.0" cy="644.2" r="5.5"/><circle cx="731.7" cy="618.8" r="5.5"/><circle cx="757.9" cy="600.4" r="5.5"/><circle cx="783.4" cy="598.3" r="5.5"/><circle cx="754.2" cy="626.8" r="5.5"/><circle cx="735.6" cy="528.5" r="5.5"/><circle cx="691.9" cy="509.7" r="5.5"/><circle cx="730.4" cy="610.3" r="5.5"/><circle cx="684.7" cy="595.4" r="5.5"/><circle cx="737.4" cy="450.6" r="5.5"/><circle cx="758.5" cy="565.7" r="5.5"/><circle cx="752.4" cy="573.1" r="5.5"/><circle cx="796.2" cy="570.8" r="5.5"/><circle cx="809.2" cy="558.9" r="5.5"/><circle cx="753.5" cy="537.6" r="5.5"/><circle cx="730.4" cy="620.7" r="5.5"/><circle cx="724.7" cy="567.3" r="5.5"/><circle cx="715.1" cy="601.1" r="5.5"/><circle cx="710.5" cy="637.5" r="5.5"/><circle cx="772.3" cy="582.3" r="5.5"/><circle cx="728.6" cy="642.6" r="5.5"/><circle cx="742.2" cy="530.6" r="5.5"/><circle cx="726.2" cy="653.3" r="5.5"/><circle cx="751.2" cy="592.7" r="5.5"/><circle cx="692.8" cy="599.7" r="5.5"/><circle cx="694.4" cy="592.3" r="5.5"/><circle cx="808.6" cy="604.3" r="5.5"/><circle cx="741.5" cy="482.4" r="5.5"/><circle cx="770.5" cy="537.2" r="5.5"/><circle cx="734.2" cy="539.6" r="5.5"/><circle cx="688.4" cy="551.7" r="5.5"/><circle cx="785.3" cy="510.5" r="5.5"/><circle cx="661.1" cy="553.6" r="5.5"/><circle cx="782.9" cy="581.8" r="5.5"/><circle cx="718.5" cy="547.4" r="5.5"/><circle cx="792.8" cy="583.2" r="5.5"/><circle cx="705.5" cy="569.1" r="5.5"/><circle cx="790.6" cy="592.7" r="5.5"/><circle cx="752.9" cy="591.0" r="5.5"/><circle cx="757.8" cy="528.4" r="5.5"/><circle cx="700.8" cy="641.9" r="5.5"/><circle cx="771.8" cy="511.7" r="5.5"/><circle cx="741.1" cy="557.5" r="5.5"/><circle cx="753.4" cy="512.9" r="5.5"/><circle cx="725.3" cy="568.5" r="5.5"/><circle cx="677.2" cy="618.6" r="5.5"/><circle cx="807.2" cy="576.9" r="5.5"/><circle cx="730.0" cy="486.0" r="5.5"/><circle cx="749.9" cy="518.1" r="5.5"/><circle cx="727.0" cy="559.1" r="5.5"/><circle cx="738.6" cy="585.5" r="5.5"/><circle cx="803.7" cy="545.0" r="5.5"/><circle cx="708.7" cy="569.6" r="5.5"/><circle cx="741.3" cy="469.7" r="5.5"/><circle cx="740.8" cy="644.3" r="5.5"/><circle cx="688.4" cy="560.1" r="5.5"/><circle cx="742.9" cy="647.6" r="5.5"/><circle cx="739.8" cy="633.4" r="5.5"/><circle cx="778.1" cy="590.1" r="5.5"/><circle cx="759.3" cy="528.4" r="5.5"/><circle cx="695.5" cy="642.9" r="5.5"/><circle cx="743.8" cy="478.1" r="5.5"/><circle cx="766.6" cy="556.8" r="5.5"/><circle cx="764.7" cy="473.9" r="5.5"/><circle cx="767.4" cy="501.6" r="5.5"/><circle cx="777.7" cy="524.7" r="5.5"/><circle cx="755.6" cy="493.8" r="5.5"/><circle cx="794.2" cy="608.0" r="5.5"/><circle cx="733.2" cy="610.0" r="5.5"/><circle cx="679.8" cy="629.4" r="5.5"/><circle cx="656.6" cy="534.5" r="5.5"/><circle cx="678.8" cy="609.5" r="5.5"/><circle cx="700.7" cy="613.1" r="5.5"/><circle cx="779.7" cy="515.3" r="5.5"/><circle cx="610.0" cy="600.0" r="5.5"/><circle cx="731.7" cy="542.5" r="5.5"/><circle cx="697.0" cy="597.6" r="5.5"/><circle cx="750.9" cy="594.8" r="5.5"/><circle cx="735.5" cy="591.8" r="5.5"/><circle cx="679.7" cy="608.3" r="5.5"/><circle cx="808.0" cy="523.2" r="5.5"/><circle cx="752.0" cy="616.3" r="5.5"/><circle cx="685.7" cy="596.9" r="5.5"/><circle cx="779.1" cy="558.5" r="5.5"/><circle cx="815.6" cy="600.5" r="5.5"/><circle cx="708.3" cy="622.2" r="5.5"/><circle cx="704.1" cy="606.5" r="5.5"/><circle cx="787.3" cy="619.9" r="5.5"/><circle cx="725.9" cy="636.2" r="5.5"/><circle cx="763.4" cy="567.8" r="5.5"/><circle cx="758.3" cy="633.5" r="5.5"/><circle cx="778.2" cy="592.3" r="5.5"/><circle cx="770.0" cy="528.0" r="5.5"/><circle cx="697.8" cy="638.9" r="5.5"/><circle cx="784.4" cy="496.9" r="5.5"/><circle cx="755.3" cy="635.0" r="5.5"/><circle cx="719.9" cy="652.8" r="5.5"/><circle cx="730.3" cy="569.9" r="5.5"/><circle cx="808.7" cy="600.8" r="5.5"/><circle cx="769.6" cy="571.0" r="5.5"/><circle cx="707.8" cy="638.5" r="5.5"/><circle cx="749.5" cy="525.0" r="5.5"/><circle cx="721.0" cy="592.9" r="5.5"/><circle cx="689.5" cy="623.6" r="5.5"/><circle cx="790.8" cy="591.5" r="5.5"/><circle cx="775.7" cy="491.8" r="5.5"/><circle cx="778.7" cy="530.1" r="5.5"/><circle cx="732.6" cy="636.8" r="5.5"/><circle cx="756.9" cy="488.0" r="5.5"/><circle cx="704.0" cy="616.8" r="5.5"/><circle cx="729.6" cy="565.3" r="5.5"/><circle cx="680.7" cy="615.2" r="5.5"/><circle cx="711.9" cy="646.7" r="5.5"/><circle cx="703.3" cy="591.4" r="5.5"/><circle cx="715.7" cy="573.1" r="5.5"/><circle cx="768.1" cy="554.2" r="5.5"/><circle cx="759.4" cy="573.4" r="5.5"/><circle cx="765.5" cy="582.1" r="5.5"/><circle cx="691.4" cy="619.7" r="5.5"/><circle cx="704.0" cy="636.5" r="5.5"/><circle cx="784.8" cy="612.0" r="5.5"/><circle cx="757.4" cy="611.4" r="5.5"/><circle cx="686.1" cy="632.5" r="5.5"/><circle cx="743.1" cy="524.7" r="5.5"/><circle cx="653.7" cy="560.8" r="5.5"/><circle cx="722.8" cy="510.6" r="5.5"/><circle cx="694.7" cy="603.9" r="5.5"/><circle cx="737.5" cy="647.6" r="5.5"/><circle cx="725.6" cy="554.0" r="5.5"/><circle cx="797.9" cy="503.4" r="5.5"/><circle cx="720.0" cy="573.0" r="5.5"/><circle cx="674.8" cy="616.9" r="5.5"/><circle cx="809.5" cy="570.1" r="5.5"/><circle cx="714.5" cy="469.8" r="5.5"/><circle cx="708.2" cy="533.8" r="5.5"/><circle cx="663.5" cy="560.6" r="5.5"/><circle cx="794.6" cy="571.4" r="5.5"/><circle cx="724.8" cy="571.7" r="5.5"/><circle cx="714.9" cy="556.6" r="5.5"/><circle cx="673.4" cy="595.9" r="5.5"/><circle cx="713.9" cy="505.7" r="5.5"/><circle cx="728.5" cy="559.1" r="5.5"/><circle cx="764.5" cy="603.0" r="5.5"/><circle cx="769.3" cy="484.5" r="5.5"/><circle cx="757.9" cy="538.7" r="5.5"/><circle cx="717.1" cy="593.9" r="5.5"/><circle cx="758.1" cy="589.8" r="5.5"/><circle cx="807.9" cy="525.9" r="5.5"/><circle cx="796.8" cy="592.1" r="5.5"/><circle cx="762.4" cy="576.9" r="5.5"/><circle cx="778.4" cy="488.9" r="5.5"/><circle cx="750.0" cy="463.0" r="5.5"/><circle cx="695.4" cy="516.0" r="5.5"/><circle cx="752.3" cy="595.1" r="5.5"/><circle cx="690.5" cy="573.8" r="5.5"/><circle cx="736.2" cy="544.7" r="5.5"/><circle cx="798.9" cy="566.1" r="5.5"/><circle cx="777.5" cy="510.6" r="5.5"/><circle cx="748.5" cy="496.3" r="5.5"/><circle cx="682.6" cy="560.2" r="5.5"/><circle cx="672.6" cy="583.4" r="5.5"/><circle cx="729.4" cy="560.5" r="5.5"/><circle cx="772.8" cy="614.3" r="5.5"/><circle cx="730.7" cy="641.3" r="5.5"/><circle cx="753.6" cy="606.2" r="5.5"/><circle cx="728.7" cy="621.5" r="5.5"/><circle cx="706.2" cy="501.4" r="5.5"/><circle cx="781.3" cy="567.0" r="5.5"/><circle cx="801.2" cy="565.0" r="5.5"/><circle cx="698.2" cy="537.8" r="5.5"/><circle cx="718.2" cy="620.2" r="5.5"/><circle cx="795.1" cy="547.7" r="5.5"/><circle cx="687.9" cy="563.3" r="5.5"/><circle cx="701.1" cy="582.6" r="5.5"/><circle cx="779.3" cy="512.0" r="5.5"/><circle cx="740.2" cy="589.0" r="5.5"/><circle cx="703.5" cy="571.4" r="5.5"/><circle cx="684.1" cy="551.3" r="5.5"/><circle cx="763.7" cy="536.8" r="5.5"/><circle cx="702.8" cy="597.6" r="5.5"/><circle cx="755.5" cy="633.0" r="5.5"/><circle cx="697.6" cy="613.0" r="5.5"/><circle cx="752.3" cy="589.7" r="5.5"/><circle cx="771.5" cy="579.5" r="5.5"/><circle cx="684.7" cy="595.4" r="5.5"/><circle cx="687.4" cy="607.4" r="5.5"/><circle cx="765.5" cy="486.8" r="5.5"/><circle cx="773.3" cy="639.1" r="5.5"/><circle cx="788.4" cy="566.1" r="5.5"/><circle cx="707.0" cy="645.9" r="5.5"/><circle cx="712.1" cy="521.5" r="5.5"/><circle cx="699.7" cy="565.1" r="5.5"/><circle cx="721.0" cy="466.8" r="5.5"/><circle cx="709.5" cy="493.3" r="5.5"/><circle cx="759.3" cy="459.1" r="5.5"/><circle cx="695.8" cy="611.0" r="5.5"/><circle cx="740.0" cy="604.1" r="5.5"/><circle cx="801.7" cy="586.9" r="5.5"/><circle cx="682.5" cy="595.6" r="5.5"/><circle cx="783.8" cy="530.5" r="5.5"/><circle cx="656.3" cy="564.8" r="5.5"/><circle cx="792.9" cy="560.4" r="5.5"/><circle cx="684.6" cy="606.6" r="5.5"/><circle cx="748.2" cy="560.4" r="5.5"/><circle cx="738.4" cy="473.7" r="5.5"/><circle cx="771.9" cy="477.7" r="5.5"/><circle cx="731.4" cy="561.0" r="5.5"/><circle cx="745.6" cy="464.5" r="5.5"/><circle cx="735.5" cy="510.0" r="5.5"/><circle cx="690.6" cy="592.6" r="5.5"/><circle cx="695.4" cy="603.4" r="5.5"/><circle cx="719.1" cy="641.2" r="5.5"/><circle cx="808.3" cy="572.8" r="5.5"/><circle cx="766.4" cy="538.8" r="5.5"/><circle cx="790.6" cy="596.8" r="5.5"/><circle cx="704.8" cy="624.0" r="5.5"/><circle cx="768.3" cy="483.8" r="5.5"/><circle cx="788.3" cy="563.6" r="5.5"/><circle cx="795.8" cy="615.9" r="5.5"/><circle cx="703.0" cy="557.7" r="5.5"/><circle cx="760.3" cy="524.5" r="5.5"/><circle cx="709.1" cy="607.5" r="5.5"/><circle cx="762.6" cy="606.7" r="5.5"/><circle cx="785.8" cy="585.1" r="5.5"/><circle cx="713.0" cy="596.4" r="5.5"/><circle cx="800.9" cy="604.8" r="5.5"/><circle cx="757.8" cy="614.6" r="5.5"/><circle cx="743.5" cy="457.7" r="5.5"/><circle cx="796.5" cy="496.0" r="5.5"/><circle cx="734.6" cy="549.4" r="5.5"/><circle cx="703.5" cy="617.4" r="5.5"/><circle cx="787.9" cy="581.8" r="5.5"/><circle cx="806.9" cy="571.7" r="5.5"/><circle cx="706.3" cy="611.1" r="5.5"/><circle cx="720.4" cy="593.8" r="5.5"/><circle cx="792.4" cy="580.0" r="5.5"/><circle cx="745.7" cy="475.1" r="5.5"/><circle cx="750.4" cy="538.2" r="5.5"/><circle cx="779.1" cy="610.3" r="5.5"/><circle cx="724.4" cy="580.4" r="5.5"/><circle cx="685.1" cy="630.0" r="5.5"/><circle cx="751.5" cy="500.4" r="5.5"/><circle cx="781.3" cy="515.0" r="5.5"/><circle cx="765.7" cy="594.9" r="5.5"/><circle cx="699.1" cy="635.7" r="5.5"/><circle cx="806.8" cy="561.4" r="5.5"/><circle cx="737.7" cy="495.3" r="5.5"/><circle cx="779.3" cy="501.3" r="5.5"/><circle cx="779.8" cy="628.5" r="5.5"/><circle cx="723.3" cy="633.1" r="5.5"/><circle cx="718.6" cy="628.6" r="5.5"/><circle cx="673.0" cy="604.6" r="5.5"/>
</g>
<g class="c17">
<circle cx="553.8" cy="533.8" r="5.5"/><circle cx="611.3" cy="489.0" r="5.5"/><circle cx="626.3" cy="504.3" r="5.5"/><circle cx="664.6" cy="437.6" r="5.5"/><circle cx="685.0" cy="461.9" r="5.5"/><circle cx="628.8" cy="518.6" r="5.5"/><circle cx="550.5" cy="468.8" r="5.5"/><circle cx="576.4" cy="438.9" r="5.5"/><circle cx="676.1" cy="467.7" r="5.5"/><circle cx="550.7" cy="482.9" r="5.5"/><circle cx="636.4" cy="459.6" r="5.5"/><circle cx="645.9" cy="448.4" r="5.5"/><circle cx="578.9" cy="464.8" r="5.5"/><circle cx="649.8" cy="517.1" r="5.5"/><circle cx="673.1" cy="426.0" r="5.5"/><circle cx="566.2" cy="473.3" r="5.5"/><circle cx="671.3" cy="502.3" r="5.5"/><circle cx="607.1" cy="454.1" r="5.5"/><circle cx="550.6" cy="490.6" r="5.5"/><circle cx="586.7" cy="472.4" r="5.5"/><circle cx="619.8" cy="429.5" r="5.5"/><circle cx="584.6" cy="497.2" r="5.5"/><circle cx="610.8" cy="550.0" r="5.5"/><circle cx="531.9" cy="503.8" r="5.5"/><circle cx="650.8" cy="461.6" r="5.5"/><circle cx="601.3" cy="537.4" r="5.5"/><circle cx="663.9" cy="514.0" r="5.5"/><circle cx="625.0" cy="598.0" r="5.5"/><circle cx="541.3" cy="506.1" r="5.5"/><circle cx="606.9" cy="492.7" r="5.5"/><circle cx="643.0" cy="435.9" r="5.5"/><circle cx="647.9" cy="429.7" r="5.5"/><circle cx="570.2" cy="531.6" r="5.5"/><circle cx="671.2" cy="488.1" r="5.5"/><circle cx="651.4" cy="491.4" r="5.5"/><circle cx="639.7" cy="537.5" r="5.5"/><circle cx="639.8" cy="517.8" r="5.5"/><circle cx="657.7" cy="452.4" r="5.5"/><circle cx="554.6" cy="503.5" r="5.5"/><circle cx="595.1" cy="477.4" r="5.5"/><circle cx="666.3" cy="506.4" r="5.5"/><circle cx="584.7" cy="489.1" r="5.5"/><circle cx="592.9" cy="438.2" r="5.5"/><circle cx="636.1" cy="507.1" r="5.5"/><circle cx="664.6" cy="421.5" r="5.5"/><circle cx="590.3" cy="514.2" r="5.5"/><circle cx="588.8" cy="485.5" r="5.5"/><circle cx="615.0" cy="527.0" r="5.5"/><circle cx="624.7" cy="546.6" r="5.5"/><circle cx="631.2" cy="488.4" r="5.5"/><circle cx="597.0" cy="456.1" r="5.5"/><circle cx="660.8" cy="489.0" r="5.5"/><circle cx="651.7" cy="420.6" r="5.5"/><circle cx="579.9" cy="492.2" r="5.5"/><circle cx="544.5" cy="476.1" r="5.5"/><circle cx="602.9" cy="436.7" r="5.5"/><circle cx="591.9" cy="516.5" r="5.5"/><circle cx="637.0" cy="488.1" r="5.5"/><circle cx="669.9" cy="442.9" r="5.5"/><circle cx="536.8" cy="484.0" r="5.5"/><circle cx="612.2" cy="550.5" r="5.5"/><circle cx="660.2" cy="455.3" r="5.5"/><circle cx="654.4" cy="537.4" r="5.5"/><circle cx="603.4" cy="511.9" r="5.5"/><circle cx="621.1" cy="538.4" r="5.5"/><circle cx="577.6" cy="458.0" r="5.5"/><circle cx="642.8" cy="459.3" r="5.5"/><circle cx="629.1" cy="454.8" r="5.5"/><circle cx="540.5" cy="509.0" r="5.5"/><circle cx="625.7" cy="539.4" r="5.5"/><circle cx="543.2" cy="476.9" r="5.5"/><circle cx="556.1" cy="468.6" r="5.5"/><circle cx="636.4" cy="492.6" r="5.5"/><circle cx="634.8" cy="471.1" r="5.5"/><circle cx="567.9" cy="568.6" r="5.5"/><circle cx="569.1" cy="532.0" r="5.5"/><circle cx="588.4" cy="434.1" r="5.5"/><circle cx="652.2" cy="419.3" r="5.5"/><circle cx="584.4" cy="451.2" r="5.5"/><circle cx="643.4" cy="470.3" r="5.5"/><circle cx="558.7" cy="501.0" r="5.5"/><circle cx="588.1" cy="468.7" r="5.5"/><circle cx="658.7" cy="432.7" r="5.5"/><circle cx="581.0" cy="509.2" r="5.5"/><circle cx="591.1" cy="505.9" r="5.5"/><circle cx="672.8" cy="422.2" r="5.5"/><circle cx="595.9" cy="534.2" r="5.5"/><circle cx="622.0" cy="450.0" r="5.5"/><circle cx="606.2" cy="496.9" r="5.5"/><circle cx="616.0" cy="527.3" r="5.5"/><circle cx="608.7" cy="529.7" r="5.5"/><circle cx="625.2" cy="507.8" r="5.5"/><circle cx="611.1" cy="548.7" r="5.5"/><circle cx="552.7" cy="531.1" r="5.5"/><circle cx="543.2" cy="524.5" r="5.5"/><circle cx="543.0" cy="532.7" r="5.5"/><circle cx="636.4" cy="508.0" r="5.5"/><circle cx="575.3" cy="505.6" r="5.5"/><circle cx="634.9" cy="482.0" r="5.5"/><circle cx="575.7" cy="492.2" r="5.5"/><circle cx="621.9" cy="508.8" r="5.5"/><circle cx="539.4" cy="492.5" r="5.5"/><circle cx="599.1" cy="477.5" r="5.5"/><circle cx="599.9" cy="476.9" r="5.5"/><circle cx="663.6" cy="484.2" r="5.5"/><circle cx="620.2" cy="543.8" r="5.5"/><circle cx="579.2" cy="542.4" r="5.5"/><circle cx="591.7" cy="475.0" r="5.5"/><circle cx="626.9" cy="541.8" r="5.5"/><circle cx="618.0" cy="519.2" r="5.5"/><circle cx="679.7" cy="427.2" r="5.5"/><circle cx="591.0" cy="467.8" r="5.5"/><circle cx="609.5" cy="474.2" r="5.5"/><circle cx="671.1" cy="489.9" r="5.5"/><circle cx="659.6" cy="514.6" r="5.5"/><circle cx="634.6" cy="527.6" r="5.5"/><circle cx="567.1" cy="523.1" r="5.5"/><circle cx="546.4" cy="485.0" r="5.5"/><circle cx="681.3" cy="462.7" r="5.5"/><circle cx="550.5" cy="532.7" r="5.5"/><circle cx="580.6" cy="493.8" r="5.5"/><circle cx="622.9" cy="544.5" r="5.5"/><circle cx="626.8" cy="521.2" r="5.5"/><circle cx="639.7" cy="481.5" r="5.5"/><circle cx="610.8" cy="544.9" r="5.5"/><circle cx="658.7" cy="504.3" r="5.5"/><circle cx="597.5" cy="427.6" r="5.5"/><circle cx="642.6" cy="459.8" r="5.5"/><circle cx="645.6" cy="529.3" r="5.5"/><circle cx="662.0" cy="612.0" r="5.5"/><circle cx="578.0" cy="463.3" r="5.5"/><circle cx="650.8" cy="451.5" r="5.5"/><circle cx="631.1" cy="537.7" r="5.5"/><circle cx="603.5" cy="472.6" r="5.5"/><circle cx="603.4" cy="517.7" r="5.5"/><circle cx="561.7" cy="508.5" r="5.5"/><circle cx="575.0" cy="628.0" r="5.5"/><circle cx="645.2" cy="440.8" r="5.5"/><circle cx="608.8" cy="482.6" r="5.5"/><circle cx="589.5" cy="496.6" r="5.5"/><circle cx="675.8" cy="473.0" r="5.5"/><circle cx="720.4" cy="429.3" r="5.5"/><circle cx="632.8" cy="496.5" r="5.5"/><circle cx="608.9" cy="557.9" r="5.5"/><circle cx="663.3" cy="431.2" r="5.5"/><circle cx="555.4" cy="531.3" r="5.5"/><circle cx="645.2" cy="516.4" r="5.5"/><circle cx="546.8" cy="517.7" r="5.5"/><circle cx="580.8" cy="453.8" r="5.5"/><circle cx="550.7" cy="518.4" r="5.5"/><circle cx="659.3" cy="499.8" r="5.5"/><circle cx="565.6" cy="550.6" r="5.5"/><circle cx="584.7" cy="524.5" r="5.5"/><circle cx="573.5" cy="483.7" r="5.5"/><circle cx="610.5" cy="528.1" r="5.5"/><circle cx="541.7" cy="501.1" r="5.5"/><circle cx="659.4" cy="477.7" r="5.5"/><circle cx="675.6" cy="438.4" r="5.5"/><circle cx="628.9" cy="510.5" r="5.5"/><circle cx="629.7" cy="449.6" r="5.5"/><circle cx="679.8" cy="451.5" r="5.5"/><circle cx="561.2" cy="445.1" r="5.5"/><circle cx="659.7" cy="509.9" r="5.5"/><circle cx="637.3" cy="491.9" r="5.5"/><circle cx="562.5" cy="467.5" r="5.5"/><circle cx="633.8" cy="521.7" r="5.5"/><circle cx="635.4" cy="437.8" r="5.5"/><circle cx="576.3" cy="495.7" r="5.5"/><circle cx="547.1" cy="512.7" r="5.5"/><circle cx="567.6" cy="523.8" r="5.5"/><circle cx="607.8" cy="548.7" r="5.5"/><circle cx="552.5" cy="477.8" r="5.5"/><circle cx="606.7" cy="524.9" r="5.5"/><circle cx="577.6" cy="496.7" r="5.5"/><circle cx="553.1" cy="496.2" r="5.5"/><circle cx="589.3" cy="526.4" r="5.5"/><circle cx="595.8" cy="542.8" r="5.5"/><circle cx="637.5" cy="522.3" r="5.5"/><circle cx="572.7" cy="543.6" r="5.5"/><circle cx="610.1" cy="475.1" r="5.5"/><circle cx="588.2" cy="458.0" r="5.5"/><circle cx="644.4" cy="521.8" r="5.5"/><circle cx="648.1" cy="427.7" r="5.5"/><circle cx="568.6" cy="501.1" r="5.5"/><circle cx="573.6" cy="486.9" r="5.5"/><circle cx="657.8" cy="447.0" r="5.5"/><circle cx="609.5" cy="485.4" r="5.5"/><circle cx="651.5" cy="482.1" r="5.5"/><circle cx="631.5" cy="503.8" r="5.5"/><circle cx="554.1" cy="540.5" r="5.5"/><circle cx="641.6" cy="540.0" r="5.5"/><circle cx="587.1" cy="457.7" r="5.5"/><circle cx="600.0" cy="579.9" r="5.5"/><circle cx="533.8" cy="502.9" r="5.5"/><circle cx="562.8" cy="541.6" r="5.5"/><circle cx="537.1" cy="496.2" r="5.5"/><circle cx="615.1" cy="527.9" r="5.5"/><circle cx="599.8" cy="545.5" r="5.5"/><circle cx="572.0" cy="622.0" r="5.5"/><circle cx="624.0" cy="483.0" r="5.5"/><circle cx="675.5" cy="440.3" r="5.5"/><circle cx="614.1" cy="500.3" r="5.5"/><circle cx="569.8" cy="522.1" r="5.5"/><circle cx="560.9" cy="487.4" r="5.5"/><circle cx="604.1" cy="445.1" r="5.5"/><circle cx="626.9" cy="519.2" r="5.5"/><circle cx="677.0" cy="485.2" r="5.5"/><circle cx="564.8" cy="523.4" r="5.5"/><circle cx="546.2" cy="503.0" r="5.5"/><circle cx="582.1" cy="493.8" r="5.5"/><circle cx="668.9" cy="446.8" r="5.5"/><circle cx="554.3" cy="520.5" r="5.5"/><circle cx="631.7" cy="455.1" r="5.5"/><circle cx="568.9" cy="550.1" r="5.5"/><circle cx="637.2" cy="451.3" r="5.5"/><circle cx="594.1" cy="589.4" r="5.5"/><circle cx="571.8" cy="523.6" r="5.5"/><circle cx="608.8" cy="546.9" r="5.5"/><circle cx="562.0" cy="501.7" r="5.5"/><circle cx="556.3" cy="463.5" r="5.5"/><circle cx="586.4" cy="480.7" r="5.5"/><circle cx="595.5" cy="475.5" r="5.5"/><circle cx="608.7" cy="512.4" r="5.5"/><circle cx="610.7" cy="554.9" r="5.5"/><circle cx="644.1" cy="450.2" r="5.5"/><circle cx="556.1" cy="518.3" r="5.5"/><circle cx="678.3" cy="459.7" r="5.5"/><circle cx="594.8" cy="444.1" r="5.5"/><circle cx="675.0" cy="453.9" r="5.5"/><circle cx="628.3" cy="505.1" r="5.5"/><circle cx="556.4" cy="500.0" r="5.5"/><circle cx="573.0" cy="483.8" r="5.5"/><circle cx="547.8" cy="503.4" r="5.5"/><circle cx="641.0" cy="510.0" r="5.5"/><circle cx="555.3" cy="477.7" r="5.5"/><circle cx="564.3" cy="550.8" r="5.5"/><circle cx="614.8" cy="472.4" r="5.5"/><circle cx="539.5" cy="530.3" r="5.5"/><circle cx="667.8" cy="502.2" r="5.5"/><circle cx="655.8" cy="532.0" r="5.5"/><circle cx="658.1" cy="511.1" r="5.5"/><circle cx="659.4" cy="439.3" r="5.5"/><circle cx="606.9" cy="582.4" r="5.5"/><circle cx="611.1" cy="538.2" r="5.5"/><circle cx="601.0" cy="556.8" r="5.5"/><circle cx="609.3" cy="464.9" r="5.5"/><circle cx="547.5" cy="467.2" r="5.5"/><circle cx="618.9" cy="512.8" r="5.5"/><circle cx="643.3" cy="496.2" r="5.5"/><circle cx="610.1" cy="430.1" r="5.5"/><circle cx="606.2" cy="434.1" r="5.5"/><circle cx="596.7" cy="505.1" r="5.5"/><circle cx="671.3" cy="504.2" r="5.5"/><circle cx="645.4" cy="471.6" r="5.5"/><circle cx="600.3" cy="533.0" r="5.5"/><circle cx="593.6" cy="562.8" r="5.5"/><circle cx="560.2" cy="445.6" r="5.5"/><circle cx="568.2" cy="470.4" r="5.5"/><circle cx="645.8" cy="507.5" r="5.5"/><circle cx="644.8" cy="532.6" r="5.5"/><circle cx="551.1" cy="484.1" r="5.5"/><circle cx="569.8" cy="517.0" r="5.5"/><circle cx="610.5" cy="457.1" r="5.5"/><circle cx="605.0" cy="480.7" r="5.5"/><circle cx="637.0" cy="434.6" r="5.5"/><circle cx="632.3" cy="519.5" r="5.5"/><circle cx="612.2" cy="476.0" r="5.5"/><circle cx="597.3" cy="507.6" r="5.5"/><circle cx="622.9" cy="462.4" r="5.5"/><circle cx="623.6" cy="541.0" r="5.5"/><circle cx="626.7" cy="448.9" r="5.5"/><circle cx="660.4" cy="499.9" r="5.5"/><circle cx="651.2" cy="427.6" r="5.5"/><circle cx="633.0" cy="467.5" r="5.5"/><circle cx="677.0" cy="424.8" r="5.5"/><circle cx="638.9" cy="507.2" r="5.5"/><circle cx="583.0" cy="547.8" r="5.5"/><circle cx="649.6" cy="487.0" r="5.5"/><circle cx="616.6" cy="483.7" r="5.5"/><circle cx="621.2" cy="545.7" r="5.5"/><circle cx="576.3" cy="501.5" r="5.5"/><circle cx="630.1" cy="470.4" r="5.5"/><circle cx="647.4" cy="436.4" r="5.5"/><circle cx="552.9" cy="482.8" r="5.5"/><circle cx="578.0" cy="434.5" r="5.5"/><circle cx="625.7" cy="533.3" r="5.5"/><circle cx="557.2" cy="494.4" r="5.5"/><circle cx="577.6" cy="476.5" r="5.5"/><circle cx="648.0" cy="432.9" r="5.5"/><circle cx="614.6" cy="524.3" r="5.5"/><circle cx="562.0" cy="483.1" r="5.5"/><circle cx="564.4" cy="494.5" r="5.5"/><circle cx="632.9" cy="554.3" r="5.5"/><circle cx="606.3" cy="556.1" r="5.5"/><circle cx="606.4" cy="547.5" r="5.5"/><circle cx="601.2" cy="449.4" r="5.5"/><circle cx="623.8" cy="530.7" r="5.5"/><circle cx="587.9" cy="440.7" r="5.5"/><circle cx="646.2" cy="490.3" r="5.5"/><circle cx="614.5" cy="484.8" r="5.5"/><circle cx="638.1" cy="516.6" r="5.5"/><circle cx="562.3" cy="530.4" r="5.5"/><circle cx="620.5" cy="504.2" r="5.5"/><circle cx="673.2" cy="453.6" r="5.5"/><circle cx="675.6" cy="447.6" r="5.5"/><circle cx="591.8" cy="480.3" r="5.5"/><circle cx="575.9" cy="444.7" r="5.5"/><circle cx="617.4" cy="524.4" r="5.5"/><circle cx="655.8" cy="480.2" r="5.5"/><circle cx="644.0" cy="510.6" r="5.5"/><circle cx="677.8" cy="434.3" r="5.5"/><circle cx="610.9" cy="505.5" r="5.5"/><circle cx="613.1" cy="481.3" r="5.5"/><circle cx="628.3" cy="467.9" r="5.5"/><circle cx="552.7" cy="550.0" r="5.5"/><circle cx="673.1" cy="503.2" r="5.5"/><circle cx="634.8" cy="468.0" r="5.5"/><circle cx="581.2" cy="483.7" r="5.5"/><circle cx="563.5" cy="454.9" r="5.5"/><circle cx="564.3" cy="512.3" r="5.5"/><circle cx="583.8" cy="478.8" r="5.5"/><circle cx="652.3" cy="531.5" r="5.5"/><circle cx="568.2" cy="489.7" r="5.5"/><circle cx="576.3" cy="480.0" r="5.5"/><circle cx="588.3" cy="437.0" r="5.5"/><circle cx="583.0" cy="580.0" r="5.5"/><circle cx="559.2" cy="491.0" r="5.5"/><circle cx="551.5" cy="543.7" r="5.5"/><circle cx="633.6" cy="484.2" r="5.5"/><circle cx="661.8" cy="464.2" r="5.5"/><circle cx="541.2" cy="470.7" r="5.5"/><circle cx="633.4" cy="523.6" r="5.5"/><circle cx="575.3" cy="443.6" r="5.5"/><circle cx="665.1" cy="469.8" r="5.5"/><circle cx="610.1" cy="547.0" r="5.5"/><circle cx="613.1" cy="530.3" r="5.5"/><circle cx="545.7" cy="466.7" r="5.5"/>
</g>
<g class="c18">
<circle cx="685.6" cy="676.6" r="5.5"/><circle cx="653.2" cy="664.6" r="5.5"/><circle cx="595.9" cy="664.5" r="5.5"/><circle cx="579.5" cy="647.8" r="5.5"/><circle cx="616.9" cy="659.4" r="5.5"/><circle cx="613.7" cy="665.0" r="5.5"/><circle cx="591.9" cy="637.0" r="5.5"/><circle cx="673.2" cy="691.5" r="5.5"/><circle cx="661.4" cy="705.4" r="5.5"/><circle cx="634.0" cy="650.7" r="5.5"/><circle cx="602.5" cy="683.7" r="5.5"/><circle cx="605.4" cy="604.0" r="5.5"/><circle cx="639.2" cy="630.7" r="5.5"/><circle cx="635.2" cy="728.5" r="5.5"/><circle cx="646.5" cy="662.8" r="5.5"/><circle cx="630.9" cy="664.3" r="5.5"/><circle cx="632.7" cy="663.3" r="5.5"/><circle cx="585.0" cy="669.7" r="5.5"/><circle cx="626.9" cy="711.4" r="5.5"/><circle cx="668.5" cy="684.2" r="5.5"/><circle cx="571.0" cy="649.5" r="5.5"/><circle cx="624.5" cy="606.9" r="5.5"/><circle cx="641.3" cy="650.1" r="5.5"/><circle cx="658.2" cy="710.4" r="5.5"/><circle cx="632.7" cy="639.5" r="5.5"/><circle cx="630.5" cy="641.5" r="5.5"/><circle cx="587.8" cy="589.7" r="5.5"/><circle cx="599.4" cy="602.0" r="5.5"/><circle cx="603.4" cy="687.4" r="5.5"/><circle cx="574.3" cy="678.0" r="5.5"/><circle cx="656.1" cy="724.6" r="5.5"/><circle cx="594.2" cy="662.0" r="5.5"/><circle cx="575.2" cy="617.7" r="5.5"/><circle cx="586.4" cy="662.2" r="5.5"/><circle cx="654.2" cy="626.6" r="5.5"/><circle cx="578.4" cy="627.8" r="5.5"/><circle cx="657.0" cy="611.2" r="5.5"/><circle cx="654.9" cy="697.5" r="5.5"/><circle cx="618.5" cy="703.1" r="5.5"/><circle cx="644.4" cy="704.6" r="5.5"/><circle cx="595.1" cy="670.4" r="5.5"/><circle cx="675.5" cy="649.5" r="5.5"/><circle cx="656.9" cy="661.9" r="5.5"/><circle cx="648.3" cy="637.8" r="5.5"/><circle cx="665.8" cy="723.5" r="5.5"/><circle cx="630.1" cy="698.3" r="5.5"/><circle cx="673.2" cy="655.1" r="5.5"/><circle cx="617.0" cy="663.7" r="5.5"/><circle cx="644.5" cy="682.0" r="5.5"/><circle cx="591.9" cy="678.1" r="5.5"/><circle cx="613.5" cy="616.2" r="5.5"/><circle cx="609.0" cy="600.9" r="5.5"/><circle cx="646.1" cy="618.6" r="5.5"/><circle cx="613.3" cy="641.1" r="5.5"/><circle cx="693.0" cy="528.0" r="5.5"/><circle cx="615.6" cy="666.6" r="5.5"/><circle cx="622.1" cy="659.2" r="5.5"/><circle cx="657.7" cy="704.7" r="5.5"/><circle cx="602.5" cy="676.9" r="5.5"/><circle cx="597.4" cy="634.4" r="5.5"/><circle cx="579.4" cy="636.3" r="5.5"/><circle cx="660.9" cy="717.7" r="5.5"/><circle cx="661.6" cy="695.8" r="5.5"/><circle cx="645.9" cy="719.1" r="5.5"/><circle cx="633.5" cy="710.4" r="5.5"/><circle cx="599.5" cy="688.4" r="5.5"/><circle cx="663.3" cy="662.1" r="5.5"/><circle cx="610.3" cy="701.9" r="5.5"/><circle cx="623.3" cy="580.9" r="5.5"/><circle cx="627.6" cy="613.4" r="5.5"/><circle cx="568.4" cy="669.5" r="5.5"/><circle cx="597.4" cy="611.1" r="5.5"/><circle cx="638.2" cy="692.9" r="5.5"/><circle cx="636.6" cy="641.5" r="5.5"/><circle cx="657.9" cy="703.5" r="5.5"/><circle cx="623.2" cy="620.0" r="5.5"/><circle cx="642.4" cy="703.0" r="5.5"/><circle cx="595.2" cy="693.2" r="5.5"/><circle cx="637.7" cy="655.3" r="5.5"/><circle cx="650.6" cy="706.3" r="5.5"/><circle cx="592.1" cy="613.6" r="5.5"/><circle cx="644.6" cy="610.5" r="5.5"/><circle cx="615.7" cy="585.9" r="5.5"/><circle cx="628.2" cy="585.1" r="5.5"/><circle cx="579.6" cy="636.5" r="5.5"/><circle cx="603.9" cy="684.9" r="5.5"/><circle cx="664.5" cy="722.1" r="5.5"/><circle cx="574.1" cy="584.5" r="5.5"/><circle cx="636.6" cy="578.6" r="5.5"/><circle cx="653.4" cy="586.8" r="5.5"/><circle cx="612.1" cy="681.9" r="5.5"/><circle cx="673.6" cy="658.0" r="5.5"/><circle cx="599.6" cy="662.0" r="5.5"/><circle cx="636.3" cy="566.7" r="5.5"/><circle cx="590.9" cy="616.5" r="5.5"/><circle cx="634.4" cy="710.7" r="5.5"/><circle cx="606.3" cy="637.4" r="5.5"/><circle cx="645.1" cy="566.1" r="5.5"/><circle cx="613.8" cy="691.0" r="5.5"/><circle cx="602.3" cy="658.0" r="5.5"/><circle cx="630.2" cy="673.0" r="5.5"/><circle cx="638.1" cy="639.1" r="5.5"/><circle cx="574.1" cy="623.9" r="5.5"/><circle cx="658.7" cy="724.1" r="5.5"/><circle cx="530.0" cy="500.0" r="5.5"/><circle cx="649.1" cy="665.8" r="5.5"/><circle cx="559.2" cy="665.5" r="5.5"/><circle cx="644.9" cy="667.1" r="5.5"/><circle cx="581.4" cy="604.6" r="5.5"/><circle cx="582.1" cy="611.6" r="5.5"/><circle cx="633.8" cy="711.4" r="5.5"/><circle cx="608.7" cy="688.8" r="5.5"/><circle cx="634.6" cy="577.3" r="5.5"/><circle cx="672.0" cy="706.4" r="5.5"/><circle cx="628.8" cy="722.3" r="5.5"/><circle cx="649.9" cy="604.6" r="5.5"/><circle cx="637.0" cy="620.5" r="5.5"/><circle cx="638.2" cy="641.0" r="5.5"/><circle cx="661.1" cy="706.5" r="5.5"/><circle cx="573.5" cy="668.2" r="5.5"/><circle cx="653.0" cy="658.8" r="5.5"/><circle cx="656.3" cy="591.9" r="5.5"/><circle cx="626.4" cy="717.0" r="5.5"/><circle cx="638.0" cy="655.6" r="5.5"/><circle cx="594.3" cy="583.1" r="5.5"/><circle cx="595.5" cy="612.5" r="5.5"/><circle cx="596.0" cy="656.7" r="5.5"/><circle cx="702.0" cy="522.0" r="5.5"/><circle cx="586.5" cy="590.4" r="5.5"/><circle cx="675.1" cy="663.4" r="5.5"/><circle cx="671.2" cy="604.5" r="5.5"/><circle cx="602.2" cy="672.6" r="5.5"/><circle cx="669.3" cy="666.9" r="5.5"/><circle cx="653.6" cy="577.0" r="5.5"/><circle cx="589.0" cy="584.9" r="5.5"/><circle cx="570.2" cy="623.6" r="5.5"/><circle cx="648.6" cy="733.5" r="5.5"/><circle cx="628.5" cy="645.4" r="5.5"/><circle cx="613.2" cy="677.5" r="5.5"/><circle cx="664.0" cy="658.6" r="5.5"/><circle cx="598.2" cy="669.4" r="5.5"/><circle cx="633.5" cy="720.0" r="5.5"/><circle cx="662.5" cy="720.1" r="5.5"/><circle cx="675.6" cy="688.0" r="5.5"/><circle cx="602.3" cy="666.8" r="5.5"/><circle cx="614.2" cy="678.0" r="5.5"/><circle cx="662.1" cy="639.5" r="5.5"/><circle cx="594.2" cy="613.2" r="5.5"/><circle cx="641.9" cy="713.2" r="5.5"/><circle cx="582.0" cy="666.3" r="5.5"/><circle cx="650.2" cy="624.4" r="5.5"/><circle cx="629.0" cy="606.8" r="5.5"/><circle cx="627.1" cy="700.3" r="5.5"/><circle cx="579.7" cy="672.6" r="5.5"/><circle cx="632.4" cy="672.9" r="5.5"/><circle cx="677.6" cy="667.4" r="5.5"/><circle cx="644.5" cy="597.2" r="5.5"/><circle cx="682.8" cy="671.2" r="5.5"/><circle cx="621.8" cy="655.3" r="5.5"/><circle cx="654.7" cy="632.7" r="5.5"/><circle cx="574.7" cy="658.6" r="5.5"/><circle cx="642.8" cy="646.7" r="5.5"/><circle cx="643.2" cy="682.4" r="5.5"/><circle cx="654.3" cy="574.1" r="5.5"/><circle cx="599.1" cy="644.7" r="5.5"/><circle cx="569.3" cy="658.1" r="5.5"/><circle cx="574.8" cy="652.7" r="5.5"/><circle cx="675.2" cy="698.9" r="5.5"/><circle cx="634.8" cy="606.3" r="5.5"/><circle cx="656.9" cy="668.2" r="5.5"/><circle cx="639.3" cy="619.2" r="5.5"/><circle cx="660.5" cy="590.7" r="5.5"/><circle cx="643.8" cy="716.2" r="5.5"/><circle cx="733.3" cy="673.8" r="5.5"/><circle cx="630.6" cy="629.7" r="5.5"/><circle cx="616.1" cy="658.1" r="5.5"/><circle cx="577.2" cy="652.3" r="5.5"/><circle cx="581.2" cy="611.0" r="5.5"/><circle cx="662.3" cy="687.1" r="5.5"/><circle cx="598.0" cy="673.0" r="5.5"/><circle cx="669.7" cy="671.5" r="5.5"/><circle cx="633.6" cy="721.9" r="5.5"/><circle cx="829.0" cy="296.0" r="5.5"/><circle cx="625.1" cy="684.6" r="5.5"/><circle cx="615.3" cy="690.7" r="5.5"/><circle cx="643.0" cy="569.8" r="5.5"/><circle cx="649.7" cy="570.9" r="5.5"/><circle cx="665.3" cy="689.3" r="5.5"/><circle cx="582.6" cy="658.2" r="5.5"/><circle cx="604.7" cy="658.2" r="5.5"/><circle cx="594.3" cy="661.0" r="5.5"/><circle cx="642.1" cy="610.9" r="5.5"/><circle cx="652.5" cy="657.4" r="5.5"/><circle cx="663.4" cy="664.9" r="5.5"/><circle cx="618.3" cy="648.7" r="5.5"/><circle cx="657.6" cy="604.3" r="5.5"/><circle cx="580.7" cy="663.7" r="5.5"/><circle cx="607.1" cy="612.9" r="5.5"/><circle cx="596.0" cy="407.0" r="5.5"/><circle cx="662.3" cy="715.1" r="5.5"/><circle cx="651.1" cy="574.7" r="5.5"/><circle cx="613.5" cy="604.2" r="5.5"/><circle cx="582.6" cy="685.0" r="5.5"/><circle cx="644.4" cy="619.5" r="5.5"/><circle cx="577.6" cy="611.7" r="5.5"/><circle cx="608.0" cy="680.3" r="5.5"/><circle cx="589.2" cy="588.5" r="5.5"/><circle cx="578.5" cy="650.4" r="5.5"/><circle cx="636.1" cy="602.2" r="5.5"/><circle cx="655.2" cy="569.5" r="5.5"/><circle cx="585.6" cy="586.8" r="5.5"/><circle cx="658.3" cy="691.9" r="5.5"/><circle cx="641.2" cy="564.4" r="5.5"/><circle cx="605.2" cy="631.6" r="5.5"/><circle cx="637.2" cy="670.1" r="5.5"/><circle cx="599.3" cy="632.6" r="5.5"/><circle cx="634.9" cy="698.1" r="5.5"/><circle cx="568.4" cy="665.8" r="5.5"/><circle cx="631.3" cy="659.7" r="5.5"/><circle cx="638.8" cy="670.0" r="5.5"/><circle cx="665.2" cy="724.8" r="5.5"/><circle cx="595.6" cy="648.9" r="5.5"/><circle cx="656.3" cy="706.5" r="5.5"/><circle cx="640.6" cy="607.2" r="5.5"/><circle cx="644.9" cy="613.1" r="5.5"/><circle cx="658.8" cy="668.7" r="5.5"/><circle cx="574.3" cy="580.0" r="5.5"/><circle cx="627.0" cy="642.9" r="5.5"/><circle cx="648.3" cy="605.0" r="5.5"/><circle cx="619.1" cy="696.0" r="5.5"/><circle cx="678.6" cy="670.4" r="5.5"/><circle cx="606.7" cy="676.5" r="5.5"/><circle cx="578.4" cy="644.4" r="5.5"/><circle cx="657.2" cy="594.1" r="5.5"/><circle cx="623.3" cy="583.6" r="5.5"/><circle cx="672.2" cy="654.2" r="5.5"/><circle cx="643.0" cy="575.3" r="5.5"/><circle cx="605.6" cy="596.3" r="5.5"/><circle cx="644.5" cy="569.9" r="5.5"/><circle cx="641.8" cy="658.8" r="5.5"/><circle cx="667.0" cy="671.3" r="5.5"/><circle cx="577.5" cy="649.8" r="5.5"/>
</g>
<g class="c19">
<circle cx="369.3" cy="579.4" r="5.5"/><circle cx="442.2" cy="535.7" r="5.5"/><circle cx="404.4" cy="495.4" r="5.5"/><circle cx="468.2" cy="498.7" r="5.5"/><circle cx="397.4" cy="555.0" r="5.5"/><circle cx="430.8" cy="517.7" r="5.5"/><circle cx="387.4" cy="555.8" r="5.5"/><circle cx="430.5" cy="492.6" r="5.5"/><circle cx="455.3" cy="521.1" r="5.5"/><circle cx="444.0" cy="531.0" r="5.5"/><circle cx="405.4" cy="499.6" r="5.5"/><circle cx="423.8" cy="565.9" r="5.5"/><circle cx="403.5" cy="489.9" r="5.5"/><circle cx="440.7" cy="545.5" r="5.5"/><circle cx="440.4" cy="485.9" r="5.5"/><circle cx="422.5" cy="482.0" r="5.5"/><circle cx="456.1" cy="494.6" r="5.5"/><circle cx="399.8" cy="494.8" r="5.5"/><circle cx="457.8" cy="499.7" r="5.5"/><circle cx="411.0" cy="491.8" r="5.5"/><circle cx="365.2" cy="571.5" r="5.5"/><circle cx="383.5" cy="580.4" r="5.5"/><circle cx="414.0" cy="527.5" r="5.5"/><circle cx="455.9" cy="484.7" r="5.5"/><circle cx="453.6" cy="525.6" r="5.5"/><circle cx="456.6" cy="554.4" r="5.5"/><circle cx="440.7" cy="518.1" r="5.5"/><circle cx="390.8" cy="570.2" r="5.5"/><circle cx="424.7" cy="529.3" r="5.5"/><circle cx="445.9" cy="522.7" r="5.5"/><circle cx="401.2" cy="499.2" r="5.5"/><circle cx="438.9" cy="472.2" r="5.5"/><circle cx="422.8" cy="565.4" r="5.5"/><circle cx="391.3" cy="582.3" r="5.5"/><circle cx="398.5" cy="586.1" r="5.5"/><circle cx="376.2" cy="558.9" r="5.5"/><circle cx="433.1" cy="538.8" r="5.5"/><circle cx="422.6" cy="499.3" r="5.5"/><circle cx="379.5" cy="558.5" r="5.5"/><circle cx="429.5" cy="497.2" r="5.5"/><circle cx="443.1" cy="536.5" r="5.5"/><circle cx="446.2" cy="510.2" r="5.5"/><circle cx="361.3" cy="563.5" r="5.5"/><circle cx="375.5" cy="571.9" r="5.5"/><circle cx="406.9" cy="580.9" r="5.5"/><circle cx="374.0" cy="564.9" r="5.5"/><circle cx="436.7" cy="469.6" r="5.5"/><circle cx="426.8" cy="501.8" r="5.5"/><circle cx="418.5" cy="567.4" r="5.5"/><circle cx="412.0" cy="510.7" r="5.5"/><circle cx="378.9" cy="554.7" r="5.5"/><circle cx="403.6" cy="562.3" r="5.5"/><circle cx="388.5" cy="559.3" r="5.5"/><circle cx="400.9" cy="573.1" r="5.5"/><circle cx="382.9" cy="584.6" r="5.5"/><circle cx="405.9" cy="578.3" r="5.5"/><circle cx="369.1" cy="568.8" r="5.5"/><circle cx="454.4" cy="508.9" r="5.5"/><circle cx="419.2" cy="522.4" r="5.5"/><circle cx="400.0" cy="484.6" r="5.5"/><circle cx="419.7" cy="535.2" r="5.5"/><circle cx="423.9" cy="553.1" r="5.5"/><circle cx="466.2" cy="505.9" r="5.5"/><circle cx="427.5" cy="521.6" r="5.5"/><circle cx="435.9" cy="523.3" r="5.5"/><circle cx="468.6" cy="532.7" r="5.5"/><circle cx="439.0" cy="529.1" r="5.5"/><circle cx="434.2" cy="515.5" r="5.5"/><circle cx="396.2" cy="563.3" r="5.5"/><circle cx="410.8" cy="533.0" r="5.5"/><circle cx="378.1" cy="577.2" r="5.5"/><circle cx="374.1" cy="586.3" r="5.5"/><circle cx="451.8" cy="496.1" r="5.5"/><circle cx="423.7" cy="502.8" r="5.5"/><circle cx="449.4" cy="529.5" r="5.5"/><circle cx="419.3" cy="556.9" r="5.5"/><circle cx="399.4" cy="517.9" r="5.5"/><circle cx="379.6" cy="590.7" r="5.5"/><circle cx="413.6" cy="523.3" r="5.5"/><circle cx="364.9" cy="567.8" r="5.5"/><circle cx="416.4" cy="481.6" r="5.5"/><circle cx="400.0" cy="585.8" r="5.5"/><circle cx="452.9" cy="519.7" r="5.5"/><circle cx="428.3" cy="491.9" r="5.5"/><circle cx="400.6" cy="576.9" r="5.5"/><circle cx="417.9" cy="569.6" r="5.5"/><circle cx="393.6" cy="514.9" r="5.5"/><circle cx="473.2" cy="490.7" r="5.5"/><circle cx="383.4" cy="553.7" r="5.5"/><circle cx="354.8" cy="575.7" r="5.5"/><circle cx="417.7" cy="566.3" r="5.5"/><circle cx="365.4" cy="584.6" r="5.5"/><circle cx="438.0" cy="504.3" r="5.5"/><circle cx="385.2" cy="558.7" r="5.5"/><circle cx="385.9" cy="581.6" r="5.5"/><circle cx="371.9" cy="563.4" r="5.5"/><circle cx="415.7" cy="573.1" r="5.5"/><circle cx="345.1" cy="572.8" r="5.5"/><circle cx="398.8" cy="574.4" r="5.5"/><circle cx="402.7" cy="532.5" r="5.5"/><circle cx="428.1" cy="508.2" r="5.5"/><circle cx="378.4" cy="585.6" r="5.5"/><circle cx="421.0" cy="512.5" r="5.5"/><circle cx="462.7" cy="522.6" r="5.5"/><circle cx="448.5" cy="550.6" r="5.5"/><circle cx="415.4" cy="520.5" r="5.5"/><circle cx="419.6" cy="519.0" r="5.5"/><circle cx="434.9" cy="528.3" r="5.5"/><circle cx="475.7" cy="516.4" r="5.5"/><circle cx="456.7" cy="548.1" r="5.5"/><circle cx="410.0" cy="567.6" r="5.5"/><circle cx="442.2" cy="508.5" r="5.5"/><circle cx="367.4" cy="575.2" r="5.5"/><circle cx="465.9" cy="508.5" r="5.5"/><circle cx="432.7" cy="529.4" r="5.5"/><circle cx="425.4" cy="481.4" r="5.5"/><circle cx="370.7" cy="579.7" r="5.5"/><circle cx="396.8" cy="575.1" r="5.5"/><circle cx="425.4" cy="522.2" r="5.5"/><circle cx="431.5" cy="516.9" r="5.5"/><circle cx="431.7" cy="498.2" r="5.5"/><circle cx="466.0" cy="530.2" r="5.5"/><circle cx="472.4" cy="507.8" r="5.5"/><circle cx="461.4" cy="517.8" r="5.5"/><circle cx="464.1" cy="531.2" r="5.5"/><circle cx="393.0" cy="582.4" r="5.5"/><circle cx="454.7" cy="527.3" r="5.5"/><circle cx="359.8" cy="569.3" r="5.5"/><circle cx="374.1" cy="571.6" r="5.5"/><circle cx="415.6" cy="477.4" r="5.5"/><circle cx="437.7" cy="502.6" r="5.5"/><circle cx="463.9" cy="475.0" r="5.5"/><circle cx="385.1" cy="590.1" r="5.5"/><circle cx="429.4" cy="527.1" r="5.5"/><circle cx="431.0" cy="475.9" r="5.5"/><circle cx="424.0" cy="523.0" r="5.5"/><circle cx="427.2" cy="473.8" r="5.5"/><circle cx="417.2" cy="533.6" r="5.5"/><circle cx="369.9" cy="579.5" r="5.5"/><circle cx="422.2" cy="557.3" r="5.5"/><circle cx="441.5" cy="500.9" r="5.5"/><circle cx="413.6" cy="509.8" r="5.5"/><circle cx="416.3" cy="506.8" r="5.5"/><circle cx="369.5" cy="581.5" r="5.5"/><circle cx="425.6" cy="524.4" r="5.5"/><circle cx="441.1" cy="488.3" r="5.5"/><circle cx="429.8" cy="477.7" r="5.5"/><circle cx="394.2" cy="493.9" r="5.5"/><circle cx="412.8" cy="549.5" r="5.5"/><circle cx="415.6" cy="553.3" r="5.5"/><circle cx="369.7" cy="557.9" r="5.5"/><circle cx="439.6" cy="469.0" r="5.5"/><circle cx="435.9" cy="474.9" r="5.5"/><circle cx="413.5" cy="563.8" r="5.5"/><circle cx="388.4" cy="552.5" r="5.5"/><circle cx="434.2" cy="504.3" r="5.5"/><circle cx="451.9" cy="513.8" r="5.5"/><circle cx="436.8" cy="461.7" r="5.5"/><circle cx="420.6" cy="498.2" r="5.5"/><circle cx="410.2" cy="579.1" r="5.5"/><circle cx="395.7" cy="586.2" r="5.5"/><circle cx="396.7" cy="510.9" r="5.5"/><circle cx="481.4" cy="514.1" r="5.5"/><circle cx="425.5" cy="556.8" r="5.5"/><circle cx="458.8" cy="496.2" r="5.5"/><circle cx="420.0" cy="513.9" r="5.5"/><circle cx="389.8" cy="571.6" r="5.5"/><circle cx="467.6" cy="520.7" r="5.5"/><circle cx="388.8" cy="581.9" r="5.5"/><circle cx="451.8" cy="515.8" r="5.5"/><circle cx="405.8" cy="552.7" r="5.5"/><circle cx="453.1" cy="487.9" r="5.5"/><circle cx="371.4" cy="557.9" r="5.5"/><circle cx="435.3" cy="458.4" r="5.5"/><circle cx="409.0" cy="522.7" r="5.5"/><circle cx="438.0" cy="509.4" r="5.5"/><circle cx="377.7" cy="567.8" r="5.5"/><circle cx="408.0" cy="559.7" r="5.5"/><circle cx="360.4" cy="580.7" r="5.5"/><circle cx="427.7" cy="527.4" r="5.5"/><circle cx="435.9" cy="518.0" r="5.5"/><circle cx="383.8" cy="563.1" r="5.5"/><circle cx="387.3" cy="554.4" r="5.5"/><circle cx="407.3" cy="568.0" r="5.5"/><circle cx="407.4" cy="504.0" r="5.5"/><circle cx="416.5" cy="558.3" r="5.5"/>
</g>
<g class="c0">
<circle cx="430.2" cy="282.9" r="5.5"/><circle cx="382.1" cy="261.5" r="5.5"/><circle cx="455.9" cy="261.1" r="5.5"/><circle cx="423.0" cy="279.4" r="5.5"/><circle cx="409.3" cy="219.3" r="5.5"/><circle cx="516.7" cy="270.2" r="5.5"/><circle cx="466.3" cy="249.5" r="5.5"/><circle cx="517.0" cy="323.0" r="5.5"/><circle cx="532.4" cy="161.6" r="5.5"/><circle cx="492.6" cy="244.0" r="5.5"/><circle cx="505.3" cy="198.8" r="5.5"/><circle cx="380.9" cy="246.9" r="5.5"/><circle cx="385.9" cy="226.1" r="5.5"/><circle cx="388.4" cy="271.9" r="5.5"/><circle cx="485.9" cy="249.6" r="5.5"/><circle cx="522.8" cy="282.0" r="5.5"/><circle cx="400.9" cy="251.0" r="5.5"/><circle cx="522.2" cy="303.9" r="5.5"/><circle cx="436.9" cy="242.3" r="5.5"/><circle cx="386.8" cy="272.2" r="5.5"/><circle cx="478.4" cy="259.4" r="5.5"/><circle cx="518.1" cy="251.0" r="5.5"/><circle cx="396.7" cy="251.9" r="5.5"/><circle cx="415.6" cy="203.1" r="5.5"/><circle cx="422.6" cy="190.1" r="5.5"/><circle cx="502.3" cy="155.6" r="5.5"/><circle cx="525.7" cy="171.8" r="5.5"/><circle cx="501.1" cy="286.1" r="5.5"/><circle cx="538.6" cy="233.7" r="5.5"/><circle cx="400.3" cy="271.3" r="5.5"/><circle cx="422.5" cy="283.6" r="5.5"/><circle cx="496.6" cy="191.2" r="5.5"/><circle cx="442.2" cy="224.5" r="5.5"/><circle cx="504.1" cy="286.8" r="5.5"/><circle cx="533.3" cy="171.8" r="5.5"/><circle cx="396.0" cy="318.0" r="5.5"/><circle cx="416.6" cy="294.3" r="5.5"/><circle cx="532.0" cy="240.9" r="5.5"/><circle cx="471.2" cy="274.0" r="5.5"/><circle cx="502.7" cy="268.6" r="5.5"/><circle cx="374.4" cy="268.6" r="5.5"/><circle cx="525.6" cy="272.0" r="5.5"/><circle cx="524.5" cy="268.0" r="5.5"/><circle cx="415.0" cy="194.7" r="5.5"/><circle cx="428.9" cy="253.9" r="5.5"/><circle cx="510.1" cy="209.5" r="5.5"/><circle cx="532.4" cy="212.9" r="5.5"/><circle cx="490.1" cy="262.0" r="5.5"/><circle cx="506.3" cy="257.5" r="5.5"/><circle cx="510.4" cy="232.1" r="5.5"/><circle cx="375.8" cy="242.7" r="5.5"/><circle cx="493.5" cy="209.4" r="5.5"/><circle cx="410.7" cy="250.4" r="5.5"/><circle cx="450.9" cy="259.6" r="5.5"/><circle cx="379.0" cy="273.9" r="5.5"/><circle cx="467.2" cy="270.4" r="5.5"/><circle cx="377.2" cy="236.5" r="5.5"/><circle cx="492.0" cy="169.6" r="5.5"/><circle cx="517.8" cy="276.4" r="5.5"/><circle cx="449.4" cy="244.0" r="5.5"/><circle cx="526.0" cy="287.6" r="5.5"/><circle cx="371.3" cy="250.7" r="5.5"/><circle cx="426.3" cy="211.3" r="5.5"/><circle cx="380.3" cy="230.3" r="5.5"/><circle cx="546.0" cy="176.6" r="5.5"/><circle cx="420.1" cy="310.9" r="5.5"/><circle cx="436.8" cy="198.3" r="5.5"/><circle cx="499.1" cy="257.1" r="5.5"/><circle cx="528.2" cy="288.0" r="5.5"/><circle cx="509.3" cy="238.6" r="5.5"/><circle cx="428.5" cy="184.0" r="5.5"/><circle cx="481.8" cy="241.2" r="5.5"/><circle cx="421.4" cy="189.4" r="5.5"/><circle cx="517.9" cy="232.5" r="5.5"/><circle cx="543.2" cy="171.0" r="5.5"/><circle cx="385.4" cy="267.4" r="5.5"/><circle cx="412.6" cy="253.3" r="5.5"/><circle cx="480.3" cy="257.0" r="5.5"/><circle cx="481.2" cy="275.3" r="5.5"/><circle cx="472.2" cy="266.9" r="5.5"/><circle cx="393.5" cy="255.8" r="5.5"/><circle cx="372.7" cy="252.0" r="5.5"/><circle cx="539.0" cy="199.9" r="5.5"/><circle cx="493.9" cy="172.0" r="5.5"/><circle cx="500.0" cy="259.5" r="5.5"/><circle cx="510.2" cy="291.1" r="5.5"/><circle cx="439.9" cy="266.9" r="5.5"/><circle cx="534.5" cy="210.1" r="5.5"/><circle cx="528.6" cy="206.5" r="5.5"/><circle cx="494.0" cy="258.0" r="5.5"/><circle cx="461.1" cy="256.2" r="5.5"/><circle cx="457.4" cy="276.7" r="5.5"/><circle cx="478.9" cy="255.7" r="5.5"/><circle cx="396.4" cy="258.4" r="5.5"/><circle cx="540.6" cy="183.0" r="5.5"/><circle cx="530.7" cy="210.6" r="5.5"/><circle cx="367.2" cy="243.9" r="5.5"/><circle cx="437.3" cy="190.9" r="5.5"/><circle cx="454.9" cy="272.5" r="5.5"/><circle cx="524.3" cy="179.9" r="5.5"/><circle cx="446.4" cy="261.5" r="5.5"/><circle cx="393.6" cy="257.0" r="5.5"/><circle cx="481.3" cy="240.7" r="5.5"/><circle cx="513.1" cy="298.5" r="5.5"/><circle cx="492.3" cy="256.2" r="5.5"/><circle cx="362.5" cy="282.0" r="5.5"/><circle cx="399.0" cy="225.6" r="5.5"/><circle cx="537.1" cy="218.3" r="5.5"/><circle cx="501.0" cy="275.1" r="5.5"/><circle cx="521.9" cy="285.2" r="5.5"/><circle cx="449.3" cy="185.3" r="5.5"/><circle cx="516.2" cy="251.8" r="5.5"/><circle cx="490.3" cy="200.8" r="5.5"/><circle cx="420.3" cy="287.5" r="5.5"/><circle cx="472.4" cy="277.4" r="5.5"/><circle cx="519.4" cy="220.7" r="5.5"/><circle cx="332.0" cy="335.0" r="5.5"/><circle cx="532.2" cy="209.6" r="5.5"/><circle cx="410.6" cy="263.4" r="5.5"/><circle cx="386.6" cy="261.9" r="5.5"/><circle cx="509.3" cy="166.8" r="5.5"/><circle cx="505.6" cy="254.8" r="5.5"/><circle cx="441.7" cy="298.8" r="5.5"/><circle cx="507.6" cy="194.8" r="5.5"/><circle cx="390.0" cy="251.1" r="5.5"/><circle cx="427.4" cy="205.1" r="5.5"/><circle cx="467.4" cy="264.9" r="5.5"/><circle cx="502.3" cy="235.6" r="5.5"/><circle cx="421.8" cy="251.3" r="5.5"/><circle cx="429.1" cy="236.5" r="5.5"/><circle cx="439.2" cy="257.0" r="5.5"/><circle cx="383.0" cy="260.2" r="5.5"/><circle cx="444.4" cy="278.3" r="5.5"/><circle cx="415.6" cy="179.8" r="5.5"/><circle cx="417.5" cy="213.8" r="5.5"/><circle cx="386.0" cy="231.3" r="5.5"/><circle cx="522.7" cy="276.7" r="5.5"/><circle cx="420.2" cy="206.8" r="5.5"/><circle cx="375.7" cy="257.0" r="5.5"/><circle cx="538.8" cy="245.3" r="5.5"/><circle cx="536.7" cy="252.7" r="5.5"/><circle cx="447.8" cy="257.6" r="5.5"/><circle cx="439.3" cy="212.5" r="5.5"/><circle cx="449.4" cy="248.8" r="5.5"/><circle cx="448.3" cy="266.0" r="5.5"/><circle cx="429.8" cy="209.1" r="5.5"/><circle cx="527.0" cy="272.9" r="5.5"/><circle cx="388.2" cy="251.9" r="5.5"/><circle cx="391.6" cy="274.0" r="5.5"/><circle cx="514.4" cy="206.6" r="5.5"/><circle cx="405.0" cy="195.7" r="5.5"/><circle cx="419.5" cy="246.1" r="5.5"/><circle cx="367.2" cy="246.2" r="5.5"/><circle cx="489.8" cy="180.5" r="5.5"/><circle cx="476.7" cy="265.3" r="5.5"/><circle cx="527.6" cy="194.2" r="5.5"/><circle cx="387.0" cy="242.7" r="5.5"/><circle cx="380.9" cy="248.1" r="5.5"/><circle cx="491.5" cy="254.9" r="5.5"/><circle cx="383.1" cy="263.2" r="5.5"/><circle cx="503.3" cy="240.5" r="5.5"/><circle cx="450.0" cy="264.8" r="5.5"/><circle cx="450.9" cy="245.2" r="5.5"/><circle cx="499.5" cy="226.0" r="5.5"/><circle cx="451.8" cy="239.8" r="5.5"/><circle cx="500.3" cy="317.9" r="5.5"/><circle cx="522.1" cy="277.8" r="5.5"/><circle cx="431.7" cy="282.4" r="5.5"/><circle cx="501.4" cy="204.9" r="5.5"/><circle cx="485.5" cy="244.2" r="5.5"/><circle cx="495.4" cy="313.8" r="5.5"/><circle cx="391.5" cy="250.6" r="5.5"/><circle cx="495.3" cy="270.4" r="5.5"/><circle cx="443.4" cy="188.8" r="5.5"/><circle cx="375.9" cy="231.4" r="5.5"/><circle cx="438.8" cy="186.1" r="5.5"/><circle cx="504.6" cy="195.6" r="5.5"/><circle cx="376.0" cy="238.7" r="5.5"/><circle cx="446.2" cy="190.3" r="5.5"/><circle cx="496.3" cy="264.0" r="5.5"/><circle cx="498.8" cy="204.6" r="5.5"/><circle cx="420.5" cy="199.5" r="5.5"/><circle cx="385.2" cy="225.4" r="5.5"/><circle cx="505.3" cy="291.0" r="5.5"/><circle cx="378.8" cy="237.3" r="5.5"/><circle cx="419.7" cy="182.5" r="5.5"/><circle cx="409.9" cy="181.5" r="5.5"/><circle cx="533.5" cy="174.2" r="5.5"/><circle cx="514.3" cy="204.5" r="5.5"/><circle cx="516.6" cy="277.3" r="5.5"/><circle cx="540.5" cy="195.3" r="5.5"/><circle cx="525.8" cy="210.9" r="5.5"/><circle cx="548.9" cy="271.1" r="5.5"/><circle cx="435.3" cy="229.7" r="5.5"/><circle cx="533.7" cy="270.0" r="5.5"/><circle cx="524.9" cy="223.3" r="5.5"/><circle cx="379.2" cy="247.9" r="5.5"/><circle cx="538.7" cy="236.8" r="5.5"/><circle cx="496.5" cy="239.2" r="5.5"/><circle cx="531.8" cy="249.2" r="5.5"/><circle cx="413.5" cy="202.2" r="5.5"/><circle cx="393.2" cy="252.5" r="5.5"/><circle cx="376.3" cy="217.3" r="5.5"/><circle cx="453.8" cy="247.1" r="5.5"/><circle cx="376.9" cy="241.6" r="5.5"/><circle cx="382.9" cy="254.2" r="5.5"/><circle cx="482.4" cy="260.8" r="5.5"/><circle cx="492.4" cy="166.6" r="5.5"/><circle cx="531.5" cy="231.3" r="5.5"/><circle cx="430.7" cy="184.3" r="5.5"/><circle cx="518.4" cy="245.6" r="5.5"/><circle cx="517.3" cy="211.5" r="5.5"/><circle cx="439.8" cy="219.6" r="5.5"/><circle cx="396.6" cy="254.3" r="5.5"/><circle cx="431.2" cy="276.1" r="5.5"/><circle cx="482.6" cy="253.9" r="5.5"/><circle cx="548.0" cy="285.0" r="5.5"/><circle cx="532.3" cy="184.1" r="5.5"/><circle cx="431.9" cy="225.0" r="5.5"/><circle cx="390.4" cy="253.6" r="5.5"/><circle cx="398.0" cy="248.1" r="5.5"/><circle cx="505.7" cy="170.8" r="5.5"/><circle cx="500.9" cy="206.6" r="5.5"/><circle cx="529.0" cy="261.7" r="5.5"/><circle cx="458.3" cy="293.1" r="5.5"/><circle cx="518.6" cy="199.7" r="5.5"/><circle cx="416.4" cy="326.2" r="5.5"/><circle cx="427.9" cy="260.4" r="5.5"/><circle cx="367.2" cy="252.9" r="5.5"/><circle cx="500.2" cy="190.6" r="5.5"/><circle cx="515.8" cy="214.2" r="5.5"/><circle cx="534.1" cy="229.2" r="5.5"/><circle cx="489.5" cy="241.1" r="5.5"/><circle cx="455.8" cy="264.1" r="5.5"/><circle cx="516.8" cy="173.9" r="5.5"/><circle cx="447.6" cy="225.7" r="5.5"/><circle cx="373.2" cy="246.8" r="5.5"/><circle cx="486.9" cy="278.6" r="5.5"/><circle cx="384.4" cy="249.5" r="5.5"/><circle cx="415.3" cy="278.4" r="5.5"/><circle cx="494.4" cy="224.5" r="5.5"/><circle cx="531.5" cy="249.1" r="5.5"/><circle cx="436.8" cy="284.9" r="5.5"/><circle cx="524.1" cy="261.0" r="5.5"/><circle cx="433.1" cy="236.8" r="5.5"/><circle cx="418.1" cy="288.1" r="5.5"/><circle cx="549.8" cy="190.6" r="5.5"/><circle cx="433.7" cy="215.2" r="5.5"/><circle cx="514.1" cy="249.8" r="5.5"/><circle cx="525.8" cy="256.2" r="5.5"/><circle cx="396.0" cy="246.5" r="5.5"/><circle cx="518.1" cy="263.4" r="5.5"/><circle cx="521.2" cy="207.6" r="5.5"/><circle cx="425.5" cy="187.4" r="5.5"/><circle cx="525.3" cy="253.0" r="5.5"/><circle cx="411.2" cy="192.7" r="5.5"/><circle cx="398.6" cy="269.9" r="5.5"/><circle cx="519.0" cy="326.0" r="5.5"/><circle cx="418.6" cy="201.9" r="5.5"/><circle cx="443.4" cy="247.9" r="5.5"/><circle cx="525.8" cy="205.7" r="5.5"/><circle cx="447.1" cy="265.9" r="5.5"/><circle cx="402.6" cy="271.3" r="5.5"/><circle cx="410.1" cy="221.9" r="5.5"/><circle cx="437.9" cy="258.0" r="5.5"/><circle cx="382.7" cy="261.1" r="5.5"/><circle cx="401.8" cy="274.8" r="5.5"/><circle cx="405.0" cy="211.9" r="5.5"/><circle cx="506.7" cy="169.3" r="5.5"/><circle cx="510.7" cy="289.5" r="5.5"/><circle cx="423.8" cy="258.7" r="5.5"/><circle cx="405.0" cy="272.0" r="5.5"/><circle cx="393.8" cy="237.5" r="5.5"/><circle cx="506.8" cy="189.4" r="5.5"/><circle cx="492.0" cy="252.7" r="5.5"/><circle cx="465.6" cy="264.3" r="5.5"/><circle cx="530.3" cy="293.0" r="5.5"/><circle cx="536.6" cy="277.0" r="5.5"/><circle cx="415.6" cy="243.0" r="5.5"/><circle cx="493.2" cy="272.4" r="5.5"/><circle cx="503.8" cy="215.3" r="5.5"/><circle cx="505.4" cy="167.0" r="5.5"/><circle cx="413.2" cy="221.6" r="5.5"/><circle cx="381.7" cy="241.2" r="5.5"/><circle cx="472.4" cy="275.0" r="5.5"/><circle cx="454.4" cy="237.8" r="5.5"/><circle cx="416.2" cy="192.4" r="5.5"/><circle cx="546.0" cy="181.1" r="5.5"/><circle cx="516.9" cy="257.6" r="5.5"/><circle cx="502.4" cy="173.2" r="5.5"/><circle cx="431.4" cy="257.9" r="5.5"/><circle cx="496.1" cy="182.9" r="5.5"/><circle cx="490.9" cy="187.2" r="5.5"/><circle cx="435.5" cy="241.5" r="5.5"/><circle cx="455.6" cy="248.9" r="5.5"/><circle cx="375.4" cy="223.0" r="5.5"/><circle cx="515.2" cy="195.2" r="5.5"/><circle cx="508.4" cy="273.7" r="5.5"/><circle cx="530.3" cy="185.6" r="5.5"/><circle cx="502.8" cy="292.2" r="5.5"/><circle cx="510.5" cy="263.2" r="5.5"/><circle cx="407.1" cy="213.9" r="5.5"/><circle cx="536.1" cy="244.3" r="5.5"/><circle cx="444.0" cy="238.8" r="5.5"/><circle cx="432.6" cy="257.0" r="5.5"/><circle cx="503.8" cy="298.3" r="5.5"/><circle cx="404.8" cy="194.1" r="5.5"/><circle cx="522.7" cy="222.2" r="5.5"/><circle cx="503.2" cy="266.7" r="5.5"/><circle cx="372.0" cy="260.4" r="5.5"/><circle cx="538.0" cy="250.2" r="5.5"/><circle cx="423.8" cy="194.7" r="5.5"/><circle cx="480.8" cy="240.9" r="5.5"/><circle cx="379.6" cy="226.1" r="5.5"/><circle cx="511.3" cy="228.9" r="5.5"/><circle cx="440.2" cy="231.5" r="5.5"/><circle cx="426.9" cy="225.7" r="5.5"/><circle cx="409.6" cy="231.3" r="5.5"/><circle cx="505.7" cy="197.2" r="5.5"/><circle cx="429.7" cy="294.9" r="5.5"/><circle cx="517.9" cy="224.0" r="5.5"/><circle cx="540.3" cy="203.8" r="5.5"/><circle cx="535.6" cy="268.2" r="5.5"/><circle cx="420.3" cy="194.6" r="5.5"/><circle cx="474.4" cy="277.8" r="5.5"/><circle cx="539.4" cy="253.8" r="5.5"/><circle cx="370.1" cy="259.4" r="5.5"/><circle cx="385.7" cy="249.4" r="5.5"/><circle cx="498.4" cy="280.5" r="5.5"/><circle cx="517.9" cy="190.0" r="5.5"/><circle cx="509.9" cy="252.6" r="5.5"/><circle cx="431.9" cy="270.6" r="5.5"/><circle cx="527.5" cy="164.7" r="5.5"/><circle cx="482.3" cy="169.0" r="5.5"/><circle cx="526.8" cy="293.3" r="5.5"/><circle cx="527.5" cy="293.2" r="5.5"/><circle cx="532.0" cy="242.5" r="5.5"/><circle cx="414.2" cy="312.0" r="5.5"/><circle cx="531.7" cy="196.1" r="5.5"/><circle cx="406.5" cy="280.2" r="5.5"/><circle cx="511.1" cy="304.2" r="5.5"/><circle cx="377.9" cy="245.5" r="5.5"/><circle cx="498.3" cy="198.3" r="5.5"/><circle cx="370.9" cy="240.9" r="5.5"/><circle cx="507.8" cy="217.2" r="5.5"/><circle cx="391.4" cy="230.6" r="5.5"/><circle cx="533.9" cy="244.0" r="5.5"/><circle cx="536.1" cy="274.7" r="5.5"/><circle cx="367.6" cy="261.6" r="5.5"/><circle cx="523.5" cy="221.2" r="5.5"/><circle cx="410.5" cy="223.1" r="5.5"/><circle cx="413.8" cy="254.9" r="5.5"/><circle cx="428.4" cy="227.7" r="5.5"/><circle cx="414.4" cy="309.0" r="5.5"/><circle cx="411.9" cy="260.1" r="5.5"/><circle cx="368.8" cy="249.8" r="5.5"/><circle cx="415.5" cy="196.1" r="5.5"/><circle cx="520.6" cy="226.0" r="5.5"/><circle cx="515.5" cy="261.5" r="5.5"/><circle cx="511.6" cy="234.8" r="5.5"/><circle cx="411.7" cy="259.7" r="5.5"/><circle cx="536.8" cy="189.3" r="5.5"/><circle cx="543.7" cy="268.8" r="5.5"/><circle cx="537.0" cy="239.3" r="5.5"/><circle cx="515.7" cy="302.2" r="5.5"/><circle cx="508.3" cy="230.8" r="5.5"/><circle cx="493.1" cy="216.4" r="5.5"/><circle cx="520.4" cy="264.6" r="5.5"/><circle cx="530.1" cy="276.0" r="5.5"/><circle cx="430.1" cy="220.1" r="5.5"/><circle cx="453.9" cy="245.7" r="5.5"/><circle cx="446.2" cy="250.5" r="5.5"/><circle cx="421.3" cy="200.7" r="5.5"/><circle cx="517.1" cy="261.4" r="5.5"/><circle cx="521.4" cy="188.7" r="5.5"/><circle cx="395.2" cy="252.9" r="5.5"/><circle cx="493.8" cy="220.3" r="5.5"/><circle cx="417.0" cy="255.5" r="5.5"/><circle cx="422.6" cy="214.7" r="5.5"/><circle cx="427.6" cy="260.5" r="5.5"/><circle cx="380.2" cy="272.1" r="5.5"/><circle cx="500.0" cy="176.1" r="5.5"/><circle cx="412.0" cy="202.0" r="5.5"/><circle cx="438.5" cy="256.7" r="5.5"/><circle cx="441.0" cy="188.9" r="5.5"/><circle cx="443.5" cy="233.5" r="5.5"/><circle cx="436.0" cy="210.5" r="5.5"/><circle cx="386.6" cy="256.2" r="5.5"/><circle cx="390.4" cy="237.7" r="5.5"/><circle cx="521.6" cy="267.8" r="5.5"/><circle cx="415.4" cy="212.8" r="5.5"/>
</g>
<g class="c1">
<circle cx="658.4" cy="214.1" r="5.5"/><circle cx="634.4" cy="70.6" r="5.5"/><circle cx="612.7" cy="89.3" r="5.5"/><circle cx="650.5" cy="83.8" r="5.5"/><circle cx="726.2" cy="271.9" r="5.5"/><circle cx="679.7" cy="230.4" r="5.5"/><circle cx="654.2" cy="195.2" r="5.5"/><circle cx="609.5" cy="80.4" r="5.5"/><circle cx="632.4" cy="110.9" r="5.5"/><circle cx="644.1" cy="110.5" r="5.5"/><circle cx="606.7" cy="213.0" r="5.5"/><circle cx="663.6" cy="247.9" r="5.5"/><circle cx="715.0" cy="277.0" r="5.5"/><circle cx="699.5" cy="209.5" r="5.5"/><circle cx="701.5" cy="281.7" r="5.5"/><circle cx="627.0" cy="86.7" r="5.5"/><circle cx="660.2" cy="113.3" r="5.5"/><circle cx="676.5" cy="144.8" r="5.5"/><circle cx="702.8" cy="289.4" r="5.5"/><circle cx="620.5" cy="115.7" r="5.5"/><circle cx="663.3" cy="79.1" r="5.5"/><circle cx="614.5" cy="106.7" r="5.5"/><circle cx="671.1" cy="179.6" r="5.5"/><circle cx="665.7" cy="235.3" r="5.5"/><circle cx="596.7" cy="204.3" r="5.5"/><circle cx="639.0" cy="121.2" r="5.5"/><circle cx="635.1" cy="102.3" r="5.5"/><circle cx="622.8" cy="86.5" r="5.5"/><circle cx="652.9" cy="227.8" r="5.5"/><circle cx="646.3" cy="125.8" r="5.5"/><circle cx="672.6" cy="241.7" r="5.5"/><circle cx="610.0" cy="83.0" r="5.5"/><circle cx="635.7" cy="144.4" r="5.5"/><circle cx="656.8" cy="191.2" r="5.5"/><circle cx="665.8" cy="162.5" r="5.5"/><circle cx="654.2" cy="174.4" r="5.5"/><circle cx="608.1" cy="93.0" r="5.5"/><circle cx="618.8" cy="80.1" r="5.5"/><circle cx="619.0" cy="121.1" r="5.5"/><circle cx="633.8" cy="138.3" r="5.5"/><circle cx="592.1" cy="236.8" r="5.5"/><circle cx="651.0" cy="197.4" r="5.5"/><circle cx="677.9" cy="249.7" r="5.5"/><circle cx="670.5" cy="242.0" r="5.5"/><circle cx="682.6" cy="250.6" r="5.5"/><circle cx="617.6" cy="92.9" r="5.5"/><circle cx="601.9" cy="206.8" r="5.5"/><circle cx="656.7" cy="70.7" r="5.5"/><circle cx="656.5" cy="101.1" r="5.5"/><circle cx="635.2" cy="132.8" r="5.5"/><circle cx="643.9" cy="185.3" r="5.5"/><circle cx="643.3" cy="224.1" r="5.5"/><circle cx="656.1" cy="154.1" r="5.5"/><circle cx="653.1" cy="163.8" r="5.5"/><circle cx="682.5" cy="189.9" r="5.5"/><circle cx="649.2" cy="93.1" r="5.5"/><circle cx="640.4" cy="187.2" r="5.5"/><circle cx="713.3" cy="268.7" r="5.5"/><circle cx="627.3" cy="94.3" r="5.5"/><circle cx="665.7" cy="103.1" r="5.5"/><circle cx="685.0" cy="160.5" r="5.5"/><circle cx="673.7" cy="129.1" r="5.5"/><circle cx="637.9" cy="215.0" r="5.5"/><circle cx="666.2" cy="231.6" r="5.5"/><circle cx="675.2" cy="159.1" r="5.5"/><circle cx="691.4" cy="244.9" r="5.5"/><circle cx="651.9" cy="188.6" r="5.5"/><circle cx="695.7" cy="167.4" r="5.5"/><circle cx="636.7" cy="203.0" r="5.5"/><circle cx="686.3" cy="166.8" r="5.5"/><circle cx="591.5" cy="231.8" r="5.5"/><circle cx="646.8" cy="202.4" r="5.5"/><circle cx="651.8" cy="67.0" r="5.5"/><circle cx="666.9" cy="94.3" r="5.5"/><circle cx="637.3" cy="177.6" r="5.5"/><circle cx="639.4" cy="127.7" r="5.5"/><circle cx="685.9" cy="197.5" r="5.5"/><circle cx="626.9" cy="198.6" r="5.5"/><circle cx="689.5" cy="192.9" r="5.5"/><circle cx="613.5" cy="92.2" r="5.5"/><circle cx="643.8" cy="93.9" r="5.5"/><circle cx="683.2" cy="117.9" r="5.5"/><circle cx="604.6" cy="89.0" r="5.5"/><circle cx="659.5" cy="187.2" r="5.5"/><circle cx="651.4" cy="222.6" r="5.5"/><circle cx="632.8" cy="63.4" r="5.5"/><circle cx="657.0" cy="250.5" r="5.5"/><circle cx="666.2" cy="221.6" r="5.5"/><circle cx="642.7" cy="248.9" r="5.5"/><circle cx="655.2" cy="170.9" r="5.5"/><circle cx="659.2" cy="153.0" r="5.5"/><circle cx="651.5" cy="252.2" r="5.5"/><circle cx="804.5" cy="299.0" r="5.5"/><circle cx="646.2" cy="109.9" r="5.5"/><circle cx="673.9" cy="170.3" r="5.5"/><circle cx="650.4" cy="248.1" r="5.5"/><circle cx="619.0" cy="71.6" r="5.5"/><circle cx="638.4" cy="117.7" r="5.5"/><circle cx="595.8" cy="235.0" r="5.5"/><circle cx="695.4" cy="207.8" r="5.5"/><circle cx="660.8" cy="116.4" r="5.5"/><circle cx="666.7" cy="239.6" r="5.5"/><circle cx="654.0" cy="183.2" r="5.5"/><circle cx="631.3" cy="109.3" r="5.5"/><circle cx="726.9" cy="256.5" r="5.5"/><circle cx="602.8" cy="215.1" r="5.5"/><circle cx="632.0" cy="183.6" r="5.5"/><circle cx="625.1" cy="171.2" r="5.5"/><circle cx="627.4" cy="136.2" r="5.5"/><circle cx="622.0" cy="168.7" r="5.5"/><circle cx="656.5" cy="89.7" r="5.5"/><circle cx="663.3" cy="190.9" r="5.5"/><circle cx="664.8" cy="85.8" r="5.5"/><circle cx="646.7" cy="213.3" r="5.5"/><circle cx="666.0" cy="147.7" r="5.5"/><circle cx="637.5" cy="81.0" r="5.5"/><circle cx="671.9" cy="242.9" r="5.5"/><circle cx="692.0" cy="226.8" r="5.5"/><circle cx="623.8" cy="65.6" r="5.5"/><circle cx="653.3" cy="247.5" r="5.5"/><circle cx="653.9" cy="55.4" r="5.5"/><circle cx="683.0" cy="245.8" r="5.5"/><circle cx="634.5" cy="197.8" r="5.5"/><circle cx="686.9" cy="197.4" r="5.5"/><circle cx="641.3" cy="204.2" r="5.5"/><circle cx="661.9" cy="220.7" r="5.5"/><circle cx="651.5" cy="185.3" r="5.5"/><circle cx="655.8" cy="195.0" r="5.5"/><circle cx="640.4" cy="210.3" r="5.5"/><circle cx="609.2" cy="85.3" r="5.5"/><circle cx="701.3" cy="268.2" r="5.5"/><circle cx="649.2" cy="111.5" r="5.5"/><circle cx="604.7" cy="199.1" r="5.5"/><circle cx="698.2" cy="244.0" r="5.5"/><circle cx="637.4" cy="234.5" r="5.5"/><circle cx="638.8" cy="177.4" r="5.5"/><circle cx="621.8" cy="60.4" r="5.5"/><circle cx="663.2" cy="139.5" r="5.5"/><circle cx="700.2" cy="158.3" r="5.5"/><circle cx="638.2" cy="92.3" r="5.5"/><circle cx="622.2" cy="200.5" r="5.5"/><circle cx="687.7" cy="225.0" r="5.5"/><circle cx="632.5" cy="202.0" r="5.5"/><circle cx="658.2" cy="172.8" r="5.5"/><circle cx="630.2" cy="219.2" r="5.5"/><circle cx="631.8" cy="178.3" r="5.5"/><circle cx="632.2" cy="120.2" r="5.5"/><circle cx="634.6" cy="63.3" r="5.5"/><circle cx="685.5" cy="205.8" r="5.5"/><circle cx="662.4" cy="79.2" r="5.5"/><circle cx="643.3" cy="80.4" r="5.5"/><circle cx="682.6" cy="215.9" r="5.5"/><circle cx="638.7" cy="201.0" r="5.5"/><circle cx="689.3" cy="160.9" r="5.5"/><circle cx="673.8" cy="255.5" r="5.5"/><circle cx="695.4" cy="228.1" r="5.5"/><circle cx="597.9" cy="221.5" r="5.5"/><circle cx="623.5" cy="168.8" r="5.5"/><circle cx="648.7" cy="136.0" r="5.5"/><circle cx="672.9" cy="84.1" r="5.5"/><circle cx="660.1" cy="166.4" r="5.5"/><circle cx="617.5" cy="116.1" r="5.5"/><circle cx="637.7" cy="228.4" r="5.5"/><circle cx="618.5" cy="151.8" r="5.5"/><circle cx="663.2" cy="117.9" r="5.5"/><circle cx="669.4" cy="90.6" r="5.5"/><circle cx="662.5" cy="89.4" r="5.5"/><circle cx="632.3" cy="121.0" r="5.5"/><circle cx="670.7" cy="168.5" r="5.5"/><circle cx="623.5" cy="68.2" r="5.5"/><circle cx="638.1" cy="240.7" r="5.5"/><circle cx="637.9" cy="175.7" r="5.5"/><circle cx="670.8" cy="171.2" r="5.5"/><circle cx="666.1" cy="229.2" r="5.5"/><circle cx="650.7" cy="121.4" r="5.5"/><circle cx="675.3" cy="161.3" r="5.5"/><circle cx="648.4" cy="237.3" r="5.5"/><circle cx="648.4" cy="191.9" r="5.5"/><circle cx="650.1" cy="82.9" r="5.5"/><circle cx="673.1" cy="200.0" r="5.5"/><circle cx="619.1" cy="169.7" r="5.5"/><circle cx="664.0" cy="232.5" r="5.5"/><circle cx="660.6" cy="98.4" r="5.5"/><circle cx="633.8" cy="169.3" r="5.5"/><circle cx="648.0" cy="129.9" r="5.5"/><circle cx="699.4" cy="285.1" r="5.5"/><circle cx="675.2" cy="212.4" r="5.5"/><circle cx="675.9" cy="231.4" r="5.5"/><circle cx="643.1" cy="166.2" r="5.5"/><circle cx="692.1" cy="158.2" r="5.5"/><circle cx="638.7" cy="209.4" r="5.5"/><circle cx="684.6" cy="181.0" r="5.5"/><circle cx="681.2" cy="137.4" r="5.5"/><circle cx="682.5" cy="198.2" r="5.5"/><circle cx="629.0" cy="199.7" r="5.5"/><circle cx="705.6" cy="259.1" r="5.5"/><circle cx="639.1" cy="77.0" r="5.5"/><circle cx="669.6" cy="243.5" r="5.5"/><circle cx="661.3" cy="201.2" r="5.5"/><circle cx="649.1" cy="239.9" r="5.5"/><circle cx="650.0" cy="67.9" r="5.5"/><circle cx="671.4" cy="165.3" r="5.5"/><circle cx="653.5" cy="109.6" r="5.5"/><circle cx="668.0" cy="234.0" r="5.5"/><circle cx="640.6" cy="165.2" r="5.5"/><circle cx="657.1" cy="69.6" r="5.5"/><circle cx="694.6" cy="222.5" r="5.5"/><circle cx="662.4" cy="214.2" r="5.5"/><circle cx="651.9" cy="184.4" r="5.5"/><circle cx="685.1" cy="244.1" r="5.5"/><circle cx="638.5" cy="140.9" r="5.5"/><circle cx="654.6" cy="194.1" r="5.5"/><circle cx="691.3" cy="250.5" r="5.5"/><circle cx="673.1" cy="204.5" r="5.5"/><circle cx="637.1" cy="143.6" r="5.5"/><circle cx="725.0" cy="264.2" r="5.5"/><circle cx="633.7" cy="164.3" r="5.5"/><circle cx="656.0" cy="110.1" r="5.5"/><circle cx="663.8" cy="195.9" r="5.5"/><circle cx="648.1" cy="170.7" r="5.5"/><circle cx="633.7" cy="237.9" r="5.5"/><circle cx="654.9" cy="111.4" r="5.5"/><circle cx="709.3" cy="267.3" r="5.5"/><circle cx="713.8" cy="268.6" r="5.5"/><circle cx="690.2" cy="231.0" r="5.5"/><circle cx="688.6" cy="205.6" r="5.5"/><circle cx="664.7" cy="232.6" r="5.5"/><circle cx="641.4" cy="229.1" r="5.5"/><circle cx="673.4" cy="219.7" r="5.5"/><circle cx="625.3" cy="72.7" r="5.5"/><circle cx="632.1" cy="90.9" r="5.5"/><circle cx="642.6" cy="115.8" r="5.5"/><circle cx="671.9" cy="196.0" r="5.5"/><circle cx="670.2" cy="118.7" r="5.5"/><circle cx="641.5" cy="139.4" r="5.5"/><circle cx="627.8" cy="115.2" r="5.5"/><circle cx="671.5" cy="165.1" r="5.5"/><circle cx="649.2" cy="196.5" r="5.5"/><circle cx="670.6" cy="187.9" r="5.5"/><circle cx="650.6" cy="155.6" r="5.5"/><circle cx="664.6" cy="186.7" r="5.5"/><circle cx="685.7" cy="169.3" r="5.5"/><circle cx="668.6" cy="205.7" r="5.5"/><circle cx="632.0" cy="147.4" r="5.5"/><circle cx="664.0" cy="168.0" r="5.5"/><circle cx="673.2" cy="231.1" r="5.5"/><circle cx="637.7" cy="71.6" r="5.5"/><circle cx="670.8" cy="127.5" r="5.5"/><circle cx="725.0" cy="258.5" r="5.5"/><circle cx="621.7" cy="99.1" r="5.5"/><circle cx="654.0" cy="158.6" r="5.5"/><circle cx="645.9" cy="179.9" r="5.5"/><circle cx="602.6" cy="80.3" r="5.5"/><circle cx="636.0" cy="215.2" r="5.5"/><circle cx="667.6" cy="133.1" r="5.5"/><circle cx="653.3" cy="136.3" r="5.5"/><circle cx="647.0" cy="102.0" r="5.5"/><circle cx="728.5" cy="267.1" r="5.5"/><circle cx="661.6" cy="191.1" r="5.5"/><circle cx="705.7" cy="267.3" r="5.5"/><circle cx="641.8" cy="192.9" r="5.5"/><circle cx="656.4" cy="118.1" r="5.5"/><circle cx="654.2" cy="218.7" r="5.5"/><circle cx="651.6" cy="206.6" r="5.5"/><circle cx="664.7" cy="224.2" r="5.5"/><circle cx="618.7" cy="92.8" r="5.5"/><circle cx="643.6" cy="219.1" r="5.5"/><circle cx="609.9" cy="75.7" r="5.5"/><circle cx="659.3" cy="126.9" r="5.5"/><circle cx="662.4" cy="232.4" r="5.5"/><circle cx="646.0" cy="110.2" r="5.5"/><circle cx="661.1" cy="202.5" r="5.5"/><circle cx="655.7" cy="99.7" r="5.5"/><circle cx="648.9" cy="245.5" r="5.5"/><circle cx="646.0" cy="135.6" r="5.5"/><circle cx="656.4" cy="76.9" r="5.5"/><circle cx="605.0" cy="89.6" r="5.5"/><circle cx="648.0" cy="146.1" r="5.5"/><circle cx="642.4" cy="187.8" r="5.5"/><circle cx="628.8" cy="132.6" r="5.5"/><circle cx="611.0" cy="75.1" r="5.5"/><circle cx="642.7" cy="62.1" r="5.5"/><circle cx="631.0" cy="74.1" r="5.5"/><circle cx="638.4" cy="71.9" r="5.5"/><circle cx="655.5" cy="128.1" r="5.5"/><circle cx="610.5" cy="80.7" r="5.5"/><circle cx="647.9" cy="126.2" r="5.5"/><circle cx="665.5" cy="223.0" r="5.5"/><circle cx="631.0" cy="124.0" r="5.5"/><circle cx="675.2" cy="206.2" r="5.5"/><circle cx="625.9" cy="70.0" r="5.5"/><circle cx="633.6" cy="66.2" r="5.5"/><circle cx="689.3" cy="231.5" r="5.5"/><circle cx="697.9" cy="168.4" r="5.5"/><circle cx="688.1" cy="178.9" r="5.5"/><circle cx="659.2" cy="96.1" r="5.5"/><circle cx="662.3" cy="241.8" r="5.5"/><circle cx="639.6" cy="214.7" r="5.5"/><circle cx="616.6" cy="233.7" r="5.5"/><circle cx="617.8" cy="112.6" r="5.5"/><circle cx="628.5" cy="148.5" r="5.5"/><circle cx="666.7" cy="90.7" r="5.5"/><circle cx="675.3" cy="256.8" r="5.5"/><circle cx="631.0" cy="91.9" r="5.5"/><circle cx="629.6" cy="205.3" r="5.5"/><circle cx="673.6" cy="216.8" r="5.5"/><circle cx="655.5" cy="251.3" r="5.5"/><circle cx="629.5" cy="92.0" r="5.5"/><circle cx="670.9" cy="237.9" r="5.5"/><circle cx="647.3" cy="122.0" r="5.5"/><circle cx="658.9" cy="75.2" r="5.5"/><circle cx="619.9" cy="70.1" r="5.5"/><circle cx="664.8" cy="184.8" r="5.5"/><circle cx="622.1" cy="156.8" r="5.5"/><circle cx="671.8" cy="189.5" r="5.5"/><circle cx="620.6" cy="107.7" r="5.5"/><circle cx="635.1" cy="214.6" r="5.5"/><circle cx="655.2" cy="120.7" r="5.5"/><circle cx="677.6" cy="148.9" r="5.5"/><circle cx="649.0" cy="65.1" r="5.5"/><circle cx="676.8" cy="187.1" r="5.5"/><circle cx="681.8" cy="193.3" r="5.5"/><circle cx="621.3" cy="120.2" r="5.5"/><circle cx="638.7" cy="207.8" r="5.5"/><circle cx="648.3" cy="71.4" r="5.5"/><circle cx="727.5" cy="259.5" r="5.5"/><circle cx="679.2" cy="163.4" r="5.5"/><circle cx="637.9" cy="83.2" r="5.5"/><circle cx="689.4" cy="227.5" r="5.5"/><circle cx="660.9" cy="181.7" r="5.5"/><circle cx="664.2" cy="189.3" r="5.5"/><circle cx="651.9" cy="202.4" r="5.5"/><circle cx="600.5" cy="97.6" r="5.5"/><circle cx="642.8" cy="220.8" r="5.5"/><circle cx="697.5" cy="265.1" r="5.5"/><circle cx="675.2" cy="235.5" r="5.5"/><circle cx="630.2" cy="115.6" r="5.5"/><circle cx="674.3" cy="164.0" r="5.5"/><circle cx="626.1" cy="71.7" r="5.5"/><circle cx="655.9" cy="202.8" r="5.5"/><circle cx="621.1" cy="76.6" r="5.5"/><circle cx="643.0" cy="212.9" r="5.5"/><circle cx="656.7" cy="160.5" r="5.5"/><circle cx="663.4" cy="132.7" r="5.5"/><circle cx="628.4" cy="94.0" r="5.5"/><circle cx="654.6" cy="151.2" r="5.5"/><circle cx="615.0" cy="235.5" r="5.5"/><circle cx="646.6" cy="127.5" r="5.5"/><circle cx="645.0" cy="76.9" r="5.5"/><circle cx="678.5" cy="166.9" r="5.5"/><circle cx="686.4" cy="228.4" r="5.5"/><circle cx="625.2" cy="172.4" r="5.5"/><circle cx="646.7" cy="186.5" r="5.5"/><circle cx="654.5" cy="193.8" r="5.5"/><circle cx="641.9" cy="141.1" r="5.5"/><circle cx="611.5" cy="90.1" r="5.5"/><circle cx="628.8" cy="93.3" r="5.5"/><circle cx="655.2" cy="119.0" r="5.5"/><circle cx="636.9" cy="103.4" r="5.5"/><circle cx="696.2" cy="234.4" r="5.5"/><circle cx="695.6" cy="226.4" r="5.5"/><circle cx="636.5" cy="181.6" r="5.5"/><circle cx="688.5" cy="164.5" r="5.5"/><circle cx="609.8" cy="71.7" r="5.5"/>
</g>
<g class="c2">
<circle cx="860.8" cy="195.2" r="5.5"/><circle cx="859.0" cy="254.2" r="5.5"/><circle cx="806.0" cy="272.5" r="5.5"/><circle cx="795.2" cy="280.4" r="5.5"/><circle cx="863.5" cy="243.0" r="5.5"/><circle cx="801.3" cy="282.0" r="5.5"/><circle cx="788.6" cy="219.7" r="5.5"/><circle cx="879.4" cy="199.4" r="5.5"/><circle cx="809.1" cy="213.3" r="5.5"/><circle cx="821.7" cy="270.6" r="5.5"/><circle cx="797.5" cy="266.5" r="5.5"/><circle cx="858.1" cy="251.0" r="5.5"/><circle cx="803.5" cy="272.8" r="5.5"/><circle cx="849.2" cy="223.9" r="5.5"/><circle cx="880.9" cy="205.0" r="5.5"/><circle cx="844.1" cy="168.4" r="5.5"/><circle cx="813.4" cy="223.5" r="5.5"/><circle cx="868.0" cy="158.5" r="5.5"/><circle cx="810.7" cy="245.2" r="5.5"/><circle cx="792.0" cy="232.2" r="5.5"/><circle cx="815.8" cy="189.6" r="5.5"/><circle cx="828.3" cy="235.8" r="5.5"/><circle cx="787.5" cy="208.6" r="5.5"/><circle cx="850.7" cy="222.3" r="5.5"/><circle cx="806.7" cy="284.7" r="5.5"/><circle cx="836.9" cy="210.8" r="5.5"/><circle cx="810.8" cy="234.9" r="5.5"/><circle cx="841.9" cy="187.5" r="5.5"/><circle cx="834.3" cy="196.1" r="5.5"/><circle cx="804.3" cy="226.5" r="5.5"/><circle cx="833.1" cy="257.5" r="5.5"/><circle cx="867.2" cy="245.8" r="5.5"/><circle cx="794.9" cy="219.0" r="5.5"/><circle cx="876.8" cy="160.7" r="5.5"/><circle cx="850.2" cy="253.8" r="5.5"/><circle cx="876.2" cy="194.5" r="5.5"/><circle cx="788.3" cy="222.0" r="5.5"/><circle cx="831.2" cy="212.1" r="5.5"/><circle cx="827.4" cy="273.4" r="5.5"/><circle cx="877.2" cy="163.9" r="5.5"/><circle cx="808.4" cy="239.4" r="5.5"/><circle cx="862.7" cy="227.1" r="5.5"/><circle cx="819.3" cy="270.7" r="5.5"/><circle cx="818.0" cy="249.8" r="5.5"/><circle cx="832.9" cy="231.4" r="5.5"/><circle cx="819.8" cy="250.4" r="5.5"/><circle cx="798.3" cy="277.7" r="5.5"/><circle cx="825.6" cy="172.9" r="5.5"/><circle cx="862.3" cy="166.0" r="5.5"/><circle cx="810.1" cy="198.6" r="5.5"/><circle cx="796.6" cy="253.5" r="5.5"/><circle cx="846.0" cy="223.0" r="5.5"/><circle cx="864.9" cy="253.7" r="5.5"/><circle cx="794.2" cy="238.5" r="5.5"/><circle cx="850.8" cy="226.7" r="5.5"/><circle cx="842.4" cy="208.0" r="5.5"/><circle cx="870.8" cy="177.7" r="5.5"/><circle cx="815.9" cy="260.8" r="5.5"/><circle cx="829.9" cy="203.5" r="5.5"/><circle cx="797.9" cy="236.3" r="5.5"/><circle cx="817.7" cy="200.1" r="5.5"/><circle cx="858.3" cy="175.7" r="5.5"/><circle cx="834.2" cy="266.1" r="5.5"/><circle cx="813.2" cy="206.1" r="5.5"/><circle cx="857.6" cy="161.8" r="5.5"/><circle cx="830.9" cy="205.4" r="5.5"/><circle cx="808.3" cy="235.9" r="5.5"/><circle cx="837.4" cy="268.1" r="5.5"/><circle cx="812.0" cy="233.3" r="5.5"/><circle cx="834.1" cy="259.3" r="5.5"/><circle cx="850.0" cy="260.7" r="5.5"/><circle cx="866.9" cy="202.9" r="5.5"/><circle cx="825.8" cy="201.4" r="5.5"/><circle cx="789.7" cy="272.3" r="5.5"/><circle cx="828.7" cy="232.7" r="5.5"/><circle cx="866.0" cy="273.8" r="5.5"/><circle cx="805.1" cy="240.0" r="5.5"/><circle cx="842.9" cy="224.2" r="5.5"/><circle cx="826.3" cy="188.1" r="5.5"/><circle cx="853.5" cy="240.9" r="5.5"/><circle cx="881.9" cy="185.2" r="5.5"/><circle cx="832.8" cy="232.5" r="5.5"/><circle cx="784.1" cy="216.8" r="5.5"/><circle cx="881.5" cy="167.1" r="5.5"/><circle cx="852.8" cy="182.5" r="5.5"/><circle cx="813.9" cy="206.5" r="5.5"/><circle cx="873.6" cy="206.9" r="5.5"/><circle cx="824.2" cy="221.1" r="5.5"/><circle cx="838.2" cy="184.7" r="5.5"/><circle cx="829.6" cy="204.1" r="5.5"/><circle cx="795.0" cy="263.1" r="5.5"/><circle cx="841.6" cy="173.0" r="5.5"/><circle cx="863.6" cy="183.6" r="5.5"/><circle cx="817.2" cy="231.3" r="5.5"/><circle cx="846.9" cy="227.7" r="5.5"/><circle cx="853.6" cy="172.7" r="5.5"/><circle cx="866.1" cy="267.3" r="5.5"/><circle cx="863.5" cy="239.5" r="5.5"/><circle cx="810.0" cy="229.4" r="5.5"/><circle cx="795.7" cy="250.3" r="5.5"/><circle cx="837.9" cy="262.3" r="5.5"/><circle cx="796.7" cy="249.0" r="5.5"/><circle cx="823.7" cy="270.6" r="5.5"/><circle cx="877.7" cy="210.8" r="5.5"/><circle cx="793.3" cy="236.4" r="5.5"/><circle cx="853.4" cy="220.7" r="5.5"/><circle cx="820.4" cy="179.7" r="5.5"/><circle cx="806.0" cy="226.2" r="5.5"/><circle cx="784.4" cy="202.8" r="5.5"/><circle cx="813.1" cy="251.4" r="5.5"/><circle cx="863.8" cy="267.8" r="5.5"/><circle cx="799.4" cy="273.9" r="5.5"/><circle cx="842.7" cy="242.6" r="5.5"/><circle cx="809.5" cy="195.8" r="5.5"/><circle cx="807.2" cy="208.9" r="5.5"/><circle cx="794.2" cy="278.5" r="5.5"/><circle cx="870.3" cy="253.3" r="5.5"/><circle cx="810.0" cy="224.0" r="5.5"/><circle cx="853.3" cy="250.7" r="5.5"/><circle cx="812.2" cy="189.7" r="5.5"/><circle cx="837.4" cy="180.9" r="5.5"/><circle cx="828.4" cy="206.0" r="5.5"/><circle cx="802.8" cy="227.5" r="5.5"/><circle cx="869.8" cy="178.8" r="5.5"/><circle cx="811.5" cy="232.0" r="5.5"/><circle cx="879.8" cy="163.3" r="5.5"/><circle cx="824.8" cy="190.0" r="5.5"/><circle cx="803.2" cy="267.8" r="5.5"/><circle cx="828.9" cy="192.1" r="5.5"/><circle cx="873.7" cy="211.1" r="5.5"/><circle cx="804.7" cy="280.6" r="5.5"/><circle cx="862.2" cy="254.0" r="5.5"/><circle cx="830.5" cy="167.0" r="5.5"/><circle cx="802.2" cy="202.0" r="5.5"/><circle cx="837.3" cy="224.8" r="5.5"/><circle cx="787.4" cy="241.4" r="5.5"/><circle cx="862.0" cy="172.8" r="5.5"/><circle cx="800.6" cy="215.6" r="5.5"/><circle cx="824.7" cy="242.0" r="5.5"/><circle cx="808.7" cy="216.3" r="5.5"/><circle cx="829.8" cy="216.9" r="5.5"/><circle cx="866.6" cy="181.6" r="5.5"/><circle cx="850.4" cy="177.7" r="5.5"/><circle cx="857.5" cy="248.5" r="5.5"/><circle cx="852.4" cy="180.4" r="5.5"/><circle cx="819.6" cy="204.8" r="5.5"/><circle cx="826.1" cy="201.5" r="5.5"/><circle cx="799.9" cy="193.9" r="5.5"/><circle cx="790.0" cy="235.0" r="5.5"/><circle cx="835.3" cy="182.2" r="5.5"/><circle cx="824.7" cy="198.1" r="5.5"/><circle cx="811.4" cy="271.5" r="5.5"/><circle cx="833.6" cy="228.9" r="5.5"/><circle cx="823.9" cy="218.9" r="5.5"/><circle cx="881.3" cy="156.7" r="5.5"/><circle cx="786.3" cy="231.0" r="5.5"/><circle cx="812.1" cy="267.6" r="5.5"/><circle cx="845.1" cy="184.0" r="5.5"/><circle cx="875.1" cy="172.4" r="5.5"/><circle cx="834.5" cy="169.2" r="5.5"/><circle cx="831.3" cy="229.3" r="5.5"/><circle cx="853.3" cy="248.2" r="5.5"/><circle cx="803.9" cy="220.5" r="5.5"/><circle cx="860.6" cy="191.3" r="5.5"/><circle cx="824.0" cy="217.4" r="5.5"/><circle cx="849.6" cy="233.9" r="5.5"/><circle cx="862.0" cy="162.9" r="5.5"/><circle cx="831.1" cy="220.7" r="5.5"/><circle cx="828.6" cy="211.1" r="5.5"/><circle cx="803.6" cy="239.2" r="5.5"/><circle cx="811.7" cy="234.1" r="5.5"/><circle cx="866.8" cy="193.9" r="5.5"/><circle cx="871.9" cy="169.4" r="5.5"/><circle cx="867.3" cy="176.4" r="5.5"/><circle cx="843.5" cy="202.7" r="5.5"/><circle cx="802.5" cy="238.0" r="5.5"/><circle cx="821.4" cy="269.0" r="5.5"/><circle cx="807.3" cy="228.1" r="5.5"/><circle cx="836.8" cy="221.7" r="5.5"/><circle cx="812.4" cy="214.6" r="5.5"/><circle cx="800.6" cy="265.4" r="5.5"/><circle cx="856.3" cy="228.5" r="5.5"/><circle cx="862.8" cy="220.0" r="5.5"/><circle cx="870.9" cy="173.8" r="5.5"/><circle cx="801.4" cy="224.1" r="5.5"/><circle cx="813.7" cy="241.4" r="5.5"/><circle cx="800.7" cy="233.7" r="5.5"/><circle cx="794.3" cy="245.3" r="5.5"/><circle cx="803.9" cy="252.3" r="5.5"/><circle cx="824.8" cy="210.1" r="5.5"/><circle cx="826.2" cy="208.3" r="5.5"/><circle cx="844.7" cy="227.8" r="5.5"/><circle cx="785.9" cy="264.2" r="5.5"/><circle cx="841.4" cy="167.5" r="5.5"/><circle cx="867.5" cy="227.0" r="5.5"/><circle cx="824.9" cy="222.0" r="5.5"/><circle cx="844.1" cy="164.3" r="5.5"/><circle cx="792.9" cy="207.4" r="5.5"/><circle cx="832.4" cy="205.2" r="5.5"/><circle cx="869.5" cy="254.1" r="5.5"/><circle cx="809.6" cy="236.2" r="5.5"/><circle cx="856.3" cy="203.1" r="5.5"/><circle cx="853.2" cy="179.9" r="5.5"/><circle cx="864.3" cy="241.8" r="5.5"/><circle cx="807.4" cy="196.1" r="5.5"/><circle cx="822.5" cy="207.0" r="5.5"/><circle cx="804.0" cy="273.6" r="5.5"/><circle cx="859.0" cy="251.3" r="5.5"/><circle cx="847.2" cy="211.8" r="5.5"/><circle cx="871.5" cy="180.7" r="5.5"/><circle cx="834.0" cy="196.3" r="5.5"/><circle cx="833.2" cy="227.3" r="5.5"/><circle cx="865.7" cy="272.3" r="5.5"/><circle cx="830.1" cy="255.0" r="5.5"/><circle cx="809.9" cy="214.6" r="5.5"/><circle cx="866.3" cy="179.3" r="5.5"/><circle cx="878.9" cy="169.8" r="5.5"/><circle cx="829.0" cy="239.5" r="5.5"/><circle cx="815.6" cy="282.9" r="5.5"/><circle cx="851.5" cy="180.5" r="5.5"/><circle cx="807.1" cy="210.8" r="5.5"/><circle cx="799.5" cy="261.2" r="5.5"/><circle cx="796.6" cy="274.3" r="5.5"/><circle cx="854.8" cy="241.1" r="5.5"/><circle cx="835.2" cy="229.9" r="5.5"/><circle cx="847.9" cy="236.6" r="5.5"/><circle cx="817.8" cy="236.8" r="5.5"/><circle cx="790.4" cy="223.0" r="5.5"/><circle cx="789.8" cy="276.8" r="5.5"/><circle cx="850.3" cy="231.7" r="5.5"/><circle cx="866.8" cy="161.4" r="5.5"/><circle cx="866.1" cy="194.5" r="5.5"/><circle cx="826.4" cy="175.8" r="5.5"/><circle cx="875.5" cy="157.0" r="5.5"/><circle cx="834.8" cy="260.6" r="5.5"/><circle cx="880.5" cy="168.9" r="5.5"/><circle cx="884.3" cy="164.1" r="5.5"/><circle cx="824.0" cy="228.2" r="5.5"/><circle cx="832.6" cy="255.0" r="5.5"/><circle cx="848.4" cy="239.2" r="5.5"/><circle cx="838.7" cy="260.2" r="5.5"/><circle cx="802.0" cy="241.3" r="5.5"/><circle cx="813.7" cy="286.7" r="5.5"/><circle cx="859.3" cy="264.7" r="5.5"/><circle cx="846.0" cy="211.4" r="5.5"/><circle cx="823.6" cy="193.2" r="5.5"/><circle cx="855.7" cy="223.7" r="5.5"/><circle cx="815.2" cy="254.0" r="5.5"/><circle cx="820.6" cy="238.6" r="5.5"/><circle cx="808.7" cy="242.8" r="5.5"/><circle cx="794.0" cy="203.5" r="5.5"/><circle cx="787.5" cy="266.0" r="5.5"/><circle cx="856.5" cy="234.3" r="5.5"/><circle cx="839.2" cy="162.6" r="5.5"/><circle cx="823.0" cy="249.5" r="5.5"/><circle cx="854.5" cy="204.5" r="5.5"/><circle cx="824.7" cy="208.0" r="5.5"/><circle cx="825.8" cy="217.0" r="5.5"/><circle cx="815.0" cy="200.9" r="5.5"/><circle cx="835.7" cy="256.3" r="5.5"/><circle cx="817.8" cy="236.8" r="5.5"/><circle cx="870.2" cy="204.9" r="5.5"/><circle cx="865.7" cy="214.7" r="5.5"/><circle cx="830.0" cy="182.9" r="5.5"/><circle cx="822.9" cy="194.0" r="5.5"/><circle cx="860.0" cy="160.8" r="5.5"/><circle cx="880.4" cy="168.7" r="5.5"/><circle cx="849.7" cy="166.5" r="5.5"/><circle cx="790.1" cy="276.0" r="5.5"/><circle cx="873.2" cy="252.9" r="5.5"/><circle cx="839.7" cy="175.3" r="5.5"/><circle cx="825.0" cy="260.5" r="5.5"/><circle cx="848.5" cy="205.4" r="5.5"/><circle cx="861.2" cy="219.4" r="5.5"/><circle cx="844.0" cy="226.5" r="5.5"/><circle cx="838.8" cy="206.6" r="5.5"/><circle cx="820.0" cy="240.1" r="5.5"/><circle cx="816.4" cy="200.9" r="5.5"/><circle cx="830.7" cy="271.4" r="5.5"/><circle cx="812.1" cy="215.3" r="5.5"/><circle cx="850.1" cy="201.8" r="5.5"/><circle cx="871.1" cy="210.9" r="5.5"/><circle cx="812.2" cy="252.3" r="5.5"/><circle cx="807.2" cy="185.1" r="5.5"/><circle cx="870.8" cy="219.7" r="5.5"/><circle cx="799.0" cy="279.8" r="5.5"/><circle cx="827.8" cy="209.4" r="5.5"/><circle cx="853.6" cy="219.2" r="5.5"/><circle cx="809.8" cy="236.0" r="5.5"/><circle cx="789.6" cy="211.7" r="5.5"/><circle cx="849.9" cy="251.9" r="5.5"/><circle cx="838.5" cy="229.8" r="5.5"/><circle cx="854.9" cy="163.2" r="5.5"/><circle cx="851.3" cy="184.3" r="5.5"/><circle cx="880.5" cy="183.8" r="5.5"/><circle cx="857.0" cy="162.5" r="5.5"/><circle cx="795.2" cy="272.7" r="5.5"/><circle cx="813.6" cy="268.7" r="5.5"/><circle cx="851.5" cy="245.1" r="5.5"/><circle cx="838.3" cy="236.0" r="5.5"/><circle cx="822.6" cy="198.2" r="5.5"/><circle cx="838.5" cy="217.2" r="5.5"/><circle cx="844.4" cy="200.2" r="5.5"/><circle cx="787.0" cy="248.9" r="5.5"/><circle cx="818.7" cy="194.9" r="5.5"/><circle cx="808.2" cy="205.2" r="5.5"/><circle cx="815.3" cy="206.7" r="5.5"/><circle cx="834.2" cy="217.7" r="5.5"/><circle cx="818.5" cy="208.4" r="5.5"/><circle cx="864.4" cy="194.5" r="5.5"/><circle cx="818.0" cy="219.9" r="5.5"/><circle cx="831.0" cy="197.6" r="5.5"/><circle cx="851.3" cy="248.5" r="5.5"/><circle cx="807.5" cy="254.1" r="5.5"/><circle cx="866.2" cy="263.4" r="5.5"/><circle cx="825.7" cy="218.1" r="5.5"/><circle cx="859.5" cy="207.0" r="5.5"/><circle cx="806.3" cy="248.6" r="5.5"/><circle cx="856.9" cy="196.2" r="5.5"/><circle cx="799.0" cy="227.9" r="5.5"/><circle cx="830.3" cy="222.7" r="5.5"/><circle cx="792.2" cy="278.8" r="5.5"/><circle cx="837.0" cy="204.1" r="5.5"/><circle cx="870.3" cy="181.9" r="5.5"/><circle cx="868.5" cy="188.7" r="5.5"/><circle cx="838.7" cy="264.8" r="5.5"/><circle cx="806.5" cy="248.1" r="5.5"/><circle cx="852.2" cy="176.4" r="5.5"/><circle cx="809.6" cy="278.5" r="5.5"/><circle cx="837.4" cy="216.1" r="5.5"/><circle cx="837.6" cy="239.5" r="5.5"/><circle cx="799.1" cy="234.9" r="5.5"/><circle cx="872.4" cy="218.7" r="5.5"/><circle cx="837.7" cy="267.3" r="5.5"/><circle cx="867.0" cy="184.4" r="5.5"/><circle cx="864.9" cy="258.5" r="5.5"/><circle cx="861.9" cy="241.5" r="5.5"/><circle cx="860.3" cy="259.6" r="5.5"/><circle cx="846.7" cy="244.7" r="5.5"/><circle cx="781.6" cy="206.0" r="5.5"/><circle cx="873.4" cy="185.9" r="5.5"/><circle cx="792.9" cy="262.4" r="5.5"/><circle cx="851.6" cy="174.4" r="5.5"/><circle cx="807.3" cy="273.3" r="5.5"/><circle cx="851.9" cy="252.0" r="5.5"/><circle cx="854.8" cy="186.6" r="5.5"/><circle cx="785.4" cy="211.7" r="5.5"/><circle cx="824.9" cy="269.1" r="5.5"/><circle cx="861.8" cy="185.8" r="5.5"/><circle cx="801.8" cy="222.1" r="5.5"/><circle cx="812.9" cy="230.1" r="5.5"/><circle cx="842.7" cy="204.0" r="5.5"/>
</g>
<g class="c3">
<circle cx="251.6" cy="334.7" r="5.5"/><circle cx="287.7" cy="329.9" r="5.5"/><circle cx="244.7" cy="342.3" r="5.5"/><circle cx="277.5" cy="307.8" r="5.5"/><circle cx="289.5" cy="263.8" r="5.5"/><circle cx="250.6" cy="369.2" r="5.5"/><circle cx="306.1" cy="320.5" r="5.5"/><circle cx="291.3" cy="272.7" r="5.5"/><circle cx="237.1" cy="358.1" r="5.5"/><circle cx="297.6" cy="284.6" r="5.5"/><circle cx="271.2" cy="259.6" r="5.5"/><circle cx="279.8" cy="323.1" r="5.5"/><circle cx="216.1" cy="340.9" r="5.5"/><circle cx="218.2" cy="356.8" r="5.5"/><circle cx="235.7" cy="333.6" r="5.5"/><circle cx="276.9" cy="294.2" r="5.5"/><circle cx="271.5" cy="344.8" r="5.5"/><circle cx="276.1" cy="259.3" r="5.5"/><circle cx="287.8" cy="345.6" r="5.5"/><circle cx="263.7" cy="278.1" r="5.5"/><circle cx="253.3" cy="377.6" r="5.5"/><circle cx="245.7" cy="336.7" r="5.5"/><circle cx="302.0" cy="308.1" r="5.5"/><circle cx="239.8" cy="332.3" r="5.5"/><circle cx="239.9" cy="351.1" r="5.5"/><circle cx="279.7" cy="346.8" r="5.5"/><circle cx="216.4" cy="345.9" r="5.5"/><circle cx="259.6" cy="355.8" r="5.5"/><circle cx="302.5" cy="262.5" r="5.5"/><circle cx="283.7" cy="271.7" r="5.5"/><circle cx="282.7" cy="355.0" r="5.5"/><circle cx="304.9" cy="293.9" r="5.5"/><circle cx="285.7" cy="301.2" r="5.5"/><circle cx="263.9" cy="347.3" r="5.5"/><circle cx="223.5" cy="353.5" r="5.5"/><circle cx="266.8" cy="271.6" r="5.5"/><circle cx="300.3" cy="323.5" r="5.5"/><circle cx="316.1" cy="323.6" r="5.5"/><circle cx="312.7" cy="320.6" r="5.5"/><circle cx="239.3" cy="347.6" r="5.5"/><circle cx="283.0" cy="349.4" r="5.5"/><circle cx="319.9" cy="341.4" r="5.5"/><circle cx="255.1" cy="317.6" r="5.5"/><circle cx="277.1" cy="314.5" r="5.5"/><circle cx="276.2" cy="321.0" r="5.5"/><circle cx="300.9" cy="345.1" r="5.5"/><circle cx="251.1" cy="326.4" r="5.5"/><circle cx="239.9" cy="373.1" r="5.5"/><circle cx="303.2" cy="280.2" r="5.5"/><circle cx="226.8" cy="337.7" r="5.5"/><circle cx="322.3" cy="315.5" r="5.5"/><circle cx="225.7" cy="335.0" r="5.5"/><circle cx="250.6" cy="362.2" r="5.5"/><circle cx="240.3" cy="361.6" r="5.5"/><circle cx="261.6" cy="334.2" r="5.5"/><circle cx="280.0" cy="273.4" r="5.5"/><circle cx="274.4" cy="329.5" r="5.5"/><circle cx="316.8" cy="322.0" r="5.5"/><circle cx="256.8" cy="356.1" r="5.5"/><circle cx="292.6" cy="270.1" r="5.5"/><circle cx="281.6" cy="322.0" r="5.5"/><circle cx="293.2" cy="275.6" r="5.5"/><circle cx="312.4" cy="316.8" r="5.5"/><circle cx="272.9" cy="344.7" r="5.5"/><circle cx="222.6" cy="350.3" r="5.5"/><circle cx="247.6" cy="341.3" r="5.5"/><circle cx="257.6" cy="355.0" r="5.5"/><circle cx="262.3" cy="319.7" r="5.5"/><circle cx="287.7" cy="330.9" r="5.5"/><circle cx="271.7" cy="292.9" r="5.5"/><circle cx="242.9" cy="348.4" r="5.5"/><circle cx="276.3" cy="371.1" r="5.5"/><circle cx="274.6" cy="313.4" r="5.5"/><circle cx="314.5" cy="324.4" r="5.5"/><circle cx="314.3" cy="304.4" r="5.5"/><circle cx="253.8" cy="370.4" r="5.5"/><circle cx="249.5" cy="369.3" r="5.5"/><circle cx="301.0" cy="321.6" r="5.5"/><circle cx="272.6" cy="342.9" r="5.5"/><circle cx="278.0" cy="357.0" r="5.5"/><circle cx="256.3" cy="341.3" r="5.5"/><circle cx="277.3" cy="259.7" r="5.5"/><circle cx="312.8" cy="327.4" r="5.5"/><circle cx="262.7" cy="311.1" r="5.5"/><circle cx="296.0" cy="325.8" r="5.5"/><circle cx="259.5" cy="349.8" r="5.5"/><circle cx="208.6" cy="363.2" r="5.5"/><circle cx="269.5" cy="346.9" r="5.5"/><circle cx="243.9" cy="344.1" r="5.5"/><circle cx="223.7" cy="337.0" r="5.5"/><circle cx="300.0" cy="275.1" r="5.5"/><circle cx="250.5" cy="364.9" r="5.5"/><circle cx="240.6" cy="348.8" r="5.5"/><circle cx="287.0" cy="380.0" r="5.5"/><circle cx="286.3" cy="258.7" r="5.5"/><circle cx="246.2" cy="339.8" r="5.5"/><circle cx="259.5" cy="327.1" r="5.5"/><circle cx="258.9" cy="322.0" r="5.5"/><circle cx="286.7" cy="319.2" r="5.5"/><circle cx="221.7" cy="347.3" r="5.5"/><circle cx="277.6" cy="317.5" r="5.5"/><circle cx="282.1" cy="304.6" r="5.5"/><circle cx="280.2" cy="349.0" r="5.5"/><circle cx="273.1" cy="257.4" r="5.5"/><circle cx="297.8" cy="258.2" r="5.5"/><circle cx="227.4" cy="354.2" r="5.5"/><circle cx="257.8" cy="271.5" r="5.5"/><circle cx="224.8" cy="363.9" r="5.5"/><circle cx="304.6" cy="325.5" r="5.5"/><circle cx="283.0" cy="260.5" r="5.5"/><circle cx="259.0" cy="309.1" r="5.5"/><circle cx="265.5" cy="352.0" r="5.5"/><circle cx="288.9" cy="288.5" r="5.5"/><circle cx="270.0" cy="300.0" r="5.5"/><circle cx="254.0" cy="363.1" r="5.5"/><circle cx="228.7" cy="332.2" r="5.5"/><circle cx="258.3" cy="336.0" r="5.5"/><circle cx="252.7" cy="346.9" r="5.5"/><circle cx="265.9" cy="259.4" r="5.5"/><circle cx="271.2" cy="282.8" r="5.5"/><circle cx="255.2" cy="360.9" r="5.5"/><circle cx="260.9" cy="365.7" r="5.5"/><circle cx="243.7" cy="365.3" r="5.5"/><circle cx="224.1" cy="348.6" r="5.5"/><circle cx="301.9" cy="269.5" r="5.5"/><circle cx="285.1" cy="307.3" r="5.5"/><circle cx="226.2" cy="344.0" r="5.5"/><circle cx="247.5" cy="358.8" r="5.5"/><circle cx="275.0" cy="334.2" r="5.5"/><circle cx="294.4" cy="320.5" r="5.5"/><circle cx="325.2" cy="329.7" r="5.5"/><circle cx="239.6" cy="338.8" r="5.5"/><circle cx="246.0" cy="344.7" r="5.5"/><circle cx="319.1" cy="328.6" r="5.5"/><circle cx="293.3" cy="326.7" r="5.5"/><circle cx="238.3" cy="337.2" r="5.5"/><circle cx="280.6" cy="340.1" r="5.5"/><circle cx="225.8" cy="342.9" r="5.5"/><circle cx="263.2" cy="270.3" r="5.5"/><circle cx="261.4" cy="367.6" r="5.5"/><circle cx="229.7" cy="340.9" r="5.5"/><circle cx="282.5" cy="341.0" r="5.5"/><circle cx="259.3" cy="266.9" r="5.5"/><circle cx="299.1" cy="269.1" r="5.5"/><circle cx="296.2" cy="298.1" r="5.5"/><circle cx="233.1" cy="346.1" r="5.5"/><circle cx="297.1" cy="288.9" r="5.5"/><circle cx="270.8" cy="271.3" r="5.5"/><circle cx="315.6" cy="319.7" r="5.5"/><circle cx="287.2" cy="329.8" r="5.5"/><circle cx="244.6" cy="360.5" r="5.5"/><circle cx="212.8" cy="357.5" r="5.5"/><circle cx="297.0" cy="334.7" r="5.5"/><circle cx="261.3" cy="365.3" r="5.5"/><circle cx="260.6" cy="366.0" r="5.5"/><circle cx="271.5" cy="260.1" r="5.5"/><circle cx="313.4" cy="323.6" r="5.5"/><circle cx="292.5" cy="338.7" r="5.5"/><circle cx="250.1" cy="366.2" r="5.5"/><circle cx="294.2" cy="306.7" r="5.5"/><circle cx="326.2" cy="328.9" r="5.5"/><circle cx="271.7" cy="264.0" r="5.5"/><circle cx="282.6" cy="258.2" r="5.5"/><circle cx="275.7" cy="274.9" r="5.5"/><circle cx="251.8" cy="331.7" r="5.5"/><circle cx="258.0" cy="337.4" r="5.5"/><circle cx="306.4" cy="300.8" r="5.5"/><circle cx="303.3" cy="337.9" r="5.5"/><circle cx="274.9" cy="351.7" r="5.5"/><circle cx="257.2" cy="360.2" r="5.5"/><circle cx="320.6" cy="339.7" r="5.5"/><circle cx="289.7" cy="322.6" r="5.5"/><circle cx="298.7" cy="286.5" r="5.5"/><circle cx="285.5" cy="295.9" r="5.5"/><circle cx="309.2" cy="267.1" r="5.5"/><circle cx="300.5" cy="261.6" r="5.5"/><circle cx="254.5" cy="378.9" r="5.5"/><circle cx="265.8" cy="357.0" r="5.5"/><circle cx="265.3" cy="362.1" r="5.5"/><circle cx="259.1" cy="270.5" r="5.5"/><circle cx="294.3" cy="328.8" r="5.5"/><circle cx="263.9" cy="262.3" r="5.5"/><circle cx="229.7" cy="341.1" r="5.5"/><circle cx="309.9" cy="301.0" r="5.5"/><circle cx="282.5" cy="264.9" r="5.5"/><circle cx="273.7" cy="356.9" r="5.5"/><circle cx="247.5" cy="330.7" r="5.5"/><circle cx="279.5" cy="329.5" r="5.5"/><circle cx="231.4" cy="342.4" r="5.5"/><circle cx="279.7" cy="272.4" r="5.5"/><circle cx="322.5" cy="312.3" r="5.5"/><circle cx="233.8" cy="362.7" r="5.5"/><circle cx="307.6" cy="282.5" r="5.5"/>
</g>
<g class="c4">
<circle cx="323.1" cy="425.6" r="5.5"/><circle cx="327.7" cy="444.3" r="5.5"/><circle cx="312.9" cy="403.7" r="5.5"/><circle cx="320.1" cy="386.1" r="5.5"/><circle cx="330.4" cy="412.7" r="5.5"/><circle cx="333.1" cy="422.5" r="5.5"/><circle cx="379.9" cy="458.1" r="5.5"/><circle cx="337.6" cy="391.4" r="5.5"/><circle cx="315.0" cy="444.3" r="5.5"/><circle cx="352.0" cy="460.0" r="5.5"/><circle cx="351.4" cy="477.2" r="5.5"/><circle cx="343.7" cy="412.8" r="5.5"/><circle cx="360.1" cy="458.1" r="5.5"/><circle cx="332.5" cy="464.2" r="5.5"/><circle cx="339.6" cy="422.8" r="5.5"/><circle cx="359.8" cy="440.9" r="5.5"/><circle cx="320.7" cy="438.2" r="5.5"/><circle cx="342.8" cy="452.1" r="5.5"/><circle cx="437.5" cy="399.0" r="5.5"/><circle cx="334.9" cy="456.6" r="5.5"/><circle cx="312.6" cy="404.5" r="5.5"/><circle cx="314.6" cy="432.0" r="5.5"/><circle cx="341.0" cy="428.9" r="5.5"/><circle cx="325.4" cy="418.9" r="5.5"/><circle cx="322.9" cy="416.9" r="5.5"/><circle cx="368.6" cy="439.6" r="5.5"/><circle cx="348.7" cy="479.5" r="5.5"/><circle cx="342.3" cy="404.2" r="5.5"/><circle cx="340.9" cy="473.2" r="5.5"/><circle cx="338.0" cy="466.9" r="5.5"/><circle cx="361.1" cy="473.1" r="5.5"/><circle cx="320.4" cy="459.4" r="5.5"/><circle cx="325.7" cy="420.8" r="5.5"/><circle cx="344.2" cy="481.0" r="5.5"/><circle cx="310.7" cy="402.2" r="5.5"/><circle cx="304.5" cy="409.9" r="5.5"/><circle cx="345.4" cy="464.4" r="5.5"/><circle cx="320.8" cy="405.7" r="5.5"/><circle cx="340.7" cy="456.9" r="5.5"/><circle cx="321.7" cy="398.5" r="5.5"/><circle cx="353.2" cy="426.9" r="5.5"/><circle cx="313.8" cy="429.8" r="5.5"/><circle cx="357.7" cy="452.1" r="5.5"/><circle cx="319.5" cy="443.4" r="5.5"/><circle cx="318.4" cy="469.7" r="5.5"/><circle cx="348.3" cy="437.8" r="5.5"/><circle cx="351.3" cy="395.4" r="5.5"/><circle cx="340.6" cy="476.8" r="5.5"/><circle cx="375.5" cy="448.1" r="5.5"/><circle cx="350.4" cy="425.4" r="5.5"/><circle cx="332.2" cy="417.5" r="5.5"/><circle cx="373.0" cy="457.4" r="5.5"/><circle cx="354.3" cy="449.4" r="5.5"/><circle cx="370.3" cy="470.2" r="5.5"/><circle cx="333.9" cy="465.6" r="5.5"/><circle cx="293.1" cy="393.9" r="5.5"/><circle cx="356.1" cy="399.6" r="5.5"/><circle cx="336.2" cy="433.9" r="5.5"/><circle cx="343.8" cy="430.6" r="5.5"/><circle cx="329.4" cy="398.1" r="5.5"/><circle cx="332.1" cy="437.0" r="5.5"/><circle cx="353.6" cy="472.0" r="5.5"/><circle cx="313.3" cy="396.2" r="5.5"/><circle cx="305.2" cy="399.8" r="5.5"/><circle cx="346.5" cy="421.7" r="5.5"/><circle cx="315.0" cy="427.0" r="5.5"/><circle cx="332.5" cy="415.0" r="5.5"/><circle cx="339.9" cy="397.1" r="5.5"/><circle cx="339.5" cy="398.7" r="5.5"/><circle cx="315.1" cy="440.2" r="5.5"/><circle cx="355.2" cy="404.6" r="5.5"/><circle cx="358.1" cy="421.8" r="5.5"/><circle cx="339.1" cy="409.5" r="5.5"/><circle cx="319.0" cy="383.0" r="5.5"/><circle cx="336.2" cy="423.5" r="5.5"/><circle cx="348.2" cy="412.7" r="5.5"/><circle cx="318.7" cy="428.3" r="5.5"/><circle cx="343.9" cy="456.6" r="5.5"/><circle cx="353.9" cy="416.7" r="5.5"/><circle cx="316.3" cy="454.0" r="5.5"/><circle cx="327.4" cy="447.7" r="5.5"/><circle cx="351.6" cy="476.1" r="5.5"/><circle cx="313.6" cy="445.1" r="5.5"/><circle cx="338.7" cy="464.9" r="5.5"/><circle cx="335.5" cy="421.4" r="5.5"/><circle cx="360.3" cy="408.0" r="5.5"/><circle cx="342.5" cy="448.2" r="5.5"/><circle cx="372.6" cy="460.0" r="5.5"/><circle cx="318.3" cy="404.8" r="5.5"/><circle cx="348.3" cy="463.2" r="5.5"/><circle cx="354.9" cy="437.6" r="5.5"/><circle cx="317.7" cy="442.8" r="5.5"/><circle cx="336.4" cy="460.7" r="5.5"/><circle cx="316.9" cy="436.5" r="5.5"/><circle cx="337.2" cy="437.6" r="5.5"/><circle cx="330.0" cy="449.3" r="5.5"/><circle cx="313.5" cy="447.7" r="5.5"/><circle cx="328.4" cy="433.8" r="5.5"/><circle cx="327.9" cy="440.9" r="5.5"/><circle cx="341.9" cy="453.1" r="5.5"/><circle cx="350.1" cy="479.9" r="5.5"/><circle cx="341.9" cy="405.2" r="5.5"/><circle cx="329.4" cy="438.5" r="5.5"/><circle cx="343.1" cy="476.1" r="5.5"/><circle cx="358.3" cy="409.9" r="5.5"/><circle cx="320.7" cy="442.4" r="5.5"/><circle cx="326.5" cy="429.6" r="5.5"/><circle cx="332.5" cy="432.9" r="5.5"/><circle cx="339.9" cy="394.0" r="5.5"/><circle cx="327.3" cy="432.0" r="5.5"/><circle cx="340.9" cy="414.6" r="5.5"/><circle cx="363.1" cy="411.4" r="5.5"/><circle cx="361.5" cy="425.6" r="5.5"/><circle cx="321.1" cy="467.5" r="5.5"/><circle cx="340.1" cy="421.7" r="5.5"/><circle cx="311.5" cy="461.3" r="5.5"/><circle cx="322.9" cy="396.7" r="5.5"/><circle cx="331.4" cy="403.5" r="5.5"/><circle cx="311.7" cy="413.0" r="5.5"/><circle cx="334.3" cy="456.4" r="5.5"/><circle cx="352.7" cy="474.5" r="5.5"/><circle cx="327.8" cy="437.2" r="5.5"/><circle cx="368.9" cy="442.9" r="5.5"/><circle cx="321.4" cy="392.3" r="5.5"/><circle cx="338.7" cy="458.7" r="5.5"/><circle cx="334.0" cy="460.2" r="5.5"/><circle cx="338.7" cy="472.4" r="5.5"/><circle cx="308.2" cy="401.6" r="5.5"/><circle cx="328.2" cy="469.4" r="5.5"/><circle cx="355.9" cy="431.4" r="5.5"/><circle cx="317.0" cy="418.3" r="5.5"/><circle cx="361.8" cy="400.8" r="5.5"/><circle cx="337.6" cy="412.7" r="5.5"/><circle cx="319.3" cy="461.4" r="5.5"/><circle cx="324.0" cy="406.0" r="5.5"/><circle cx="333.8" cy="475.6" r="5.5"/><circle cx="336.1" cy="408.8" r="5.5"/><circle cx="315.8" cy="467.7" r="5.5"/><circle cx="365.0" cy="448.5" r="5.5"/><circle cx="306.9" cy="395.3" r="5.5"/><circle cx="361.1" cy="417.1" r="5.5"/><circle cx="347.7" cy="415.4" r="5.5"/><circle cx="342.5" cy="456.4" r="5.5"/><circle cx="374.5" cy="473.1" r="5.5"/><circle cx="296.0" cy="406.6" r="5.5"/><circle cx="317.6" cy="393.4" r="5.5"/><circle cx="342.8" cy="447.7" r="5.5"/><circle cx="349.0" cy="464.3" r="5.5"/><circle cx="359.1" cy="407.2" r="5.5"/><circle cx="343.0" cy="480.0" r="5.5"/><circle cx="350.6" cy="430.5" r="5.5"/><circle cx="353.3" cy="413.1" r="5.5"/><circle cx="334.9" cy="462.0" r="5.5"/><circle cx="359.7" cy="465.9" r="5.5"/><circle cx="369.4" cy="437.5" r="5.5"/><circle cx="319.0" cy="467.6" r="5.5"/><circle cx="322.0" cy="395.6" r="5.5"/><circle cx="319.3" cy="473.2" r="5.5"/><circle cx="333.5" cy="471.3" r="5.5"/><circle cx="352.1" cy="407.0" r="5.5"/><circle cx="379.0" cy="462.4" r="5.5"/><circle cx="311.2" cy="463.3" r="5.5"/><circle cx="340.1" cy="409.3" r="5.5"/><circle cx="310.3" cy="416.3" r="5.5"/><circle cx="339.8" cy="469.6" r="5.5"/><circle cx="358.8" cy="480.6" r="5.5"/><circle cx="347.1" cy="397.6" r="5.5"/><circle cx="330.0" cy="455.8" r="5.5"/><circle cx="351.9" cy="415.4" r="5.5"/><circle cx="313.9" cy="390.0" r="5.5"/><circle cx="368.2" cy="447.8" r="5.5"/><circle cx="332.8" cy="400.8" r="5.5"/>
</g>
<g class="c5">
<circle cx="400.9" cy="335.1" r="5.5"/><circle cx="386.8" cy="324.7" r="5.5"/><circle cx="405.5" cy="351.7" r="5.5"/><circle cx="421.3" cy="351.2" r="5.5"/><circle cx="389.8" cy="329.8" r="5.5"/><circle cx="390.6" cy="325.5" r="5.5"/><circle cx="393.5" cy="348.4" r="5.5"/><circle cx="414.9" cy="354.7" r="5.5"/><circle cx="413.4" cy="367.0" r="5.5"/><circle cx="395.7" cy="365.1" r="5.5"/><circle cx="395.0" cy="349.0" r="5.5"/><circle cx="425.3" cy="361.6" r="5.5"/><circle cx="398.5" cy="323.2" r="5.5"/><circle cx="386.5" cy="343.5" r="5.5"/><circle cx="420.0" cy="349.4" r="5.5"/><circle cx="416.7" cy="343.8" r="5.5"/><circle cx="389.7" cy="322.0" r="5.5"/><circle cx="418.6" cy="358.3" r="5.5"/><circle cx="392.4" cy="332.0" r="5.5"/><circle cx="389.7" cy="343.1" r="5.5"/><circle cx="391.8" cy="354.3" r="5.5"/><circle cx="392.8" cy="333.5" r="5.5"/><circle cx="396.2" cy="325.3" r="5.5"/><circle cx="421.5" cy="344.6" r="5.5"/><circle cx="402.0" cy="344.8" r="5.5"/><circle cx="422.0" cy="358.7" r="5.5"/><circle cx="392.6" cy="329.1" r="5.5"/><circle cx="393.9" cy="327.0" r="5.5"/><circle cx="402.4" cy="345.7" r="5.5"/><circle cx="400.7" cy="329.8" r="5.5"/><circle cx="383.1" cy="335.1" r="5.5"/><circle cx="407.3" cy="340.1" r="5.5"/><circle cx="395.4" cy="334.9" r="5.5"/><circle cx="406.9" cy="339.6" r="5.5"/><circle cx="384.4" cy="330.0" r="5.5"/><circle cx="421.2" cy="357.0" r="5.5"/><circle cx="391.6" cy="326.0" r="5.5"/><circle cx="381.3" cy="334.3" r="5.5"/><circle cx="415.2" cy="346.5" r="5.5"/><circle cx="420.1" cy="364.4" r="5.5"/><circle cx="393.2" cy="348.0" r="5.5"/><circle cx="390.6" cy="339.9" r="5.5"/><circle cx="407.6" cy="340.2" r="5.5"/>
</g>
<g class="c6">
<circle cx="629.9" cy="329.7" r="5.5"/><circle cx="626.5" cy="293.4" r="5.5"/><circle cx="689.2" cy="299.3" r="5.5"/><circle cx="612.2" cy="317.9" r="5.5"/><circle cx="609.0" cy="320.1" r="5.5"/><circle cx="602.7" cy="315.1" r="5.5"/><circle cx="624.7" cy="293.8" r="5.5"/><circle cx="615.2" cy="319.6" r="5.5"/><circle cx="674.4" cy="274.9" r="5.5"/><circle cx="650.3" cy="289.8" r="5.5"/><circle cx="644.5" cy="290.0" r="5.5"/><circle cx="630.0" cy="327.3" r="5.5"/><circle cx="630.3" cy="294.8" r="5.5"/><circle cx="622.5" cy="345.2" r="5.5"/><circle cx="604.2" cy="333.5" r="5.5"/><circle cx="681.7" cy="247.3" r="5.5"/><circle cx="668.5" cy="317.7" r="5.5"/><circle cx="632.3" cy="314.1" r="5.5"/><circle cx="619.1" cy="341.6" r="5.5"/><circle cx="623.8" cy="301.4" r="5.5"/><circle cx="621.9" cy="302.6" r="5.5"/><circle cx="641.8" cy="307.3" r="5.5"/><circle cx="634.8" cy="321.8" r="5.5"/><circle cx="592.2" cy="260.9" r="5.5"/><circle cx="631.0" cy="336.7" r="5.5"/><circle cx="642.9" cy="298.2" r="5.5"/><circle cx="636.6" cy="324.5" r="5.5"/><circle cx="668.9" cy="302.8" r="5.5"/><circle cx="670.5" cy="267.1" r="5.5"/><circle cx="668.6" cy="310.3" r="5.5"/><circle cx="617.5" cy="322.4" r="5.5"/><circle cx="608.2" cy="331.7" r="5.5"/><circle cx="635.6" cy="348.0" r="5.5"/><circle cx="656.2" cy="329.2" r="5.5"/><circle cx="667.9" cy="330.2" r="5.5"/><circle cx="607.7" cy="329.2" r="5.5"/><circle cx="668.6" cy="270.9" r="5.5"/><circle cx="609.0" cy="330.2" r="5.5"/><circle cx="655.7" cy="314.0" r="5.5"/><circle cx="610.4" cy="333.0" r="5.5"/><circle cx="624.8" cy="293.0" r="5.5"/><circle cx="663.5" cy="304.8" r="5.5"/><circle cx="628.4" cy="266.5" r="5.5"/><circle cx="653.9" cy="329.3" r="5.5"/><circle cx="653.4" cy="329.7" r="5.5"/><circle cx="669.0" cy="274.2" r="5.5"/><circle cx="654.5" cy="294.3" r="5.5"/><circle cx="627.7" cy="324.5" r="5.5"/><circle cx="599.2" cy="333.1" r="5.5"/><circle cx="629.7" cy="343.2" r="5.5"/><circle cx="631.7" cy="304.8" r="5.5"/><circle cx="593.3" cy="296.4" r="5.5"/><circle cx="655.0" cy="331.6" r="5.5"/><circle cx="635.4" cy="300.1" r="5.5"/><circle cx="599.4" cy="311.2" r="5.5"/><circle cx="625.9" cy="343.4" r="5.5"/><circle cx="603.8" cy="302.1" r="5.5"/><circle cx="599.7" cy="312.7" r="5.5"/><circle cx="675.9" cy="264.7" r="5.5"/><circle cx="666.8" cy="256.8" r="5.5"/><circle cx="613.5" cy="323.2" r="5.5"/><circle cx="639.0" cy="292.4" r="5.5"/><circle cx="626.1" cy="326.7" r="5.5"/><circle cx="610.6" cy="331.7" r="5.5"/><circle cx="657.7" cy="269.7" r="5.5"/><circle cx="641.0" cy="308.6" r="5.5"/><circle cx="651.9" cy="328.6" r="5.5"/><circle cx="624.8" cy="323.0" r="5.5"/><circle cx="694.2" cy="296.5" r="5.5"/><circle cx="649.1" cy="318.6" r="5.5"/><circle cx="663.4" cy="307.8" r="5.5"/><circle cx="634.5" cy="328.7" r="5.5"/><circle cx="611.6" cy="300.3" r="5.5"/><circle cx="664.1" cy="278.7" r="5.5"/><circle cx="627.3" cy="329.3" r="5.5"/><circle cx="627.5" cy="327.2" r="5.5"/><circle cx="630.1" cy="294.8" r="5.5"/><circle cx="614.8" cy="312.1" r="5.5"/><circle cx="635.0" cy="311.2" r="5.5"/><circle cx="625.3" cy="306.9" r="5.5"/><circle cx="638.3" cy="272.1" r="5.5"/><circle cx="661.1" cy="253.9" r="5.5"/><circle cx="610.4" cy="304.4" r="5.5"/><circle cx="630.7" cy="291.2" r="5.5"/><circle cx="613.9" cy="309.6" r="5.5"/><circle cx="630.1" cy="296.5" r="5.5"/><circle cx="611.5" cy="328.3" r="5.5"/><circle cx="614.0" cy="330.5" r="5.5"/><circle cx="629.4" cy="249.0" r="5.5"/><circle cx="662.5" cy="303.1" r="5.5"/><circle cx="607.1" cy="336.4" r="5.5"/><circle cx="645.4" cy="335.2" r="5.5"/><circle cx="649.3" cy="299.7" r="5.5"/><circle cx="661.8" cy="269.2" r="5.5"/><circle cx="653.0" cy="297.2" r="5.5"/><circle cx="616.1" cy="285.1" r="5.5"/><circle cx="634.5" cy="292.4" r="5.5"/><circle cx="597.1" cy="304.4" r="5.5"/><circle cx="599.7" cy="337.7" r="5.5"/><circle cx="617.1" cy="249.9" r="5.5"/><circle cx="605.4" cy="305.4" r="5.5"/><circle cx="663.3" cy="260.5" r="5.5"/><circle cx="648.4" cy="277.4" r="5.5"/><circle cx="618.1" cy="319.3" r="5.5"/><circle cx="638.7" cy="278.8" r="5.5"/><circle cx="647.4" cy="342.1" r="5.5"/><circle cx="687.6" cy="276.6" r="5.5"/><circle cx="626.6" cy="313.2" r="5.5"/><circle cx="605.8" cy="313.8" r="5.5"/><circle cx="657.8" cy="302.8" r="5.5"/><circle cx="636.7" cy="282.8" r="5.5"/><circle cx="665.1" cy="335.9" r="5.5"/><circle cx="608.1" cy="344.3" r="5.5"/><circle cx="644.6" cy="330.5" r="5.5"/><circle cx="633.6" cy="335.2" r="5.5"/><circle cx="607.0" cy="326.6" r="5.5"/><circle cx="642.0" cy="328.3" r="5.5"/><circle cx="624.2" cy="325.8" r="5.5"/><circle cx="656.0" cy="293.0" r="5.5"/><circle cx="620.7" cy="306.2" r="5.5"/><circle cx="646.4" cy="257.7" r="5.5"/><circle cx="683.8" cy="255.4" r="5.5"/><circle cx="624.7" cy="294.7" r="5.5"/><circle cx="666.0" cy="277.5" r="5.5"/><circle cx="629.9" cy="302.9" r="5.5"/><circle cx="608.6" cy="294.9" r="5.5"/><circle cx="652.7" cy="338.3" r="5.5"/><circle cx="652.6" cy="312.1" r="5.5"/><circle cx="651.8" cy="311.5" r="5.5"/><circle cx="639.8" cy="332.3" r="5.5"/><circle cx="599.2" cy="264.7" r="5.5"/><circle cx="658.9" cy="304.5" r="5.5"/><circle cx="678.0" cy="298.8" r="5.5"/><circle cx="669.4" cy="321.2" r="5.5"/><circle cx="647.1" cy="327.5" r="5.5"/><circle cx="590.2" cy="253.7" r="5.5"/><circle cx="622.9" cy="314.3" r="5.5"/><circle cx="641.0" cy="301.2" r="5.5"/><circle cx="636.3" cy="316.6" r="5.5"/><circle cx="596.3" cy="308.8" r="5.5"/><circle cx="647.9" cy="330.3" r="5.5"/><circle cx="616.6" cy="334.8" r="5.5"/><circle cx="606.8" cy="312.2" r="5.5"/><circle cx="652.4" cy="323.9" r="5.5"/><circle cx="618.3" cy="309.5" r="5.5"/><circle cx="625.3" cy="304.7" r="5.5"/><circle cx="642.6" cy="299.4" r="5.5"/><circle cx="609.2" cy="318.6" r="5.5"/><circle cx="628.6" cy="294.2" r="5.5"/><circle cx="667.5" cy="280.0" r="5.5"/><circle cx="647.0" cy="265.7" r="5.5"/><circle cx="644.5" cy="273.6" r="5.5"/><circle cx="598.6" cy="319.0" r="5.5"/><circle cx="596.9" cy="323.6" r="5.5"/><circle cx="599.9" cy="341.3" r="5.5"/><circle cx="648.9" cy="270.0" r="5.5"/><circle cx="643.1" cy="340.3" r="5.5"/><circle cx="638.8" cy="267.5" r="5.5"/><circle cx="666.7" cy="300.8" r="5.5"/><circle cx="686.5" cy="285.1" r="5.5"/><circle cx="626.1" cy="339.3" r="5.5"/><circle cx="636.5" cy="305.1" r="5.5"/><circle cx="613.2" cy="334.9" r="5.5"/><circle cx="605.6" cy="326.5" r="5.5"/>
</g>
<g class="c7">
<circle cx="787.7" cy="372.1" r="5.5"/><circle cx="796.7" cy="385.6" r="5.5"/><circle cx="743.6" cy="372.8" r="5.5"/><circle cx="774.7" cy="367.1" r="5.5"/><circle cx="779.0" cy="356.0" r="5.5"/><circle cx="772.4" cy="381.6" r="5.5"/><circle cx="753.9" cy="387.1" r="5.5"/><circle cx="722.7" cy="355.8" r="5.5"/><circle cx="720.0" cy="356.4" r="5.5"/><circle cx="749.8" cy="388.8" r="5.5"/><circle cx="806.5" cy="363.0" r="5.5"/><circle cx="779.6" cy="368.7" r="5.5"/><circle cx="752.8" cy="352.2" r="5.5"/><circle cx="732.2" cy="387.1" r="5.5"/><circle cx="809.6" cy="366.2" r="5.5"/><circle cx="780.3" cy="368.3" r="5.5"/><circle cx="785.0" cy="371.5" r="5.5"/><circle cx="817.6" cy="378.4" r="5.5"/><circle cx="497.5" cy="454.0" r="5.5"/><circle cx="732.7" cy="367.3" r="5.5"/><circle cx="778.9" cy="362.3" r="5.5"/><circle cx="738.2" cy="365.7" r="5.5"/><circle cx="804.0" cy="375.8" r="5.5"/><circle cx="767.8" cy="359.5" r="5.5"/><circle cx="805.5" cy="387.2" r="5.5"/><circle cx="768.4" cy="338.3" r="5.5"/><circle cx="902.0" cy="317.0" r="5.5"/><circle cx="754.3" cy="387.8" r="5.5"/><circle cx="792.7" cy="362.7" r="5.5"/><circle cx="748.2" cy="372.9" r="5.5"/><circle cx="726.0" cy="359.2" r="5.5"/><circle cx="775.7" cy="357.4" r="5.5"/><circle cx="706.3" cy="379.1" r="5.5"/><circle cx="758.2" cy="343.2" r="5.5"/><circle cx="771.2" cy="378.7" r="5.5"/><circle cx="736.4" cy="364.5" r="5.5"/><circle cx="758.4" cy="354.0" r="5.5"/><circle cx="794.6" cy="371.4" r="5.5"/><circle cx="788.7" cy="367.2" r="5.5"/><circle cx="795.1" cy="341.3" r="5.5"/><circle cx="751.1" cy="385.8" r="5.5"/><circle cx="749.2" cy="346.7" r="5.5"/><circle cx="779.0" cy="362.3" r="5.5"/><circle cx="731.7" cy="365.2" r="5.5"/><circle cx="759.3" cy="346.6" r="5.5"/><circle cx="776.2" cy="367.4" r="5.5"/><circle cx="776.5" cy="361.3" r="5.5"/><circle cx="736.1" cy="385.2" r="5.5"/><circle cx="807.7" cy="380.6" r="5.5"/><circle cx="763.0" cy="352.0" r="5.5"/><circle cx="803.6" cy="388.3" r="5.5"/><circle cx="773.9" cy="370.7" r="5.5"/><circle cx="732.9" cy="386.0" r="5.5"/><circle cx="773.0" cy="355.5" r="5.5"/><circle cx="736.7" cy="389.7" r="5.5"/><circle cx="717.7" cy="382.7" r="5.5"/><circle cx="734.4" cy="381.4" r="5.5"/><circle cx="791.6" cy="378.7" r="5.5"/><circle cx="794.0" cy="290.0" r="5.5"/><circle cx="719.7" cy="372.3" r="5.5"/><circle cx="772.0" cy="359.0" r="5.5"/><circle cx="497.5" cy="454.0" r="5.5"/><circle cx="802.7" cy="373.9" r="5.5"/><circle cx="804.6" cy="373.2" r="5.5"/><circle cx="770.0" cy="352.7" r="5.5"/><circle cx="749.0" cy="357.1" r="5.5"/><circle cx="739.1" cy="364.7" r="5.5"/><circle cx="771.5" cy="378.9" r="5.5"/><circle cx="749.3" cy="368.3" r="5.5"/><circle cx="735.6" cy="354.2" r="5.5"/><circle cx="715.5" cy="371.3" r="5.5"/><circle cx="779.3" cy="344.5" r="5.5"/><circle cx="762.4" cy="349.4" r="5.5"/><circle cx="799.0" cy="379.5" r="5.5"/><circle cx="514.0" cy="338.0" r="5.5"/><circle cx="806.0" cy="371.1" r="5.5"/><circle cx="715.7" cy="377.3" r="5.5"/><circle cx="718.9" cy="350.3" r="5.5"/><circle cx="802.5" cy="369.6" r="5.5"/><circle cx="487.0" cy="324.0" r="5.5"/><circle cx="801.1" cy="356.4" r="5.5"/><circle cx="750.8" cy="375.3" r="5.5"/><circle cx="780.4" cy="378.5" r="5.5"/><circle cx="775.6" cy="375.4" r="5.5"/><circle cx="758.9" cy="373.2" r="5.5"/><circle cx="762.3" cy="352.7" r="5.5"/><circle cx="766.6" cy="344.2" r="5.5"/><circle cx="804.5" cy="371.6" r="5.5"/><circle cx="735.3" cy="366.2" r="5.5"/><circle cx="756.3" cy="362.1" r="5.5"/><circle cx="731.5" cy="371.0" r="5.5"/><circle cx="808.9" cy="367.1" r="5.5"/><circle cx="708.0" cy="372.1" r="5.5"/><circle cx="766.2" cy="377.6" r="5.5"/><circle cx="734.3" cy="356.5" r="5.5"/><circle cx="749.9" cy="362.5" r="5.5"/><circle cx="792.8" cy="370.4" r="5.5"/><circle cx="733.6" cy="368.4" r="5.5"/><circle cx="749.3" cy="354.8" r="5.5"/><circle cx="738.4" cy="388.7" r="5.5"/><circle cx="815.6" cy="373.8" r="5.5"/><circle cx="783.0" cy="374.6" r="5.5"/><circle cx="777.1" cy="347.9" r="5.5"/><circle cx="719.1" cy="370.1" r="5.5"/><circle cx="729.7" cy="363.4" r="5.5"/><circle cx="804.7" cy="388.4" r="5.5"/><circle cx="782.0" cy="365.3" r="5.5"/><circle cx="740.4" cy="383.1" r="5.5"/><circle cx="726.9" cy="357.0" r="5.5"/><circle cx="758.8" cy="345.5" r="5.5"/><circle cx="722.2" cy="383.1" r="5.5"/>
</g>
<g class="c8">
<circle cx="893.4" cy="403.8" r="5.5"/><circle cx="917.8" cy="394.0" r="5.5"/><circle cx="908.5" cy="435.3" r="5.5"/><circle cx="858.4" cy="421.2" r="5.5"/><circle cx="879.2" cy="345.6" r="5.5"/><circle cx="906.9" cy="382.1" r="5.5"/><circle cx="866.4" cy="376.9" r="5.5"/><circle cx="904.1" cy="374.4" r="5.5"/><circle cx="852.9" cy="402.7" r="5.5"/><circle cx="850.3" cy="408.9" r="5.5"/><circle cx="902.4" cy="412.1" r="5.5"/><circle cx="900.5" cy="425.5" r="5.5"/><circle cx="897.8" cy="408.2" r="5.5"/><circle cx="909.9" cy="426.9" r="5.5"/><circle cx="831.7" cy="391.9" r="5.5"/><circle cx="897.5" cy="425.3" r="5.5"/><circle cx="859.4" cy="402.4" r="5.5"/><circle cx="880.2" cy="384.7" r="5.5"/><circle cx="850.2" cy="394.8" r="5.5"/><circle cx="916.5" cy="398.0" r="5.5"/><circle cx="846.8" cy="394.0" r="5.5"/><circle cx="860.2" cy="412.4" r="5.5"/><circle cx="878.0" cy="406.1" r="5.5"/><circle cx="909.8" cy="413.7" r="5.5"/><circle cx="903.4" cy="414.1" r="5.5"/><circle cx="923.8" cy="410.1" r="5.5"/><circle cx="901.0" cy="420.2" r="5.5"/><circle cx="870.4" cy="372.5" r="5.5"/><circle cx="851.2" cy="420.3" r="5.5"/><circle cx="863.5" cy="339.3" r="5.5"/><circle cx="896.9" cy="412.6" r="5.5"/><circle cx="893.7" cy="415.6" r="5.5"/><circle cx="909.2" cy="424.5" r="5.5"/><circle cx="890.1" cy="416.9" r="5.5"/><circle cx="861.2" cy="359.8" r="5.5"/><circle cx="909.4" cy="423.9" r="5.5"/><circle cx="873.2" cy="374.1" r="5.5"/><circle cx="896.0" cy="429.0" r="5.5"/><circle cx="861.3" cy="418.7" r="5.5"/><circle cx="929.9" cy="407.8" r="5.5"/><circle cx="833.3" cy="387.3" r="5.5"/><circle cx="907.8" cy="406.9" r="5.5"/><circle cx="847.8" cy="415.7" r="5.5"/><circle cx="836.7" cy="393.7" r="5.5"/><circle cx="858.9" cy="363.6" r="5.5"/><circle cx="843.6" cy="387.0" r="5.5"/><circle cx="903.6" cy="423.5" r="5.5"/><circle cx="921.5" cy="405.5" r="5.5"/><circle cx="870.1" cy="338.3" r="5.5"/><circle cx="842.9" cy="411.5" r="5.5"/><circle cx="902.7" cy="410.3" r="5.5"/><circle cx="900.8" cy="384.4" r="5.5"/><circle cx="905.1" cy="429.2" r="5.5"/><circle cx="900.0" cy="390.8" r="5.5"/><circle cx="842.8" cy="406.0" r="5.5"/><circle cx="917.1" cy="430.0" r="5.5"/><circle cx="873.9" cy="383.8" r="5.5"/><circle cx="916.9" cy="392.1" r="5.5"/><circle cx="911.8" cy="380.5" r="5.5"/><circle cx="878.7" cy="380.2" r="5.5"/><circle cx="874.6" cy="398.7" r="5.5"/><circle cx="849.4" cy="392.4" r="5.5"/><circle cx="888.0" cy="414.8" r="5.5"/><circle cx="907.9" cy="381.9" r="5.5"/><circle cx="847.2" cy="403.4" r="5.5"/><circle cx="831.4" cy="393.3" r="5.5"/><circle cx="890.8" cy="438.0" r="5.5"/><circle cx="862.3" cy="391.6" r="5.5"/><circle cx="893.5" cy="391.4" r="5.5"/><circle cx="899.9" cy="430.5" r="5.5"/><circle cx="858.6" cy="412.0" r="5.5"/><circle cx="855.4" cy="361.4" r="5.5"/><circle cx="903.7" cy="409.7" r="5.5"/><circle cx="918.8" cy="393.5" r="5.5"/><circle cx="921.5" cy="405.5" r="5.5"/><circle cx="862.0" cy="421.7" r="5.5"/><circle cx="886.8" cy="343.8" r="5.5"/><circle cx="881.1" cy="378.3" r="5.5"/><circle cx="921.9" cy="390.2" r="5.5"/><circle cx="915.0" cy="410.0" r="5.5"/><circle cx="842.6" cy="403.8" r="5.5"/><circle cx="859.8" cy="386.9" r="5.5"/><circle cx="859.8" cy="381.0" r="5.5"/><circle cx="865.0" cy="418.3" r="5.5"/><circle cx="907.7" cy="403.5" r="5.5"/><circle cx="865.6" cy="395.1" r="5.5"/><circle cx="848.4" cy="406.5" r="5.5"/><circle cx="918.5" cy="392.6" r="5.5"/><circle cx="897.6" cy="398.1" r="5.5"/><circle cx="839.9" cy="399.7" r="5.5"/><circle cx="914.6" cy="404.1" r="5.5"/><circle cx="874.4" cy="360.9" r="5.5"/><circle cx="859.4" cy="405.5" r="5.5"/><circle cx="900.6" cy="407.3" r="5.5"/><circle cx="875.4" cy="382.5" r="5.5"/><circle cx="872.2" cy="380.7" r="5.5"/><circle cx="872.1" cy="369.5" r="5.5"/><circle cx="895.5" cy="425.9" r="5.5"/><circle cx="855.5" cy="340.0" r="5.5"/><circle cx="851.0" cy="416.2" r="5.5"/><circle cx="900.1" cy="415.7" r="5.5"/><circle cx="900.8" cy="405.8" r="5.5"/><circle cx="903.2" cy="432.1" r="5.5"/><circle cx="868.2" cy="387.3" r="5.5"/><circle cx="904.3" cy="388.0" r="5.5"/><circle cx="907.5" cy="389.5" r="5.5"/><circle cx="895.9" cy="391.9" r="5.5"/><circle cx="917.9" cy="416.2" r="5.5"/><circle cx="924.6" cy="397.3" r="5.5"/><circle cx="847.5" cy="414.7" r="5.5"/><circle cx="842.6" cy="416.2" r="5.5"/><circle cx="843.1" cy="409.1" r="5.5"/><circle cx="849.9" cy="406.9" r="5.5"/><circle cx="891.9" cy="429.2" r="5.5"/><circle cx="903.8" cy="411.4" r="5.5"/><circle cx="838.1" cy="405.2" r="5.5"/><circle cx="870.0" cy="361.9" r="5.5"/><circle cx="882.5" cy="409.3" r="5.5"/><circle cx="834.5" cy="406.4" r="5.5"/><circle cx="876.7" cy="369.2" r="5.5"/><circle cx="890.1" cy="408.4" r="5.5"/><circle cx="849.1" cy="387.3" r="5.5"/><circle cx="901.7" cy="430.8" r="5.5"/><circle cx="910.7" cy="386.4" r="5.5"/>
</g>
<g class="c9">
<circle cx="1040.1" cy="353.0" r="5.5"/><circle cx="1002.4" cy="376.4" r="5.5"/><circle cx="1038.9" cy="376.1" r="5.5"/><circle cx="1018.7" cy="367.8" r="5.5"/><circle cx="1026.7" cy="341.8" r="5.5"/><circle cx="1021.9" cy="337.5" r="5.5"/><circle cx="1038.3" cy="357.5" r="5.5"/><circle cx="990.0" cy="376.1" r="5.5"/><circle cx="999.5" cy="372.7" r="5.5"/><circle cx="1004.6" cy="383.5" r="5.5"/><circle cx="1040.9" cy="380.3" r="5.5"/><circle cx="1009.9" cy="369.9" r="5.5"/><circle cx="1001.8" cy="363.8" r="5.5"/><circle cx="1009.3" cy="350.6" r="5.5"/><circle cx="1001.7" cy="345.8" r="5.5"/><circle cx="1045.8" cy="365.6" r="5.5"/><circle cx="1033.1" cy="370.2" r="5.5"/><circle cx="1023.8" cy="363.0" r="5.5"/><circle cx="996.9" cy="358.7" r="5.5"/><circle cx="997.2" cy="358.7" r="5.5"/><circle cx="1023.3" cy="344.9" r="5.5"/><circle cx="1008.5" cy="367.3" r="5.5"/><circle cx="1032.0" cy="367.6" r="5.5"/><circle cx="1018.9" cy="352.4" r="5.5"/><circle cx="1032.8" cy="366.0" r="5.5"/><circle cx="1025.9" cy="357.2" r="5.5"/><circle cx="1049.4" cy="360.4" r="5.5"/><circle cx="1010.4" cy="364.8" r="5.5"/><circle cx="994.6" cy="367.5" r="5.5"/><circle cx="1046.0" cy="356.2" r="5.5"/><circle cx="1013.8" cy="381.8" r="5.5"/><circle cx="987.9" cy="362.2" r="5.5"/><circle cx="1035.5" cy="369.9" r="5.5"/><circle cx="1032.2" cy="370.1" r="5.5"/><circle cx="1030.7" cy="376.2" r="5.5"/><circle cx="1017.7" cy="379.7" r="5.5"/><circle cx="1001.2" cy="357.3" r="5.5"/><circle cx="984.3" cy="367.6" r="5.5"/><circle cx="1040.1" cy="378.9" r="5.5"/><circle cx="987.7" cy="365.1" r="5.5"/><circle cx="1013.8" cy="380.1" r="5.5"/><circle cx="1042.1" cy="373.9" r="5.5"/><circle cx="1007.6" cy="386.8" r="5.5"/><circle cx="1000.1" cy="374.3" r="5.5"/><circle cx="1006.7" cy="387.9" r="5.5"/><circle cx="1035.1" cy="355.6" r="5.5"/><circle cx="1042.0" cy="360.8" r="5.5"/><circle cx="1036.0" cy="360.1" r="5.5"/><circle cx="1014.2" cy="353.9" r="5.5"/><circle cx="1010.2" cy="358.2" r="5.5"/><circle cx="1034.7" cy="386.7" r="5.5"/><circle cx="991.2" cy="377.1" r="5.5"/><circle cx="1056.0" cy="375.6" r="5.5"/><circle cx="991.6" cy="352.8" r="5.5"/><circle cx="1022.2" cy="383.8" r="5.5"/><circle cx="1044.2" cy="366.6" r="5.5"/><circle cx="994.7" cy="368.0" r="5.5"/><circle cx="1039.2" cy="361.0" r="5.5"/><circle cx="1008.3" cy="349.8" r="5.5"/><circle cx="1019.1" cy="378.8" r="5.5"/><circle cx="1000.4" cy="349.6" r="5.5"/><circle cx="1005.6" cy="367.7" r="5.5"/><circle cx="1019.1" cy="353.3" r="5.5"/><circle cx="1007.0" cy="369.1" r="5.5"/><circle cx="1015.4" cy="355.8" r="5.5"/><circle cx="1034.1" cy="383.3" r="5.5"/><circle cx="1011.5" cy="351.5" r="5.5"/><circle cx="1018.5" cy="392.6" r="5.5"/><circle cx="1021.5" cy="349.9" r="5.5"/><circle cx="1029.7" cy="335.5" r="5.5"/><circle cx="994.4" cy="368.6" r="5.5"/><circle cx="1008.7" cy="373.1" r="5.5"/><circle cx="1016.8" cy="360.3" r="5.5"/><circle cx="998.7" cy="371.9" r="5.5"/><circle cx="1022.1" cy="344.8" r="5.5"/><circle cx="1009.6" cy="365.1" r="5.5"/><circle cx="1023.1" cy="354.0" r="5.5"/><circle cx="1020.8" cy="362.1" r="5.5"/><circle cx="1030.3" cy="350.3" r="5.5"/><circle cx="1054.6" cy="363.9" r="5.5"/><circle cx="1010.2" cy="375.0" r="5.5"/><circle cx="1035.4" cy="360.5" r="5.5"/><circle cx="994.6" cy="359.1" r="5.5"/><circle cx="985.8" cy="363.0" r="5.5"/><circle cx="1050.4" cy="366.3" r="5.5"/><circle cx="991.5" cy="386.7" r="5.5"/><circle cx="1007.6" cy="373.9" r="5.5"/><circle cx="1020.7" cy="360.9" r="5.5"/><circle cx="1019.8" cy="383.5" r="5.5"/><circle cx="1042.1" cy="359.5" r="5.5"/><circle cx="1010.6" cy="361.0" r="5.5"/><circle cx="1033.2" cy="371.0" r="5.5"/><circle cx="992.4" cy="363.5" r="5.5"/><circle cx="1018.5" cy="355.5" r="5.5"/><circle cx="1001.9" cy="367.3" r="5.5"/><circle cx="1017.8" cy="347.8" r="5.5"/><circle cx="1056.3" cy="365.9" r="5.5"/><circle cx="1036.4" cy="356.5" r="5.5"/><circle cx="1027.0" cy="393.7" r="5.5"/><circle cx="1002.3" cy="353.1" r="5.5"/><circle cx="1032.7" cy="360.2" r="5.5"/><circle cx="1021.9" cy="340.2" r="5.5"/><circle cx="998.8" cy="349.4" r="5.5"/><circle cx="1030.6" cy="368.8" r="5.5"/><circle cx="1049.3" cy="362.2" r="5.5"/><circle cx="488.0" cy="326.0" r="5.5"/><circle cx="988.0" cy="377.4" r="5.5"/><circle cx="1027.1" cy="388.8" r="5.5"/><circle cx="1022.2" cy="358.8" r="5.5"/><circle cx="1036.1" cy="350.2" r="5.5"/><circle cx="1019.5" cy="376.7" r="5.5"/><circle cx="1001.3" cy="372.9" r="5.5"/><circle cx="1019.4" cy="347.5" r="5.5"/><circle cx="1019.8" cy="377.6" r="5.5"/><circle cx="1003.8" cy="368.7" r="5.5"/><circle cx="1022.7" cy="343.6" r="5.5"/>
</g>
<g class="c10">
<circle cx="468.7" cy="640.8" r="5.5"/><circle cx="491.0" cy="683.5" r="5.5"/><circle cx="477.5" cy="637.5" r="5.5"/><circle cx="446.9" cy="706.1" r="5.5"/><circle cx="463.6" cy="644.5" r="5.5"/><circle cx="473.1" cy="688.5" r="5.5"/><circle cx="464.9" cy="641.9" r="5.5"/><circle cx="474.5" cy="656.8" r="5.5"/><circle cx="436.3" cy="687.9" r="5.5"/><circle cx="457.8" cy="702.3" r="5.5"/><circle cx="463.3" cy="644.4" r="5.5"/><circle cx="477.9" cy="637.7" r="5.5"/><circle cx="482.4" cy="624.0" r="5.5"/><circle cx="431.5" cy="687.2" r="5.5"/><circle cx="466.2" cy="656.1" r="5.5"/><circle cx="485.3" cy="680.8" r="5.5"/><circle cx="461.2" cy="641.6" r="5.5"/><circle cx="452.3" cy="694.7" r="5.5"/><circle cx="473.2" cy="666.6" r="5.5"/><circle cx="484.1" cy="650.8" r="5.5"/><circle cx="450.4" cy="700.9" r="5.5"/><circle cx="472.1" cy="667.9" r="5.5"/><circle cx="481.5" cy="672.2" r="5.5"/><circle cx="439.8" cy="703.2" r="5.5"/><circle cx="477.4" cy="621.7" r="5.5"/><circle cx="434.1" cy="697.7" r="5.5"/><circle cx="484.8" cy="654.3" r="5.5"/><circle cx="476.7" cy="621.8" r="5.5"/><circle cx="440.9" cy="693.0" r="5.5"/><circle cx="448.9" cy="705.9" r="5.5"/><circle cx="468.0" cy="666.5" r="5.5"/><circle cx="466.8" cy="703.3" r="5.5"/><circle cx="439.4" cy="708.4" r="5.5"/><circle cx="463.7" cy="661.0" r="5.5"/><circle cx="478.6" cy="642.8" r="5.5"/><circle cx="476.6" cy="618.6" r="5.5"/><circle cx="463.0" cy="703.9" r="5.5"/><circle cx="471.9" cy="640.2" r="5.5"/><circle cx="465.3" cy="698.1" r="5.5"/><circle cx="465.1" cy="661.8" r="5.5"/><circle cx="467.2" cy="701.3" r="5.5"/><circle cx="470.6" cy="640.0" r="5.5"/><circle cx="454.6" cy="699.8" r="5.5"/><circle cx="478.9" cy="658.3" r="5.5"/><circle cx="469.6" cy="660.4" r="5.5"/><circle cx="464.5" cy="704.5" r="5.5"/><circle cx="477.2" cy="622.8" r="5.5"/><circle cx="482.8" cy="647.7" r="5.5"/><circle cx="468.4" cy="657.2" r="5.5"/><circle cx="471.1" cy="663.0" r="5.5"/><circle cx="468.9" cy="677.2" r="5.5"/><circle cx="457.6" cy="702.7" r="5.5"/><circle cx="475.6" cy="618.7" r="5.5"/><circle cx="473.9" cy="651.7" r="5.5"/><circle cx="490.7" cy="678.0" r="5.5"/><circle cx="479.0" cy="645.3" r="5.5"/><circle cx="465.6" cy="706.8" r="5.5"/><circle cx="475.2" cy="616.5" r="5.5"/><circle cx="479.1" cy="640.3" r="5.5"/><circle cx="440.7" cy="700.2" r="5.5"/><circle cx="461.9" cy="656.1" r="5.5"/><circle cx="464.4" cy="642.7" r="5.5"/><circle cx="448.8" cy="691.1" r="5.5"/><circle cx="480.4" cy="620.1" r="5.5"/><circle cx="473.1" cy="669.6" r="5.5"/><circle cx="482.8" cy="674.4" r="5.5"/><circle cx="466.2" cy="653.0" r="5.5"/><circle cx="477.8" cy="637.8" r="5.5"/><circle cx="459.3" cy="650.9" r="5.5"/><circle cx="442.6" cy="690.6" r="5.5"/><circle cx="448.8" cy="700.5" r="5.5"/><circle cx="474.3" cy="643.6" r="5.5"/><circle cx="468.0" cy="649.5" r="5.5"/><circle cx="454.5" cy="699.7" r="5.5"/>
</g>
<g class="c11">
<circle cx="874.0" cy="490.9" r="5.5"/><circle cx="869.1" cy="495.4" r="5.5"/><circle cx="864.3" cy="497.4" r="5.5"/><circle cx="832.8" cy="539.7" r="5.5"/><circle cx="834.9" cy="513.5" r="5.5"/><circle cx="864.4" cy="509.3" r="5.5"/><circle cx="837.7" cy="524.6" r="5.5"/><circle cx="878.8" cy="505.1" r="5.5"/><circle cx="865.7" cy="505.8" r="5.5"/><circle cx="846.2" cy="533.9" r="5.5"/><circle cx="849.5" cy="519.4" r="5.5"/><circle cx="848.0" cy="511.8" r="5.5"/><circle cx="864.4" cy="511.2" r="5.5"/><circle cx="823.0" cy="530.8" r="5.5"/><circle cx="849.7" cy="535.4" r="5.5"/><circle cx="875.0" cy="527.0" r="5.5"/><circle cx="730.0" cy="487.0" r="5.5"/><circle cx="870.2" cy="496.1" r="5.5"/><circle cx="831.9" cy="521.5" r="5.5"/><circle cx="844.9" cy="534.8" r="5.5"/><circle cx="829.8" cy="531.1" r="5.5"/><circle cx="837.9" cy="519.1" r="5.5"/><circle cx="837.4" cy="533.4" r="5.5"/><circle cx="867.4" cy="502.5" r="5.5"/><circle cx="827.2" cy="540.9" r="5.5"/><circle cx="827.6" cy="526.5" r="5.5"/><circle cx="835.9" cy="520.3" r="5.5"/><circle cx="840.6" cy="539.5" r="5.5"/><circle cx="868.1" cy="512.6" r="5.5"/><circle cx="892.5" cy="496.5" r="5.5"/><circle cx="857.4" cy="502.6" r="5.5"/><circle cx="851.3" cy="537.0" r="5.5"/><circle cx="889.2" cy="500.8" r="5.5"/><circle cx="873.8" cy="518.4" r="5.5"/><circle cx="878.3" cy="497.9" r="5.5"/><circle cx="876.1" cy="496.3" r="5.5"/><circle cx="851.8" cy="511.5" r="5.5"/><circle cx="864.8" cy="498.1" r="5.5"/><circle cx="597.0" cy="400.0" r="5.5"/><circle cx="870.7" cy="509.8" r="5.5"/><circle cx="878.0" cy="510.9" r="5.5"/><circle cx="858.9" cy="514.5" r="5.5"/><circle cx="833.4" cy="524.2" r="5.5"/><circle cx="826.6" cy="537.5" r="5.5"/><circle cx="837.9" cy="543.1" r="5.5"/><circle cx="830.3" cy="514.9" r="5.5"/><circle cx="875.1" cy="496.0" r="5.5"/><circle cx="839.4" cy="528.5" r="5.5"/><circle cx="842.0" cy="506.1" r="5.5"/><circle cx="872.4" cy="502.9" r="5.5"/><circle cx="844.9" cy="532.6" r="5.5"/><circle cx="840.4" cy="537.7" r="5.5"/><circle cx="835.6" cy="521.2" r="5.5"/><circle cx="843.9" cy="529.9" r="5.5"/>
</g>
<g class="c12">
<circle cx="853.9" cy="710.9" r="5.5"/><circle cx="875.1" cy="679.2" r="5.5"/><circle cx="833.1" cy="716.8" r="5.5"/><circle cx="830.6" cy="716.1" r="5.5"/><circle cx="840.7" cy="716.7" r="5.5"/><circle cx="846.1" cy="700.8" r="5.5"/><circle cx="878.0" cy="682.2" r="5.5"/><circle cx="854.1" cy="677.0" r="5.5"/><circle cx="850.0" cy="701.1" r="5.5"/><circle cx="855.5" cy="707.0" r="5.5"/><circle cx="864.6" cy="689.3" r="5.5"/><circle cx="846.9" cy="692.1" r="5.5"/><circle cx="849.3" cy="690.6" r="5.5"/><circle cx="853.3" cy="706.8" r="5.5"/><circle cx="876.7" cy="688.6" r="5.5"/><circle cx="846.7" cy="700.6" r="5.5"/><circle cx="839.4" cy="704.0" r="5.5"/><circle cx="855.0" cy="678.0" r="5.5"/><circle cx="855.9" cy="715.6" r="5.5"/><circle cx="846.4" cy="717.0" r="5.5"/><circle cx="861.8" cy="713.5" r="5.5"/><circle cx="880.7" cy="683.4" r="5.5"/><circle cx="832.7" cy="712.7" r="5.5"/><circle cx="858.1" cy="684.5" r="5.5"/><circle cx="846.7" cy="703.0" r="5.5"/><circle cx="851.5" cy="691.8" r="5.5"/><circle cx="865.0" cy="701.5" r="5.5"/><circle cx="876.3" cy="682.4" r="5.5"/><circle cx="847.8" cy="706.4" r="5.5"/><circle cx="851.3" cy="701.8" r="5.5"/><circle cx="872.5" cy="703.7" r="5.5"/><circle cx="863.0" cy="702.2" r="5.5"/><circle cx="837.6" cy="711.3" r="5.5"/><circle cx="840.8" cy="688.1" r="5.5"/><circle cx="843.3" cy="725.0" r="5.5"/><circle cx="851.8" cy="689.4" r="5.5"/><circle cx="835.2" cy="720.6" r="5.5"/><circle cx="853.1" cy="684.0" r="5.5"/><circle cx="872.3" cy="680.8" r="5.5"/><circle cx="863.6" cy="674.2" r="5.5"/><circle cx="867.2" cy="677.3" r="5.5"/><circle cx="847.5" cy="723.2" r="5.5"/><circle cx="850.4" cy="695.3" r="5.5"/>
</g>
<g class="c13">
<circle cx="518.9" cy="826.5" r="5.5"/><circle cx="528.2" cy="818.7" r="5.5"/><circle cx="524.2" cy="833.8" r="5.5"/><circle cx="523.0" cy="817.8" r="5.5"/><circle cx="538.5" cy="839.6" r="5.5"/><circle cx="540.3" cy="836.1" r="5.5"/><circle cx="541.9" cy="841.9" r="5.5"/><circle cx="522.6" cy="827.3" r="5.5"/><circle cx="532.9" cy="823.5" r="5.5"/><circle cx="529.2" cy="816.3" r="5.5"/><circle cx="528.4" cy="821.7" r="5.5"/><circle cx="539.9" cy="823.0" r="5.5"/><circle cx="544.4" cy="837.6" r="5.5"/><circle cx="522.5" cy="831.5" r="5.5"/><circle cx="537.3" cy="827.3" r="5.5"/><circle cx="521.5" cy="825.7" r="5.5"/><circle cx="532.1" cy="825.8" r="5.5"/><circle cx="528.6" cy="824.0" r="5.5"/><circle cx="517.2" cy="823.4" r="5.5"/><circle cx="522.1" cy="821.0" r="5.5"/><circle cx="532.6" cy="833.7" r="5.5"/><circle cx="548.6" cy="847.1" r="5.5"/><circle cx="532.1" cy="833.2" r="5.5"/><circle cx="521.9" cy="830.9" r="5.5"/><circle cx="558.6" cy="858.6" r="5.5"/><circle cx="534.3" cy="829.2" r="5.5"/><circle cx="527.2" cy="807.1" r="5.5"/><circle cx="537.2" cy="838.3" r="5.5"/><circle cx="532.2" cy="832.3" r="5.5"/><circle cx="534.8" cy="834.8" r="5.5"/><circle cx="530.9" cy="834.7" r="5.5"/><circle cx="535.5" cy="822.7" r="5.5"/><circle cx="548.5" cy="828.7" r="5.5"/><circle cx="528.3" cy="824.6" r="5.5"/><circle cx="528.7" cy="817.0" r="5.5"/><circle cx="536.5" cy="823.6" r="5.5"/><circle cx="531.9" cy="827.6" r="5.5"/><circle cx="549.2" cy="845.8" r="5.5"/><circle cx="552.0" cy="850.9" r="5.5"/><circle cx="520.8" cy="833.7" r="5.5"/><circle cx="527.9" cy="831.7" r="5.5"/><circle cx="523.7" cy="830.3" r="5.5"/>
</g>
<g class="c14">
<circle cx="475.1" cy="410.5" r="5.5"/><circle cx="472.7" cy="408.6" r="5.5"/><circle cx="541.0" cy="364.9" r="5.5"/><circle cx="547.3" cy="398.2" r="5.5"/><circle cx="471.5" cy="395.4" r="5.5"/><circle cx="454.5" cy="400.3" r="5.5"/><circle cx="473.4" cy="388.4" r="5.5"/><circle cx="539.2" cy="392.0" r="5.5"/><circle cx="545.2" cy="376.2" r="5.5"/><circle cx="543.1" cy="365.4" r="5.5"/><circle cx="464.3" cy="408.8" r="5.5"/><circle cx="546.5" cy="369.1" r="5.5"/><circle cx="461.4" cy="402.6" r="5.5"/><circle cx="539.9" cy="383.5" r="5.5"/><circle cx="534.6" cy="380.9" r="5.5"/><circle cx="532.0" cy="400.6" r="5.5"/><circle cx="534.8" cy="385.7" r="5.5"/><circle cx="473.4" cy="400.1" r="5.5"/><circle cx="456.8" cy="403.1" r="5.5"/><circle cx="460.9" cy="418.6" r="5.5"/><circle cx="524.9" cy="400.5" r="5.5"/><circle cx="534.6" cy="376.2" r="5.5"/><circle cx="456.8" cy="379.3" r="5.5"/><circle cx="465.9" cy="401.4" r="5.5"/><circle cx="522.8" cy="399.0" r="5.5"/><circle cx="538.4" cy="377.5" r="5.5"/><circle cx="457.4" cy="392.2" r="5.5"/><circle cx="544.9" cy="381.9" r="5.5"/><circle cx="470.3" cy="401.8" r="5.5"/><circle cx="546.6" cy="402.0" r="5.5"/><circle cx="540.3" cy="397.4" r="5.5"/><circle cx="455.0" cy="406.5" r="5.5"/><circle cx="538.5" cy="403.9" r="5.5"/><circle cx="543.2" cy="400.1" r="5.5"/><circle cx="453.7" cy="408.6" r="5.5"/><circle cx="469.5" cy="406.6" r="5.5"/><circle cx="534.0" cy="400.9" r="5.5"/><circle cx="455.5" cy="400.7" r="5.5"/><circle cx="536.5" cy="406.2" r="5.5"/><circle cx="468.1" cy="400.0" r="5.5"/><circle cx="534.0" cy="411.7" r="5.5"/><circle cx="547.4" cy="383.4" r="5.5"/><circle cx="471.6" cy="386.5" r="5.5"/><circle cx="548.8" cy="403.2" r="5.5"/><circle cx="452.0" cy="398.6" r="5.5"/><circle cx="543.2" cy="404.8" r="5.5"/><circle cx="524.8" cy="404.9" r="5.5"/><circle cx="527.9" cy="390.5" r="5.5"/><circle cx="526.6" cy="369.8" r="5.5"/><circle cx="449.6" cy="408.9" r="5.5"/><circle cx="527.2" cy="376.6" r="5.5"/><circle cx="521.0" cy="396.1" r="5.5"/><circle cx="460.4" cy="382.0" r="5.5"/>
</g>
<g class="c15">
<circle cx="892.5" cy="342.5" r="5.5"/><circle cx="921.8" cy="321.0" r="5.5"/><circle cx="923.8" cy="319.3" r="5.5"/><circle cx="920.9" cy="318.9" r="5.5"/><circle cx="925.6" cy="316.5" r="5.5"/><circle cx="922.6" cy="316.1" r="5.5"/><circle cx="923.7" cy="319.8" r="5.5"/><circle cx="922.6" cy="320.3" r="5.5"/><circle cx="915.3" cy="320.8" r="5.5"/><circle cx="918.7" cy="322.6" r="5.5"/><circle cx="918.2" cy="319.2" r="5.5"/>
</g>
<g class="c16">
<circle cx="757.1" cy="604.1" r="5.5"/><circle cx="712.5" cy="586.3" r="5.5"/><circle cx="734.0" cy="616.5" r="5.5"/><circle cx="777.3" cy="611.3" r="5.5"/><circle cx="699.7" cy="565.8" r="5.5"/><circle cx="772.7" cy="604.5" r="5.5"/><circle cx="746.6" cy="468.7" r="5.5"/><circle cx="768.2" cy="617.0" r="5.5"/><circle cx="705.0" cy="596.4" r="5.5"/><circle cx="817.1" cy="597.6" r="5.5"/><circle cx="697.1" cy="532.1" r="5.5"/><circle cx="744.9" cy="576.2" r="5.5"/><circle cx="749.1" cy="612.1" r="5.5"/><circle cx="740.5" cy="623.2" r="5.5"/><circle cx="706.6" cy="600.5" r="5.5"/><circle cx="731.3" cy="532.8" r="5.5"/><circle cx="808.3" cy="528.4" r="5.5"/><circle cx="786.3" cy="527.7" r="5.5"/><circle cx="776.5" cy="582.2" r="5.5"/><circle cx="687.4" cy="617.3" r="5.5"/><circle cx="763.8" cy="546.7" r="5.5"/><circle cx="746.6" cy="534.0" r="5.5"/><circle cx="712.7" cy="564.7" r="5.5"/><circle cx="651.0" cy="566.6" r="5.5"/><circle cx="793.9" cy="518.3" r="5.5"/><circle cx="750.1" cy="521.7" r="5.5"/><circle cx="687.8" cy="507.4" r="5.5"/><circle cx="765.4" cy="491.4" r="5.5"/><circle cx="769.3" cy="599.3" r="5.5"/><circle cx="757.8" cy="607.2" r="5.5"/><circle cx="766.7" cy="470.2" r="5.5"/><circle cx="766.9" cy="571.5" r="5.5"/><circle cx="712.0" cy="535.3" r="5.5"/><circle cx="734.6" cy="555.3" r="5.5"/><circle cx="773.4" cy="502.2" r="5.5"/><circle cx="726.6" cy="623.1" r="5.5"/><circle cx="803.7" cy="547.3" r="5.5"/><circle cx="761.1" cy="575.6" r="5.5"/><circle cx="672.0" cy="534.8" r="5.5"/><circle cx="675.5" cy="626.6" r="5.5"/><circle cx="800.2" cy="621.0" r="5.5"/><circle cx="774.2" cy="619.9" r="5.5"/><circle cx="738.8" cy="531.8" r="5.5"/><circle cx="750.0" cy="601.3" r="5.5"/><circle cx="690.6" cy="633.6" r="5.5"/><circle cx="728.5" cy="567.8" r="5.5"/><circle cx="790.8" cy="580.5" r="5.5"/><circle cx="784.2" cy="606.1" r="5.5"/><circle cx="779.1" cy="489.5" r="5.5"/><circle cx="690.1" cy="632.7" r="5.5"/><circle cx="712.5" cy="542.5" r="5.5"/><circle cx="699.3" cy="590.9" r="5.5"/><circle cx="691.3" cy="625.0" r="5.5"/><circle cx="743.6" cy="468.4" r="5.5"/><circle cx="738.8" cy="626.1" r="5.5"/><circle cx="790.0" cy="590.1" r="5.5"/><circle cx="806.5" cy="588.3" r="5.5"/><circle cx="737.3" cy="502.1" r="5.5"/><circle cx="724.9" cy="500.8" r="5.5"/><circle cx="699.0" cy="557.9" r="5.5"/><circle cx="764.4" cy="606.9" r="5.5"/><circle cx="696.9" cy="622.3" r="5.5"/><circle cx="793.5" cy="599.0" r="5.5"/><circle cx="717.3" cy="635.3" r="5.5"/><circle cx="712.7" cy="574.2" r="5.5"/><circle cx="680.5" cy="527.1" r="5.5"/><circle cx="799.9" cy="551.0" r="5.5"/><circle cx="794.8" cy="585.9" r="5.5"/><circle cx="659.1" cy="559.4" r="5.5"/><circle cx="761.5" cy="484.4" r="5.5"/><circle cx="766.7" cy="465.6" r="5.5"/><circle cx="727.2" cy="556.0" r="5.5"/><circle cx="764.5" cy="576.5" r="5.5"/><circle cx="756.3" cy="540.1" r="5.5"/><circle cx="754.1" cy="566.1" r="5.5"/><circle cx="744.4" cy="496.0" r="5.5"/><circle cx="687.0" cy="597.6" r="5.5"/><circle cx="679.1" cy="567.8" r="5.5"/><circle cx="779.8" cy="613.5" r="5.5"/><circle cx="751.0" cy="481.9" r="5.5"/><circle cx="699.4" cy="610.3" r="5.5"/><circle cx="712.6" cy="573.3" r="5.5"/><circle cx="738.8" cy="644.3" r="5.5"/><circle cx="692.3" cy="514.7" r="5.5"/><circle cx="727.7" cy="537.9" r="5.5"/><circle cx="770.0" cy="593.6" r="5.5"/><circle cx="787.8" cy="531.1" r="5.5"/><circle cx="796.6" cy="590.4" r="5.5"/><circle cx="710.4" cy="479.1" r="5.5"/><circle cx="713.8" cy="623.5" r="5.5"/><circle cx="711.4" cy="576.9" r="5.5"/><circle cx="796.3" cy="624.6" r="5.5"/><circle cx="727.9" cy="487.5" r="5.5"/><circle cx="690.0" cy="594.4" r="5.5"/><circle cx="775.4" cy="539.7" r="5.5"/><circle cx="751.0" cy="624.8" r="5.5"/><circle cx="723.8" cy="629.0" r="5.5"/><circle cx="788.6" cy="581.9" r="5.5"/><circle cx="749.0" cy="493.9" r="5.5"/><circle cx="762.8" cy="583.6" r="5.5"/><circle cx="726.7" cy="643.1" r="5.5"/><circle cx="685.1" cy="612.4" r="5.5"/><circle cx="699.8" cy="584.1" r="5.5"/><circle cx="784.6" cy="521.5" r="5.5"/><circle cx="795.6" cy="505.9" r="5.5"/><circle cx="674.9" cy="527.5" r="5.5"/><circle cx="760.9" cy="527.2" r="5.5"/><circle cx="789.1" cy="545.9" r="5.5"/><circle cx="756.1" cy="510.7" r="5.5"/><circle cx="750.7" cy="506.4" r="5.5"/><circle cx="811.9" cy="602.2" r="5.5"/><circle cx="704.3" cy="591.2" r="5.5"/><circle cx="711.8" cy="568.6" r="5.5"/><circle cx="771.3" cy="605.6" r="5.5"/><circle cx="705.7" cy="558.6" r="5.5"/><circle cx="690.7" cy="636.1" r="5.5"/><circle cx="718.6" cy="651.3" r="5.5"/><circle cx="749.1" cy="596.1" r="5.5"/><circle cx="746.2" cy="589.5" r="5.5"/><circle cx="765.7" cy="621.2" r="5.5"/><circle cx="686.1" cy="562.2" r="5.5"/><circle cx="680.6" cy="634.4" r="5.5"/><circle cx="769.1" cy="617.7" r="5.5"/><circle cx="701.6" cy="559.2" r="5.5"/><circle cx="783.0" cy="618.6" r="5.5"/><circle cx="656.8" cy="558.5" r="5.5"/><circle cx="808.1" cy="568.8" r="5.5"/><circle cx="777.4" cy="518.6" r="5.5"/><circle cx="764.6" cy="520.1" r="5.5"/><circle cx="776.7" cy="528.7" r="5.5"/><circle cx="801.9" cy="555.1" r="5.5"/><circle cx="767.2" cy="623.3" r="5.5"/><circle cx="717.2" cy="654.3" r="5.5"/><circle cx="769.6" cy="510.9" r="5.5"/><circle cx="752.2" cy="613.2" r="5.5"/><circle cx="800.6" cy="573.6" r="5.5"/><circle cx="761.5" cy="522.1" r="5.5"/><circle cx="774.6" cy="551.7" r="5.5"/><circle cx="789.3" cy="559.4" r="5.5"/><circle cx="687.3" cy="606.4" r="5.5"/><circle cx="726.7" cy="571.6" r="5.5"/><circle cx="777.2" cy="595.5" r="5.5"/><circle cx="799.0" cy="541.5" r="5.5"/><circle cx="729.5" cy="609.6" r="5.5"/><circle cx="745.6" cy="563.5" r="5.5"/><circle cx="741.4" cy="630.7" r="5.5"/><circle cx="676.9" cy="524.5" r="5.5"/><circle cx="736.4" cy="517.8" r="5.5"/><circle cx="726.9" cy="492.0" r="5.5"/><circle cx="724.5" cy="662.6" r="5.5"/><circle cx="718.4" cy="642.5" r="5.5"/><circle cx="794.5" cy="539.9" r="5.5"/><circle cx="721.2" cy="569.6" r="5.5"/><circle cx="759.4" cy="523.5" r="5.5"/><circle cx="757.0" cy="554.4" r="5.5"/><circle cx="669.7" cy="596.6" r="5.5"/><circle cx="754.7" cy="578.4" r="5.5"/><circle cx="711.3" cy="603.7" r="5.5"/><circle cx="675.1" cy="551.1" r="5.5"/><circle cx="811.6" cy="535.6" r="5.5"/><circle cx="767.5" cy="543.9" r="5.5"/><circle cx="753.1" cy="654.4" r="5.5"/><circle cx="766.8" cy="623.7" r="5.5"/><circle cx="803.5" cy="521.4" r="5.5"/><circle cx="732.3" cy="480.3" r="5.5"/><circle cx="756.9" cy="651.6" r="5.5"/><circle cx="708.3" cy="622.1" r="5.5"/><circle cx="769.7" cy="480.9" r="5.5"/><circle cx="653.5" cy="564.0" r="5.5"/><circle cx="759.5" cy="609.8" r="5.5"/><circle cx="698.1" cy="620.5" r="5.5"/><circle cx="755.9" cy="610.9" r="5.5"/><circle cx="684.5" cy="525.1" r="5.5"/><circle cx="806.6" cy="602.2" r="5.5"/><circle cx="664.9" cy="557.4" r="5.5"/><circle cx="752.4" cy="611.1" r="5.5"/><circle cx="753.4" cy="491.0" r="5.5"/><circle cx="649.3" cy="550.7" r="5.5"/><circle cx="736.2" cy="590.0" r="5.5"/><circle cx="715.8" cy="494.9" r="5.5"/><circle cx="783.9" cy="621.5" r="5.5"/><circle cx="754.9" cy="622.7" r="5.5"/><circle cx="785.2" cy="507.4" r="5.5"/><circle cx="730.8" cy="484.4" r="5.5"/><circle cx="714.9" cy="557.8" r="5.5"/><circle cx="703.4" cy="573.1" r="5.5"/><circle cx="710.2" cy="638.5" r="5.5"/><circle cx="787.1" cy="521.3" r="5.5"/><circle cx="702.7" cy="511.7" r="5.5"/><circle cx="752.4" cy="586.3" r="5.5"/><circle cx="781.8" cy="629.1" r="5.5"/><circle cx="716.9" cy="449.3" r="5.5"/><circle cx="700.5" cy="544.6" r="5.5"/><circle cx="688.1" cy="616.7" r="5.5"/><circle cx="748.0" cy="525.0" r="5.5"/><circle cx="696.6" cy="604.2" r="5.5"/><circle cx="753.9" cy="568.9" r="5.5"/><circle cx="793.3" cy="633.7" r="5.5"/><circle cx="711.7" cy="500.8" r="5.5"/><circle cx="794.5" cy="551.2" r="5.5"/><circle cx="798.2" cy="586.2" r="5.5"/><circle cx="784.2" cy="496.2" r="5.5"/><circle cx="747.9" cy="596.8" r="5.5"/><circle cx="722.7" cy="450.7" r="5.5"/><circle cx="745.4" cy="525.0" r="5.5"/><circle cx="811.3" cy="590.9" r="5.5"/><circle cx="775.2" cy="511.1" r="5.5"/><circle cx="764.3" cy="591.1" r="5.5"/><circle cx="793.7" cy="514.0" r="5.5"/><circle cx="781.7" cy="613.8" r="5.5"/><circle cx="720.2" cy="610.0" r="5.5"/><circle cx="781.6" cy="610.7" r="5.5"/><circle cx="714.5" cy="578.5" r="5.5"/><circle cx="790.5" cy="623.6" r="5.5"/><circle cx="749.1" cy="518.3" r="5.5"/><circle cx="715.0" cy="613.4" r="5.5"/><circle cx="766.2" cy="586.6" r="5.5"/><circle cx="768.1" cy="589.8" r="5.5"/><circle cx="757.6" cy="568.7" r="5.5"/><circle cx="737.1" cy="597.3" r="5.5"/><circle cx="685.8" cy="581.9" r="5.5"/><circle cx="810.6" cy="566.2" r="5.5"/><circle cx="788.3" cy="561.8" r="5.5"/><circle cx="765.1" cy="559.3" r="5.5"/><circle cx="684.9" cy="596.4" r="5.5"/><circle cx="790.6" cy="618.0" r="5.5"/><circle cx="794.8" cy="590.9" r="5.5"/><circle cx="699.7" cy="566.7" r="5.5"/><circle cx="740.9" cy="640.8" r="5.5"/><circle cx="743.3" cy="571.3" r="5.5"/><circle cx="730.2" cy="456.0" r="5.5"/><circle cx="781.2" cy="600.5" r="5.5"/><circle cx="771.9" cy="496.2" r="5.5"/><circle cx="708.2" cy="550.3" r="5.5"/><circle cx="706.6" cy="649.8" r="5.5"/><circle cx="726.1" cy="552.9" r="5.5"/><circle cx="775.4" cy="556.8" r="5.5"/><circle cx="793.6" cy="505.6" r="5.5"/><circle cx="713.0" cy="631.5" r="5.5"/><circle cx="747.8" cy="557.9" r="5.5"/><circle cx="714.0" cy="558.2" r="5.5"/><circle cx="771.9" cy="632.3" r="5.5"/><circle cx="745.5" cy="540.8" r="5.5"/><circle cx="749.6" cy="600.1" r="5.5"/><circle cx="790.4" cy="596.3" r="5.5"/><circle cx="745.2" cy="641.7" r="5.5"/><circle cx="746.3" cy="631.7" r="5.5"/><circle cx="743.9" cy="515.5" r="5.5"/><circle cx="764.9" cy="511.3" r="5.5"/><circle cx="675.7" cy="587.5" r="5.5"/><circle cx="740.3" cy="538.3" r="5.5"/><circle cx="748.3" cy="632.0" r="5.5"/><circle cx="753.9" cy="509.1" r="5.5"/><circle cx="709.3" cy="567.1" r="5.5"/><circle cx="736.7" cy="478.0" r="5.5"/><circle cx="720.9" cy="479.2" r="5.5"/><circle cx="762.1" cy="501.7" r="5.5"/><circle cx="753.5" cy="507.3" r="5.5"/><circle cx="741.2" cy="644.7" r="5.5"/><circle cx="709.1" cy="599.0" r="5.5"/><circle cx="764.1" cy="590.3" r="5.5"/><circle cx="735.0" cy="536.4" r="5.5"/><circle cx="795.5" cy="547.2" r="5.5"/><circle cx="699.0" cy="485.5" r="5.5"/><circle cx="786.4" cy="500.2" r="5.5"/><circle cx="757.9" cy="500.2" r="5.5"/><circle cx="715.2" cy="503.0" r="5.5"/><circle cx="742.5" cy="516.5" r="5.5"/><circle cx="726.6" cy="644.5" r="5.5"/><circle cx="768.4" cy="518.3" r="5.5"/><circle cx="760.2" cy="560.6" r="5.5"/><circle cx="778.3" cy="545.0" r="5.5"/><circle cx="737.1" cy="512.7" r="5.5"/><circle cx="718.5" cy="476.2" r="5.5"/><circle cx="723.1" cy="570.3" r="5.5"/><circle cx="780.2" cy="585.4" r="5.5"/><circle cx="706.5" cy="543.7" r="5.5"/><circle cx="797.0" cy="618.7" r="5.5"/><circle cx="735.1" cy="605.1" r="5.5"/><circle cx="719.9" cy="647.1" r="5.5"/><circle cx="759.6" cy="533.6" r="5.5"/><circle cx="739.9" cy="530.4" r="5.5"/><circle cx="738.7" cy="506.0" r="5.5"/><circle cx="766.5" cy="620.6" r="5.5"/><circle cx="680.4" cy="576.3" r="5.5"/><circle cx="724.0" cy="575.1" r="5.5"/><circle cx="720.9" cy="619.4" r="5.5"/><circle cx="699.1" cy="541.9" r="5.5"/><circle cx="809.3" cy="565.3" r="5.5"/><circle cx="666.9" cy="596.1" r="5.5"/><circle cx="749.9" cy="536.7" r="5.5"/><circle cx="766.2" cy="497.9" r="5.5"/><circle cx="729.0" cy="506.7" r="5.5"/><circle cx="744.8" cy="466.0" r="5.5"/><circle cx="752.7" cy="560.7" r="5.5"/><circle cx="722.4" cy="466.9" r="5.5"/><circle cx="766.2" cy="506.4" r="5.5"/><circle cx="722.1" cy="580.2" r="5.5"/><circle cx="675.5" cy="606.5" r="5.5"/><circle cx="716.6" cy="546.8" r="5.5"/><circle cx="807.6" cy="597.1" r="5.5"/><circle cx="784.1" cy="617.8" r="5.5"/><circle cx="707.2" cy="573.4" r="5.5"/><circle cx="720.2" cy="544.1" r="5.5"/><circle cx="706.0" cy="595.2" r="5.5"/><circle cx="770.2" cy="532.0" r="5.5"/><circle cx="719.2" cy="569.2" r="5.5"/><circle cx="716.2" cy="604.1" r="5.5"/><circle cx="705.7" cy="508.0" r="5.5"/><circle cx="575.0" cy="565.0" r="5.5"/><circle cx="712.9" cy="465.2" r="5.5"/><circle cx="767.5" cy="605.1" r="5.5"/><circle cx="697.8" cy="610.4" r="5.5"/><circle cx="727.1" cy="485.4" r="5.5"/><circle cx="694.2" cy="536.4" r="5.5"/><circle cx="776.8" cy="521.5" r="5.5"/><circle cx="764.6" cy="613.0" r="5.5"/><circle cx="697.7" cy="622.3" r="5.5"/><circle cx="794.9" cy="536.7" r="5.5"/><circle cx="695.1" cy="642.2" r="5.5"/><circle cx="670.0" cy="603.4" r="5.5"/><circle cx="786.0" cy="605.0" r="5.5"/><circle cx="779.5" cy="497.0" r="5.5"/><circle cx="752.5" cy="629.1" r="5.5"/><circle cx="707.1" cy="608.2" r="5.5"/><circle cx="721.2" cy="589.3" r="5.5"/><circle cx="701.1" cy="618.7" r="5.5"/><circle cx="700.4" cy="648.6" r="5.5"/><circle cx="730.8" cy="598.7" r="5.5"/><circle cx="720.9" cy="547.1" r="5.5"/><circle cx="720.0" cy="488.8" r="5.5"/><circle cx="778.2" cy="629.5" r="5.5"/><circle cx="685.5" cy="592.2" r="5.5"/><circle cx="707.3" cy="631.0" r="5.5"/><circle cx="796.8" cy="610.2" r="5.5"/><circle cx="760.6" cy="551.7" r="5.5"/><circle cx="740.0" cy="462.7" r="5.5"/><circle cx="746.9" cy="625.8" r="5.5"/><circle cx="717.9" cy="601.1" r="5.5"/><circle cx="715.3" cy="607.7" r="5.5"/><circle cx="687.2" cy="615.0" r="5.5"/><circle cx="706.0" cy="582.1" r="5.5"/><circle cx="784.7" cy="536.4" r="5.5"/><circle cx="790.5" cy="578.7" r="5.5"/><circle cx="712.3" cy="567.9" r="5.5"/><circle cx="725.7" cy="658.2" r="5.5"/><circle cx="747.4" cy="583.5" r="5.5"/><circle cx="802.6" cy="592.7" r="5.5"/><circle cx="717.0" cy="637.1" r="5.5"/><circle cx="744.0" cy="460.6" r="5.5"/><circle cx="724.4" cy="487.6" r="5.5"/><circle cx="736.1" cy="640.6" r="5.5"/><circle cx="783.9" cy="512.6" r="5.5"/><circle cx="804.9" cy="564.1" r="5.5"/><circle cx="689.3" cy="557.0" r="5.5"/><circle cx="702.8" cy="573.8" r="5.5"/><circle cx="732.9" cy="494.5" r="5.5"/>
</g>
<g class="c17">
<circle cx="704.0" cy="431.0" r="5.5"/><circle cx="642.0" cy="482.4" r="5.5"/><circle cx="547.1" cy="493.4" r="5.5"/><circle cx="685.2" cy="446.5" r="5.5"/><circle cx="572.5" cy="461.6" r="5.5"/><circle cx="610.5" cy="505.6" r="5.5"/><circle cx="555.7" cy="444.1" r="5.5"/><circle cx="619.3" cy="449.6" r="5.5"/><circle cx="629.5" cy="487.1" r="5.5"/><circle cx="648.1" cy="531.4" r="5.5"/><circle cx="548.3" cy="488.3" r="5.5"/><circle cx="558.1" cy="533.2" r="5.5"/><circle cx="623.8" cy="493.5" r="5.5"/><circle cx="639.2" cy="519.6" r="5.5"/><circle cx="579.7" cy="554.3" r="5.5"/><circle cx="607.0" cy="434.1" r="5.5"/><circle cx="571.7" cy="500.6" r="5.5"/><circle cx="636.4" cy="504.2" r="5.5"/><circle cx="603.4" cy="440.8" r="5.5"/><circle cx="676.0" cy="476.5" r="5.5"/><circle cx="624.3" cy="530.2" r="5.5"/><circle cx="609.4" cy="475.2" r="5.5"/><circle cx="578.3" cy="442.5" r="5.5"/><circle cx="590.0" cy="572.2" r="5.5"/><circle cx="665.2" cy="452.4" r="5.5"/><circle cx="629.5" cy="506.6" r="5.5"/><circle cx="611.0" cy="472.0" r="5.5"/><circle cx="617.2" cy="470.7" r="5.5"/><circle cx="660.1" cy="423.2" r="5.5"/><circle cx="579.6" cy="425.9" r="5.5"/><circle cx="575.1" cy="566.0" r="5.5"/><circle cx="578.8" cy="443.9" r="5.5"/><circle cx="597.2" cy="510.6" r="5.5"/><circle cx="637.3" cy="459.3" r="5.5"/><circle cx="596.4" cy="465.1" r="5.5"/><circle cx="540.9" cy="477.6" r="5.5"/><circle cx="595.7" cy="552.7" r="5.5"/><circle cx="559.9" cy="536.9" r="5.5"/><circle cx="648.8" cy="425.7" r="5.5"/><circle cx="546.8" cy="501.5" r="5.5"/><circle cx="629.5" cy="470.8" r="5.5"/><circle cx="678.8" cy="435.6" r="5.5"/><circle cx="546.4" cy="466.7" r="5.5"/><circle cx="621.9" cy="432.6" r="5.5"/><circle cx="613.4" cy="528.3" r="5.5"/><circle cx="613.6" cy="508.1" r="5.5"/><circle cx="599.4" cy="434.3" r="5.5"/><circle cx="650.6" cy="463.2" r="5.5"/><circle cx="575.0" cy="526.4" r="5.5"/><circle cx="593.6" cy="516.7" r="5.5"/><circle cx="663.6" cy="497.7" r="5.5"/><circle cx="602.1" cy="458.8" r="5.5"/><circle cx="604.6" cy="548.4" r="5.5"/><circle cx="641.1" cy="526.2" r="5.5"/><circle cx="608.6" cy="438.3" r="5.5"/><circle cx="615.1" cy="530.0" r="5.5"/><circle cx="652.0" cy="530.7" r="5.5"/><circle cx="547.3" cy="474.4" r="5.5"/><circle cx="570.1" cy="507.4" r="5.5"/><circle cx="570.9" cy="452.8" r="5.5"/><circle cx="569.0" cy="495.6" r="5.5"/><circle cx="611.0" cy="591.3" r="5.5"/><circle cx="547.1" cy="489.9" r="5.5"/><circle cx="630.9" cy="494.7" r="5.5"/><circle cx="568.6" cy="468.8" r="5.5"/><circle cx="622.5" cy="539.4" r="5.5"/><circle cx="576.3" cy="539.8" r="5.5"/><circle cx="574.6" cy="529.5" r="5.5"/><circle cx="558.1" cy="545.3" r="5.5"/><circle cx="561.0" cy="501.8" r="5.5"/><circle cx="649.4" cy="505.2" r="5.5"/><circle cx="639.1" cy="496.2" r="5.5"/><circle cx="668.6" cy="496.5" r="5.5"/><circle cx="543.0" cy="525.4" r="5.5"/><circle cx="670.6" cy="438.8" r="5.5"/><circle cx="662.0" cy="444.6" r="5.5"/><circle cx="590.0" cy="588.0" r="5.5"/><circle cx="634.9" cy="450.9" r="5.5"/><circle cx="626.0" cy="488.0" r="5.5"/><circle cx="639.0" cy="510.1" r="5.5"/><circle cx="585.9" cy="528.8" r="5.5"/><circle cx="690.0" cy="444.3" r="5.5"/><circle cx="654.4" cy="469.1" r="5.5"/><circle cx="675.1" cy="453.4" r="5.5"/><circle cx="621.4" cy="536.0" r="5.5"/><circle cx="576.3" cy="536.3" r="5.5"/><circle cx="600.9" cy="493.2" r="5.5"/><circle cx="633.4" cy="462.2" r="5.5"/><circle cx="622.3" cy="486.9" r="5.5"/><circle cx="586.2" cy="489.2" r="5.5"/><circle cx="618.4" cy="555.9" r="5.5"/><circle cx="613.1" cy="494.0" r="5.5"/><circle cx="595.0" cy="511.5" r="5.5"/><circle cx="530.4" cy="496.9" r="5.5"/><circle cx="642.7" cy="465.8" r="5.5"/><circle cx="563.0" cy="479.9" r="5.5"/><circle cx="721.2" cy="428.9" r="5.5"/><circle cx="627.7" cy="451.0" r="5.5"/><circle cx="658.5" cy="497.2" r="5.5"/><circle cx="605.1" cy="484.7" r="5.5"/><circle cx="647.8" cy="483.3" r="5.5"/><circle cx="558.2" cy="463.3" r="5.5"/><circle cx="611.7" cy="436.5" r="5.5"/><circle cx="635.9" cy="453.3" r="5.5"/><circle cx="649.3" cy="515.5" r="5.5"/><circle cx="529.7" cy="487.7" r="5.5"/><circle cx="550.3" cy="472.3" r="5.5"/><circle cx="572.4" cy="476.6" r="5.5"/><circle cx="606.8" cy="444.5" r="5.5"/><circle cx="586.4" cy="449.9" r="5.5"/><circle cx="647.2" cy="473.6" r="5.5"/><circle cx="541.4" cy="514.1" r="5.5"/><circle cx="568.9" cy="542.3" r="5.5"/><circle cx="671.2" cy="439.4" r="5.5"/><circle cx="630.4" cy="486.4" r="5.5"/><circle cx="580.6" cy="550.3" r="5.5"/><circle cx="599.8" cy="519.9" r="5.5"/><circle cx="587.7" cy="430.4" r="5.5"/><circle cx="664.2" cy="451.5" r="5.5"/><circle cx="623.3" cy="559.3" r="5.5"/><circle cx="591.3" cy="562.7" r="5.5"/><circle cx="582.9" cy="437.8" r="5.5"/><circle cx="665.2" cy="434.6" r="5.5"/><circle cx="589.4" cy="481.7" r="5.5"/><circle cx="605.1" cy="537.3" r="5.5"/><circle cx="620.6" cy="542.2" r="5.5"/><circle cx="588.8" cy="429.8" r="5.5"/><circle cx="533.2" cy="479.8" r="5.5"/><circle cx="639.9" cy="438.4" r="5.5"/><circle cx="637.5" cy="569.9" r="5.5"/><circle cx="595.0" cy="452.2" r="5.5"/><circle cx="629.7" cy="438.2" r="5.5"/><circle cx="622.3" cy="547.2" r="5.5"/><circle cx="609.4" cy="547.6" r="5.5"/><circle cx="541.4" cy="497.6" r="5.5"/><circle cx="635.1" cy="469.0" r="5.5"/><circle cx="567.8" cy="491.6" r="5.5"/><circle cx="610.7" cy="445.2" r="5.5"/><circle cx="612.0" cy="585.0" r="5.5"/><circle cx="596.8" cy="498.1" r="5.5"/><circle cx="649.9" cy="492.4" r="5.5"/><circle cx="634.7" cy="434.1" r="5.5"/><circle cx="584.8" cy="483.0" r="5.5"/><circle cx="585.0" cy="441.3" r="5.5"/><circle cx="565.5" cy="444.5" r="5.5"/><circle cx="674.1" cy="428.1" r="5.5"/><circle cx="610.4" cy="486.7" r="5.5"/><circle cx="650.0" cy="417.2" r="5.5"/><circle cx="670.3" cy="456.3" r="5.5"/><circle cx="633.3" cy="484.7" r="5.5"/><circle cx="648.6" cy="470.1" r="5.5"/><circle cx="548.1" cy="466.0" r="5.5"/><circle cx="576.8" cy="564.0" r="5.5"/><circle cx="584.2" cy="495.1" r="5.5"/><circle cx="595.5" cy="458.8" r="5.5"/><circle cx="580.1" cy="504.2" r="5.5"/><circle cx="678.6" cy="462.7" r="5.5"/><circle cx="582.5" cy="450.3" r="5.5"/><circle cx="591.7" cy="464.1" r="5.5"/><circle cx="617.7" cy="548.7" r="5.5"/><circle cx="611.6" cy="532.5" r="5.5"/><circle cx="627.4" cy="478.7" r="5.5"/><circle cx="682.0" cy="469.1" r="5.5"/><circle cx="542.0" cy="514.2" r="5.5"/><circle cx="601.2" cy="457.9" r="5.5"/><circle cx="552.8" cy="482.2" r="5.5"/><circle cx="542.6" cy="536.7" r="5.5"/><circle cx="610.2" cy="511.2" r="5.5"/><circle cx="606.1" cy="441.4" r="5.5"/><circle cx="534.5" cy="492.3" r="5.5"/><circle cx="625.5" cy="507.1" r="5.5"/><circle cx="664.1" cy="424.5" r="5.5"/><circle cx="582.0" cy="434.7" r="5.5"/><circle cx="662.9" cy="444.5" r="5.5"/><circle cx="556.5" cy="450.5" r="5.5"/><circle cx="564.9" cy="444.3" r="5.5"/><circle cx="661.0" cy="419.0" r="5.5"/><circle cx="585.1" cy="590.3" r="5.5"/><circle cx="662.7" cy="481.4" r="5.5"/><circle cx="612.0" cy="559.1" r="5.5"/><circle cx="675.1" cy="447.8" r="5.5"/><circle cx="640.4" cy="467.7" r="5.5"/><circle cx="597.3" cy="448.7" r="5.5"/><circle cx="584.1" cy="522.9" r="5.5"/><circle cx="609.4" cy="518.9" r="5.5"/><circle cx="614.6" cy="539.4" r="5.5"/><circle cx="614.4" cy="476.5" r="5.5"/><circle cx="566.6" cy="488.4" r="5.5"/><circle cx="634.9" cy="563.0" r="5.5"/><circle cx="584.0" cy="486.7" r="5.5"/><circle cx="603.1" cy="561.8" r="5.5"/><circle cx="546.4" cy="530.3" r="5.5"/><circle cx="548.7" cy="494.6" r="5.5"/><circle cx="654.3" cy="492.8" r="5.5"/><circle cx="638.4" cy="563.1" r="5.5"/><circle cx="567.6" cy="522.8" r="5.5"/><circle cx="600.0" cy="481.0" r="5.5"/><circle cx="605.9" cy="518.3" r="5.5"/><circle cx="575.5" cy="448.8" r="5.5"/><circle cx="564.5" cy="530.1" r="5.5"/><circle cx="575.4" cy="458.7" r="5.5"/><circle cx="671.0" cy="472.0" r="5.5"/><circle cx="560.9" cy="498.7" r="5.5"/><circle cx="562.7" cy="451.6" r="5.5"/><circle cx="587.6" cy="485.6" r="5.5"/><circle cx="655.6" cy="454.9" r="5.5"/><circle cx="657.3" cy="487.6" r="5.5"/><circle cx="630.1" cy="564.0" r="5.5"/><circle cx="629.9" cy="445.3" r="5.5"/><circle cx="602.3" cy="584.2" r="5.5"/><circle cx="660.6" cy="423.3" r="5.5"/><circle cx="655.5" cy="418.1" r="5.5"/><circle cx="641.6" cy="467.3" r="5.5"/><circle cx="648.2" cy="440.6" r="5.5"/><circle cx="646.1" cy="461.8" r="5.5"/><circle cx="614.8" cy="442.6" r="5.5"/><circle cx="590.1" cy="512.4" r="5.5"/><circle cx="579.2" cy="554.0" r="5.5"/><circle cx="539.4" cy="497.3" r="5.5"/><circle cx="665.1" cy="503.6" r="5.5"/><circle cx="567.2" cy="490.5" r="5.5"/><circle cx="565.3" cy="560.4" r="5.5"/><circle cx="583.5" cy="444.5" r="5.5"/><circle cx="607.2" cy="528.8" r="5.5"/><circle cx="550.7" cy="479.6" r="5.5"/><circle cx="597.2" cy="471.9" r="5.5"/><circle cx="645.7" cy="455.2" r="5.5"/><circle cx="564.8" cy="496.7" r="5.5"/><circle cx="670.0" cy="487.4" r="5.5"/><circle cx="563.3" cy="495.1" r="5.5"/><circle cx="621.7" cy="443.9" r="5.5"/><circle cx="563.5" cy="547.2" r="5.5"/><circle cx="614.1" cy="533.3" r="5.5"/><circle cx="617.1" cy="506.3" r="5.5"/><circle cx="568.2" cy="471.1" r="5.5"/><circle cx="659.3" cy="417.4" r="5.5"/><circle cx="655.7" cy="486.9" r="5.5"/><circle cx="649.7" cy="529.2" r="5.5"/><circle cx="646.7" cy="488.0" r="5.5"/><circle cx="600.9" cy="452.7" r="5.5"/><circle cx="635.3" cy="446.8" r="5.5"/><circle cx="554.3" cy="497.7" r="5.5"/><circle cx="592.5" cy="499.2" r="5.5"/><circle cx="624.9" cy="478.2" r="5.5"/><circle cx="563.0" cy="502.4" r="5.5"/><circle cx="611.9" cy="493.9" r="5.5"/><circle cx="648.7" cy="478.1" r="5.5"/><circle cx="671.2" cy="483.5" r="5.5"/><circle cx="653.8" cy="488.4" r="5.5"/><circle cx="564.2" cy="522.4" r="5.5"/><circle cx="649.7" cy="474.6" r="5.5"/><circle cx="551.7" cy="534.2" r="5.5"/><circle cx="595.8" cy="438.7" r="5.5"/><circle cx="608.9" cy="482.8" r="5.5"/><circle cx="614.6" cy="537.5" r="5.5"/><circle cx="626.5" cy="449.7" r="5.5"/><circle cx="557.5" cy="516.6" r="5.5"/><circle cx="619.1" cy="543.5" r="5.5"/><circle cx="666.4" cy="425.7" r="5.5"/><circle cx="651.9" cy="421.1" r="5.5"/><circle cx="627.2" cy="527.3" r="5.5"/><circle cx="665.7" cy="475.4" r="5.5"/><circle cx="593.8" cy="472.5" r="5.5"/><circle cx="571.2" cy="543.9" r="5.5"/><circle cx="638.9" cy="431.3" r="5.5"/><circle cx="665.3" cy="419.2" r="5.5"/><circle cx="572.4" cy="482.6" r="5.5"/><circle cx="635.4" cy="510.9" r="5.5"/><circle cx="558.5" cy="500.3" r="5.5"/><circle cx="563.7" cy="497.8" r="5.5"/><circle cx="579.3" cy="500.2" r="5.5"/><circle cx="608.5" cy="479.5" r="5.5"/><circle cx="537.2" cy="472.8" r="5.5"/><circle cx="607.0" cy="503.6" r="5.5"/><circle cx="664.4" cy="482.9" r="5.5"/><circle cx="583.0" cy="509.2" r="5.5"/><circle cx="597.0" cy="546.4" r="5.5"/><circle cx="644.6" cy="528.6" r="5.5"/><circle cx="680.0" cy="436.5" r="5.5"/><circle cx="549.2" cy="515.6" r="5.5"/><circle cx="628.8" cy="523.9" r="5.5"/><circle cx="570.3" cy="478.8" r="5.5"/><circle cx="601.3" cy="536.0" r="5.5"/><circle cx="582.7" cy="466.8" r="5.5"/><circle cx="553.2" cy="475.1" r="5.5"/><circle cx="645.9" cy="509.9" r="5.5"/><circle cx="589.0" cy="464.4" r="5.5"/><circle cx="537.8" cy="504.1" r="5.5"/><circle cx="640.6" cy="493.1" r="5.5"/><circle cx="631.3" cy="454.5" r="5.5"/><circle cx="564.0" cy="482.0" r="5.5"/><circle cx="603.8" cy="580.1" r="5.5"/><circle cx="613.5" cy="561.1" r="5.5"/><circle cx="616.4" cy="451.1" r="5.5"/><circle cx="613.2" cy="441.0" r="5.5"/><circle cx="680.5" cy="460.0" r="5.5"/><circle cx="576.8" cy="596.2" r="5.5"/><circle cx="577.1" cy="493.5" r="5.5"/><circle cx="661.0" cy="429.5" r="5.5"/><circle cx="608.9" cy="547.7" r="5.5"/><circle cx="664.8" cy="423.1" r="5.5"/><circle cx="548.3" cy="504.6" r="5.5"/><circle cx="632.8" cy="461.0" r="5.5"/><circle cx="611.6" cy="472.1" r="5.5"/><circle cx="576.2" cy="510.2" r="5.5"/><circle cx="584.4" cy="559.5" r="5.5"/><circle cx="564.0" cy="520.0" r="5.5"/><circle cx="565.7" cy="458.1" r="5.5"/><circle cx="596.5" cy="513.5" r="5.5"/><circle cx="580.8" cy="479.7" r="5.5"/><circle cx="610.5" cy="535.4" r="5.5"/><circle cx="648.2" cy="515.2" r="5.5"/><circle cx="636.2" cy="440.1" r="5.5"/><circle cx="607.0" cy="515.8" r="5.5"/><circle cx="555.0" cy="499.7" r="5.5"/><circle cx="613.8" cy="520.1" r="5.5"/><circle cx="620.0" cy="483.2" r="5.5"/><circle cx="665.0" cy="510.8" r="5.5"/><circle cx="565.3" cy="487.9" r="5.5"/><circle cx="550.6" cy="529.2" r="5.5"/><circle cx="595.6" cy="464.7" r="5.5"/><circle cx="647.6" cy="527.3" r="5.5"/><circle cx="676.5" cy="479.6" r="5.5"/><circle cx="639.2" cy="463.7" r="5.5"/><circle cx="671.3" cy="484.4" r="5.5"/><circle cx="576.4" cy="451.5" r="5.5"/><circle cx="632.6" cy="460.8" r="5.5"/><circle cx="587.0" cy="448.5" r="5.5"/><circle cx="666.9" cy="445.0" r="5.5"/><circle cx="581.5" cy="451.7" r="5.5"/><circle cx="546.1" cy="471.0" r="5.5"/><circle cx="645.1" cy="457.7" r="5.5"/><circle cx="580.0" cy="507.2" r="5.5"/><circle cx="636.4" cy="547.4" r="5.5"/><circle cx="660.1" cy="451.4" r="5.5"/><circle cx="587.6" cy="524.4" r="5.5"/><circle cx="606.9" cy="535.0" r="5.5"/><circle cx="621.8" cy="534.1" r="5.5"/><circle cx="618.0" cy="452.6" r="5.5"/><circle cx="563.9" cy="512.4" r="5.5"/><circle cx="585.2" cy="529.5" r="5.5"/><circle cx="539.6" cy="522.2" r="5.5"/>
</g>
<g class="c18">
<circle cx="663.2" cy="665.2" r="5.5"/><circle cx="667.1" cy="692.0" r="5.5"/><circle cx="613.6" cy="640.1" r="5.5"/><circle cx="641.2" cy="680.3" r="5.5"/><circle cx="599.5" cy="668.4" r="5.5"/><circle cx="629.6" cy="677.7" r="5.5"/><circle cx="629.2" cy="664.2" r="5.5"/><circle cx="667.6" cy="643.3" r="5.5"/><circle cx="654.2" cy="614.8" r="5.5"/><circle cx="623.6" cy="711.4" r="5.5"/><circle cx="572.6" cy="671.7" r="5.5"/><circle cx="632.1" cy="709.0" r="5.5"/><circle cx="657.5" cy="711.2" r="5.5"/><circle cx="652.6" cy="570.4" r="5.5"/><circle cx="525.0" cy="492.0" r="5.5"/><circle cx="678.5" cy="687.1" r="5.5"/><circle cx="572.3" cy="656.6" r="5.5"/><circle cx="649.2" cy="684.6" r="5.5"/><circle cx="592.4" cy="645.4" r="5.5"/><circle cx="627.1" cy="694.6" r="5.5"/><circle cx="574.4" cy="631.6" r="5.5"/><circle cx="573.2" cy="676.2" r="5.5"/><circle cx="568.0" cy="577.5" r="5.5"/><circle cx="690.8" cy="670.1" r="5.5"/><circle cx="607.9" cy="650.0" r="5.5"/><circle cx="642.2" cy="610.8" r="5.5"/><circle cx="586.1" cy="635.4" r="5.5"/><circle cx="669.0" cy="683.2" r="5.5"/><circle cx="676.2" cy="663.0" r="5.5"/><circle cx="647.3" cy="692.8" r="5.5"/><circle cx="630.5" cy="581.0" r="5.5"/><circle cx="591.1" cy="590.2" r="5.5"/><circle cx="643.4" cy="586.6" r="5.5"/><circle cx="560.0" cy="565.0" r="5.5"/><circle cx="629.6" cy="645.3" r="5.5"/><circle cx="593.1" cy="574.1" r="5.5"/><circle cx="649.5" cy="697.8" r="5.5"/><circle cx="666.3" cy="640.4" r="5.5"/><circle cx="650.5" cy="652.6" r="5.5"/><circle cx="568.8" cy="651.2" r="5.5"/><circle cx="619.2" cy="580.8" r="5.5"/><circle cx="623.7" cy="658.8" r="5.5"/><circle cx="629.0" cy="585.6" r="5.5"/><circle cx="591.1" cy="673.5" r="5.5"/><circle cx="619.9" cy="698.6" r="5.5"/><circle cx="608.5" cy="665.9" r="5.5"/><circle cx="655.5" cy="715.4" r="5.5"/><circle cx="679.2" cy="706.0" r="5.5"/><circle cx="651.4" cy="694.2" r="5.5"/><circle cx="588.3" cy="674.0" r="5.5"/><circle cx="620.5" cy="608.2" r="5.5"/><circle cx="586.3" cy="585.5" r="5.5"/><circle cx="653.2" cy="694.7" r="5.5"/><circle cx="690.0" cy="591.0" r="5.5"/><circle cx="638.0" cy="572.9" r="5.5"/><circle cx="649.7" cy="654.8" r="5.5"/><circle cx="630.9" cy="600.4" r="5.5"/><circle cx="665.2" cy="652.7" r="5.5"/><circle cx="602.2" cy="685.1" r="5.5"/><circle cx="640.5" cy="678.7" r="5.5"/><circle cx="647.5" cy="573.0" r="5.5"/><circle cx="674.8" cy="649.6" r="5.5"/><circle cx="630.6" cy="632.9" r="5.5"/><circle cx="592.9" cy="635.4" r="5.5"/><circle cx="621.1" cy="635.3" r="5.5"/><circle cx="513.0" cy="333.0" r="5.5"/><circle cx="610.9" cy="690.9" r="5.5"/><circle cx="636.5" cy="700.9" r="5.5"/><circle cx="652.8" cy="721.5" r="5.5"/><circle cx="578.9" cy="648.6" r="5.5"/><circle cx="646.1" cy="641.5" r="5.5"/><circle cx="637.9" cy="652.9" r="5.5"/><circle cx="642.4" cy="664.3" r="5.5"/><circle cx="662.4" cy="695.2" r="5.5"/><circle cx="604.7" cy="692.7" r="5.5"/><circle cx="638.2" cy="720.5" r="5.5"/><circle cx="636.4" cy="635.5" r="5.5"/><circle cx="636.1" cy="620.5" r="5.5"/><circle cx="581.3" cy="669.2" r="5.5"/><circle cx="657.7" cy="613.8" r="5.5"/><circle cx="662.2" cy="658.2" r="5.5"/><circle cx="579.1" cy="627.3" r="5.5"/><circle cx="585.2" cy="663.2" r="5.5"/><circle cx="607.5" cy="685.3" r="5.5"/><circle cx="684.6" cy="692.5" r="5.5"/><circle cx="572.2" cy="654.4" r="5.5"/><circle cx="674.5" cy="694.6" r="5.5"/><circle cx="604.5" cy="686.1" r="5.5"/><circle cx="631.0" cy="579.6" r="5.5"/><circle cx="658.1" cy="728.0" r="5.5"/><circle cx="649.1" cy="672.5" r="5.5"/><circle cx="599.4" cy="700.6" r="5.5"/><circle cx="660.3" cy="675.7" r="5.5"/><circle cx="658.6" cy="713.4" r="5.5"/><circle cx="656.4" cy="670.5" r="5.5"/><circle cx="651.8" cy="663.9" r="5.5"/><circle cx="634.7" cy="647.7" r="5.5"/><circle cx="624.6" cy="652.3" r="5.5"/><circle cx="594.5" cy="642.9" r="5.5"/><circle cx="617.2" cy="661.3" r="5.5"/><circle cx="588.2" cy="644.9" r="5.5"/><circle cx="697.0" cy="525.0" r="5.5"/><circle cx="645.6" cy="616.8" r="5.5"/><circle cx="669.3" cy="722.4" r="5.5"/><circle cx="633.2" cy="648.9" r="5.5"/><circle cx="569.2" cy="637.9" r="5.5"/><circle cx="566.0" cy="572.0" r="5.5"/><circle cx="635.4" cy="586.6" r="5.5"/><circle cx="564.0" cy="450.0" r="5.5"/><circle cx="612.3" cy="648.1" r="5.5"/><circle cx="659.4" cy="672.4" r="5.5"/><circle cx="609.7" cy="697.9" r="5.5"/><circle cx="661.4" cy="645.2" r="5.5"/><circle cx="626.8" cy="624.1" r="5.5"/><circle cx="578.8" cy="629.2" r="5.5"/><circle cx="591.6" cy="683.0" r="5.5"/><circle cx="636.5" cy="652.2" r="5.5"/><circle cx="646.6" cy="639.9" r="5.5"/><circle cx="684.8" cy="658.2" r="5.5"/><circle cx="601.2" cy="695.1" r="5.5"/><circle cx="651.1" cy="623.9" r="5.5"/><circle cx="651.2" cy="639.4" r="5.5"/><circle cx="598.5" cy="684.6" r="5.5"/><circle cx="635.9" cy="577.1" r="5.5"/><circle cx="582.0" cy="636.4" r="5.5"/><circle cx="664.1" cy="658.2" r="5.5"/><circle cx="605.1" cy="697.3" r="5.5"/><circle cx="627.9" cy="632.1" r="5.5"/><circle cx="578.7" cy="609.2" r="5.5"/><circle cx="605.5" cy="634.6" r="5.5"/><circle cx="660.8" cy="688.2" r="5.5"/><circle cx="622.7" cy="707.3" r="5.5"/><circle cx="615.7" cy="607.3" r="5.5"/><circle cx="608.1" cy="610.3" r="5.5"/><circle cx="595.8" cy="658.6" r="5.5"/><circle cx="647.9" cy="666.0" r="5.5"/><circle cx="594.2" cy="616.3" r="5.5"/><circle cx="597.1" cy="579.0" r="5.5"/><circle cx="621.6" cy="578.3" r="5.5"/><circle cx="659.5" cy="652.7" r="5.5"/><circle cx="659.1" cy="710.0" r="5.5"/><circle cx="667.9" cy="654.0" r="5.5"/><circle cx="647.1" cy="667.4" r="5.5"/><circle cx="631.0" cy="585.3" r="5.5"/><circle cx="593.7" cy="645.7" r="5.5"/><circle cx="671.5" cy="652.9" r="5.5"/><circle cx="610.4" cy="677.0" r="5.5"/><circle cx="627.6" cy="716.9" r="5.5"/><circle cx="590.7" cy="577.2" r="5.5"/><circle cx="604.4" cy="653.3" r="5.5"/><circle cx="671.8" cy="670.2" r="5.5"/><circle cx="687.6" cy="670.3" r="5.5"/><circle cx="662.8" cy="607.5" r="5.5"/><circle cx="630.5" cy="711.1" r="5.5"/><circle cx="594.5" cy="586.7" r="5.5"/><circle cx="634.4" cy="647.6" r="5.5"/><circle cx="633.3" cy="611.0" r="5.5"/><circle cx="569.8" cy="669.4" r="5.5"/><circle cx="606.5" cy="666.3" r="5.5"/><circle cx="654.5" cy="670.2" r="5.5"/><circle cx="585.9" cy="668.4" r="5.5"/><circle cx="595.9" cy="657.3" r="5.5"/><circle cx="671.7" cy="659.9" r="5.5"/><circle cx="648.6" cy="616.0" r="5.5"/><circle cx="658.9" cy="668.8" r="5.5"/><circle cx="677.2" cy="653.2" r="5.5"/><circle cx="578.5" cy="666.5" r="5.5"/><circle cx="647.6" cy="620.7" r="5.5"/><circle cx="599.5" cy="638.0" r="5.5"/><circle cx="615.1" cy="673.4" r="5.5"/><circle cx="643.8" cy="671.3" r="5.5"/><circle cx="654.2" cy="652.6" r="5.5"/><circle cx="658.5" cy="666.5" r="5.5"/><circle cx="616.2" cy="587.9" r="5.5"/><circle cx="649.3" cy="669.2" r="5.5"/><circle cx="639.0" cy="566.6" r="5.5"/><circle cx="616.3" cy="674.4" r="5.5"/><circle cx="685.0" cy="661.1" r="5.5"/><circle cx="538.0" cy="517.0" r="5.5"/><circle cx="570.8" cy="669.4" r="5.5"/><circle cx="652.9" cy="694.4" r="5.5"/><circle cx="584.2" cy="677.2" r="5.5"/><circle cx="595.9" cy="620.3" r="5.5"/><circle cx="574.9" cy="654.4" r="5.5"/><circle cx="659.8" cy="702.2" r="5.5"/><circle cx="592.3" cy="580.7" r="5.5"/><circle cx="636.0" cy="604.9" r="5.5"/><circle cx="624.4" cy="613.8" r="5.5"/><circle cx="648.4" cy="651.8" r="5.5"/><circle cx="605.7" cy="611.2" r="5.5"/><circle cx="670.7" cy="716.4" r="5.5"/><circle cx="637.1" cy="684.2" r="5.5"/><circle cx="681.8" cy="673.7" r="5.5"/><circle cx="658.1" cy="659.2" r="5.5"/><circle cx="595.0" cy="649.6" r="5.5"/><circle cx="671.0" cy="647.9" r="5.5"/><circle cx="616.9" cy="608.2" r="5.5"/><circle cx="648.8" cy="602.4" r="5.5"/><circle cx="628.7" cy="687.3" r="5.5"/><circle cx="609.6" cy="682.3" r="5.5"/><circle cx="667.2" cy="670.0" r="5.5"/><circle cx="636.1" cy="613.9" r="5.5"/><circle cx="629.3" cy="630.2" r="5.5"/><circle cx="590.0" cy="652.9" r="5.5"/><circle cx="616.8" cy="612.6" r="5.5"/><circle cx="567.9" cy="638.1" r="5.5"/><circle cx="603.3" cy="654.7" r="5.5"/><circle cx="647.6" cy="629.7" r="5.5"/><circle cx="642.5" cy="669.5" r="5.5"/><circle cx="652.1" cy="651.0" r="5.5"/><circle cx="600.4" cy="597.0" r="5.5"/><circle cx="643.3" cy="683.9" r="5.5"/><circle cx="604.7" cy="641.5" r="5.5"/><circle cx="621.4" cy="700.4" r="5.5"/><circle cx="628.4" cy="721.5" r="5.5"/><circle cx="640.8" cy="600.0" r="5.5"/><circle cx="589.3" cy="655.8" r="5.5"/><circle cx="649.5" cy="687.9" r="5.5"/><circle cx="646.6" cy="648.5" r="5.5"/><circle cx="644.0" cy="708.1" r="5.5"/><circle cx="676.6" cy="647.0" r="5.5"/><circle cx="643.1" cy="599.5" r="5.5"/><circle cx="644.0" cy="672.0" r="5.5"/><circle cx="643.3" cy="706.5" r="5.5"/><circle cx="674.7" cy="702.3" r="5.5"/><circle cx="664.1" cy="733.3" r="5.5"/><circle cx="637.9" cy="604.7" r="5.5"/><circle cx="603.7" cy="663.8" r="5.5"/><circle cx="648.1" cy="659.5" r="5.5"/><circle cx="677.0" cy="659.0" r="5.5"/><circle cx="598.9" cy="661.6" r="5.5"/><circle cx="636.5" cy="617.5" r="5.5"/><circle cx="606.3" cy="686.5" r="5.5"/><circle cx="588.6" cy="657.7" r="5.5"/><circle cx="571.9" cy="584.2" r="5.5"/><circle cx="570.0" cy="580.0" r="5.5"/>
</g>
<g class="c19">
<circle cx="385.6" cy="552.3" r="5.5"/><circle cx="432.5" cy="567.5" r="5.5"/><circle cx="407.4" cy="507.8" r="5.5"/><circle cx="417.1" cy="483.0" r="5.5"/><circle cx="418.2" cy="525.2" r="5.5"/><circle cx="430.1" cy="518.7" r="5.5"/><circle cx="429.2" cy="492.2" r="5.5"/><circle cx="374.2" cy="580.4" r="5.5"/><circle cx="424.7" cy="475.2" r="5.5"/><circle cx="385.3" cy="550.3" r="5.5"/><circle cx="428.5" cy="493.4" r="5.5"/><circle cx="381.5" cy="566.2" r="5.5"/><circle cx="373.3" cy="570.7" r="5.5"/><circle cx="395.9" cy="554.9" r="5.5"/><circle cx="411.5" cy="559.2" r="5.5"/><circle cx="439.7" cy="530.2" r="5.5"/><circle cx="460.7" cy="489.9" r="5.5"/><circle cx="426.1" cy="474.9" r="5.5"/><circle cx="450.0" cy="521.1" r="5.5"/><circle cx="412.2" cy="574.2" r="5.5"/><circle cx="447.9" cy="498.6" r="5.5"/><circle cx="433.3" cy="528.9" r="5.5"/><circle cx="392.8" cy="506.9" r="5.5"/><circle cx="444.8" cy="456.3" r="5.5"/><circle cx="380.6" cy="563.5" r="5.5"/><circle cx="413.6" cy="476.1" r="5.5"/><circle cx="411.7" cy="559.4" r="5.5"/><circle cx="427.8" cy="497.8" r="5.5"/><circle cx="447.3" cy="532.7" r="5.5"/><circle cx="461.8" cy="492.2" r="5.5"/><circle cx="431.8" cy="551.1" r="5.5"/><circle cx="425.0" cy="485.3" r="5.5"/><circle cx="426.1" cy="556.6" r="5.5"/><circle cx="403.4" cy="516.5" r="5.5"/><circle cx="390.0" cy="565.5" r="5.5"/><circle cx="400.1" cy="576.9" r="5.5"/><circle cx="418.9" cy="480.5" r="5.5"/><circle cx="435.0" cy="475.3" r="5.5"/><circle cx="418.0" cy="499.2" r="5.5"/><circle cx="399.6" cy="568.4" r="5.5"/><circle cx="347.0" cy="576.1" r="5.5"/><circle cx="429.4" cy="536.9" r="5.5"/><circle cx="404.4" cy="533.7" r="5.5"/><circle cx="407.4" cy="513.6" r="5.5"/><circle cx="424.0" cy="534.4" r="5.5"/><circle cx="396.1" cy="577.5" r="5.5"/><circle cx="418.0" cy="570.4" r="5.5"/><circle cx="408.0" cy="564.4" r="5.5"/><circle cx="463.1" cy="523.6" r="5.5"/><circle cx="418.1" cy="572.5" r="5.5"/><circle cx="437.7" cy="475.3" r="5.5"/><circle cx="356.0" cy="577.8" r="5.5"/><circle cx="441.4" cy="509.0" r="5.5"/><circle cx="438.0" cy="475.9" r="5.5"/><circle cx="439.2" cy="498.2" r="5.5"/><circle cx="450.3" cy="527.9" r="5.5"/><circle cx="437.5" cy="504.3" r="5.5"/><circle cx="436.5" cy="534.4" r="5.5"/><circle cx="374.2" cy="584.9" r="5.5"/><circle cx="429.4" cy="499.6" r="5.5"/><circle cx="373.4" cy="564.6" r="5.5"/><circle cx="462.0" cy="554.1" r="5.5"/><circle cx="452.6" cy="522.5" r="5.5"/><circle cx="389.1" cy="580.5" r="5.5"/><circle cx="446.9" cy="462.7" r="5.5"/><circle cx="447.8" cy="505.3" r="5.5"/><circle cx="458.7" cy="522.1" r="5.5"/><circle cx="375.4" cy="550.6" r="5.5"/><circle cx="462.9" cy="488.5" r="5.5"/><circle cx="446.6" cy="524.6" r="5.5"/><circle cx="417.7" cy="517.2" r="5.5"/><circle cx="379.2" cy="556.0" r="5.5"/><circle cx="426.1" cy="514.4" r="5.5"/><circle cx="441.7" cy="523.7" r="5.5"/><circle cx="395.7" cy="510.9" r="5.5"/><circle cx="411.2" cy="525.2" r="5.5"/><circle cx="366.5" cy="573.1" r="5.5"/><circle cx="399.8" cy="524.8" r="5.5"/><circle cx="393.3" cy="568.7" r="5.5"/><circle cx="383.0" cy="569.7" r="5.5"/><circle cx="396.2" cy="584.0" r="5.5"/><circle cx="401.6" cy="556.8" r="5.5"/><circle cx="412.2" cy="528.1" r="5.5"/><circle cx="445.2" cy="496.7" r="5.5"/><circle cx="427.4" cy="520.2" r="5.5"/><circle cx="362.8" cy="575.6" r="5.5"/><circle cx="375.6" cy="563.7" r="5.5"/><circle cx="414.1" cy="488.0" r="5.5"/><circle cx="439.1" cy="501.5" r="5.5"/><circle cx="405.3" cy="500.4" r="5.5"/><circle cx="395.4" cy="571.3" r="5.5"/><circle cx="446.4" cy="471.5" r="5.5"/><circle cx="445.4" cy="492.8" r="5.5"/><circle cx="401.9" cy="510.9" r="5.5"/><circle cx="451.9" cy="519.8" r="5.5"/><circle cx="379.3" cy="588.9" r="5.5"/><circle cx="461.0" cy="519.6" r="5.5"/><circle cx="451.7" cy="514.6" r="5.5"/><circle cx="394.5" cy="585.5" r="5.5"/><circle cx="398.3" cy="583.5" r="5.5"/><circle cx="468.9" cy="511.5" r="5.5"/><circle cx="360.2" cy="585.4" r="5.5"/><circle cx="410.5" cy="506.6" r="5.5"/><circle cx="453.4" cy="505.6" r="5.5"/><circle cx="383.5" cy="552.3" r="5.5"/><circle cx="462.5" cy="523.5" r="5.5"/><circle cx="402.6" cy="576.2" r="5.5"/><circle cx="463.1" cy="483.5" r="5.5"/><circle cx="384.7" cy="589.3" r="5.5"/><circle cx="393.8" cy="551.4" r="5.5"/><circle cx="365.4" cy="567.4" r="5.5"/><circle cx="376.1" cy="584.5" r="5.5"/><circle cx="421.5" cy="566.7" r="5.5"/><circle cx="441.1" cy="477.5" r="5.5"/><circle cx="432.2" cy="525.4" r="5.5"/><circle cx="455.6" cy="543.7" r="5.5"/><circle cx="408.4" cy="571.4" r="5.5"/><circle cx="412.8" cy="477.0" r="5.5"/><circle cx="446.1" cy="533.8" r="5.5"/><circle cx="434.9" cy="509.0" r="5.5"/><circle cx="458.7" cy="530.8" r="5.5"/><circle cx="446.1" cy="476.7" r="5.5"/><circle cx="381.0" cy="587.4" r="5.5"/><circle cx="465.0" cy="489.8" r="5.5"/><circle cx="463.5" cy="500.9" r="5.5"/><circle cx="465.0" cy="521.5" r="5.5"/><circle cx="391.3" cy="553.4" r="5.5"/><circle cx="447.5" cy="494.3" r="5.5"/><circle cx="421.1" cy="517.7" r="5.5"/><circle cx="434.7" cy="479.6" r="5.5"/><circle cx="426.9" cy="520.2" r="5.5"/><circle cx="440.0" cy="533.7" r="5.5"/><circle cx="405.8" cy="563.3" r="5.5"/><circle cx="382.1" cy="571.5" r="5.5"/><circle cx="396.0" cy="581.3" r="5.5"/><circle cx="395.2" cy="517.1" r="5.5"/><circle cx="433.0" cy="515.2" r="5.5"/><circle cx="434.1" cy="491.6" r="5.5"/><circle cx="402.3" cy="585.4" r="5.5"/><circle cx="364.6" cy="592.1" r="5.5"/><circle cx="437.0" cy="556.9" r="5.5"/><circle cx="411.8" cy="561.1" r="5.5"/><circle cx="394.6" cy="591.9" r="5.5"/><circle cx="382.1" cy="569.0" r="5.5"/><circle cx="358.9" cy="580.5" r="5.5"/><circle cx="429.9" cy="471.9" r="5.5"/><circle cx="451.9" cy="518.5" r="5.5"/><circle cx="372.5" cy="589.3" r="5.5"/><circle cx="420.6" cy="534.2" r="5.5"/><circle cx="387.2" cy="593.1" r="5.5"/><circle cx="430.4" cy="519.6" r="5.5"/><circle cx="423.5" cy="531.8" r="5.5"/><circle cx="411.0" cy="520.1" r="5.5"/><circle cx="415.9" cy="495.5" r="5.5"/><circle cx="433.0" cy="536.0" r="5.5"/><circle cx="399.9" cy="503.1" r="5.5"/><circle cx="396.9" cy="510.6" r="5.5"/><circle cx="410.1" cy="498.3" r="5.5"/><circle cx="457.7" cy="528.1" r="5.5"/><circle cx="444.5" cy="513.4" r="5.5"/><circle cx="383.0" cy="563.0" r="5.5"/><circle cx="433.1" cy="502.8" r="5.5"/><circle cx="446.6" cy="487.6" r="5.5"/><circle cx="440.9" cy="502.9" r="5.5"/><circle cx="420.2" cy="500.6" r="5.5"/><circle cx="425.8" cy="539.5" r="5.5"/><circle cx="442.8" cy="492.1" r="5.5"/><circle cx="366.3" cy="581.9" r="5.5"/><circle cx="391.7" cy="571.8" r="5.5"/><circle cx="353.5" cy="572.7" r="5.5"/><circle cx="433.6" cy="463.6" r="5.5"/><circle cx="406.9" cy="582.4" r="5.5"/><circle cx="372.9" cy="593.6" r="5.5"/><circle cx="435.7" cy="527.5" r="5.5"/><circle cx="440.2" cy="478.9" r="5.5"/><circle cx="440.5" cy="517.5" r="5.5"/><circle cx="407.1" cy="494.3" r="5.5"/><circle cx="452.6" cy="512.2" r="5.5"/><circle cx="409.8" cy="488.4" r="5.5"/><circle cx="450.8" cy="533.7" r="5.5"/><circle cx="456.8" cy="521.9" r="5.5"/><circle cx="387.7" cy="564.6" r="5.5"/><circle cx="415.6" cy="579.0" r="5.5"/><circle cx="463.0" cy="518.4" r="5.5"/><circle cx="403.5" cy="505.7" r="5.5"/><circle cx="391.3" cy="558.9" r="5.5"/><circle cx="383.9" cy="560.2" r="5.5"/><circle cx="424.1" cy="536.7" r="5.5"/><circle cx="445.5" cy="503.9" r="5.5"/><circle cx="363.7" cy="569.9" r="5.5"/><circle cx="418.7" cy="498.2" r="5.5"/><circle cx="358.7" cy="567.1" r="5.5"/><circle cx="400.5" cy="560.3" r="5.5"/><circle cx="411.2" cy="502.3" r="5.5"/><circle cx="394.4" cy="582.1" r="5.5"/><circle cx="383.3" cy="558.0" r="5.5"/><circle cx="400.7" cy="513.1" r="5.5"/><circle cx="462.7" cy="505.2" r="5.5"/><circle cx="407.2" cy="577.0" r="5.5"/><circle cx="413.7" cy="555.5" r="5.5"/><circle cx="466.4" cy="490.6" r="5.5"/><circle cx="425.8" cy="516.0" r="5.5"/><circle cx="450.2" cy="507.5" r="5.5"/><circle cx="452.8" cy="481.8" r="5.5"/><circle cx="434.9" cy="509.8" r="5.5"/><circle cx="390.6" cy="553.3" r="5.5"/><circle cx="367.5" cy="567.4" r="5.5"/><circle cx="387.1" cy="572.1" r="5.5"/><circle cx="430.5" cy="495.9" r="5.5"/><circle cx="379.8" cy="569.6" r="5.5"/><circle cx="419.1" cy="570.4" r="5.5"/><circle cx="432.1" cy="511.3" r="5.5"/><circle cx="365.2" cy="568.3" r="5.5"/><circle cx="418.1" cy="547.6" r="5.5"/><circle cx="469.4" cy="510.0" r="5.5"/><circle cx="360.1" cy="577.7" r="5.5"/><circle cx="426.8" cy="508.1" r="5.5"/><circle cx="419.7" cy="559.1" r="5.5"/><circle cx="427.9" cy="510.9" r="5.5"/><circle cx="353.0" cy="557.9" r="5.5"/><circle cx="432.2" cy="497.4" r="5.5"/><circle cx="452.4" cy="521.5" r="5.5"/><circle cx="471.9" cy="517.5" r="5.5"/><circle cx="437.4" cy="491.4" r="5.5"/><circle cx="450.8" cy="510.0" r="5.5"/><circle cx="415.3" cy="560.7" r="5.5"/>
</g>
<rect x="174.2" y="21.4" width="914.7" height="870.7" fill="none" stroke="#000" stroke-width="1.5"/>
<path d="M278.3 892.1v15M446.7 892.1v15M615.1 892.1v15M783.6 892.1v15M952 892.1v15M174.2 81.2h-15M174.2 244.9h-15M174.2 408.6h-15M174.2 572.3h-15M174.2 736h-15" stroke="#000" stroke-width="1.5" fill="none"/>
<g class="ax">
<text x="278.3" y="944.3" text-anchor="middle">-40</text>
<text x="446.7" y="944.3" text-anchor="middle">-20</text>
<text x="615.1" y="944.3" text-anchor="middle">0</text>
<text x="783.6" y="944.3" text-anchor="middle">20</text>
<text x="952" y="944.3" text-anchor="middle">40</text>
<text transform="translate(137.5 82) rotate(-90)" text-anchor="middle">40</text>
<text transform="translate(137.5 245.7) rotate(-90)" text-anchor="middle">20</text>
<text transform="translate(137.5 409.4) rotate(-90)" text-anchor="middle">0</text>
<text transform="translate(137.5 573.1) rotate(-90)" text-anchor="middle">-20</text>
<text transform="translate(137.5 736.8) rotate(-90)" text-anchor="middle">-40</text>
<text x="630" y="973.2" text-anchor="middle">tSNE_1</text>
<text transform="translate(108.3 457.5) rotate(-90)" text-anchor="middle">tSNE_2</text>
</g>
<g class="lb">
<text x="656" y="153">Inflammatory</text>
<text x="656" y="186.7">macrophages</text>
<text x="862" y="221">Hepatocytes 3</text>
<text x="463.5" y="235">αβ T cells</text>
<text x="272" y="300">NK-like cells</text>
<text x="644" y="283">Non-inflammatory</text>
<text x="644" y="316.7">macrophages</text>
<text x="917" y="307.3">Hepatic stellate</text>
<text x="917" y="341.4">cells</text>
<text x="1023.7" y="346.6">Portal</text>
<text x="1023.7" y="381.1">endothelial</text>
<text x="1023.7" y="415.7">cells</text>
<text x="752" y="361">Central venous</text>
<text x="752" y="394.7">LSECs</text>
<text x="546" y="383">Erythroid cells</text>
<text x="447" y="413">γδ T cells 2</text>
<text x="324" y="441">γδ T cells 1</text>
<text x="890" y="413">Periportal</text>
<text x="890" y="446.7">LSECs</text>
<text x="627" y="475">Hepatocytes 2</text>
<text x="892" y="494">Hepatocytes 6</text>
<text x="412" y="544">Plasma cells</text>
<text x="789" y="570">Hepatocytes 1</text>
<text x="627" y="686">Hepatocytes 4</text>
<text x="432.5" y="713.5">Hepatocytes 5</text>
<text x="861" y="695">Mature B</text>
<text x="861" y="728.7">cells</text>
<text x="538" y="837">Cholangiocytes</text>
</g>
</svg>
</body></html>
